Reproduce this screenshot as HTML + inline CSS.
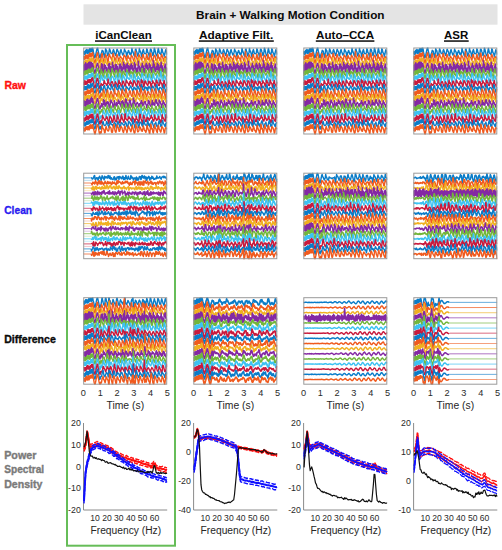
<!DOCTYPE html>
<html><head><meta charset="utf-8"><style>
html,body{margin:0;padding:0;background:#fff;width:502px;height:550px;overflow:hidden}
svg text{font-family:"Liberation Sans",sans-serif}
</style></head><body>
<svg width="502" height="550" viewBox="0 0 502 550" style="position:absolute;left:0;top:0">
<rect x="83.5" y="4.3" width="414" height="20.4" fill="#e4e4e4"/>
<text x="290.3" y="19" font-size="11.8" font-weight="bold" text-anchor="middle" fill="#0a0a0a" textLength="188.5" lengthAdjust="spacingAndGlyphs">Brain + Walking Motion Condition</text>
<text x="123.5" y="38.6" font-size="10.8" font-weight="bold" text-anchor="middle" fill="#0a0a0a" textLength="56.4" lengthAdjust="spacingAndGlyphs">iCanClean</text>
<rect x="95" y="40.3" width="57" height="1.5" fill="#0a0a0a"/>
<text x="236.2" y="38.6" font-size="10.8" font-weight="bold" text-anchor="middle" fill="#0a0a0a" textLength="74.3" lengthAdjust="spacingAndGlyphs">Adaptive Filt.</text>
<rect x="198.8" y="40.3" width="75" height="1.5" fill="#0a0a0a"/>
<text x="345.1" y="38.6" font-size="10.8" font-weight="bold" text-anchor="middle" fill="#0a0a0a" textLength="58.1" lengthAdjust="spacingAndGlyphs">Auto&#8211;CCA</text>
<rect x="315.8" y="40.3" width="58.6" height="1.5" fill="#0a0a0a"/>
<text x="456.1" y="38.6" font-size="10.8" font-weight="bold" text-anchor="middle" fill="#0a0a0a" textLength="24.3" lengthAdjust="spacingAndGlyphs">ASR</text>
<rect x="444" y="40.3" width="24.7" height="1.5" fill="#0a0a0a"/>
<g font-weight="bold" stroke-width="0.35">
<text x="4.4" y="88.6" font-size="11" fill="#ff1010" stroke="#ff1010" textLength="21.5" lengthAdjust="spacingAndGlyphs">Raw</text>
<text x="4.2" y="213.7" font-size="10.6" fill="#2a1cf0" stroke="#2a1cf0" textLength="27.9" lengthAdjust="spacingAndGlyphs">Clean</text>
<text x="4.2" y="342.8" font-size="10.3" fill="#0a0a0a" stroke="#0a0a0a" textLength="51.6" lengthAdjust="spacingAndGlyphs">Difference</text>
<text x="4.2" y="458.6" font-size="10.3" fill="#7a7a7a" stroke="#7a7a7a" textLength="32.2" lengthAdjust="spacingAndGlyphs">Power</text>
<text x="4.2" y="473.1" font-size="10.3" fill="#7a7a7a" stroke="#7a7a7a" textLength="40" lengthAdjust="spacingAndGlyphs">Spectral</text>
<text x="4.2" y="487.6" font-size="10.3" fill="#7a7a7a" stroke="#7a7a7a" textLength="38.2" lengthAdjust="spacingAndGlyphs">Density</text>
</g>
<path d="M84.2 180.4H92.7" stroke="#0a7cc8" stroke-opacity="0.3" stroke-width="0.9"/>
<path d="M84.2 185.5H92.7" stroke="#f05a1e" stroke-opacity="0.3" stroke-width="0.9"/>
<path d="M84.2 190.6H92.7" stroke="#f0b020" stroke-opacity="0.3" stroke-width="0.9"/>
<path d="M84.2 195.7H92.7" stroke="#8428a4" stroke-opacity="0.3" stroke-width="0.9"/>
<path d="M84.2 200.7H92.7" stroke="#72b63a" stroke-opacity="0.3" stroke-width="0.9"/>
<path d="M84.2 205.8H92.7" stroke="#3cc2f2" stroke-opacity="0.3" stroke-width="0.9"/>
<path d="M84.2 210.9H92.7" stroke="#c81a3c" stroke-opacity="0.3" stroke-width="0.9"/>
<path d="M84.2 215.9H92.7" stroke="#0a7cc8" stroke-opacity="0.3" stroke-width="0.9"/>
<path d="M84.2 221.0H92.7" stroke="#f05a1e" stroke-opacity="0.3" stroke-width="0.9"/>
<path d="M84.2 226.1H92.7" stroke="#f0b020" stroke-opacity="0.3" stroke-width="0.9"/>
<path d="M84.2 231.2H92.7" stroke="#8428a4" stroke-opacity="0.3" stroke-width="0.9"/>
<path d="M84.2 236.2H92.7" stroke="#72b63a" stroke-opacity="0.3" stroke-width="0.9"/>
<path d="M84.2 241.3H92.7" stroke="#3cc2f2" stroke-opacity="0.3" stroke-width="0.9"/>
<path d="M84.2 246.4H92.7" stroke="#c81a3c" stroke-opacity="0.3" stroke-width="0.9"/>
<path d="M84.2 251.5H92.7" stroke="#0a7cc8" stroke-opacity="0.3" stroke-width="0.9"/>
<svg x="83.2" y="47.5" width="84.0" height="87.0" viewBox="83.2 47.5 84.0 87.0" overflow="hidden"><g fill="none" stroke-linejoin="round"><path stroke="#0a7cc8" stroke-width="1.4" d="M83.2 54.1l.5-2.5.5 3.2.5-3.3.5 2.6.5-3.9.5 2.7.5-3.4.5 3.8.5-3.3.5 3.2.5-3.3.5 2.6.5-4.1.5 3.6.5-3.4.5 3.1.4-3.4.5 2.9.5-3.4.5 1.9.5 3.6.5 1.8.5 2.6.5-.3.5-2 .5-2.4.5-2.5.5-2.1.5-1.1.5 3.3.5 2 .5 2.4.5 2.5.5 .2.5-2.5.5-1.5.5-1.1.5-2.3.5 .4.5 .4.5 3 .5 1.3.5 1.9.5-3.6.5-5.1.5 1.3.5 .6.5 2.3.5 2.7.5-.8.4-.2.5-2.7.5-3.1.5 1.3.5 1.5.5 1.9.5 .2.5-.3.5 .6.5-3.3.5-1 .5 1.3.5 2 .5 .5.5 1.9.5-.7.5-3.3.5-2.2.5 1 .5 1.3.5 .9.5 3.4.5 .1.5-2.1.5-3.3.5-.9.5 2.2.5 1 .5 2 .5 .4.5-1 .5-1.9.5-3.2.5 1.8.4 .2.5 .9.5 2.6.5 2.1.5-3.8.5-.5.5-1.8.5 .5.5 3 .5-1 .5 1.9.5 0 .5-1.9.5-4.9.5 2.5.5 1.3.5 1.1.5 2.2.5 1 .5-1.5.5-5.2.5-.6.5 2.5.5 .7.5 3 .5 1 .5-2 .5-1.7.5-4.2.5 3.5.5-.6.5 1.9.5 2.5.5 1.4.4-3.2.5-3 .5-1.2.5 1.7.5 2.4.5 0 .5 0 .5 .2.5-1.6.5-3.5.5 1 .5 2.9.5 .5.5 1.4.5 2.8.5-3.1.5-4.5.5-.7.5 1 .5 1.9.5 1.2.5 2.4.5-.3.5-2.5.5-5 .5 1.6.5 2 .5 2.4.5 1.4.5 .8.5-.7.5-4.3.5-2.7.5 2.3.4 2 .5 1 .5-.1.5 1.1.5-1.7.5-4.1.5 .8.5 2.6.5 1.1.5 .9.5 2.3.5-1.9.5-2.5.5-2.2.5 .8.5 1.8.5 2.2"/><path stroke="#f05a1e" stroke-width="1.4" d="M83.2 59.6l.5-3.2.5 3.3.5-3 .5 2.3.5-4 .5 3.1.5-2.8.5 3.5.5-3.9.5 3.7.5-3.8.5 2.1.5-3.6.5 3.6.5-3.3.5 3.4.4-3.6.5 2.4.5-3.3.5 2.7.5 2.6.5 2.5.5 2.3.5 .6.5-2.8.5-2.2.5-2.6.5-2.4.5-.4.5 2.6.5 2.2.5 2.5.5 2.5.5 .4.5-2.9.5-1.8.5-3.7.5-1.2.5 2.5.5 3.2.5 1.4.5 2.1.5-2 .5-3.1.5-2.7.5 1 .5 .2.5 3.7.5 3.6.5 2.1.4-7 .5-3.6.5-.6.5 2.3.5 .5.5 1.3.5 1.2.5 1 .5-4.1.5-2.9.5 .4.5 3.2.5 1.2.5 2.7.5 1.1.5-3.8.5-2.7.5-1.3.5 2.1.5 1.2.5 3 .5 .6.5-2.9.5-.7.5-1.5.5 1.5.5 .2.5 .7.5 2.1.5 2.2.5-4.1.5-3.7.5 .4.5 1.2.4-.4.5 2.5.5 1.9.5 .3.5-4.4.5-1 .5 1.1.5 1.7.5-.2.5 1 .5 2.7.5-4.2.5-2.5.5 1.2.5 .5.5 1 .5 2.4.5 1.1.5 0 .5-4.5.5-5.5.5 4.7.5 .8.5 1.7.5 1.7.5 2.5.5-5 .5-2.8.5 .3.5 1.7.5 .6.5 .5.5 2 .5-.2.4-2.6.5-2.6.5-.2.5 3.1.5 .9.5 1 .5 3.4.5-3.3.5-3.4.5-2 .5 2.3.5 2.9.5-1.3.5 1.4.5 1.3.5-4.1.5-3.4.5 .2.5 3.3.5 2.7.5 1.7.5-.6.5-1.9.5-2.2.5-.7.5-.5.5 1.8.5 3.1.5 .6.5 0 .5-2.5.5-4 .5 1.7.5 2.3.4-.6.5 2.5.5 .9.5-1.3.5-4.4.5-.9.5 1.3.5 1.6.5 1.9.5 1.9.5-1.8.5-1.8.5 .3.5-1.2.5 1 .5 .2.5 1.9"/><path stroke="#f0b020" stroke-width="1.4" d="M83.2 65.7l.5-3.8.5 3 .5-3.6.5 2.5.5-3.7.5 3.3.5-3.1.5 3.6.5-3.7.5 3 .5-3.4.5 2.3.5-3.8.5 3.9.5-3.3.5 3.2.4-3.8.5 2.8.5-3 .5 2.4.5 2.2.5 2.5.5 1.9.5 .4.5-2.7.5-2 .5-2 .5-2.5.5-.4.5 2.4.5 2.4.5 2.9.5 1.7.5 .7.5-2.6.5-3.7.5-2.3.5 .5.5 1.8.5 3.3.5 1.5.5-2.8.5-.8.5-4.3.5 2.9.5 1.5.5 .2.5 1.4.5 .6.5-3.1.4-.1.5 0 .5 0 .5-.2.5 2.7.5 .3.5-.5.5-2.8.5-3.8.5 3 .5 .8.5 2.4.5 1.2.5 1.3.5-2.5.5-3.4.5-.7.5 .8.5 2.6.5 1.2.5 .2.5-.3.5-1.8.5-3.4.5 .9.5 1.5.5 1.4.5 2.4.5-.5.5 .1.5-4.4.5 .4.5 1.7.5 .3.4 1.1.5 1.3.5-.1.5-2.2.5-2.9.5 .9.5 2.2.5 .9.5 0 .5 1.4.5-1.6.5-1.4.5-1.5.5 1.3.5 0 .5 1.4.5 2 .5-.9.5-2.7.5-2.5.5 .9.5 1.2.5 3.1.5-.6.5 .9.5 .7.5-6.5.5-1.9.5 3.5.5 1.7.5 1.8.5 1.5.5-.2.5-2.9.4-1.8.5 .2.5 .3.5 1.6.5 1.9.5 1.4.5-1.9.5-3.5.5-1.7.5 2 .5 1.1.5 .9.5 1.3.5 1.3.5-4.2.5-1.3.5-.4.5 1.5.5 2.7.5 1.2.5 .3.5-.9.5-2.3.5-2 .5 .4.5 2.6.5-.7.5 4.3.5-2 .5-2.9.5-2.7.5 1.1.5 2 .5 .7.4 .8.5 1.2.5-2 .5-2.5.5-1 .5 .1.5 3.6.5-.1.5 .6.5 1.7.5-2.4.5-4.9.5 .8.5 1.7.5 1.9.5 0 .5 2.4"/><path stroke="#8428a4" stroke-width="1.4" d="M83.2 73.7l.5-8 .5 4.9.5-6.4.5 6.4.5-7.8.5 7.6.5-6.3.5 6.8.5-7.2.5 5.7.5-7 .5 6.7.5-7.1.5 6 .5-5.9.5 7.2.4-6.6.5 5.8.5-5.1.5 2 .5 2.6.5 2.5.5 2.7.5 0 .5-3 .5-1.6.5-2.8.5-2.1.5-.5.5 2.3.5 2.1.5 2.9.5 2.6.5-.4.5-2.4.5-2.6.5-3.9.5 7.2.5-6.6.5 8.6.5-2.3.5 .4.5-6.7.5 3.7.5-2.4.5 4.8.5-2.9.5 4.6.5-3.1.5 1.4.4-6.3.5 5.2.5-5.9.5 7.7.5-4.5.5 7.7.5-7.4.5 .6.5-5.5.5 7.1.5-3.7.5 7.2.5-3.5.5 1.5.5-6.3.5 5.2.5-4.9.5 4.9.5-3.1.5 7 .5-3.4.5 .3.5-6 .5 3.7.5-4.2.5 6.5.5-4 .5 6.9.5-5.3.5 1.6.5-7.3.5 6.1.5-4 .5 6.9.4-5.2.5 6.1.5-7.4.5 2.4.5-4 .5 5.8.5-3.2.5 7.5.5-6.9.5 6.5.5-7.7.5 3.5.5-5.1.5 5.4.5-3.2.5 5.2.5-2.3.5 3.3.5-9.5.5 5.6.5-3.9.5 7.5.5-3.2.5 4 .5-4.6.5 3.6.5-10.4.5 6.7.5-1.7.5 5.4.5-3.2.5 3.5.5-5.5.5 1.4.4-4.4.5 4.5.5-1.9.5 6.4.5-3.5.5 4.3.5-8 .5 1.4.5-3.4.5 5.3.5-3.4.5 4.9.5-1.1.5 2.8.5-8.1.5 3.5.5-2.1.5 5.8.5-3.2.5 5 .5-5.6.5 4.2.5-10.3.5 6.9.5-3.5.5 7 .5-3.1.5 3.8.5-5.2.5 2.7.5-6.2.5 6.6.5-5.3.5 6.5.4-3.7.5 6 .5-7.8.5 1.6.5-5 .5 9 .5-5.4.5 5.8.5-1.6.5 2.3.5-5.4.5-.2.5-2.7.5 7.7.5-4 .5 7.3.5-7.1"/><path stroke="#72b63a" stroke-width="1.4" d="M83.2 76.1l.5-4 .5 3 .5-3.9.5 3.3.5-3.7.5 2.7.5-2.8.5 3.4.5-4.2.5 3.3.5-4.2.5 3.4.5-3 .5 2.9.5-2.7.5 3 .4-4.3.5 2.7.5-3.4.5 3 .5 2.4.5 2.5.5 2.4.5 .5.5-2.5.5-2.8.5-1.9.5-2.9.5 0 .5 2.2.5 2.1.5 2.5.5 3.2.5-.2.5-2.8.5-6 .5 3.2.5-.9.5 3 .5 2 .5 .5.5-2.8.5-3.8.5-.1.5 1.6.5 1.1.5 2.3.5 2.3.5-2.9.5-3.6.4-1.7.5 1.5.5 1.5.5 .9.5 1.6.5 4.1.5-6.1.5-4.6.5 2.2.5 .5.5 2.7.5 .9.5 2.2.5-3 .5-2 .5-1.8.5 .7.5 2 .5 2.7.5 2.2.5-1.9.5-3 .5-3 .5 1 .5 .1.5 2.4.5 2.4.5 2.9.5-2.9.5-4.5.5 0 .5 .3.5 2.9.5-.4.4 1.7.5-.2.5-1.9.5-4.1.5 .9.5 2.4.5 .6.5 .7.5 1.4.5 .4.5-4.2.5-.6.5 1.2.5 1.3.5-1.2.5 .7.5 4.9.5-5.9.5-1.5.5 0 .5 1.3.5 1.4.5 .6.5 2.5.5-1.7.5-2.2.5-.2.5-.3.5 1.3.5 2 .5 0 .5 1.8.5-4 .5-4.7.4 .5.5 3 .5 2.5.5 .3.5 1 .5-1.2.5-2.1.5-3.1.5 1.5.5 1.4.5 2.8.5 2.5.5 .3.5-4.9.5-4 .5 1.3.5 2.7.5 .2.5 4.6.5 .3.5-1.8.5-4.4.5-3.2.5 2.4.5 1.7.5 .7.5 1.1.5 .7.5-.9.5-1.3.5-1.9.5-.2.5 2.1.5 .7.4 2.5.5-.7.5-3.5.5-3.3.5 1.6.5 1.6.5 3.3.5 0 .5 3.8.5-4.3.5-4.6.5-1.3.5 2.9.5 1.3.5 .8.5 2.3.5-1.5"/><path stroke="#3cc2f2" stroke-width="1.4" d="M83.2 80.9l.5-3.8.5 2.6.5-3.7.5 3 .5-2.9.5 2.9.5-2.9.5 3 .5-3.3.5 2.3.5-3.9.5 3.2.5-2.6.5 2.7.5-3.2.5 2.8.4-3.9.5 2.8.5-2.8.5 2.2.5 3.1.5 2 .5 2.3.5 .1.5-2 .5-2.2.5-2.8.5-1.7.5-.3.5 2 .5 2.5.5 2.1.5 2.7.5-.5.5-2.4.5-5 .5 .9.5 1.1.5 2.8.5 .3.5 .2.5-1.9.5-3.1.5 .5.5 2 .5 .2.5 1.3.5 1 .5-1.6.5-1.6.4-3.2.5 3.1.5 0 .5 2.9.5 3.9.5-3.1.5-3.6.5-1.1.5 0 .5 .9.5 1 .5 1.8.5 2.2.5-2.4.5-2.1.5-2.7.5 1.6.5 .7.5 3.9.5 1.7.5 1.6.5-7.1.5-3.8.5 .1.5 2.9.5 2.4.5 1.3.5 2.2.5-3.2.5-4.1.5 .6.5 .9.5 1.8.5 1 .4 2.4.5 .8.5-4.9.5-5.2.5 5.1.5 .5.5-.2.5 1.3.5 .1.5-.4.5-3.6.5-.5.5 .3.5 3.2.5 1.5.5 2.7.5-.2.5-4.2.5-4 .5 1.4.5 1.7.5 2.4.5 1.6.5 .5.5-2.5.5-2.6.5-.3.5 2 .5-.2.5 2.1.5 1 .5 .9.5-5.1.5-3.6.4 .2.5 1.2.5 3.5.5 2.2.5 2.9.5-3.9.5-2 .5-3 .5 2 .5 1.1.5 1.6.5 2.6.5 .6.5-5 .5-3.6.5 2.2.5 1.1.5 1.2.5 2.6.5 .3.5-2.2.5-2.6.5-2.6.5 1.9.5 2.6.5 .5.5 1.5.5 1.4.5-3.2.5-3 .5-.5.5 2 .5 1.3.5 2.5.4 2.4.5-3.6.5-3.2.5-5.1.5 3.2.5 1.8.5 3.9.5 .6.5 0 .5-.9.5-3.7.5-.5.5 .8.5 2.2.5 1.5.5 3 .5-2.9"/><path stroke="#c81a3c" stroke-width="1.4" d="M83.2 85.5l.5-3.4.5 2.7.5-4.1.5 3.7.5-3.2.5 3.2.5-3 .5 2.4.5-3.9.5 2.7.5-3 .5 2.8.5-2.9.5 3.6.5-3.5.5 2.5.4-3.9.5 2.4.5-2.8.5 2.7.5 2.3.5 2.6.5 2.5.5 .2.5-2.3.5-2.4.5-2.5.5-2.4.5-.1.5 2.3.5 2.9.5 2.2.5 2 .5 .8.5-2.7.5-2.4.5 1.5.5-.6.5 1 .5-.2.5-1.3.5-3.3.5 1 .5 1.9.5 .1.5 0 .5 1.6.5-.1.5-1.9.5-4.3.4 3 .5 1.3.5 1.2.5 .8.5 .7.5-2.9.5-.8.5-.7.5 .7.5 1.7.5 1.8.5 .5.5-.9.5-2.2.5-1.5.5 1.5.5 .3.5 1.6.5 1.9.5-.6.5-3.2.5-2.8.5 3 .5-.8.5 .9.5 2.4.5-.2.5 1.2.5-4.9.5-.9.5 .5.5 1.7.5 1.6.5 1.5.4-.3.5-3 .5-2.7.5 1.1.5 1 .5 .7.5 .2.5 2.3.5-.6.5-3.3.5-.9.5 2.4.5-.6.5 1.1.5 2.5.5 0 .5-2.7.5-2.8.5 .2.5 1.1.5 1.3.5 1.7.5 1.2.5-.4.5-2.7.5-2.5.5 .9.5-.1.5 3.5.5 1.2.5 1.5.5-3 .5-5 .5 .8.4 2 .5-1.3.5 4.6.5 1.3.5-1.8.5-3.6.5-.7.5 .5.5 2.2.5 .3.5 1.2.5 .6.5-2.1.5-2.5.5 .4.5 1.6.5-1.1.5 3.6.5 2 .5-3.8.5-.5.5-2.6.5 1.7.5 .5.5 .3.5 2.4.5 1.1.5-2.5.5-3.9.5-.1.5 2.6.5-.4.5 2.9.5-.4.4 .8.5-1.4.5-4.3.5 1.8.5 1.3.5 .3.5 3 .5 1.2.5-3.7.5-1.7.5-1.7.5 3.4.5 .4.5 .7.5 1.8.5-2 .5-2.9"/><path stroke="#0a7cc8" stroke-width="1.4" d="M83.2 90.9l.5-4 .5 2.9.5-3.6.5 3.3.5-2.7.5 2.8.5-3.5.5 3.3.5-4.6.5 3.2.5-3.2.5 3.2.5-2.5.5 2.5.5-4.2.5 3.7.4-3.5.5 1.9.5-2.6.5 2.7.5 2.2.5 2.5.5 2 .5 .3.5-1.6.5-2.8.5-2.1.5-3 .5 .1.5 2.6.5 2.1.5 2.5.5 2 .5-.2.5-2.1.5-4.2.5 2.3.5 1.3.5 .3.5 .9.5-4.6.5 .1.5-1.1.5 3.1.5 .4.5 2.2.5 3 .5-4.3.5-4.3.5 .1.4 1.7.5 .8.5 .3.5 .6.5 .8.5-1.5.5-3.6.5 1.2.5 1 .5 2.8.5-.1.5 2.2.5-2.6.5-4 .5-.7.5 2 .5 1.5.5 1.3.5 .4.5 .6.5-2.9.5-2.4.5 1.3.5 2.3.5 0 .5 1.2.5 1.1.5-1.5.5-3.6.5-.2.5 2.1.5 2 .5 1 .5 .1.4-.3.5-2.4.5-2 .5 1.7.5-.3.5 1 .5 .3.5 1.4.5-1.2.5-1.5.5-1.7.5 .6.5 .8.5 1.5.5 1.4.5 1.5.5-2 .5-2.5.5 .3.5 .1.5 1.9.5-.5.5 .9.5 .5.5-4.5.5 .4.5 .6.5 1.9.5-.2.5 3.3.5-.2.5-3.1.5-4.2.5 1.7.4 .3.5 3.4.5-.3.5 1 .5-.7.5-2.6.5-.3.5 .5.5 1.4.5-1.4.5 3.3.5-.1.5-3.1.5-1 .5 1.4.5-.9.5 1.8.5 .6.5 2.3.5-3.3.5-1.2.5-1.3.5 1.2.5 .4.5 1.5.5 1.3.5 .8.5-2.8.5-2.4.5-1.3.5 2.2.5 2 .5 1.8.5 1.5.4-2.9.5-1.6.5-.2.5 .5.5 .1.5 1.3.5 1 .5 2.7.5-4.3.5-4 .5 .7.5 2.8.5 1.4.5 2.1.5 1.2.5-3.4.5-2.7"/><path stroke="#f05a1e" stroke-width="1.4" d="M83.2 95.6l.5-3.7.5 3 .5-2.9.5 3.5.5-3.7.5 3.2.5-3.7.5 2.1.5-4.1.5 4.1.5-3 .5 3 .5-3.3.5 3.2.5-4.2.5 2.9.4-3.6.5 3.4.5-3.4.5 2.2.5 2.5.5 2.8.5 2.5.5 .5.5-3.1.5-2.4.5-2.3.5-2 .5-.3.5 2 .5 2.8.5 2.3.5 2.5.5 0 .5-2.7.5-2.8.5 2.7.5 .7.5-.9.5-4.1.5-1.9.5 1.9.5 2.6.5 .4.5 2 .5 .7.5-2.5.5-3.8.5-.8.5 3.8.4 .4.5 1.7.5 1.8.5-2.1.5-3.2.5-1 .5 .9.5 2.1.5 1.2.5 2.3.5 1 .5-4.1.5-6.6.5 4.1.5 1.6.5-.2.5 1.7.5 1.1.5-.7.5-4.2.5-.8.5 1.3.5 2.1.5 1.1.5 1 .5 2.1.5-4.6.5-4.2.5 .7.5 2.6.5 1.8.5 .1.5 1.8.5-2.3.4-2.9.5-2.7.5 2.5.5 2.1.5 .9.5 3.3.5-1.2.5-1.5.5-3.3.5-.8.5 .7.5 2.8.5 2.1.5 .2.5 0 .5-4.8.5-.8.5 .2.5 2.9.5 1.3.5 .8.5 1 .5-2.8.5-4 .5 .6.5 1.5.5 2.3.5-.5.5 1.8.5 .7.5-5.5.5-3.5.5 3.2.5 1.6.4 1.6.5 1.7.5 4 .5-5.9.5-2.9.5-.8.5 1.7.5 3.1.5 .3.5 1.8.5-3.1.5-2.2.5 .1.5 .5.5 2 .5 .1.5 .3.5 2.8.5-5.3.5-3.3.5 1 .5 .8.5 2.2.5 3 .5 1.9.5-.1.5-6.7.5-2.2.5 3 .5 1.8.5 1.5.5 1.1.5 1.5.5-3.2.4-3.8.5 .1.5 1 .5 1.6.5 3.4.5 1.8.5-3.7.5-2.6.5-3.2.5 .9.5 1.9.5 2.6.5 2.6.5 2.6.5-6 .5-3 .5-1.7"/><path stroke="#f0b020" stroke-width="1.4" d="M83.2 100.7l.5-3.7.5 3.3.5-3.8.5 3.5.5-3.2.5 3.5.5-4.7.5 3.1.5-3.4.5 3.1.5-3.4.5 3.6.5-2.9.5 2.4.5-3.6.5 2.4.4-2.7.5 2.6.5-3.5.5 2.6.5 2.4.5 2.7.5 2.3.5 .2.5-1.4.5-3.4.5-2.5.5-2.4.5 .3.5 2.3.5 2.1.5 2.3.5 3.3.5-1 .5-2.4.5-2.6.5 1.3.5 .9.5 .7.5-4.4.5-3.5.5 2 .5 3.2.5 1 .5 2 .5 1 .5-2.2.5-4.9.5-2 .5 2.4.4 2.1.5 2.5.5 1.2.5 0 .5-3.2.5-3.3.5 1.6.5 .6.5 1.9.5 1.7.5 .9.5-2.7.5-1.6.5 0 .5 1.3.5 1.2.5-.2.5 1.4.5 .3.5-3.1.5-5.5.5 2.7.5 1.2.5 2.3.5 2.4.5-1.5.5-.9.5-1.9.5-.9.5 .9.5 2.1.5 1.6.5 1.4.5-.9.4-3 .5-3.8.5 2.4.5 .9.5 0 .5 2.8.5-.1.5-.5.5-.3.5-1.8.5 .5.5 .9.5-.1.5 1 .5-.8.5-1.6.5-2.4.5 .3.5 3 .5 .7.5 1.3.5 1.1.5-3.8.5-.7.5-2.3.5 3.4.5 .7.5-.5.5 .7.5 1.5.5-2.5.5-2.9.5 1.4.5 1.8.4 1.4.5 1.6.5 2.2.5-2.6.5-6 .5 .1.5 1.9.5 2.6.5-1.8.5 3.2.5-.8.5-1.9.5-1 .5-1.5.5 1.3.5 1.2.5 3.1.5 2.2.5-4.1.5-3.7.5-1.4.5 .8.5 2.2.5 2.5.5 2.8.5-1.4.5-2.6.5-4.3.5 1.5.5 .5.5 2.3.5 .2.5 2.5.5-4.2.4 0 .5-2.9.5 .5.5 3.4.5 .8.5 1.8.5 1.3.5-3 .5-2.9.5 1.6.5-.2.5 1.8.5 .6.5 1.9.5-1.6.5-3.4.5-1.5"/><path stroke="#8428a4" stroke-width="1.4" d="M83.2 106.6l.5-5.6.5 4.5.5-4.5.5 5.7.5-4.9.5 3.7.5-5.9.5 5 .5-5.7.5 5.4.5-4.1.5 3.8.5-4.1.5 3.8.5-5 .5 3.2.4-4.6.5 5 .5-3.5.5 2.5.5 2.5.5 2.3.5 2.3.5 .2.5-2 .5-3.2.5-2 .5-2.5.5-.4.5 2.5.5 2.6.5 2.8.5 2.4.5 .1.5-2.9.5-.2.5-2.3.5 3.7.5-2.2.5-1.1.5-4.4.5 5.4.5-4.1.5 5.7.5-3.2.5 2.2.5-3.2.5 1.8.5-2.5.5 1.8.4-1.2.5 4.8.5 .9.5-2.1.5-4.2.5-1.6.5 1.5.5 1.4.5 .1.5 4.3.5-1.9.5 1 .5-5.7.5 5.2.5-1.6.5 1.1.5-3 .5 3.8.5-2.3.5-.7.5-3.3.5 3.4.5-1.9.5 3.3.5-.7.5 2.8.5-5.2.5 2.3.5-3.3.5 4 .5-2.5.5 4.9.5-1.9.5 2.1.4-7.3.5-1.1.5 1.1.5 4.2.5-1.3.5 4.6.5 .4.5-3.3.5-3.5.5-1.1.5 .8.5 5.1.5-.5.5 1.7.5-3.5.5 1.4.5-6.9.5 5.3.5-2.8.5 3.2.5 1.9.5 .9.5-3.2.5 .1.5-1 .5 1.2.5 .9.5 2.4.5-3.2.5 2.2.5-2.2.5-1.7.5-1.6.5 3.8.4-1.7.5 3.5.5-1 .5-.1.5-3 .5 .6.5-1.2.5 2.9.5 .8.5 3 .5-3.4.5 1 .5-5.4.5 3 .5-2.1.5 3.5.5 1.1.5 .5.5-1.2.5-1.1.5-3.7.5 5.1.5-2.7.5 1.7.5-.7.5 1.9.5-3.8.5-2 .5 0 .5 3.6.5-.6.5 2.9.5-.4.5 1.1.4-6.4.5 1.2.5 .5.5 2.3.5 .7.5 3.1.5-3.9.5 .8.5-3.9.5 2.3.5-.3.5 2.2.5-.1.5 2.2.5-3 .5-1.2.5-2.6"/><path stroke="#72b63a" stroke-width="1.4" d="M83.2 111l.5-4.5.5 3.1.5-2.5.5 3.6.5-3.5.5 3.1.5-4.2.5 3 .5-3.7.5 3.2.5-3.7.5 4 .5-3.3.5 3 .5-3.8.5 2.3.4-2.9.5 3.2.5-3.8.5 2.6.5 2.2.5 1.8.5 3.5.5-.1.5-1.9.5-2.7.5-2.2.5-2.7.5-.1.5 2.3.5 2.4.5 2.8.5 2.4.5-.5.5-2 .5-.8.5-.9.5 2.5.5-.1.5-5 .5-.4.5 1.5.5 .2.5 1.4.5 .9.5 2.5.5-4.1.5-3.8.5 2.5.5 .3.4 1.3.5 1.6.5 1.4.5-1.3.5-5.2.5 0 .5 2 .5 1.3.5 .7.5 1.8.5 .7.5-3.6.5-2.1.5-.8.5 2.8.5 1.4.5-.1.5 2.4.5-1.5.5-5 .5 .3.5 1.6.5 1.5.5 1.7.5 1.5.5-1.4.5-3.6.5-3.5.5 2 .5 2.2.5 .6.5 1.1.5 2.5.5-1.2.4-3.6.5-3.7.5 3.3.5 .1.5 2.3.5 1.6.5 0 .5-3.1.5-3.3.5 1.5.5 1.5.5 2.2.5 .2.5 1.5.5-.8.5-4.1.5-2.9.5 2.6.5 2.1.5 .9.5 3 .5-.9.5-3.8.5-2 .5 .9.5 .9.5 1.7.5 1.5.5 3.3.5-1.6.5-6.2.5-1.5.5 1.6.5 2.9.4 0 .5 1.1.5-1.2.5-.3.5-2.7.5 1.2.5 1.8.5 .1.5 .2.5 1.5.5 0 .5-3.8.5-1.6.5 1.5.5 .7.5 .6.5 3 .5 1.1.5-3.5.5-3.2.5 1.5.5 .9.5 .8.5 1.3.5 2.4.5-1.4.5-3.8.5-1.1.5 0 .5 3 .5 .3.5 .5.5 2.2.5-2.6.4-3.8.5-.2.5 1.2.5 2.8.5 1.5.5 1 .5-1.2.5-3 .5-3 .5 1.3.5 2.4.5 1.2.5 1.4.5 1.3.5-3.6.5-3.6.5 .5"/><path stroke="#3cc2f2" stroke-width="1.4" d="M83.2 115.4l.5-3.2.5 3.4.5-3.8.5 4 .5-3.8.5 3.5.5-4.2.5 2.2.5-2.1.5 2.9.5-3.1.5 2.8.5-2.9.5 2.4.5-4 .5 2.9.4-3.1.5 3.1.5-3.5.5 2.4.5 2.1.5 3.1.5 2.6.5-.2.5-2.4.5-2.1.5-2.9.5-1.8.5-.3.5 2.2.5 2.3.5 3 .5 2.2.5-.2.5-2.6.5-.8.5 .9.5 1.2.5-2.2.5-3.8.5-.9.5 2.1.5 .9.5 .8.5 3.1.5 .5.5-3.8.5-3.8.5 1.5.5 1.3.4 .9.5 2.2.5 2.4.5-2.2.5-5.1.5-2.7.5 2.8.5 2.4.5 1 .5 1.2.5-.8.5-1.3.5-1.5.5-.1.5 .8.5 1.7.5 2.2.5 2.7.5-4.7.5-4.3.5-.3.5-.3.5 4 .5 1.3.5 2.2.5-.4.5-3.1.5-1.1.5 .5.5 .5.5 .3.5 .5.5 3.2.5-2.3.4-3.9.5-2.5.5 2.3.5 2.5.5 2.3.5-.4.5 1.4.5-4.6.5-2.7.5 2.3.5 .8.5 .5.5 2.3.5 3.1.5-3.5.5-4.5.5-1.7.5 2.6.5 .8.5 2.4.5 .9.5 0 .5-2.5.5-2.7.5-2.2.5 3.8.5 1.9.5 3.8.5 1.6.5-3.7.5-5.9.5-2.1.5 3.1.5 2.9.4 .7.5 3 .5-.3.5-4.4.5-1.6.5-1.1.5 2.3.5 1.1.5 2.2.5 2.1.5-3.5.5-1.7.5-3.3.5 1.2.5 3.2.5 1.6.5 2.2.5-1.9.5-1 .5-5.1.5 .7.5 2.1.5 1.3.5 2.6.5 .5.5-2.1.5-3.6.5 .3.5 .2.5 1.3.5 .8.5 3.9.5 0 .5-3.7.4-4.8.5 1.1.5 1.1.5 3 .5 1.6.5 1.6.5-2.1.5-3.3.5-4 .5 2.3.5 1.7.5 2.5.5 2.7.5 .5.5-5 .5-2.1.5 .4"/><path stroke="#c81a3c" stroke-width="1.4" d="M83.2 121.3l.5-3.2.5 3.1.5-3.3.5 2.8.5-3.4.5 2.5.5-4.1.5 3.3.5-2.6.5 3.6.5-3.7.5 2.2.5-3.5.5 2.6.5-3 .5 3.2.4-3.5.5 4.1.5-4.2.5 2.2.5 2.7.5 2.5.5 1.7.5 1.2.5-2.9.5-2.5.5-1.6.5-3.2.5-.3.5 2.5.5 2.5.5 2.1.5 2.4.5 .6.5-2.9.5-.8.5 2.4.5-3.5.5-3.8.5 1.7.5 .8.5 .9.5 1.2.5 .4.5-1.4.5-.5.5-1.8.5 .2.5 2.1.5 1.6.4 2.4.5 .7.5-6.1.5-1.3.5 .5.5 .8.5 1.3.5 3.2.5 .1.5-.7.5-4.2.5-2 .5 2.1.5 2.6.5 1.1.5 .4.5 .2.5-2.8.5-4.1.5 1.8.5 1.8.5 .8.5 3.1.5 .7.5-2.1.5-3.2.5-3 .5 2.1.5 2.6.5 .7.5 1 .5 1.2.5-4 .5-4.6.4 .5.5 4.7.5 .5.5 .2.5 1.1.5-1.3.5-2.2.5-.7.5 1.7.5-.3.5 1.1.5 1.1.5-.1.5 1.4.5-4.9.5 .9.5 1.4.5-.1.5 1.1.5 2.8.5-3.1.5-1.2.5-2.2.5 3.3.5 0 .5 1.2.5 1.2.5 1 .5-5.3.5-3.4.5 .4.5 3.6.5 1.7.5 1.6.4 4 .5-4.6.5-3.1.5-2.7.5 1.7.5 1.2.5 3.5.5-1 .5 .9.5-2.7.5-1.6.5 2 .5-1.1.5 1.4.5 .9.5-1.6.5-.1.5-1 .5-2.2.5 2.3.5-.2.5 2.9.5-.4.5 1.2.5-2.3.5-3.9.5 3.3.5-.4.5 2.3.5 .3.5-.8.5-.7.5-1 .5-1.9.4 3.4.5-.1.5 .8.5 2.4.5-.5.5-2.7.5-4.7.5 2.6.5 1.2.5-.3.5 1.8.5 .8.5 .6.5-3 .5-4 .5 1.4.5 2.4"/><path stroke="#0a7cc8" stroke-width="1.4" d="M83.2 125.7l.5-3.4.5 3.6.5-2.9.5 3.1.5-3.3.5 2 .5-3.4.5 3 .5-3.3.5 3 .5-2.9.5 2.5.5-3.4.5 2.5.5-2.8.5 2.7.4-2.9.5 2.6.5-3.1.5 2.2.5 2.3.5 3.2.5 1.8.5 0 .5-1.7.5-3.4.5-2.2.5-2.6.5 1 .5 1.8.5 2.4.5 3.1.5 1.6.5 .3.5-2.7.5 1.3.5 1 .5-2.8.5-3.1.5-1.3.5 2.1.5 1.8.5 .1.5-.2.5 0 .5-1 .5-2.9.5 1.8.5-.3.5 2.8.4 .1.5 1.9.5-2.6.5-1.9.5-2.1.5 2.3.5 1.2.5-.2.5 1 .5 .7.5-1.9.5-.9.5-1.2.5 .9.5 .8.5 3.3.5 1.3.5-2.4.5-4.1.5-.5.5 1.8.5 1.4.5 .5.5 2.4.5-.9.5-2.8.5-1 .5 .1.5 .5.5 1.2.5 0 .5 .9.5-.5.5-1.6.4-1.7.5 1 .5 1.1.5 2.5.5 .6.5 .7.5-5.2.5-1.3.5 1.7.5-.4.5 1.6.5 1.8.5 .5.5-.4.5-3.1.5-3.4.5 3.3.5 1.3.5 1 .5 2.8.5-1.7.5-1.7.5-2.4.5-.2.5 .2.5 2.2.5 3.3.5-.5.5-2.3.5-2.6.5 0 .5 .3.5 1.2.5 1.3.4 1.2.5 .2.5-3.2.5-3.1.5 2.6.5 1.3.5 .9.5 .3.5 .3.5 .8.5-3.6.5-2.1.5 2.6.5 2.3.5-1.5.5 2.8.5 .1.5-3 .5-2 .5-1 .5 1 .5 2.4.5 1.1.5 2.2.5-2.1.5-1.6.5-.7.5-1 .5 2.4.5 1.7.5 .7.5 .2.5-3.3.5-2.1.4-1.3.5 3.2.5 .1.5 2.5.5 .5.5-.6.5-4.2.5-1.7.5 2.6.5 1 .5 .8.5 1.3.5 .8.5-2.9.5-1.1.5-.1.5 .7"/><path stroke="#f05a1e" stroke-width="1.4" d="M83.2 131l.5-3.4.5 3.5.5-3 .5 2.8.5-3.7.5 2.1.5-2.7.5 3.1.5-2.9.5 2.7.5-3.1.5 3.4.5-4.3.5 3 .5-3.9.5 3.5.4-2.9.5 3.3.5-3.8.5 2.4.5 2 .5 2.1.5 2.5.5 1.3.5-3.5.5-1.8.5-2.8.5-2.2.5 0 .5 1.9.5 2.3.5 3.1.5 2 .5-.3.5-1.9.5 1.2.5-2.6.5-5.5.5 2.3.5 1.4.5 .4.5 1.3.5 2.6.5-.3.5-4.4.5-1.8.5 1.6.5 1.4.5 1.3.5 .3.4 0 .5-1.4.5-3.4.5 .8.5 .4.5 .7.5 3.8.5 .6.5-.4.5-3.8.5-3.4.5-.7.5 3.7.5 2.7.5 1.5.5 .1.5-2.3.5-4.4.5-.3.5 2.1.5 .6.5 3.3.5 0 .5-1.3.5-2.4.5-1 .5 .6.5 .8.5 2.1.5 1.8.5 .8.5-2.2.5-3.6.5-.8.4 1.5.5 2.4.5 .3.5 2.7.5-2.1.5-2.5.5-2.4.5 1.2.5 1.4.5 .5.5 2 .5 .8.5-1.8.5-3.3.5-1.3.5 2.2.5 2.4.5 1.9.5 1.3.5-.4.5-4.1.5-4.6.5 3.8.5-1.1.5 3.9.5 1.2.5-.4.5-.8.5-3.9.5 .1.5 .5.5 1.8.5 1.5.5-1.1.4 1.8.5-1.9.5-3.6.5 1.5.5 1.8.5 1.5.5 .1.5 1.6.5-1.4.5-4.5.5-1.2.5 2.7.5 2 .5 .1.5 2.9.5 .6.5-4.8.5-4.6.5 2 .5 2.9.5-.4.5 3.3.5 1.2.5-2.3.5-4.3.5-1.7.5 3.2.5 .4.5 1.8.5 1.5.5 1 .5-5.1.5-2.2.5 1 .4 2.8.5 .5.5 1.6.5 .8.5-1.5.5-3.9.5 .1.5 .7.5 1.2.5 1.5.5 2.8.5-.4.5-4 .5-1.3.5 1 .5 0 .5 1"/></g></svg>
<rect x="83.7" y="48.0" width="83.0" height="86.0" fill="none" stroke="#9a9a9a" stroke-width="1"/>
<svg x="193.3" y="47.5" width="84.0" height="87.0" viewBox="193.3 47.5 84.0 87.0" overflow="hidden"><g fill="none" stroke-linejoin="round"><path stroke="#0a7cc8" stroke-width="1.4" d="M193.3 54.1l.5-2.5.5 3.2.5-3.3.5 2.6.5-3.9.5 2.7.5-3.4.5 3.8.5-3.3.5 3.2.5-3.3.5 2.6.5-4.1.5 3.6.5-3.4.5 3.1.4-3.4.5 2.9.5-3.4.5 1.9.5 3.6.5 1.8.5 2.6.5-.3.5-2 .5-2.4.5-2.5.5-2.1.5-1.1.5 3.3.5 2 .5 2.4.5 2.5.5 .2.5-2.5.5-1.5.5-1.1.5-2.3.5 .4.5 .4.5 3 .5 1.3.5 1.9.5-3.6.5-5.1.5 1.3.5 .6.5 2.3.5 2.7.5-.8.4-.2.5-2.7.5-3.1.5 1.3.5 1.5.5 1.9.5 .2.5-.3.5 .6.5-3.3.5-1 .5 1.3.5 2 .5 .5.5 1.9.5-.7.5-3.3.5-2.2.5 1 .5 1.3.5 .9.5 3.4.5 .1.5-2.1.5-3.3.5-.9.5 2.2.5 1 .5 2 .5 .4.5-1 .5-1.9.5-3.2.5 1.8.4 .2.5 .9.5 2.6.5 2.1.5-3.8.5-.5.5-1.8.5 .5.5 3 .5-1 .5 1.9.5 0 .5-1.9.5-4.9.5 2.5.5 1.3.5 1.1.5 2.2.5 1 .5-1.5.5-5.2.5-.6.5 2.5.5 .7.5 3 .5 1 .5-2 .5-1.7.5-4.2.5 3.5.5-.6.5 1.9.5 2.5.5 1.4.4-3.2.5-3 .5-1.2.5 1.7.5 2.4.5 0 .5 0 .5 .2.5-1.6.5-3.5.5 1 .5 2.9.5 .5.5 1.4.5 2.8.5-3.1.5-4.5.5-.7.5 1 .5 1.9.5 1.2.5 2.4.5-.3.5-2.5.5-5 .5 1.6.5 2 .5 2.4.5 1.4.5 .8.5-.7.5-4.3.5-2.7.5 2.3.4 2 .5 1 .5-.1.5 1.1.5-1.7.5-4.1.5 .8.5 2.6.5 1.1.5 .9.5 2.3.5-1.9.5-2.5.5-2.2.5 .8.5 1.8.5 2.2"/><path stroke="#f05a1e" stroke-width="1.4" d="M193.3 59.6l.5-3.2.5 3.3.5-3 .5 2.3.5-4 .5 3.1.5-2.8.5 3.5.5-3.9.5 3.7.5-3.8.5 2.1.5-3.6.5 3.6.5-3.3.5 3.4.4-3.6.5 2.4.5-3.3.5 2.7.5 2.6.5 2.5.5 2.3.5 .6.5-2.8.5-2.2.5-2.6.5-2.4.5-.4.5 2.6.5 2.2.5 2.5.5 2.5.5 .4.5-2.9.5-1.8.5-3.7.5-1.2.5 2.5.5 3.2.5 1.4.5 2.1.5-2 .5-3.1.5-2.7.5 1 .5 .2.5 3.7.5 3.6.5 2.1.4-7 .5-3.6.5-.6.5 2.3.5 .5.5 1.3.5 1.2.5 1 .5-4.1.5-2.9.5 .4.5 3.2.5 1.2.5 2.7.5 1.1.5-3.8.5-2.7.5-1.3.5 2.1.5 1.2.5 3 .5 .6.5-2.9.5-.7.5-1.5.5 1.5.5 .2.5 .7.5 2.1.5 2.2.5-4.1.5-3.7.5 .4.5 1.2.4-.4.5 2.5.5 1.9.5 .3.5-4.4.5-1 .5 1.1.5 1.7.5-.2.5 1 .5 2.7.5-4.2.5-2.5.5 1.2.5 .5.5 1 .5 2.4.5 1.1.5 0 .5-4.5.5-5.5.5 4.7.5 .8.5 1.7.5 1.7.5 2.5.5-5 .5-2.8.5 .3.5 1.7.5 .6.5 .5.5 2 .5-.2.4-2.6.5-2.6.5-.2.5 3.1.5 .9.5 1 .5 3.4.5-3.3.5-3.4.5-2 .5 2.3.5 2.9.5-1.3.5 1.4.5 1.3.5-4.1.5-3.4.5 .2.5 3.3.5 2.7.5 1.7.5-.6.5-1.9.5-2.2.5-.7.5-.5.5 1.8.5 3.1.5 .6.5 0 .5-2.5.5-4 .5 1.7.5 2.3.4-.6.5 2.5.5 .9.5-1.3.5-4.4.5-.9.5 1.3.5 1.6.5 1.9.5 1.9.5-1.8.5-1.8.5 .3.5-1.2.5 1 .5 .2.5 1.9"/><path stroke="#f0b020" stroke-width="1.4" d="M193.3 65.7l.5-3.8.5 3 .5-3.6.5 2.5.5-3.7.5 3.3.5-3.1.5 3.6.5-3.7.5 3 .5-3.4.5 2.3.5-3.8.5 3.9.5-3.3.5 3.2.4-3.8.5 2.8.5-3 .5 2.4.5 2.2.5 2.5.5 1.9.5 .4.5-2.7.5-2 .5-2 .5-2.5.5-.4.5 2.4.5 2.4.5 2.9.5 1.7.5 .7.5-2.6.5-3.7.5-2.3.5 .5.5 1.8.5 3.3.5 1.5.5-2.8.5-.8.5-4.3.5 2.9.5 1.5.5 .2.5 1.4.5 .6.5-3.1.4-.1.5 0 .5 0 .5-.2.5 2.7.5 .3.5-.5.5-2.8.5-3.8.5 3 .5 .8.5 2.4.5 1.2.5 1.3.5-2.5.5-3.4.5-.7.5 .8.5 2.6.5 1.2.5 .2.5-.3.5-1.8.5-3.4.5 .9.5 1.5.5 1.4.5 2.4.5-.5.5 .1.5-4.4.5 .4.5 1.7.5 .3.4 1.1.5 1.3.5-.1.5-2.2.5-2.9.5 .9.5 2.2.5 .9.5 0 .5 1.4.5-1.6.5-1.4.5-1.5.5 1.3.5 0 .5 1.4.5 2 .5-.9.5-2.7.5-2.5.5 .9.5 1.2.5 3.1.5-.6.5 .9.5 .7.5-6.5.5-1.9.5 3.5.5 1.7.5 1.8.5 1.5.5-.2.5-2.9.4-1.8.5 .2.5 .3.5 1.6.5 1.9.5 1.4.5-1.9.5-3.5.5-1.7.5 2 .5 1.1.5 .9.5 1.3.5 1.3.5-4.2.5-1.3.5-.4.5 1.5.5 2.7.5 1.2.5 .3.5-.9.5-2.3.5-2 .5 .4.5 2.6.5-.7.5 4.3.5-2 .5-2.9.5-2.7.5 1.1.5 2 .5 .7.4 .8.5 1.2.5-2 .5-2.5.5-1 .5 .1.5 3.6.5-.1.5 .6.5 1.7.5-2.4.5-4.9.5 .8.5 1.7.5 1.9.5 0 .5 2.4"/><path stroke="#8428a4" stroke-width="1.4" d="M193.3 73.7l.5-8 .5 4.9.5-6.4.5 6.4.5-7.8.5 7.6.5-6.3.5 6.8.5-7.2.5 5.7.5-7 .5 6.7.5-7.1.5 6 .5-5.9.5 7.2.4-6.6.5 5.8.5-5.1.5 2 .5 2.6.5 2.5.5 2.7.5 0 .5-3 .5-1.6.5-2.8.5-2.1.5-.5.5 2.3.5 2.1.5 2.9.5 2.6.5-.4.5-2.4.5-2.6.5-3.9.5 7.2.5-6.6.5 8.6.5-2.3.5 .4.5-6.7.5 3.7.5-2.4.5 4.8.5-2.9.5 4.6.5-3.1.5 1.4.4-6.3.5 5.2.5-5.9.5 7.7.5-4.5.5 7.7.5-7.4.5 .6.5-5.5.5 7.1.5-3.7.5 7.2.5-3.5.5 1.5.5-6.3.5 5.2.5-4.9.5 4.9.5-3.1.5 7 .5-3.4.5 .3.5-6 .5 3.7.5-4.2.5 6.5.5-4 .5 6.9.5-5.3.5 1.6.5-7.3.5 6.1.5-4 .5 6.9.4-5.2.5 6.1.5-7.4.5 2.4.5-4 .5 5.8.5-3.2.5 7.5.5-6.9.5 6.5.5-7.7.5 3.5.5-5.1.5 5.4.5-3.2.5 5.2.5-2.3.5 3.3.5-9.5.5 5.6.5-3.9.5 7.5.5-3.2.5 4 .5-4.6.5 3.6.5-10.4.5 6.7.5-1.7.5 5.4.5-3.2.5 3.5.5-5.5.5 1.4.4-4.4.5 4.5.5-1.9.5 6.4.5-3.5.5 4.3.5-8 .5 1.4.5-3.4.5 5.3.5-3.4.5 4.9.5-1.1.5 2.8.5-8.1.5 3.5.5-2.1.5 5.8.5-3.2.5 5 .5-5.6.5 4.2.5-10.3.5 6.9.5-3.5.5 7 .5-3.1.5 3.8.5-5.2.5 2.7.5-6.2.5 6.6.5-5.3.5 6.5.4-3.7.5 6 .5-7.8.5 1.6.5-5 .5 9 .5-5.4.5 5.8.5-1.6.5 2.3.5-5.4.5-.2.5-2.7.5 7.7.5-4 .5 7.3.5-7.1"/><path stroke="#72b63a" stroke-width="1.4" d="M193.3 76.1l.5-4 .5 3 .5-3.9.5 3.3.5-3.7.5 2.7.5-2.8.5 3.4.5-4.2.5 3.3.5-4.2.5 3.4.5-3 .5 2.9.5-2.7.5 3 .4-4.3.5 2.7.5-3.4.5 3 .5 2.4.5 2.5.5 2.4.5 .5.5-2.5.5-2.8.5-1.9.5-2.9.5 0 .5 2.2.5 2.1.5 2.5.5 3.2.5-.2.5-2.8.5-6 .5 3.2.5-.9.5 3 .5 2 .5 .5.5-2.8.5-3.8.5-.1.5 1.6.5 1.1.5 2.3.5 2.3.5-2.9.5-3.6.4-1.7.5 1.5.5 1.5.5 .9.5 1.6.5 4.1.5-6.1.5-4.6.5 2.2.5 .5.5 2.7.5 .9.5 2.2.5-3 .5-2 .5-1.8.5 .7.5 2 .5 2.7.5 2.2.5-1.9.5-3 .5-3 .5 1 .5 .1.5 2.4.5 2.4.5 2.9.5-2.9.5-4.5.5 0 .5 .3.5 2.9.5-.4.4 1.7.5-.2.5-1.9.5-4.1.5 .9.5 2.4.5 .6.5 .7.5 1.4.5 .4.5-4.2.5-.6.5 1.2.5 1.3.5-1.2.5 .7.5 4.9.5-5.9.5-1.5.5 0 .5 1.3.5 1.4.5 .6.5 2.5.5-1.7.5-2.2.5-.2.5-.3.5 1.3.5 2 .5 0 .5 1.8.5-4 .5-4.7.4 .5.5 3 .5 2.5.5 .3.5 1 .5-1.2.5-2.1.5-3.1.5 1.5.5 1.4.5 2.8.5 2.5.5 .3.5-4.9.5-4 .5 1.3.5 2.7.5 .2.5 4.6.5 .3.5-1.8.5-4.4.5-3.2.5 2.4.5 1.7.5 .7.5 1.1.5 .7.5-.9.5-1.3.5-1.9.5-.2.5 2.1.5 .7.4 2.5.5-.7.5-3.5.5-3.3.5 1.6.5 1.6.5 3.3.5 0 .5 3.8.5-4.3.5-4.6.5-1.3.5 2.9.5 1.3.5 .8.5 2.3.5-1.5"/><path stroke="#3cc2f2" stroke-width="1.4" d="M193.3 80.9l.5-3.8.5 2.6.5-3.7.5 3 .5-2.9.5 2.9.5-2.9.5 3 .5-3.3.5 2.3.5-3.9.5 3.2.5-2.6.5 2.7.5-3.2.5 2.8.4-3.9.5 2.8.5-2.8.5 2.2.5 3.1.5 2 .5 2.3.5 .1.5-2 .5-2.2.5-2.8.5-1.7.5-.3.5 2 .5 2.5.5 2.1.5 2.7.5-.5.5-2.4.5-5 .5 .9.5 1.1.5 2.8.5 .3.5 .2.5-1.9.5-3.1.5 .5.5 2 .5 .2.5 1.3.5 1 .5-1.6.5-1.6.4-3.2.5 3.1.5 0 .5 2.9.5 3.9.5-3.1.5-3.6.5-1.1.5 0 .5 .9.5 1 .5 1.8.5 2.2.5-2.4.5-2.1.5-2.7.5 1.6.5 .7.5 3.9.5 1.7.5 1.6.5-7.1.5-3.8.5 .1.5 2.9.5 2.4.5 1.3.5 2.2.5-3.2.5-4.1.5 .6.5 .9.5 1.8.5 1 .4 2.4.5 .8.5-4.9.5-5.2.5 5.1.5 .5.5-.2.5 1.3.5 .1.5-.4.5-3.6.5-.5.5 .3.5 3.2.5 1.5.5 2.7.5-.2.5-4.2.5-4 .5 1.4.5 1.7.5 2.4.5 1.6.5 .5.5-2.5.5-2.6.5-.3.5 2 .5-.2.5 2.1.5 1 .5 .9.5-5.1.5-3.6.4 .2.5 1.2.5 3.5.5 2.2.5 2.9.5-3.9.5-2 .5-3 .5 2 .5 1.1.5 1.6.5 2.6.5 .6.5-5 .5-3.6.5 2.2.5 1.1.5 1.2.5 2.6.5 .3.5-2.2.5-2.6.5-2.6.5 1.9.5 2.6.5 .5.5 1.5.5 1.4.5-3.2.5-3 .5-.5.5 2 .5 1.3.5 2.5.4 2.4.5-3.6.5-3.2.5-5.1.5 3.2.5 1.8.5 3.9.5 .6.5 0 .5-.9.5-3.7.5-.5.5 .8.5 2.2.5 1.5.5 3 .5-2.9"/><path stroke="#c81a3c" stroke-width="1.4" d="M193.3 85.5l.5-3.4.5 2.7.5-4.1.5 3.7.5-3.2.5 3.2.5-3 .5 2.4.5-3.9.5 2.7.5-3 .5 2.8.5-2.9.5 3.6.5-3.5.5 2.5.4-3.9.5 2.4.5-2.8.5 2.7.5 2.3.5 2.6.5 2.5.5 .2.5-2.3.5-2.4.5-2.5.5-2.4.5-.1.5 2.3.5 2.9.5 2.2.5 2 .5 .8.5-2.7.5-2.4.5 1.5.5-.6.5 1 .5-.2.5-1.3.5-3.3.5 1 .5 1.9.5 .1.5 0 .5 1.6.5-.1.5-1.9.5-4.3.4 3 .5 1.3.5 1.2.5 .8.5 .7.5-2.9.5-.8.5-.7.5 .7.5 1.7.5 1.8.5 .5.5-.9.5-2.2.5-1.5.5 1.5.5 .3.5 1.6.5 1.9.5-.6.5-3.2.5-2.8.5 3 .5-.8.5 .9.5 2.4.5-.2.5 1.2.5-4.9.5-.9.5 .5.5 1.7.5 1.6.5 1.5.4-.3.5-3 .5-2.7.5 1.1.5 1 .5 .7.5 .2.5 2.3.5-.6.5-3.3.5-.9.5 2.4.5-.6.5 1.1.5 2.5.5 0 .5-2.7.5-2.8.5 .2.5 1.1.5 1.3.5 1.7.5 1.2.5-.4.5-2.7.5-2.5.5 .9.5-.1.5 3.5.5 1.2.5 1.5.5-3 .5-5 .5 .8.4 2 .5-1.3.5 4.6.5 1.3.5-1.8.5-3.6.5-.7.5 .5.5 2.2.5 .3.5 1.2.5 .6.5-2.1.5-2.5.5 .4.5 1.6.5-1.1.5 3.6.5 2 .5-3.8.5-.5.5-2.6.5 1.7.5 .5.5 .3.5 2.4.5 1.1.5-2.5.5-3.9.5-.1.5 2.6.5-.4.5 2.9.5-.4.4 .8.5-1.4.5-4.3.5 1.8.5 1.3.5 .3.5 3 .5 1.2.5-3.7.5-1.7.5-1.7.5 3.4.5 .4.5 .7.5 1.8.5-2 .5-2.9"/><path stroke="#0a7cc8" stroke-width="1.4" d="M193.3 90.9l.5-4 .5 2.9.5-3.6.5 3.3.5-2.7.5 2.8.5-3.5.5 3.3.5-4.6.5 3.2.5-3.2.5 3.2.5-2.5.5 2.5.5-4.2.5 3.7.4-3.5.5 1.9.5-2.6.5 2.7.5 2.2.5 2.5.5 2 .5 .3.5-1.6.5-2.8.5-2.1.5-3 .5 .1.5 2.6.5 2.1.5 2.5.5 2 .5-.2.5-2.1.5-4.2.5 2.3.5 1.3.5 .3.5 .9.5-4.6.5 .1.5-1.1.5 3.1.5 .4.5 2.2.5 3 .5-4.3.5-4.3.5 .1.4 1.7.5 .8.5 .3.5 .6.5 .8.5-1.5.5-3.6.5 1.2.5 1 .5 2.8.5-.1.5 2.2.5-2.6.5-4 .5-.7.5 2 .5 1.5.5 1.3.5 .4.5 .6.5-2.9.5-2.4.5 1.3.5 2.3.5 0 .5 1.2.5 1.1.5-1.5.5-3.6.5-.2.5 2.1.5 2 .5 1 .5 .1.4-.3.5-2.4.5-2 .5 1.7.5-.3.5 1 .5 .3.5 1.4.5-1.2.5-1.5.5-1.7.5 .6.5 .8.5 1.5.5 1.4.5 1.5.5-2 .5-2.5.5 .3.5 .1.5 1.9.5-.5.5 .9.5 .5.5-4.5.5 .4.5 .6.5 1.9.5-.2.5 3.3.5-.2.5-3.1.5-4.2.5 1.7.4 .3.5 3.4.5-.3.5 1 .5-.7.5-2.6.5-.3.5 .5.5 1.4.5-1.4.5 3.3.5-.1.5-3.1.5-1 .5 1.4.5-.9.5 1.8.5 .6.5 2.3.5-3.3.5-1.2.5-1.3.5 1.2.5 .4.5 1.5.5 1.3.5 .8.5-2.8.5-2.4.5-1.3.5 2.2.5 2 .5 1.8.5 1.5.4-2.9.5-1.6.5-.2.5 .5.5 .1.5 1.3.5 1 .5 2.7.5-4.3.5-4 .5 .7.5 2.8.5 1.4.5 2.1.5 1.2.5-3.4.5-2.7"/><path stroke="#f05a1e" stroke-width="1.4" d="M193.3 95.6l.5-3.7.5 3 .5-2.9.5 3.5.5-3.7.5 3.2.5-3.7.5 2.1.5-4.1.5 4.1.5-3 .5 3 .5-3.3.5 3.2.5-4.2.5 2.9.4-3.6.5 3.4.5-3.4.5 2.2.5 2.5.5 2.8.5 2.5.5 .5.5-3.1.5-2.4.5-2.3.5-2 .5-.3.5 2 .5 2.8.5 2.3.5 2.5.5 0 .5-2.7.5-2.8.5 2.7.5 .7.5-.9.5-4.1.5-1.9.5 1.9.5 2.6.5 .4.5 2 .5 .7.5-2.5.5-3.8.5-.8.5 3.8.4 .4.5 1.7.5 1.8.5-2.1.5-3.2.5-1 .5 .9.5 2.1.5 1.2.5 2.3.5 1 .5-4.1.5-6.6.5 4.1.5 1.6.5-.2.5 1.7.5 1.1.5-.7.5-4.2.5-.8.5 1.3.5 2.1.5 1.1.5 1 .5 2.1.5-4.6.5-4.2.5 .7.5 2.6.5 1.8.5 .1.5 1.8.5-2.3.4-2.9.5-2.7.5 2.5.5 2.1.5 .9.5 3.3.5-1.2.5-1.5.5-3.3.5-.8.5 .7.5 2.8.5 2.1.5 .2.5 0 .5-4.8.5-.8.5 .2.5 2.9.5 1.3.5 .8.5 1 .5-2.8.5-4 .5 .6.5 1.5.5 2.3.5-.5.5 1.8.5 .7.5-5.5.5-3.5.5 3.2.5 1.6.4 1.6.5 1.7.5 4 .5-5.9.5-2.9.5-.8.5 1.7.5 3.1.5 .3.5 1.8.5-3.1.5-2.2.5 .1.5 .5.5 2 .5 .1.5 .3.5 2.8.5-5.3.5-3.3.5 1 .5 .8.5 2.2.5 3 .5 1.9.5-.1.5-6.7.5-2.2.5 3 .5 1.8.5 1.5.5 1.1.5 1.5.5-3.2.4-3.8.5 .1.5 1 .5 1.6.5 3.4.5 1.8.5-3.7.5-2.6.5-3.2.5 .9.5 1.9.5 2.6.5 2.6.5 2.6.5-6 .5-3 .5-1.7"/><path stroke="#f0b020" stroke-width="1.4" d="M193.3 100.7l.5-3.7.5 3.3.5-3.8.5 3.5.5-3.2.5 3.5.5-4.7.5 3.1.5-3.4.5 3.1.5-3.4.5 3.6.5-2.9.5 2.4.5-3.6.5 2.4.4-2.7.5 2.6.5-3.5.5 2.6.5 2.4.5 2.7.5 2.3.5 .2.5-1.4.5-3.4.5-2.5.5-2.4.5 .3.5 2.3.5 2.1.5 2.3.5 3.3.5-1 .5-2.4.5-2.6.5 1.3.5 .9.5 .7.5-4.4.5-3.5.5 2 .5 3.2.5 1 .5 2 .5 1 .5-2.2.5-4.9.5-2 .5 2.4.4 2.1.5 2.5.5 1.2.5 0 .5-3.2.5-3.3.5 1.6.5 .6.5 1.9.5 1.7.5 .9.5-2.7.5-1.6.5 0 .5 1.3.5 1.2.5-.2.5 1.4.5 .3.5-3.1.5-5.5.5 2.7.5 1.2.5 2.3.5 2.4.5-1.5.5-.9.5-1.9.5-.9.5 .9.5 2.1.5 1.6.5 1.4.5-.9.4-3 .5-3.8.5 2.4.5 .9.5 0 .5 2.8.5-.1.5-.5.5-.3.5-1.8.5 .5.5 .9.5-.1.5 1 .5-.8.5-1.6.5-2.4.5 .3.5 3 .5 .7.5 1.3.5 1.1.5-3.8.5-.7.5-2.3.5 3.4.5 .7.5-.5.5 .7.5 1.5.5-2.5.5-2.9.5 1.4.5 1.8.4 1.4.5 1.6.5 2.2.5-2.6.5-6 .5 .1.5 1.9.5 2.6.5-1.8.5 3.2.5-.8.5-1.9.5-1 .5-1.5.5 1.3.5 1.2.5 3.1.5 2.2.5-4.1.5-3.7.5-1.4.5 .8.5 2.2.5 2.5.5 2.8.5-1.4.5-2.6.5-4.3.5 1.5.5 .5.5 2.3.5 .2.5 2.5.5-4.2.4 0 .5-2.9.5 .5.5 3.4.5 .8.5 1.8.5 1.3.5-3 .5-2.9.5 1.6.5-.2.5 1.8.5 .6.5 1.9.5-1.6.5-3.4.5-1.5"/><path stroke="#8428a4" stroke-width="1.4" d="M193.3 106.6l.5-5.6.5 4.5.5-4.5.5 5.7.5-4.9.5 3.7.5-5.9.5 5 .5-5.7.5 5.4.5-4.1.5 3.8.5-4.1.5 3.8.5-5 .5 3.2.4-4.6.5 5 .5-3.5.5 2.5.5 2.5.5 2.3.5 2.3.5 .2.5-2 .5-3.2.5-2 .5-2.5.5-.4.5 2.5.5 2.6.5 2.8.5 2.4.5 .1.5-2.9.5-.2.5-2.3.5 3.7.5-2.2.5-1.1.5-4.4.5 5.4.5-4.1.5 5.7.5-3.2.5 2.2.5-3.2.5 1.8.5-2.5.5 1.8.4-1.2.5 4.8.5 .9.5-2.1.5-4.2.5-1.6.5 1.5.5 1.4.5 .1.5 4.3.5-1.9.5 1 .5-5.7.5 5.2.5-1.6.5 1.1.5-3 .5 3.8.5-2.3.5-.7.5-3.3.5 3.4.5-1.9.5 3.3.5-.7.5 2.8.5-5.2.5 2.3.5-3.3.5 4 .5-2.5.5 4.9.5-1.9.5 2.1.4-7.3.5-1.1.5 1.1.5 4.2.5-1.3.5 4.6.5 .4.5-3.3.5-3.5.5-1.1.5 .8.5 5.1.5-.5.5 1.7.5-3.5.5 1.4.5-6.9.5 5.3.5-2.8.5 3.2.5 1.9.5 .9.5-3.2.5 .1.5-1 .5 1.2.5 .9.5 2.4.5-3.2.5 2.2.5-2.2.5-1.7.5-1.6.5 3.8.4-1.7.5 3.5.5-1 .5-.1.5-3 .5 .6.5-1.2.5 2.9.5 .8.5 3 .5-3.4.5 1 .5-5.4.5 3 .5-2.1.5 3.5.5 1.1.5 .5.5-1.2.5-1.1.5-3.7.5 5.1.5-2.7.5 1.7.5-.7.5 1.9.5-3.8.5-2 .5 0 .5 3.6.5-.6.5 2.9.5-.4.5 1.1.4-6.4.5 1.2.5 .5.5 2.3.5 .7.5 3.1.5-3.9.5 .8.5-3.9.5 2.3.5-.3.5 2.2.5-.1.5 2.2.5-3 .5-1.2.5-2.6"/><path stroke="#72b63a" stroke-width="1.4" d="M193.3 111l.5-4.5.5 3.1.5-2.5.5 3.6.5-3.5.5 3.1.5-4.2.5 3 .5-3.7.5 3.2.5-3.7.5 4 .5-3.3.5 3 .5-3.8.5 2.3.4-2.9.5 3.2.5-3.8.5 2.6.5 2.2.5 1.8.5 3.5.5-.1.5-1.9.5-2.7.5-2.2.5-2.7.5-.1.5 2.3.5 2.4.5 2.8.5 2.4.5-.5.5-2 .5-.8.5-.9.5 2.5.5-.1.5-5 .5-.4.5 1.5.5 .2.5 1.4.5 .9.5 2.5.5-4.1.5-3.8.5 2.5.5 .3.4 1.3.5 1.6.5 1.4.5-1.3.5-5.2.5 0 .5 2 .5 1.3.5 .7.5 1.8.5 .7.5-3.6.5-2.1.5-.8.5 2.8.5 1.4.5-.1.5 2.4.5-1.5.5-5 .5 .3.5 1.6.5 1.5.5 1.7.5 1.5.5-1.4.5-3.6.5-3.5.5 2 .5 2.2.5 .6.5 1.1.5 2.5.5-1.2.4-3.6.5-3.7.5 3.3.5 .1.5 2.3.5 1.6.5 0 .5-3.1.5-3.3.5 1.5.5 1.5.5 2.2.5 .2.5 1.5.5-.8.5-4.1.5-2.9.5 2.6.5 2.1.5 .9.5 3 .5-.9.5-3.8.5-2 .5 .9.5 .9.5 1.7.5 1.5.5 3.3.5-1.6.5-6.2.5-1.5.5 1.6.5 2.9.4 0 .5 1.1.5-1.2.5-.3.5-2.7.5 1.2.5 1.8.5 .1.5 .2.5 1.5.5 0 .5-3.8.5-1.6.5 1.5.5 .7.5 .6.5 3 .5 1.1.5-3.5.5-3.2.5 1.5.5 .9.5 .8.5 1.3.5 2.4.5-1.4.5-3.8.5-1.1.5 0 .5 3 .5 .3.5 .5.5 2.2.5-2.6.4-3.8.5-.2.5 1.2.5 2.8.5 1.5.5 1 .5-1.2.5-3 .5-3 .5 1.3.5 2.4.5 1.2.5 1.4.5 1.3.5-3.6.5-3.6.5 .5"/><path stroke="#3cc2f2" stroke-width="1.4" d="M193.3 115.4l.5-3.2.5 3.4.5-3.8.5 4 .5-3.8.5 3.5.5-4.2.5 2.2.5-2.1.5 2.9.5-3.1.5 2.8.5-2.9.5 2.4.5-4 .5 2.9.4-3.1.5 3.1.5-3.5.5 2.4.5 2.1.5 3.1.5 2.6.5-.2.5-2.4.5-2.1.5-2.9.5-1.8.5-.3.5 2.2.5 2.3.5 3 .5 2.2.5-.2.5-2.6.5-.8.5 .9.5 1.2.5-2.2.5-3.8.5-.9.5 2.1.5 .9.5 .8.5 3.1.5 .5.5-3.8.5-3.8.5 1.5.5 1.3.4 .9.5 2.2.5 2.4.5-2.2.5-5.1.5-2.7.5 2.8.5 2.4.5 1 .5 1.2.5-.8.5-1.3.5-1.5.5-.1.5 .8.5 1.7.5 2.2.5 2.7.5-4.7.5-4.3.5-.3.5-.3.5 4 .5 1.3.5 2.2.5-.4.5-3.1.5-1.1.5 .5.5 .5.5 .3.5 .5.5 3.2.5-2.3.4-3.9.5-2.5.5 2.3.5 2.5.5 2.3.5-.4.5 1.4.5-4.6.5-2.7.5 2.3.5 .8.5 .5.5 2.3.5 3.1.5-3.5.5-4.5.5-1.7.5 2.6.5 .8.5 2.4.5 .9.5 0 .5-2.5.5-2.7.5-2.2.5 3.8.5 1.9.5 3.8.5 1.6.5-3.7.5-5.9.5-2.1.5 3.1.5 2.9.4 .7.5 3 .5-.3.5-4.4.5-1.6.5-1.1.5 2.3.5 1.1.5 2.2.5 2.1.5-3.5.5-1.7.5-3.3.5 1.2.5 3.2.5 1.6.5 2.2.5-1.9.5-1 .5-5.1.5 .7.5 2.1.5 1.3.5 2.6.5 .5.5-2.1.5-3.6.5 .3.5 .2.5 1.3.5 .8.5 3.9.5 0 .5-3.7.4-4.8.5 1.1.5 1.1.5 3 .5 1.6.5 1.6.5-2.1.5-3.3.5-4 .5 2.3.5 1.7.5 2.5.5 2.7.5 .5.5-5 .5-2.1.5 .4"/><path stroke="#c81a3c" stroke-width="1.4" d="M193.3 121.3l.5-3.2.5 3.1.5-3.3.5 2.8.5-3.4.5 2.5.5-4.1.5 3.3.5-2.6.5 3.6.5-3.7.5 2.2.5-3.5.5 2.6.5-3 .5 3.2.4-3.5.5 4.1.5-4.2.5 2.2.5 2.7.5 2.5.5 1.7.5 1.2.5-2.9.5-2.5.5-1.6.5-3.2.5-.3.5 2.5.5 2.5.5 2.1.5 2.4.5 .6.5-2.9.5-.8.5 2.4.5-3.5.5-3.8.5 1.7.5 .8.5 .9.5 1.2.5 .4.5-1.4.5-.5.5-1.8.5 .2.5 2.1.5 1.6.4 2.4.5 .7.5-6.1.5-1.3.5 .5.5 .8.5 1.3.5 3.2.5 .1.5-.7.5-4.2.5-2 .5 2.1.5 2.6.5 1.1.5 .4.5 .2.5-2.8.5-4.1.5 1.8.5 1.8.5 .8.5 3.1.5 .7.5-2.1.5-3.2.5-3 .5 2.1.5 2.6.5 .7.5 1 .5 1.2.5-4 .5-4.6.4 .5.5 4.7.5 .5.5 .2.5 1.1.5-1.3.5-2.2.5-.7.5 1.7.5-.3.5 1.1.5 1.1.5-.1.5 1.4.5-4.9.5 .9.5 1.4.5-.1.5 1.1.5 2.8.5-3.1.5-1.2.5-2.2.5 3.3.5 0 .5 1.2.5 1.2.5 1 .5-5.3.5-3.4.5 .4.5 3.6.5 1.7.5 1.6.4 4 .5-4.6.5-3.1.5-2.7.5 1.7.5 1.2.5 3.5.5-1 .5 .9.5-2.7.5-1.6.5 2 .5-1.1.5 1.4.5 .9.5-1.6.5-.1.5-1 .5-2.2.5 2.3.5-.2.5 2.9.5-.4.5 1.2.5-2.3.5-3.9.5 3.3.5-.4.5 2.3.5 .3.5-.8.5-.7.5-1 .5-1.9.4 3.4.5-.1.5 .8.5 2.4.5-.5.5-2.7.5-4.7.5 2.6.5 1.2.5-.3.5 1.8.5 .8.5 .6.5-3 .5-4 .5 1.4.5 2.4"/><path stroke="#0a7cc8" stroke-width="1.4" d="M193.3 125.7l.5-3.4.5 3.6.5-2.9.5 3.1.5-3.3.5 2 .5-3.4.5 3 .5-3.3.5 3 .5-2.9.5 2.5.5-3.4.5 2.5.5-2.8.5 2.7.4-2.9.5 2.6.5-3.1.5 2.2.5 2.3.5 3.2.5 1.8.5 0 .5-1.7.5-3.4.5-2.2.5-2.6.5 1 .5 1.8.5 2.4.5 3.1.5 1.6.5 .3.5-2.7.5 1.3.5 1 .5-2.8.5-3.1.5-1.3.5 2.1.5 1.8.5 .1.5-.2.5 0 .5-1 .5-2.9.5 1.8.5-.3.5 2.8.4 .1.5 1.9.5-2.6.5-1.9.5-2.1.5 2.3.5 1.2.5-.2.5 1 .5 .7.5-1.9.5-.9.5-1.2.5 .9.5 .8.5 3.3.5 1.3.5-2.4.5-4.1.5-.5.5 1.8.5 1.4.5 .5.5 2.4.5-.9.5-2.8.5-1 .5 .1.5 .5.5 1.2.5 0 .5 .9.5-.5.5-1.6.4-1.7.5 1 .5 1.1.5 2.5.5 .6.5 .7.5-5.2.5-1.3.5 1.7.5-.4.5 1.6.5 1.8.5 .5.5-.4.5-3.1.5-3.4.5 3.3.5 1.3.5 1 .5 2.8.5-1.7.5-1.7.5-2.4.5-.2.5 .2.5 2.2.5 3.3.5-.5.5-2.3.5-2.6.5 0 .5 .3.5 1.2.5 1.3.4 1.2.5 .2.5-3.2.5-3.1.5 2.6.5 1.3.5 .9.5 .3.5 .3.5 .8.5-3.6.5-2.1.5 2.6.5 2.3.5-1.5.5 2.8.5 .1.5-3 .5-2 .5-1 .5 1 .5 2.4.5 1.1.5 2.2.5-2.1.5-1.6.5-.7.5-1 .5 2.4.5 1.7.5 .7.5 .2.5-3.3.5-2.1.4-1.3.5 3.2.5 .1.5 2.5.5 .5.5-.6.5-4.2.5-1.7.5 2.6.5 1 .5 .8.5 1.3.5 .8.5-2.9.5-1.1.5-.1.5 .7"/><path stroke="#f05a1e" stroke-width="1.4" d="M193.3 131l.5-3.4.5 3.5.5-3 .5 2.8.5-3.7.5 2.1.5-2.7.5 3.1.5-2.9.5 2.7.5-3.1.5 3.4.5-4.3.5 3 .5-3.9.5 3.5.4-2.9.5 3.3.5-3.8.5 2.4.5 2 .5 2.1.5 2.5.5 1.3.5-3.5.5-1.8.5-2.8.5-2.2.5 0 .5 1.9.5 2.3.5 3.1.5 2 .5-.3.5-1.9.5 1.2.5-2.6.5-5.5.5 2.3.5 1.4.5 .4.5 1.3.5 2.6.5-.3.5-4.4.5-1.8.5 1.6.5 1.4.5 1.3.5 .3.4 0 .5-1.4.5-3.4.5 .8.5 .4.5 .7.5 3.8.5 .6.5-.4.5-3.8.5-3.4.5-.7.5 3.7.5 2.7.5 1.5.5 .1.5-2.3.5-4.4.5-.3.5 2.1.5 .6.5 3.3.5 0 .5-1.3.5-2.4.5-1 .5 .6.5 .8.5 2.1.5 1.8.5 .8.5-2.2.5-3.6.5-.8.4 1.5.5 2.4.5 .3.5 2.7.5-2.1.5-2.5.5-2.4.5 1.2.5 1.4.5 .5.5 2 .5 .8.5-1.8.5-3.3.5-1.3.5 2.2.5 2.4.5 1.9.5 1.3.5-.4.5-4.1.5-4.6.5 3.8.5-1.1.5 3.9.5 1.2.5-.4.5-.8.5-3.9.5 .1.5 .5.5 1.8.5 1.5.5-1.1.4 1.8.5-1.9.5-3.6.5 1.5.5 1.8.5 1.5.5 .1.5 1.6.5-1.4.5-4.5.5-1.2.5 2.7.5 2 .5 .1.5 2.9.5 .6.5-4.8.5-4.6.5 2 .5 2.9.5-.4.5 3.3.5 1.2.5-2.3.5-4.3.5-1.7.5 3.2.5 .4.5 1.8.5 1.5.5 1 .5-5.1.5-2.2.5 1 .4 2.8.5 .5.5 1.6.5 .8.5-1.5.5-3.9.5 .1.5 .7.5 1.2.5 1.5.5 2.8.5-.4.5-4 .5-1.3.5 1 .5 0 .5 1"/></g></svg>
<rect x="193.8" y="48.0" width="83.0" height="86.0" fill="none" stroke="#9a9a9a" stroke-width="1"/>
<svg x="303.3" y="47.5" width="84.0" height="87.0" viewBox="303.3 47.5 84.0 87.0" overflow="hidden"><g fill="none" stroke-linejoin="round"><path stroke="#0a7cc8" stroke-width="1.4" d="M303.3 54.1l.5-2.5.5 3.2.5-3.3.5 2.6.5-3.9.5 2.7.5-3.4.5 3.8.5-3.3.5 3.2.5-3.3.5 2.6.5-4.1.5 3.6.5-3.4.5 3.1.4-3.4.5 2.9.5-3.4.5 1.9.5 3.6.5 1.8.5 2.6.5-.3.5-2 .5-2.4.5-2.5.5-2.1.5-1.1.5 3.3.5 2 .5 2.4.5 2.5.5 .2.5-2.5.5-1.5.5-1.1.5-2.3.5 .4.5 .4.5 3 .5 1.3.5 1.9.5-3.6.5-5.1.5 1.3.5 .6.5 2.3.5 2.7.5-.8.4-.2.5-2.7.5-3.1.5 1.3.5 1.5.5 1.9.5 .2.5-.3.5 .6.5-3.3.5-1 .5 1.3.5 2 .5 .5.5 1.9.5-.7.5-3.3.5-2.2.5 1 .5 1.3.5 .9.5 3.4.5 .1.5-2.1.5-3.3.5-.9.5 2.2.5 1 .5 2 .5 .4.5-1 .5-1.9.5-3.2.5 1.8.4 .2.5 .9.5 2.6.5 2.1.5-3.8.5-.5.5-1.8.5 .5.5 3 .5-1 .5 1.9.5 0 .5-1.9.5-4.9.5 2.5.5 1.3.5 1.1.5 2.2.5 1 .5-1.5.5-5.2.5-.6.5 2.5.5 .7.5 3 .5 1 .5-2 .5-1.7.5-4.2.5 3.5.5-.6.5 1.9.5 2.5.5 1.4.4-3.2.5-3 .5-1.2.5 1.7.5 2.4.5 0 .5 0 .5 .2.5-1.6.5-3.5.5 1 .5 2.9.5 .5.5 1.4.5 2.8.5-3.1.5-4.5.5-.7.5 1 .5 1.9.5 1.2.5 2.4.5-.3.5-2.5.5-5 .5 1.6.5 2 .5 2.4.5 1.4.5 .8.5-.7.5-4.3.5-2.7.5 2.3.4 2 .5 1 .5-.1.5 1.1.5-1.7.5-4.1.5 .8.5 2.6.5 1.1.5 .9.5 2.3.5-1.9.5-2.5.5-2.2.5 .8.5 1.8.5 2.2"/><path stroke="#f05a1e" stroke-width="1.4" d="M303.3 59.6l.5-3.2.5 3.3.5-3 .5 2.3.5-4 .5 3.1.5-2.8.5 3.5.5-3.9.5 3.7.5-3.8.5 2.1.5-3.6.5 3.6.5-3.3.5 3.4.4-3.6.5 2.4.5-3.3.5 2.7.5 2.6.5 2.5.5 2.3.5 .6.5-2.8.5-2.2.5-2.6.5-2.4.5-.4.5 2.6.5 2.2.5 2.5.5 2.5.5 .4.5-2.9.5-1.8.5-3.7.5-1.2.5 2.5.5 3.2.5 1.4.5 2.1.5-2 .5-3.1.5-2.7.5 1 .5 .2.5 3.7.5 3.6.5 2.1.4-7 .5-3.6.5-.6.5 2.3.5 .5.5 1.3.5 1.2.5 1 .5-4.1.5-2.9.5 .4.5 3.2.5 1.2.5 2.7.5 1.1.5-3.8.5-2.7.5-1.3.5 2.1.5 1.2.5 3 .5 .6.5-2.9.5-.7.5-1.5.5 1.5.5 .2.5 .7.5 2.1.5 2.2.5-4.1.5-3.7.5 .4.5 1.2.4-.4.5 2.5.5 1.9.5 .3.5-4.4.5-1 .5 1.1.5 1.7.5-.2.5 1 .5 2.7.5-4.2.5-2.5.5 1.2.5 .5.5 1 .5 2.4.5 1.1.5 0 .5-4.5.5-5.5.5 4.7.5 .8.5 1.7.5 1.7.5 2.5.5-5 .5-2.8.5 .3.5 1.7.5 .6.5 .5.5 2 .5-.2.4-2.6.5-2.6.5-.2.5 3.1.5 .9.5 1 .5 3.4.5-3.3.5-3.4.5-2 .5 2.3.5 2.9.5-1.3.5 1.4.5 1.3.5-4.1.5-3.4.5 .2.5 3.3.5 2.7.5 1.7.5-.6.5-1.9.5-2.2.5-.7.5-.5.5 1.8.5 3.1.5 .6.5 0 .5-2.5.5-4 .5 1.7.5 2.3.4-.6.5 2.5.5 .9.5-1.3.5-4.4.5-.9.5 1.3.5 1.6.5 1.9.5 1.9.5-1.8.5-1.8.5 .3.5-1.2.5 1 .5 .2.5 1.9"/><path stroke="#f0b020" stroke-width="1.4" d="M303.3 65.7l.5-3.8.5 3 .5-3.6.5 2.5.5-3.7.5 3.3.5-3.1.5 3.6.5-3.7.5 3 .5-3.4.5 2.3.5-3.8.5 3.9.5-3.3.5 3.2.4-3.8.5 2.8.5-3 .5 2.4.5 2.2.5 2.5.5 1.9.5 .4.5-2.7.5-2 .5-2 .5-2.5.5-.4.5 2.4.5 2.4.5 2.9.5 1.7.5 .7.5-2.6.5-3.7.5-2.3.5 .5.5 1.8.5 3.3.5 1.5.5-2.8.5-.8.5-4.3.5 2.9.5 1.5.5 .2.5 1.4.5 .6.5-3.1.4-.1.5 0 .5 0 .5-.2.5 2.7.5 .3.5-.5.5-2.8.5-3.8.5 3 .5 .8.5 2.4.5 1.2.5 1.3.5-2.5.5-3.4.5-.7.5 .8.5 2.6.5 1.2.5 .2.5-.3.5-1.8.5-3.4.5 .9.5 1.5.5 1.4.5 2.4.5-.5.5 .1.5-4.4.5 .4.5 1.7.5 .3.4 1.1.5 1.3.5-.1.5-2.2.5-2.9.5 .9.5 2.2.5 .9.5 0 .5 1.4.5-1.6.5-1.4.5-1.5.5 1.3.5 0 .5 1.4.5 2 .5-.9.5-2.7.5-2.5.5 .9.5 1.2.5 3.1.5-.6.5 .9.5 .7.5-6.5.5-1.9.5 3.5.5 1.7.5 1.8.5 1.5.5-.2.5-2.9.4-1.8.5 .2.5 .3.5 1.6.5 1.9.5 1.4.5-1.9.5-3.5.5-1.7.5 2 .5 1.1.5 .9.5 1.3.5 1.3.5-4.2.5-1.3.5-.4.5 1.5.5 2.7.5 1.2.5 .3.5-.9.5-2.3.5-2 .5 .4.5 2.6.5-.7.5 4.3.5-2 .5-2.9.5-2.7.5 1.1.5 2 .5 .7.4 .8.5 1.2.5-2 .5-2.5.5-1 .5 .1.5 3.6.5-.1.5 .6.5 1.7.5-2.4.5-4.9.5 .8.5 1.7.5 1.9.5 0 .5 2.4"/><path stroke="#8428a4" stroke-width="1.4" d="M303.3 73.7l.5-8 .5 4.9.5-6.4.5 6.4.5-7.8.5 7.6.5-6.3.5 6.8.5-7.2.5 5.7.5-7 .5 6.7.5-7.1.5 6 .5-5.9.5 7.2.4-6.6.5 5.8.5-5.1.5 2 .5 2.6.5 2.5.5 2.7.5 0 .5-3 .5-1.6.5-2.8.5-2.1.5-.5.5 2.3.5 2.1.5 2.9.5 2.6.5-.4.5-2.4.5-2.6.5-3.9.5 7.2.5-6.6.5 8.6.5-2.3.5 .4.5-6.7.5 3.7.5-2.4.5 4.8.5-2.9.5 4.6.5-3.1.5 1.4.4-6.3.5 5.2.5-5.9.5 7.7.5-4.5.5 7.7.5-7.4.5 .6.5-5.5.5 7.1.5-3.7.5 7.2.5-3.5.5 1.5.5-6.3.5 5.2.5-4.9.5 4.9.5-3.1.5 7 .5-3.4.5 .3.5-6 .5 3.7.5-4.2.5 6.5.5-4 .5 6.9.5-5.3.5 1.6.5-7.3.5 6.1.5-4 .5 6.9.4-5.2.5 6.1.5-7.4.5 2.4.5-4 .5 5.8.5-3.2.5 7.5.5-6.9.5 6.5.5-7.7.5 3.5.5-5.1.5 5.4.5-3.2.5 5.2.5-2.3.5 3.3.5-9.5.5 5.6.5-3.9.5 7.5.5-3.2.5 4 .5-4.6.5 3.6.5-10.4.5 6.7.5-1.7.5 5.4.5-3.2.5 3.5.5-5.5.5 1.4.4-4.4.5 4.5.5-1.9.5 6.4.5-3.5.5 4.3.5-8 .5 1.4.5-3.4.5 5.3.5-3.4.5 4.9.5-1.1.5 2.8.5-8.1.5 3.5.5-2.1.5 5.8.5-3.2.5 5 .5-5.6.5 4.2.5-10.3.5 6.9.5-3.5.5 7 .5-3.1.5 3.8.5-5.2.5 2.7.5-6.2.5 6.6.5-5.3.5 6.5.4-3.7.5 6 .5-7.8.5 1.6.5-5 .5 9 .5-5.4.5 5.8.5-1.6.5 2.3.5-5.4.5-.2.5-2.7.5 7.7.5-4 .5 7.3.5-7.1"/><path stroke="#72b63a" stroke-width="1.4" d="M303.3 76.1l.5-4 .5 3 .5-3.9.5 3.3.5-3.7.5 2.7.5-2.8.5 3.4.5-4.2.5 3.3.5-4.2.5 3.4.5-3 .5 2.9.5-2.7.5 3 .4-4.3.5 2.7.5-3.4.5 3 .5 2.4.5 2.5.5 2.4.5 .5.5-2.5.5-2.8.5-1.9.5-2.9.5 0 .5 2.2.5 2.1.5 2.5.5 3.2.5-.2.5-2.8.5-6 .5 3.2.5-.9.5 3 .5 2 .5 .5.5-2.8.5-3.8.5-.1.5 1.6.5 1.1.5 2.3.5 2.3.5-2.9.5-3.6.4-1.7.5 1.5.5 1.5.5 .9.5 1.6.5 4.1.5-6.1.5-4.6.5 2.2.5 .5.5 2.7.5 .9.5 2.2.5-3 .5-2 .5-1.8.5 .7.5 2 .5 2.7.5 2.2.5-1.9.5-3 .5-3 .5 1 .5 .1.5 2.4.5 2.4.5 2.9.5-2.9.5-4.5.5 0 .5 .3.5 2.9.5-.4.4 1.7.5-.2.5-1.9.5-4.1.5 .9.5 2.4.5 .6.5 .7.5 1.4.5 .4.5-4.2.5-.6.5 1.2.5 1.3.5-1.2.5 .7.5 4.9.5-5.9.5-1.5.5 0 .5 1.3.5 1.4.5 .6.5 2.5.5-1.7.5-2.2.5-.2.5-.3.5 1.3.5 2 .5 0 .5 1.8.5-4 .5-4.7.4 .5.5 3 .5 2.5.5 .3.5 1 .5-1.2.5-2.1.5-3.1.5 1.5.5 1.4.5 2.8.5 2.5.5 .3.5-4.9.5-4 .5 1.3.5 2.7.5 .2.5 4.6.5 .3.5-1.8.5-4.4.5-3.2.5 2.4.5 1.7.5 .7.5 1.1.5 .7.5-.9.5-1.3.5-1.9.5-.2.5 2.1.5 .7.4 2.5.5-.7.5-3.5.5-3.3.5 1.6.5 1.6.5 3.3.5 0 .5 3.8.5-4.3.5-4.6.5-1.3.5 2.9.5 1.3.5 .8.5 2.3.5-1.5"/><path stroke="#3cc2f2" stroke-width="1.4" d="M303.3 80.9l.5-3.8.5 2.6.5-3.7.5 3 .5-2.9.5 2.9.5-2.9.5 3 .5-3.3.5 2.3.5-3.9.5 3.2.5-2.6.5 2.7.5-3.2.5 2.8.4-3.9.5 2.8.5-2.8.5 2.2.5 3.1.5 2 .5 2.3.5 .1.5-2 .5-2.2.5-2.8.5-1.7.5-.3.5 2 .5 2.5.5 2.1.5 2.7.5-.5.5-2.4.5-5 .5 .9.5 1.1.5 2.8.5 .3.5 .2.5-1.9.5-3.1.5 .5.5 2 .5 .2.5 1.3.5 1 .5-1.6.5-1.6.4-3.2.5 3.1.5 0 .5 2.9.5 3.9.5-3.1.5-3.6.5-1.1.5 0 .5 .9.5 1 .5 1.8.5 2.2.5-2.4.5-2.1.5-2.7.5 1.6.5 .7.5 3.9.5 1.7.5 1.6.5-7.1.5-3.8.5 .1.5 2.9.5 2.4.5 1.3.5 2.2.5-3.2.5-4.1.5 .6.5 .9.5 1.8.5 1 .4 2.4.5 .8.5-4.9.5-5.2.5 5.1.5 .5.5-.2.5 1.3.5 .1.5-.4.5-3.6.5-.5.5 .3.5 3.2.5 1.5.5 2.7.5-.2.5-4.2.5-4 .5 1.4.5 1.7.5 2.4.5 1.6.5 .5.5-2.5.5-2.6.5-.3.5 2 .5-.2.5 2.1.5 1 .5 .9.5-5.1.5-3.6.4 .2.5 1.2.5 3.5.5 2.2.5 2.9.5-3.9.5-2 .5-3 .5 2 .5 1.1.5 1.6.5 2.6.5 .6.5-5 .5-3.6.5 2.2.5 1.1.5 1.2.5 2.6.5 .3.5-2.2.5-2.6.5-2.6.5 1.9.5 2.6.5 .5.5 1.5.5 1.4.5-3.2.5-3 .5-.5.5 2 .5 1.3.5 2.5.4 2.4.5-3.6.5-3.2.5-5.1.5 3.2.5 1.8.5 3.9.5 .6.5 0 .5-.9.5-3.7.5-.5.5 .8.5 2.2.5 1.5.5 3 .5-2.9"/><path stroke="#c81a3c" stroke-width="1.4" d="M303.3 85.5l.5-3.4.5 2.7.5-4.1.5 3.7.5-3.2.5 3.2.5-3 .5 2.4.5-3.9.5 2.7.5-3 .5 2.8.5-2.9.5 3.6.5-3.5.5 2.5.4-3.9.5 2.4.5-2.8.5 2.7.5 2.3.5 2.6.5 2.5.5 .2.5-2.3.5-2.4.5-2.5.5-2.4.5-.1.5 2.3.5 2.9.5 2.2.5 2 .5 .8.5-2.7.5-2.4.5 1.5.5-.6.5 1 .5-.2.5-1.3.5-3.3.5 1 .5 1.9.5 .1.5 0 .5 1.6.5-.1.5-1.9.5-4.3.4 3 .5 1.3.5 1.2.5 .8.5 .7.5-2.9.5-.8.5-.7.5 .7.5 1.7.5 1.8.5 .5.5-.9.5-2.2.5-1.5.5 1.5.5 .3.5 1.6.5 1.9.5-.6.5-3.2.5-2.8.5 3 .5-.8.5 .9.5 2.4.5-.2.5 1.2.5-4.9.5-.9.5 .5.5 1.7.5 1.6.5 1.5.4-.3.5-3 .5-2.7.5 1.1.5 1 .5 .7.5 .2.5 2.3.5-.6.5-3.3.5-.9.5 2.4.5-.6.5 1.1.5 2.5.5 0 .5-2.7.5-2.8.5 .2.5 1.1.5 1.3.5 1.7.5 1.2.5-.4.5-2.7.5-2.5.5 .9.5-.1.5 3.5.5 1.2.5 1.5.5-3 .5-5 .5 .8.4 2 .5-1.3.5 4.6.5 1.3.5-1.8.5-3.6.5-.7.5 .5.5 2.2.5 .3.5 1.2.5 .6.5-2.1.5-2.5.5 .4.5 1.6.5-1.1.5 3.6.5 2 .5-3.8.5-.5.5-2.6.5 1.7.5 .5.5 .3.5 2.4.5 1.1.5-2.5.5-3.9.5-.1.5 2.6.5-.4.5 2.9.5-.4.4 .8.5-1.4.5-4.3.5 1.8.5 1.3.5 .3.5 3 .5 1.2.5-3.7.5-1.7.5-1.7.5 3.4.5 .4.5 .7.5 1.8.5-2 .5-2.9"/><path stroke="#0a7cc8" stroke-width="1.4" d="M303.3 90.9l.5-4 .5 2.9.5-3.6.5 3.3.5-2.7.5 2.8.5-3.5.5 3.3.5-4.6.5 3.2.5-3.2.5 3.2.5-2.5.5 2.5.5-4.2.5 3.7.4-3.5.5 1.9.5-2.6.5 2.7.5 2.2.5 2.5.5 2 .5 .3.5-1.6.5-2.8.5-2.1.5-3 .5 .1.5 2.6.5 2.1.5 2.5.5 2 .5-.2.5-2.1.5-4.2.5 2.3.5 1.3.5 .3.5 .9.5-4.6.5 .1.5-1.1.5 3.1.5 .4.5 2.2.5 3 .5-4.3.5-4.3.5 .1.4 1.7.5 .8.5 .3.5 .6.5 .8.5-1.5.5-3.6.5 1.2.5 1 .5 2.8.5-.1.5 2.2.5-2.6.5-4 .5-.7.5 2 .5 1.5.5 1.3.5 .4.5 .6.5-2.9.5-2.4.5 1.3.5 2.3.5 0 .5 1.2.5 1.1.5-1.5.5-3.6.5-.2.5 2.1.5 2 .5 1 .5 .1.4-.3.5-2.4.5-2 .5 1.7.5-.3.5 1 .5 .3.5 1.4.5-1.2.5-1.5.5-1.7.5 .6.5 .8.5 1.5.5 1.4.5 1.5.5-2 .5-2.5.5 .3.5 .1.5 1.9.5-.5.5 .9.5 .5.5-4.5.5 .4.5 .6.5 1.9.5-.2.5 3.3.5-.2.5-3.1.5-4.2.5 1.7.4 .3.5 3.4.5-.3.5 1 .5-.7.5-2.6.5-.3.5 .5.5 1.4.5-1.4.5 3.3.5-.1.5-3.1.5-1 .5 1.4.5-.9.5 1.8.5 .6.5 2.3.5-3.3.5-1.2.5-1.3.5 1.2.5 .4.5 1.5.5 1.3.5 .8.5-2.8.5-2.4.5-1.3.5 2.2.5 2 .5 1.8.5 1.5.4-2.9.5-1.6.5-.2.5 .5.5 .1.5 1.3.5 1 .5 2.7.5-4.3.5-4 .5 .7.5 2.8.5 1.4.5 2.1.5 1.2.5-3.4.5-2.7"/><path stroke="#f05a1e" stroke-width="1.4" d="M303.3 95.6l.5-3.7.5 3 .5-2.9.5 3.5.5-3.7.5 3.2.5-3.7.5 2.1.5-4.1.5 4.1.5-3 .5 3 .5-3.3.5 3.2.5-4.2.5 2.9.4-3.6.5 3.4.5-3.4.5 2.2.5 2.5.5 2.8.5 2.5.5 .5.5-3.1.5-2.4.5-2.3.5-2 .5-.3.5 2 .5 2.8.5 2.3.5 2.5.5 0 .5-2.7.5-2.8.5 2.7.5 .7.5-.9.5-4.1.5-1.9.5 1.9.5 2.6.5 .4.5 2 .5 .7.5-2.5.5-3.8.5-.8.5 3.8.4 .4.5 1.7.5 1.8.5-2.1.5-3.2.5-1 .5 .9.5 2.1.5 1.2.5 2.3.5 1 .5-4.1.5-6.6.5 4.1.5 1.6.5-.2.5 1.7.5 1.1.5-.7.5-4.2.5-.8.5 1.3.5 2.1.5 1.1.5 1 .5 2.1.5-4.6.5-4.2.5 .7.5 2.6.5 1.8.5 .1.5 1.8.5-2.3.4-2.9.5-2.7.5 2.5.5 2.1.5 .9.5 3.3.5-1.2.5-1.5.5-3.3.5-.8.5 .7.5 2.8.5 2.1.5 .2.5 0 .5-4.8.5-.8.5 .2.5 2.9.5 1.3.5 .8.5 1 .5-2.8.5-4 .5 .6.5 1.5.5 2.3.5-.5.5 1.8.5 .7.5-5.5.5-3.5.5 3.2.5 1.6.4 1.6.5 1.7.5 4 .5-5.9.5-2.9.5-.8.5 1.7.5 3.1.5 .3.5 1.8.5-3.1.5-2.2.5 .1.5 .5.5 2 .5 .1.5 .3.5 2.8.5-5.3.5-3.3.5 1 .5 .8.5 2.2.5 3 .5 1.9.5-.1.5-6.7.5-2.2.5 3 .5 1.8.5 1.5.5 1.1.5 1.5.5-3.2.4-3.8.5 .1.5 1 .5 1.6.5 3.4.5 1.8.5-3.7.5-2.6.5-3.2.5 .9.5 1.9.5 2.6.5 2.6.5 2.6.5-6 .5-3 .5-1.7"/><path stroke="#f0b020" stroke-width="1.4" d="M303.3 100.7l.5-3.7.5 3.3.5-3.8.5 3.5.5-3.2.5 3.5.5-4.7.5 3.1.5-3.4.5 3.1.5-3.4.5 3.6.5-2.9.5 2.4.5-3.6.5 2.4.4-2.7.5 2.6.5-3.5.5 2.6.5 2.4.5 2.7.5 2.3.5 .2.5-1.4.5-3.4.5-2.5.5-2.4.5 .3.5 2.3.5 2.1.5 2.3.5 3.3.5-1 .5-2.4.5-2.6.5 1.3.5 .9.5 .7.5-4.4.5-3.5.5 2 .5 3.2.5 1 .5 2 .5 1 .5-2.2.5-4.9.5-2 .5 2.4.4 2.1.5 2.5.5 1.2.5 0 .5-3.2.5-3.3.5 1.6.5 .6.5 1.9.5 1.7.5 .9.5-2.7.5-1.6.5 0 .5 1.3.5 1.2.5-.2.5 1.4.5 .3.5-3.1.5-5.5.5 2.7.5 1.2.5 2.3.5 2.4.5-1.5.5-.9.5-1.9.5-.9.5 .9.5 2.1.5 1.6.5 1.4.5-.9.4-3 .5-3.8.5 2.4.5 .9.5 0 .5 2.8.5-.1.5-.5.5-.3.5-1.8.5 .5.5 .9.5-.1.5 1 .5-.8.5-1.6.5-2.4.5 .3.5 3 .5 .7.5 1.3.5 1.1.5-3.8.5-.7.5-2.3.5 3.4.5 .7.5-.5.5 .7.5 1.5.5-2.5.5-2.9.5 1.4.5 1.8.4 1.4.5 1.6.5 2.2.5-2.6.5-6 .5 .1.5 1.9.5 2.6.5-1.8.5 3.2.5-.8.5-1.9.5-1 .5-1.5.5 1.3.5 1.2.5 3.1.5 2.2.5-4.1.5-3.7.5-1.4.5 .8.5 2.2.5 2.5.5 2.8.5-1.4.5-2.6.5-4.3.5 1.5.5 .5.5 2.3.5 .2.5 2.5.5-4.2.4 0 .5-2.9.5 .5.5 3.4.5 .8.5 1.8.5 1.3.5-3 .5-2.9.5 1.6.5-.2.5 1.8.5 .6.5 1.9.5-1.6.5-3.4.5-1.5"/><path stroke="#8428a4" stroke-width="1.4" d="M303.3 106.6l.5-5.6.5 4.5.5-4.5.5 5.7.5-4.9.5 3.7.5-5.9.5 5 .5-5.7.5 5.4.5-4.1.5 3.8.5-4.1.5 3.8.5-5 .5 3.2.4-4.6.5 5 .5-3.5.5 2.5.5 2.5.5 2.3.5 2.3.5 .2.5-2 .5-3.2.5-2 .5-2.5.5-.4.5 2.5.5 2.6.5 2.8.5 2.4.5 .1.5-2.9.5-.2.5-2.3.5 3.7.5-2.2.5-1.1.5-4.4.5 5.4.5-4.1.5 5.7.5-3.2.5 2.2.5-3.2.5 1.8.5-2.5.5 1.8.4-1.2.5 4.8.5 .9.5-2.1.5-4.2.5-1.6.5 1.5.5 1.4.5 .1.5 4.3.5-1.9.5 1 .5-5.7.5 5.2.5-1.6.5 1.1.5-3 .5 3.8.5-2.3.5-.7.5-3.3.5 3.4.5-1.9.5 3.3.5-.7.5 2.8.5-5.2.5 2.3.5-3.3.5 4 .5-2.5.5 4.9.5-1.9.5 2.1.4-7.3.5-1.1.5 1.1.5 4.2.5-1.3.5 4.6.5 .4.5-3.3.5-3.5.5-1.1.5 .8.5 5.1.5-.5.5 1.7.5-3.5.5 1.4.5-6.9.5 5.3.5-2.8.5 3.2.5 1.9.5 .9.5-3.2.5 .1.5-1 .5 1.2.5 .9.5 2.4.5-3.2.5 2.2.5-2.2.5-1.7.5-1.6.5 3.8.4-1.7.5 3.5.5-1 .5-.1.5-3 .5 .6.5-1.2.5 2.9.5 .8.5 3 .5-3.4.5 1 .5-5.4.5 3 .5-2.1.5 3.5.5 1.1.5 .5.5-1.2.5-1.1.5-3.7.5 5.1.5-2.7.5 1.7.5-.7.5 1.9.5-3.8.5-2 .5 0 .5 3.6.5-.6.5 2.9.5-.4.5 1.1.4-6.4.5 1.2.5 .5.5 2.3.5 .7.5 3.1.5-3.9.5 .8.5-3.9.5 2.3.5-.3.5 2.2.5-.1.5 2.2.5-3 .5-1.2.5-2.6"/><path stroke="#72b63a" stroke-width="1.4" d="M303.3 111l.5-4.5.5 3.1.5-2.5.5 3.6.5-3.5.5 3.1.5-4.2.5 3 .5-3.7.5 3.2.5-3.7.5 4 .5-3.3.5 3 .5-3.8.5 2.3.4-2.9.5 3.2.5-3.8.5 2.6.5 2.2.5 1.8.5 3.5.5-.1.5-1.9.5-2.7.5-2.2.5-2.7.5-.1.5 2.3.5 2.4.5 2.8.5 2.4.5-.5.5-2 .5-.8.5-.9.5 2.5.5-.1.5-5 .5-.4.5 1.5.5 .2.5 1.4.5 .9.5 2.5.5-4.1.5-3.8.5 2.5.5 .3.4 1.3.5 1.6.5 1.4.5-1.3.5-5.2.5 0 .5 2 .5 1.3.5 .7.5 1.8.5 .7.5-3.6.5-2.1.5-.8.5 2.8.5 1.4.5-.1.5 2.4.5-1.5.5-5 .5 .3.5 1.6.5 1.5.5 1.7.5 1.5.5-1.4.5-3.6.5-3.5.5 2 .5 2.2.5 .6.5 1.1.5 2.5.5-1.2.4-3.6.5-3.7.5 3.3.5 .1.5 2.3.5 1.6.5 0 .5-3.1.5-3.3.5 1.5.5 1.5.5 2.2.5 .2.5 1.5.5-.8.5-4.1.5-2.9.5 2.6.5 2.1.5 .9.5 3 .5-.9.5-3.8.5-2 .5 .9.5 .9.5 1.7.5 1.5.5 3.3.5-1.6.5-6.2.5-1.5.5 1.6.5 2.9.4 0 .5 1.1.5-1.2.5-.3.5-2.7.5 1.2.5 1.8.5 .1.5 .2.5 1.5.5 0 .5-3.8.5-1.6.5 1.5.5 .7.5 .6.5 3 .5 1.1.5-3.5.5-3.2.5 1.5.5 .9.5 .8.5 1.3.5 2.4.5-1.4.5-3.8.5-1.1.5 0 .5 3 .5 .3.5 .5.5 2.2.5-2.6.4-3.8.5-.2.5 1.2.5 2.8.5 1.5.5 1 .5-1.2.5-3 .5-3 .5 1.3.5 2.4.5 1.2.5 1.4.5 1.3.5-3.6.5-3.6.5 .5"/><path stroke="#3cc2f2" stroke-width="1.4" d="M303.3 115.4l.5-3.2.5 3.4.5-3.8.5 4 .5-3.8.5 3.5.5-4.2.5 2.2.5-2.1.5 2.9.5-3.1.5 2.8.5-2.9.5 2.4.5-4 .5 2.9.4-3.1.5 3.1.5-3.5.5 2.4.5 2.1.5 3.1.5 2.6.5-.2.5-2.4.5-2.1.5-2.9.5-1.8.5-.3.5 2.2.5 2.3.5 3 .5 2.2.5-.2.5-2.6.5-.8.5 .9.5 1.2.5-2.2.5-3.8.5-.9.5 2.1.5 .9.5 .8.5 3.1.5 .5.5-3.8.5-3.8.5 1.5.5 1.3.4 .9.5 2.2.5 2.4.5-2.2.5-5.1.5-2.7.5 2.8.5 2.4.5 1 .5 1.2.5-.8.5-1.3.5-1.5.5-.1.5 .8.5 1.7.5 2.2.5 2.7.5-4.7.5-4.3.5-.3.5-.3.5 4 .5 1.3.5 2.2.5-.4.5-3.1.5-1.1.5 .5.5 .5.5 .3.5 .5.5 3.2.5-2.3.4-3.9.5-2.5.5 2.3.5 2.5.5 2.3.5-.4.5 1.4.5-4.6.5-2.7.5 2.3.5 .8.5 .5.5 2.3.5 3.1.5-3.5.5-4.5.5-1.7.5 2.6.5 .8.5 2.4.5 .9.5 0 .5-2.5.5-2.7.5-2.2.5 3.8.5 1.9.5 3.8.5 1.6.5-3.7.5-5.9.5-2.1.5 3.1.5 2.9.4 .7.5 3 .5-.3.5-4.4.5-1.6.5-1.1.5 2.3.5 1.1.5 2.2.5 2.1.5-3.5.5-1.7.5-3.3.5 1.2.5 3.2.5 1.6.5 2.2.5-1.9.5-1 .5-5.1.5 .7.5 2.1.5 1.3.5 2.6.5 .5.5-2.1.5-3.6.5 .3.5 .2.5 1.3.5 .8.5 3.9.5 0 .5-3.7.4-4.8.5 1.1.5 1.1.5 3 .5 1.6.5 1.6.5-2.1.5-3.3.5-4 .5 2.3.5 1.7.5 2.5.5 2.7.5 .5.5-5 .5-2.1.5 .4"/><path stroke="#c81a3c" stroke-width="1.4" d="M303.3 121.3l.5-3.2.5 3.1.5-3.3.5 2.8.5-3.4.5 2.5.5-4.1.5 3.3.5-2.6.5 3.6.5-3.7.5 2.2.5-3.5.5 2.6.5-3 .5 3.2.4-3.5.5 4.1.5-4.2.5 2.2.5 2.7.5 2.5.5 1.7.5 1.2.5-2.9.5-2.5.5-1.6.5-3.2.5-.3.5 2.5.5 2.5.5 2.1.5 2.4.5 .6.5-2.9.5-.8.5 2.4.5-3.5.5-3.8.5 1.7.5 .8.5 .9.5 1.2.5 .4.5-1.4.5-.5.5-1.8.5 .2.5 2.1.5 1.6.4 2.4.5 .7.5-6.1.5-1.3.5 .5.5 .8.5 1.3.5 3.2.5 .1.5-.7.5-4.2.5-2 .5 2.1.5 2.6.5 1.1.5 .4.5 .2.5-2.8.5-4.1.5 1.8.5 1.8.5 .8.5 3.1.5 .7.5-2.1.5-3.2.5-3 .5 2.1.5 2.6.5 .7.5 1 .5 1.2.5-4 .5-4.6.4 .5.5 4.7.5 .5.5 .2.5 1.1.5-1.3.5-2.2.5-.7.5 1.7.5-.3.5 1.1.5 1.1.5-.1.5 1.4.5-4.9.5 .9.5 1.4.5-.1.5 1.1.5 2.8.5-3.1.5-1.2.5-2.2.5 3.3.5 0 .5 1.2.5 1.2.5 1 .5-5.3.5-3.4.5 .4.5 3.6.5 1.7.5 1.6.4 4 .5-4.6.5-3.1.5-2.7.5 1.7.5 1.2.5 3.5.5-1 .5 .9.5-2.7.5-1.6.5 2 .5-1.1.5 1.4.5 .9.5-1.6.5-.1.5-1 .5-2.2.5 2.3.5-.2.5 2.9.5-.4.5 1.2.5-2.3.5-3.9.5 3.3.5-.4.5 2.3.5 .3.5-.8.5-.7.5-1 .5-1.9.4 3.4.5-.1.5 .8.5 2.4.5-.5.5-2.7.5-4.7.5 2.6.5 1.2.5-.3.5 1.8.5 .8.5 .6.5-3 .5-4 .5 1.4.5 2.4"/><path stroke="#0a7cc8" stroke-width="1.4" d="M303.3 125.7l.5-3.4.5 3.6.5-2.9.5 3.1.5-3.3.5 2 .5-3.4.5 3 .5-3.3.5 3 .5-2.9.5 2.5.5-3.4.5 2.5.5-2.8.5 2.7.4-2.9.5 2.6.5-3.1.5 2.2.5 2.3.5 3.2.5 1.8.5 0 .5-1.7.5-3.4.5-2.2.5-2.6.5 1 .5 1.8.5 2.4.5 3.1.5 1.6.5 .3.5-2.7.5 1.3.5 1 .5-2.8.5-3.1.5-1.3.5 2.1.5 1.8.5 .1.5-.2.5 0 .5-1 .5-2.9.5 1.8.5-.3.5 2.8.4 .1.5 1.9.5-2.6.5-1.9.5-2.1.5 2.3.5 1.2.5-.2.5 1 .5 .7.5-1.9.5-.9.5-1.2.5 .9.5 .8.5 3.3.5 1.3.5-2.4.5-4.1.5-.5.5 1.8.5 1.4.5 .5.5 2.4.5-.9.5-2.8.5-1 .5 .1.5 .5.5 1.2.5 0 .5 .9.5-.5.5-1.6.4-1.7.5 1 .5 1.1.5 2.5.5 .6.5 .7.5-5.2.5-1.3.5 1.7.5-.4.5 1.6.5 1.8.5 .5.5-.4.5-3.1.5-3.4.5 3.3.5 1.3.5 1 .5 2.8.5-1.7.5-1.7.5-2.4.5-.2.5 .2.5 2.2.5 3.3.5-.5.5-2.3.5-2.6.5 0 .5 .3.5 1.2.5 1.3.4 1.2.5 .2.5-3.2.5-3.1.5 2.6.5 1.3.5 .9.5 .3.5 .3.5 .8.5-3.6.5-2.1.5 2.6.5 2.3.5-1.5.5 2.8.5 .1.5-3 .5-2 .5-1 .5 1 .5 2.4.5 1.1.5 2.2.5-2.1.5-1.6.5-.7.5-1 .5 2.4.5 1.7.5 .7.5 .2.5-3.3.5-2.1.4-1.3.5 3.2.5 .1.5 2.5.5 .5.5-.6.5-4.2.5-1.7.5 2.6.5 1 .5 .8.5 1.3.5 .8.5-2.9.5-1.1.5-.1.5 .7"/><path stroke="#f05a1e" stroke-width="1.4" d="M303.3 131l.5-3.4.5 3.5.5-3 .5 2.8.5-3.7.5 2.1.5-2.7.5 3.1.5-2.9.5 2.7.5-3.1.5 3.4.5-4.3.5 3 .5-3.9.5 3.5.4-2.9.5 3.3.5-3.8.5 2.4.5 2 .5 2.1.5 2.5.5 1.3.5-3.5.5-1.8.5-2.8.5-2.2.5 0 .5 1.9.5 2.3.5 3.1.5 2 .5-.3.5-1.9.5 1.2.5-2.6.5-5.5.5 2.3.5 1.4.5 .4.5 1.3.5 2.6.5-.3.5-4.4.5-1.8.5 1.6.5 1.4.5 1.3.5 .3.4 0 .5-1.4.5-3.4.5 .8.5 .4.5 .7.5 3.8.5 .6.5-.4.5-3.8.5-3.4.5-.7.5 3.7.5 2.7.5 1.5.5 .1.5-2.3.5-4.4.5-.3.5 2.1.5 .6.5 3.3.5 0 .5-1.3.5-2.4.5-1 .5 .6.5 .8.5 2.1.5 1.8.5 .8.5-2.2.5-3.6.5-.8.4 1.5.5 2.4.5 .3.5 2.7.5-2.1.5-2.5.5-2.4.5 1.2.5 1.4.5 .5.5 2 .5 .8.5-1.8.5-3.3.5-1.3.5 2.2.5 2.4.5 1.9.5 1.3.5-.4.5-4.1.5-4.6.5 3.8.5-1.1.5 3.9.5 1.2.5-.4.5-.8.5-3.9.5 .1.5 .5.5 1.8.5 1.5.5-1.1.4 1.8.5-1.9.5-3.6.5 1.5.5 1.8.5 1.5.5 .1.5 1.6.5-1.4.5-4.5.5-1.2.5 2.7.5 2 .5 .1.5 2.9.5 .6.5-4.8.5-4.6.5 2 .5 2.9.5-.4.5 3.3.5 1.2.5-2.3.5-4.3.5-1.7.5 3.2.5 .4.5 1.8.5 1.5.5 1 .5-5.1.5-2.2.5 1 .4 2.8.5 .5.5 1.6.5 .8.5-1.5.5-3.9.5 .1.5 .7.5 1.2.5 1.5.5 2.8.5-.4.5-4 .5-1.3.5 1 .5 0 .5 1"/></g></svg>
<rect x="303.8" y="48.0" width="83.0" height="86.0" fill="none" stroke="#9a9a9a" stroke-width="1"/>
<svg x="413.3" y="47.5" width="84.0" height="87.0" viewBox="413.3 47.5 84.0 87.0" overflow="hidden"><g fill="none" stroke-linejoin="round"><path stroke="#0a7cc8" stroke-width="1.4" d="M413.3 54.1l.5-2.5.5 3.2.5-3.3.5 2.6.5-3.9.5 2.7.5-3.4.5 3.8.5-3.3.5 3.2.5-3.3.5 2.6.5-4.1.5 3.6.5-3.4.5 3.1.4-3.4.5 2.9.5-3.4.5 1.9.5 3.6.5 1.8.5 2.6.5-.3.5-2 .5-2.4.5-2.5.5-2.1.5-1.1.5 3.3.5 2 .5 2.4.5 2.5.5 .2.5-2.5.5-1.5.5-1.1.5-2.3.5 .4.5 .4.5 3 .5 1.3.5 1.9.5-3.6.5-5.1.5 1.3.5 .6.5 2.3.5 2.7.5-.8.4-.2.5-2.7.5-3.1.5 1.3.5 1.5.5 1.9.5 .2.5-.3.5 .6.5-3.3.5-1 .5 1.3.5 2 .5 .5.5 1.9.5-.7.5-3.3.5-2.2.5 1 .5 1.3.5 .9.5 3.4.5 .1.5-2.1.5-3.3.5-.9.5 2.2.5 1 .5 2 .5 .4.5-1 .5-1.9.5-3.2.5 1.8.4 .2.5 .9.5 2.6.5 2.1.5-3.8.5-.5.5-1.8.5 .5.5 3 .5-1 .5 1.9.5 0 .5-1.9.5-4.9.5 2.5.5 1.3.5 1.1.5 2.2.5 1 .5-1.5.5-5.2.5-.6.5 2.5.5 .7.5 3 .5 1 .5-2 .5-1.7.5-4.2.5 3.5.5-.6.5 1.9.5 2.5.5 1.4.4-3.2.5-3 .5-1.2.5 1.7.5 2.4.5 0 .5 0 .5 .2.5-1.6.5-3.5.5 1 .5 2.9.5 .5.5 1.4.5 2.8.5-3.1.5-4.5.5-.7.5 1 .5 1.9.5 1.2.5 2.4.5-.3.5-2.5.5-5 .5 1.6.5 2 .5 2.4.5 1.4.5 .8.5-.7.5-4.3.5-2.7.5 2.3.4 2 .5 1 .5-.1.5 1.1.5-1.7.5-4.1.5 .8.5 2.6.5 1.1.5 .9.5 2.3.5-1.9.5-2.5.5-2.2.5 .8.5 1.8.5 2.2"/><path stroke="#f05a1e" stroke-width="1.4" d="M413.3 59.6l.5-3.2.5 3.3.5-3 .5 2.3.5-4 .5 3.1.5-2.8.5 3.5.5-3.9.5 3.7.5-3.8.5 2.1.5-3.6.5 3.6.5-3.3.5 3.4.4-3.6.5 2.4.5-3.3.5 2.7.5 2.6.5 2.5.5 2.3.5 .6.5-2.8.5-2.2.5-2.6.5-2.4.5-.4.5 2.6.5 2.2.5 2.5.5 2.5.5 .4.5-2.9.5-1.8.5-3.7.5-1.2.5 2.5.5 3.2.5 1.4.5 2.1.5-2 .5-3.1.5-2.7.5 1 .5 .2.5 3.7.5 3.6.5 2.1.4-7 .5-3.6.5-.6.5 2.3.5 .5.5 1.3.5 1.2.5 1 .5-4.1.5-2.9.5 .4.5 3.2.5 1.2.5 2.7.5 1.1.5-3.8.5-2.7.5-1.3.5 2.1.5 1.2.5 3 .5 .6.5-2.9.5-.7.5-1.5.5 1.5.5 .2.5 .7.5 2.1.5 2.2.5-4.1.5-3.7.5 .4.5 1.2.4-.4.5 2.5.5 1.9.5 .3.5-4.4.5-1 .5 1.1.5 1.7.5-.2.5 1 .5 2.7.5-4.2.5-2.5.5 1.2.5 .5.5 1 .5 2.4.5 1.1.5 0 .5-4.5.5-5.5.5 4.7.5 .8.5 1.7.5 1.7.5 2.5.5-5 .5-2.8.5 .3.5 1.7.5 .6.5 .5.5 2 .5-.2.4-2.6.5-2.6.5-.2.5 3.1.5 .9.5 1 .5 3.4.5-3.3.5-3.4.5-2 .5 2.3.5 2.9.5-1.3.5 1.4.5 1.3.5-4.1.5-3.4.5 .2.5 3.3.5 2.7.5 1.7.5-.6.5-1.9.5-2.2.5-.7.5-.5.5 1.8.5 3.1.5 .6.5 0 .5-2.5.5-4 .5 1.7.5 2.3.4-.6.5 2.5.5 .9.5-1.3.5-4.4.5-.9.5 1.3.5 1.6.5 1.9.5 1.9.5-1.8.5-1.8.5 .3.5-1.2.5 1 .5 .2.5 1.9"/><path stroke="#f0b020" stroke-width="1.4" d="M413.3 65.7l.5-3.8.5 3 .5-3.6.5 2.5.5-3.7.5 3.3.5-3.1.5 3.6.5-3.7.5 3 .5-3.4.5 2.3.5-3.8.5 3.9.5-3.3.5 3.2.4-3.8.5 2.8.5-3 .5 2.4.5 2.2.5 2.5.5 1.9.5 .4.5-2.7.5-2 .5-2 .5-2.5.5-.4.5 2.4.5 2.4.5 2.9.5 1.7.5 .7.5-2.6.5-3.7.5-2.3.5 .5.5 1.8.5 3.3.5 1.5.5-2.8.5-.8.5-4.3.5 2.9.5 1.5.5 .2.5 1.4.5 .6.5-3.1.4-.1.5 0 .5 0 .5-.2.5 2.7.5 .3.5-.5.5-2.8.5-3.8.5 3 .5 .8.5 2.4.5 1.2.5 1.3.5-2.5.5-3.4.5-.7.5 .8.5 2.6.5 1.2.5 .2.5-.3.5-1.8.5-3.4.5 .9.5 1.5.5 1.4.5 2.4.5-.5.5 .1.5-4.4.5 .4.5 1.7.5 .3.4 1.1.5 1.3.5-.1.5-2.2.5-2.9.5 .9.5 2.2.5 .9.5 0 .5 1.4.5-1.6.5-1.4.5-1.5.5 1.3.5 0 .5 1.4.5 2 .5-.9.5-2.7.5-2.5.5 .9.5 1.2.5 3.1.5-.6.5 .9.5 .7.5-6.5.5-1.9.5 3.5.5 1.7.5 1.8.5 1.5.5-.2.5-2.9.4-1.8.5 .2.5 .3.5 1.6.5 1.9.5 1.4.5-1.9.5-3.5.5-1.7.5 2 .5 1.1.5 .9.5 1.3.5 1.3.5-4.2.5-1.3.5-.4.5 1.5.5 2.7.5 1.2.5 .3.5-.9.5-2.3.5-2 .5 .4.5 2.6.5-.7.5 4.3.5-2 .5-2.9.5-2.7.5 1.1.5 2 .5 .7.4 .8.5 1.2.5-2 .5-2.5.5-1 .5 .1.5 3.6.5-.1.5 .6.5 1.7.5-2.4.5-4.9.5 .8.5 1.7.5 1.9.5 0 .5 2.4"/><path stroke="#8428a4" stroke-width="1.4" d="M413.3 73.7l.5-8 .5 4.9.5-6.4.5 6.4.5-7.8.5 7.6.5-6.3.5 6.8.5-7.2.5 5.7.5-7 .5 6.7.5-7.1.5 6 .5-5.9.5 7.2.4-6.6.5 5.8.5-5.1.5 2 .5 2.6.5 2.5.5 2.7.5 0 .5-3 .5-1.6.5-2.8.5-2.1.5-.5.5 2.3.5 2.1.5 2.9.5 2.6.5-.4.5-2.4.5-2.6.5-3.9.5 7.2.5-6.6.5 8.6.5-2.3.5 .4.5-6.7.5 3.7.5-2.4.5 4.8.5-2.9.5 4.6.5-3.1.5 1.4.4-6.3.5 5.2.5-5.9.5 7.7.5-4.5.5 7.7.5-7.4.5 .6.5-5.5.5 7.1.5-3.7.5 7.2.5-3.5.5 1.5.5-6.3.5 5.2.5-4.9.5 4.9.5-3.1.5 7 .5-3.4.5 .3.5-6 .5 3.7.5-4.2.5 6.5.5-4 .5 6.9.5-5.3.5 1.6.5-7.3.5 6.1.5-4 .5 6.9.4-5.2.5 6.1.5-7.4.5 2.4.5-4 .5 5.8.5-3.2.5 7.5.5-6.9.5 6.5.5-7.7.5 3.5.5-5.1.5 5.4.5-3.2.5 5.2.5-2.3.5 3.3.5-9.5.5 5.6.5-3.9.5 7.5.5-3.2.5 4 .5-4.6.5 3.6.5-10.4.5 6.7.5-1.7.5 5.4.5-3.2.5 3.5.5-5.5.5 1.4.4-4.4.5 4.5.5-1.9.5 6.4.5-3.5.5 4.3.5-8 .5 1.4.5-3.4.5 5.3.5-3.4.5 4.9.5-1.1.5 2.8.5-8.1.5 3.5.5-2.1.5 5.8.5-3.2.5 5 .5-5.6.5 4.2.5-10.3.5 6.9.5-3.5.5 7 .5-3.1.5 3.8.5-5.2.5 2.7.5-6.2.5 6.6.5-5.3.5 6.5.4-3.7.5 6 .5-7.8.5 1.6.5-5 .5 9 .5-5.4.5 5.8.5-1.6.5 2.3.5-5.4.5-.2.5-2.7.5 7.7.5-4 .5 7.3.5-7.1"/><path stroke="#72b63a" stroke-width="1.4" d="M413.3 76.1l.5-4 .5 3 .5-3.9.5 3.3.5-3.7.5 2.7.5-2.8.5 3.4.5-4.2.5 3.3.5-4.2.5 3.4.5-3 .5 2.9.5-2.7.5 3 .4-4.3.5 2.7.5-3.4.5 3 .5 2.4.5 2.5.5 2.4.5 .5.5-2.5.5-2.8.5-1.9.5-2.9.5 0 .5 2.2.5 2.1.5 2.5.5 3.2.5-.2.5-2.8.5-6 .5 3.2.5-.9.5 3 .5 2 .5 .5.5-2.8.5-3.8.5-.1.5 1.6.5 1.1.5 2.3.5 2.3.5-2.9.5-3.6.4-1.7.5 1.5.5 1.5.5 .9.5 1.6.5 4.1.5-6.1.5-4.6.5 2.2.5 .5.5 2.7.5 .9.5 2.2.5-3 .5-2 .5-1.8.5 .7.5 2 .5 2.7.5 2.2.5-1.9.5-3 .5-3 .5 1 .5 .1.5 2.4.5 2.4.5 2.9.5-2.9.5-4.5.5 0 .5 .3.5 2.9.5-.4.4 1.7.5-.2.5-1.9.5-4.1.5 .9.5 2.4.5 .6.5 .7.5 1.4.5 .4.5-4.2.5-.6.5 1.2.5 1.3.5-1.2.5 .7.5 4.9.5-5.9.5-1.5.5 0 .5 1.3.5 1.4.5 .6.5 2.5.5-1.7.5-2.2.5-.2.5-.3.5 1.3.5 2 .5 0 .5 1.8.5-4 .5-4.7.4 .5.5 3 .5 2.5.5 .3.5 1 .5-1.2.5-2.1.5-3.1.5 1.5.5 1.4.5 2.8.5 2.5.5 .3.5-4.9.5-4 .5 1.3.5 2.7.5 .2.5 4.6.5 .3.5-1.8.5-4.4.5-3.2.5 2.4.5 1.7.5 .7.5 1.1.5 .7.5-.9.5-1.3.5-1.9.5-.2.5 2.1.5 .7.4 2.5.5-.7.5-3.5.5-3.3.5 1.6.5 1.6.5 3.3.5 0 .5 3.8.5-4.3.5-4.6.5-1.3.5 2.9.5 1.3.5 .8.5 2.3.5-1.5"/><path stroke="#3cc2f2" stroke-width="1.4" d="M413.3 80.9l.5-3.8.5 2.6.5-3.7.5 3 .5-2.9.5 2.9.5-2.9.5 3 .5-3.3.5 2.3.5-3.9.5 3.2.5-2.6.5 2.7.5-3.2.5 2.8.4-3.9.5 2.8.5-2.8.5 2.2.5 3.1.5 2 .5 2.3.5 .1.5-2 .5-2.2.5-2.8.5-1.7.5-.3.5 2 .5 2.5.5 2.1.5 2.7.5-.5.5-2.4.5-5 .5 .9.5 1.1.5 2.8.5 .3.5 .2.5-1.9.5-3.1.5 .5.5 2 .5 .2.5 1.3.5 1 .5-1.6.5-1.6.4-3.2.5 3.1.5 0 .5 2.9.5 3.9.5-3.1.5-3.6.5-1.1.5 0 .5 .9.5 1 .5 1.8.5 2.2.5-2.4.5-2.1.5-2.7.5 1.6.5 .7.5 3.9.5 1.7.5 1.6.5-7.1.5-3.8.5 .1.5 2.9.5 2.4.5 1.3.5 2.2.5-3.2.5-4.1.5 .6.5 .9.5 1.8.5 1 .4 2.4.5 .8.5-4.9.5-5.2.5 5.1.5 .5.5-.2.5 1.3.5 .1.5-.4.5-3.6.5-.5.5 .3.5 3.2.5 1.5.5 2.7.5-.2.5-4.2.5-4 .5 1.4.5 1.7.5 2.4.5 1.6.5 .5.5-2.5.5-2.6.5-.3.5 2 .5-.2.5 2.1.5 1 .5 .9.5-5.1.5-3.6.4 .2.5 1.2.5 3.5.5 2.2.5 2.9.5-3.9.5-2 .5-3 .5 2 .5 1.1.5 1.6.5 2.6.5 .6.5-5 .5-3.6.5 2.2.5 1.1.5 1.2.5 2.6.5 .3.5-2.2.5-2.6.5-2.6.5 1.9.5 2.6.5 .5.5 1.5.5 1.4.5-3.2.5-3 .5-.5.5 2 .5 1.3.5 2.5.4 2.4.5-3.6.5-3.2.5-5.1.5 3.2.5 1.8.5 3.9.5 .6.5 0 .5-.9.5-3.7.5-.5.5 .8.5 2.2.5 1.5.5 3 .5-2.9"/><path stroke="#c81a3c" stroke-width="1.4" d="M413.3 85.5l.5-3.4.5 2.7.5-4.1.5 3.7.5-3.2.5 3.2.5-3 .5 2.4.5-3.9.5 2.7.5-3 .5 2.8.5-2.9.5 3.6.5-3.5.5 2.5.4-3.9.5 2.4.5-2.8.5 2.7.5 2.3.5 2.6.5 2.5.5 .2.5-2.3.5-2.4.5-2.5.5-2.4.5-.1.5 2.3.5 2.9.5 2.2.5 2 .5 .8.5-2.7.5-2.4.5 1.5.5-.6.5 1 .5-.2.5-1.3.5-3.3.5 1 .5 1.9.5 .1.5 0 .5 1.6.5-.1.5-1.9.5-4.3.4 3 .5 1.3.5 1.2.5 .8.5 .7.5-2.9.5-.8.5-.7.5 .7.5 1.7.5 1.8.5 .5.5-.9.5-2.2.5-1.5.5 1.5.5 .3.5 1.6.5 1.9.5-.6.5-3.2.5-2.8.5 3 .5-.8.5 .9.5 2.4.5-.2.5 1.2.5-4.9.5-.9.5 .5.5 1.7.5 1.6.5 1.5.4-.3.5-3 .5-2.7.5 1.1.5 1 .5 .7.5 .2.5 2.3.5-.6.5-3.3.5-.9.5 2.4.5-.6.5 1.1.5 2.5.5 0 .5-2.7.5-2.8.5 .2.5 1.1.5 1.3.5 1.7.5 1.2.5-.4.5-2.7.5-2.5.5 .9.5-.1.5 3.5.5 1.2.5 1.5.5-3 .5-5 .5 .8.4 2 .5-1.3.5 4.6.5 1.3.5-1.8.5-3.6.5-.7.5 .5.5 2.2.5 .3.5 1.2.5 .6.5-2.1.5-2.5.5 .4.5 1.6.5-1.1.5 3.6.5 2 .5-3.8.5-.5.5-2.6.5 1.7.5 .5.5 .3.5 2.4.5 1.1.5-2.5.5-3.9.5-.1.5 2.6.5-.4.5 2.9.5-.4.4 .8.5-1.4.5-4.3.5 1.8.5 1.3.5 .3.5 3 .5 1.2.5-3.7.5-1.7.5-1.7.5 3.4.5 .4.5 .7.5 1.8.5-2 .5-2.9"/><path stroke="#0a7cc8" stroke-width="1.4" d="M413.3 90.9l.5-4 .5 2.9.5-3.6.5 3.3.5-2.7.5 2.8.5-3.5.5 3.3.5-4.6.5 3.2.5-3.2.5 3.2.5-2.5.5 2.5.5-4.2.5 3.7.4-3.5.5 1.9.5-2.6.5 2.7.5 2.2.5 2.5.5 2 .5 .3.5-1.6.5-2.8.5-2.1.5-3 .5 .1.5 2.6.5 2.1.5 2.5.5 2 .5-.2.5-2.1.5-4.2.5 2.3.5 1.3.5 .3.5 .9.5-4.6.5 .1.5-1.1.5 3.1.5 .4.5 2.2.5 3 .5-4.3.5-4.3.5 .1.4 1.7.5 .8.5 .3.5 .6.5 .8.5-1.5.5-3.6.5 1.2.5 1 .5 2.8.5-.1.5 2.2.5-2.6.5-4 .5-.7.5 2 .5 1.5.5 1.3.5 .4.5 .6.5-2.9.5-2.4.5 1.3.5 2.3.5 0 .5 1.2.5 1.1.5-1.5.5-3.6.5-.2.5 2.1.5 2 .5 1 .5 .1.4-.3.5-2.4.5-2 .5 1.7.5-.3.5 1 .5 .3.5 1.4.5-1.2.5-1.5.5-1.7.5 .6.5 .8.5 1.5.5 1.4.5 1.5.5-2 .5-2.5.5 .3.5 .1.5 1.9.5-.5.5 .9.5 .5.5-4.5.5 .4.5 .6.5 1.9.5-.2.5 3.3.5-.2.5-3.1.5-4.2.5 1.7.4 .3.5 3.4.5-.3.5 1 .5-.7.5-2.6.5-.3.5 .5.5 1.4.5-1.4.5 3.3.5-.1.5-3.1.5-1 .5 1.4.5-.9.5 1.8.5 .6.5 2.3.5-3.3.5-1.2.5-1.3.5 1.2.5 .4.5 1.5.5 1.3.5 .8.5-2.8.5-2.4.5-1.3.5 2.2.5 2 .5 1.8.5 1.5.4-2.9.5-1.6.5-.2.5 .5.5 .1.5 1.3.5 1 .5 2.7.5-4.3.5-4 .5 .7.5 2.8.5 1.4.5 2.1.5 1.2.5-3.4.5-2.7"/><path stroke="#f05a1e" stroke-width="1.4" d="M413.3 95.6l.5-3.7.5 3 .5-2.9.5 3.5.5-3.7.5 3.2.5-3.7.5 2.1.5-4.1.5 4.1.5-3 .5 3 .5-3.3.5 3.2.5-4.2.5 2.9.4-3.6.5 3.4.5-3.4.5 2.2.5 2.5.5 2.8.5 2.5.5 .5.5-3.1.5-2.4.5-2.3.5-2 .5-.3.5 2 .5 2.8.5 2.3.5 2.5.5 0 .5-2.7.5-2.8.5 2.7.5 .7.5-.9.5-4.1.5-1.9.5 1.9.5 2.6.5 .4.5 2 .5 .7.5-2.5.5-3.8.5-.8.5 3.8.4 .4.5 1.7.5 1.8.5-2.1.5-3.2.5-1 .5 .9.5 2.1.5 1.2.5 2.3.5 1 .5-4.1.5-6.6.5 4.1.5 1.6.5-.2.5 1.7.5 1.1.5-.7.5-4.2.5-.8.5 1.3.5 2.1.5 1.1.5 1 .5 2.1.5-4.6.5-4.2.5 .7.5 2.6.5 1.8.5 .1.5 1.8.5-2.3.4-2.9.5-2.7.5 2.5.5 2.1.5 .9.5 3.3.5-1.2.5-1.5.5-3.3.5-.8.5 .7.5 2.8.5 2.1.5 .2.5 0 .5-4.8.5-.8.5 .2.5 2.9.5 1.3.5 .8.5 1 .5-2.8.5-4 .5 .6.5 1.5.5 2.3.5-.5.5 1.8.5 .7.5-5.5.5-3.5.5 3.2.5 1.6.4 1.6.5 1.7.5 4 .5-5.9.5-2.9.5-.8.5 1.7.5 3.1.5 .3.5 1.8.5-3.1.5-2.2.5 .1.5 .5.5 2 .5 .1.5 .3.5 2.8.5-5.3.5-3.3.5 1 .5 .8.5 2.2.5 3 .5 1.9.5-.1.5-6.7.5-2.2.5 3 .5 1.8.5 1.5.5 1.1.5 1.5.5-3.2.4-3.8.5 .1.5 1 .5 1.6.5 3.4.5 1.8.5-3.7.5-2.6.5-3.2.5 .9.5 1.9.5 2.6.5 2.6.5 2.6.5-6 .5-3 .5-1.7"/><path stroke="#f0b020" stroke-width="1.4" d="M413.3 100.7l.5-3.7.5 3.3.5-3.8.5 3.5.5-3.2.5 3.5.5-4.7.5 3.1.5-3.4.5 3.1.5-3.4.5 3.6.5-2.9.5 2.4.5-3.6.5 2.4.4-2.7.5 2.6.5-3.5.5 2.6.5 2.4.5 2.7.5 2.3.5 .2.5-1.4.5-3.4.5-2.5.5-2.4.5 .3.5 2.3.5 2.1.5 2.3.5 3.3.5-1 .5-2.4.5-2.6.5 1.3.5 .9.5 .7.5-4.4.5-3.5.5 2 .5 3.2.5 1 .5 2 .5 1 .5-2.2.5-4.9.5-2 .5 2.4.4 2.1.5 2.5.5 1.2.5 0 .5-3.2.5-3.3.5 1.6.5 .6.5 1.9.5 1.7.5 .9.5-2.7.5-1.6.5 0 .5 1.3.5 1.2.5-.2.5 1.4.5 .3.5-3.1.5-5.5.5 2.7.5 1.2.5 2.3.5 2.4.5-1.5.5-.9.5-1.9.5-.9.5 .9.5 2.1.5 1.6.5 1.4.5-.9.4-3 .5-3.8.5 2.4.5 .9.5 0 .5 2.8.5-.1.5-.5.5-.3.5-1.8.5 .5.5 .9.5-.1.5 1 .5-.8.5-1.6.5-2.4.5 .3.5 3 .5 .7.5 1.3.5 1.1.5-3.8.5-.7.5-2.3.5 3.4.5 .7.5-.5.5 .7.5 1.5.5-2.5.5-2.9.5 1.4.5 1.8.4 1.4.5 1.6.5 2.2.5-2.6.5-6 .5 .1.5 1.9.5 2.6.5-1.8.5 3.2.5-.8.5-1.9.5-1 .5-1.5.5 1.3.5 1.2.5 3.1.5 2.2.5-4.1.5-3.7.5-1.4.5 .8.5 2.2.5 2.5.5 2.8.5-1.4.5-2.6.5-4.3.5 1.5.5 .5.5 2.3.5 .2.5 2.5.5-4.2.4 0 .5-2.9.5 .5.5 3.4.5 .8.5 1.8.5 1.3.5-3 .5-2.9.5 1.6.5-.2.5 1.8.5 .6.5 1.9.5-1.6.5-3.4.5-1.5"/><path stroke="#8428a4" stroke-width="1.4" d="M413.3 106.6l.5-5.6.5 4.5.5-4.5.5 5.7.5-4.9.5 3.7.5-5.9.5 5 .5-5.7.5 5.4.5-4.1.5 3.8.5-4.1.5 3.8.5-5 .5 3.2.4-4.6.5 5 .5-3.5.5 2.5.5 2.5.5 2.3.5 2.3.5 .2.5-2 .5-3.2.5-2 .5-2.5.5-.4.5 2.5.5 2.6.5 2.8.5 2.4.5 .1.5-2.9.5-.2.5-2.3.5 3.7.5-2.2.5-1.1.5-4.4.5 5.4.5-4.1.5 5.7.5-3.2.5 2.2.5-3.2.5 1.8.5-2.5.5 1.8.4-1.2.5 4.8.5 .9.5-2.1.5-4.2.5-1.6.5 1.5.5 1.4.5 .1.5 4.3.5-1.9.5 1 .5-5.7.5 5.2.5-1.6.5 1.1.5-3 .5 3.8.5-2.3.5-.7.5-3.3.5 3.4.5-1.9.5 3.3.5-.7.5 2.8.5-5.2.5 2.3.5-3.3.5 4 .5-2.5.5 4.9.5-1.9.5 2.1.4-7.3.5-1.1.5 1.1.5 4.2.5-1.3.5 4.6.5 .4.5-3.3.5-3.5.5-1.1.5 .8.5 5.1.5-.5.5 1.7.5-3.5.5 1.4.5-6.9.5 5.3.5-2.8.5 3.2.5 1.9.5 .9.5-3.2.5 .1.5-1 .5 1.2.5 .9.5 2.4.5-3.2.5 2.2.5-2.2.5-1.7.5-1.6.5 3.8.4-1.7.5 3.5.5-1 .5-.1.5-3 .5 .6.5-1.2.5 2.9.5 .8.5 3 .5-3.4.5 1 .5-5.4.5 3 .5-2.1.5 3.5.5 1.1.5 .5.5-1.2.5-1.1.5-3.7.5 5.1.5-2.7.5 1.7.5-.7.5 1.9.5-3.8.5-2 .5 0 .5 3.6.5-.6.5 2.9.5-.4.5 1.1.4-6.4.5 1.2.5 .5.5 2.3.5 .7.5 3.1.5-3.9.5 .8.5-3.9.5 2.3.5-.3.5 2.2.5-.1.5 2.2.5-3 .5-1.2.5-2.6"/><path stroke="#72b63a" stroke-width="1.4" d="M413.3 111l.5-4.5.5 3.1.5-2.5.5 3.6.5-3.5.5 3.1.5-4.2.5 3 .5-3.7.5 3.2.5-3.7.5 4 .5-3.3.5 3 .5-3.8.5 2.3.4-2.9.5 3.2.5-3.8.5 2.6.5 2.2.5 1.8.5 3.5.5-.1.5-1.9.5-2.7.5-2.2.5-2.7.5-.1.5 2.3.5 2.4.5 2.8.5 2.4.5-.5.5-2 .5-.8.5-.9.5 2.5.5-.1.5-5 .5-.4.5 1.5.5 .2.5 1.4.5 .9.5 2.5.5-4.1.5-3.8.5 2.5.5 .3.4 1.3.5 1.6.5 1.4.5-1.3.5-5.2.5 0 .5 2 .5 1.3.5 .7.5 1.8.5 .7.5-3.6.5-2.1.5-.8.5 2.8.5 1.4.5-.1.5 2.4.5-1.5.5-5 .5 .3.5 1.6.5 1.5.5 1.7.5 1.5.5-1.4.5-3.6.5-3.5.5 2 .5 2.2.5 .6.5 1.1.5 2.5.5-1.2.4-3.6.5-3.7.5 3.3.5 .1.5 2.3.5 1.6.5 0 .5-3.1.5-3.3.5 1.5.5 1.5.5 2.2.5 .2.5 1.5.5-.8.5-4.1.5-2.9.5 2.6.5 2.1.5 .9.5 3 .5-.9.5-3.8.5-2 .5 .9.5 .9.5 1.7.5 1.5.5 3.3.5-1.6.5-6.2.5-1.5.5 1.6.5 2.9.4 0 .5 1.1.5-1.2.5-.3.5-2.7.5 1.2.5 1.8.5 .1.5 .2.5 1.5.5 0 .5-3.8.5-1.6.5 1.5.5 .7.5 .6.5 3 .5 1.1.5-3.5.5-3.2.5 1.5.5 .9.5 .8.5 1.3.5 2.4.5-1.4.5-3.8.5-1.1.5 0 .5 3 .5 .3.5 .5.5 2.2.5-2.6.4-3.8.5-.2.5 1.2.5 2.8.5 1.5.5 1 .5-1.2.5-3 .5-3 .5 1.3.5 2.4.5 1.2.5 1.4.5 1.3.5-3.6.5-3.6.5 .5"/><path stroke="#3cc2f2" stroke-width="1.4" d="M413.3 115.4l.5-3.2.5 3.4.5-3.8.5 4 .5-3.8.5 3.5.5-4.2.5 2.2.5-2.1.5 2.9.5-3.1.5 2.8.5-2.9.5 2.4.5-4 .5 2.9.4-3.1.5 3.1.5-3.5.5 2.4.5 2.1.5 3.1.5 2.6.5-.2.5-2.4.5-2.1.5-2.9.5-1.8.5-.3.5 2.2.5 2.3.5 3 .5 2.2.5-.2.5-2.6.5-.8.5 .9.5 1.2.5-2.2.5-3.8.5-.9.5 2.1.5 .9.5 .8.5 3.1.5 .5.5-3.8.5-3.8.5 1.5.5 1.3.4 .9.5 2.2.5 2.4.5-2.2.5-5.1.5-2.7.5 2.8.5 2.4.5 1 .5 1.2.5-.8.5-1.3.5-1.5.5-.1.5 .8.5 1.7.5 2.2.5 2.7.5-4.7.5-4.3.5-.3.5-.3.5 4 .5 1.3.5 2.2.5-.4.5-3.1.5-1.1.5 .5.5 .5.5 .3.5 .5.5 3.2.5-2.3.4-3.9.5-2.5.5 2.3.5 2.5.5 2.3.5-.4.5 1.4.5-4.6.5-2.7.5 2.3.5 .8.5 .5.5 2.3.5 3.1.5-3.5.5-4.5.5-1.7.5 2.6.5 .8.5 2.4.5 .9.5 0 .5-2.5.5-2.7.5-2.2.5 3.8.5 1.9.5 3.8.5 1.6.5-3.7.5-5.9.5-2.1.5 3.1.5 2.9.4 .7.5 3 .5-.3.5-4.4.5-1.6.5-1.1.5 2.3.5 1.1.5 2.2.5 2.1.5-3.5.5-1.7.5-3.3.5 1.2.5 3.2.5 1.6.5 2.2.5-1.9.5-1 .5-5.1.5 .7.5 2.1.5 1.3.5 2.6.5 .5.5-2.1.5-3.6.5 .3.5 .2.5 1.3.5 .8.5 3.9.5 0 .5-3.7.4-4.8.5 1.1.5 1.1.5 3 .5 1.6.5 1.6.5-2.1.5-3.3.5-4 .5 2.3.5 1.7.5 2.5.5 2.7.5 .5.5-5 .5-2.1.5 .4"/><path stroke="#c81a3c" stroke-width="1.4" d="M413.3 121.3l.5-3.2.5 3.1.5-3.3.5 2.8.5-3.4.5 2.5.5-4.1.5 3.3.5-2.6.5 3.6.5-3.7.5 2.2.5-3.5.5 2.6.5-3 .5 3.2.4-3.5.5 4.1.5-4.2.5 2.2.5 2.7.5 2.5.5 1.7.5 1.2.5-2.9.5-2.5.5-1.6.5-3.2.5-.3.5 2.5.5 2.5.5 2.1.5 2.4.5 .6.5-2.9.5-.8.5 2.4.5-3.5.5-3.8.5 1.7.5 .8.5 .9.5 1.2.5 .4.5-1.4.5-.5.5-1.8.5 .2.5 2.1.5 1.6.4 2.4.5 .7.5-6.1.5-1.3.5 .5.5 .8.5 1.3.5 3.2.5 .1.5-.7.5-4.2.5-2 .5 2.1.5 2.6.5 1.1.5 .4.5 .2.5-2.8.5-4.1.5 1.8.5 1.8.5 .8.5 3.1.5 .7.5-2.1.5-3.2.5-3 .5 2.1.5 2.6.5 .7.5 1 .5 1.2.5-4 .5-4.6.4 .5.5 4.7.5 .5.5 .2.5 1.1.5-1.3.5-2.2.5-.7.5 1.7.5-.3.5 1.1.5 1.1.5-.1.5 1.4.5-4.9.5 .9.5 1.4.5-.1.5 1.1.5 2.8.5-3.1.5-1.2.5-2.2.5 3.3.5 0 .5 1.2.5 1.2.5 1 .5-5.3.5-3.4.5 .4.5 3.6.5 1.7.5 1.6.4 4 .5-4.6.5-3.1.5-2.7.5 1.7.5 1.2.5 3.5.5-1 .5 .9.5-2.7.5-1.6.5 2 .5-1.1.5 1.4.5 .9.5-1.6.5-.1.5-1 .5-2.2.5 2.3.5-.2.5 2.9.5-.4.5 1.2.5-2.3.5-3.9.5 3.3.5-.4.5 2.3.5 .3.5-.8.5-.7.5-1 .5-1.9.4 3.4.5-.1.5 .8.5 2.4.5-.5.5-2.7.5-4.7.5 2.6.5 1.2.5-.3.5 1.8.5 .8.5 .6.5-3 .5-4 .5 1.4.5 2.4"/><path stroke="#0a7cc8" stroke-width="1.4" d="M413.3 125.7l.5-3.4.5 3.6.5-2.9.5 3.1.5-3.3.5 2 .5-3.4.5 3 .5-3.3.5 3 .5-2.9.5 2.5.5-3.4.5 2.5.5-2.8.5 2.7.4-2.9.5 2.6.5-3.1.5 2.2.5 2.3.5 3.2.5 1.8.5 0 .5-1.7.5-3.4.5-2.2.5-2.6.5 1 .5 1.8.5 2.4.5 3.1.5 1.6.5 .3.5-2.7.5 1.3.5 1 .5-2.8.5-3.1.5-1.3.5 2.1.5 1.8.5 .1.5-.2.5 0 .5-1 .5-2.9.5 1.8.5-.3.5 2.8.4 .1.5 1.9.5-2.6.5-1.9.5-2.1.5 2.3.5 1.2.5-.2.5 1 .5 .7.5-1.9.5-.9.5-1.2.5 .9.5 .8.5 3.3.5 1.3.5-2.4.5-4.1.5-.5.5 1.8.5 1.4.5 .5.5 2.4.5-.9.5-2.8.5-1 .5 .1.5 .5.5 1.2.5 0 .5 .9.5-.5.5-1.6.4-1.7.5 1 .5 1.1.5 2.5.5 .6.5 .7.5-5.2.5-1.3.5 1.7.5-.4.5 1.6.5 1.8.5 .5.5-.4.5-3.1.5-3.4.5 3.3.5 1.3.5 1 .5 2.8.5-1.7.5-1.7.5-2.4.5-.2.5 .2.5 2.2.5 3.3.5-.5.5-2.3.5-2.6.5 0 .5 .3.5 1.2.5 1.3.4 1.2.5 .2.5-3.2.5-3.1.5 2.6.5 1.3.5 .9.5 .3.5 .3.5 .8.5-3.6.5-2.1.5 2.6.5 2.3.5-1.5.5 2.8.5 .1.5-3 .5-2 .5-1 .5 1 .5 2.4.5 1.1.5 2.2.5-2.1.5-1.6.5-.7.5-1 .5 2.4.5 1.7.5 .7.5 .2.5-3.3.5-2.1.4-1.3.5 3.2.5 .1.5 2.5.5 .5.5-.6.5-4.2.5-1.7.5 2.6.5 1 .5 .8.5 1.3.5 .8.5-2.9.5-1.1.5-.1.5 .7"/><path stroke="#f05a1e" stroke-width="1.4" d="M413.3 131l.5-3.4.5 3.5.5-3 .5 2.8.5-3.7.5 2.1.5-2.7.5 3.1.5-2.9.5 2.7.5-3.1.5 3.4.5-4.3.5 3 .5-3.9.5 3.5.4-2.9.5 3.3.5-3.8.5 2.4.5 2 .5 2.1.5 2.5.5 1.3.5-3.5.5-1.8.5-2.8.5-2.2.5 0 .5 1.9.5 2.3.5 3.1.5 2 .5-.3.5-1.9.5 1.2.5-2.6.5-5.5.5 2.3.5 1.4.5 .4.5 1.3.5 2.6.5-.3.5-4.4.5-1.8.5 1.6.5 1.4.5 1.3.5 .3.4 0 .5-1.4.5-3.4.5 .8.5 .4.5 .7.5 3.8.5 .6.5-.4.5-3.8.5-3.4.5-.7.5 3.7.5 2.7.5 1.5.5 .1.5-2.3.5-4.4.5-.3.5 2.1.5 .6.5 3.3.5 0 .5-1.3.5-2.4.5-1 .5 .6.5 .8.5 2.1.5 1.8.5 .8.5-2.2.5-3.6.5-.8.4 1.5.5 2.4.5 .3.5 2.7.5-2.1.5-2.5.5-2.4.5 1.2.5 1.4.5 .5.5 2 .5 .8.5-1.8.5-3.3.5-1.3.5 2.2.5 2.4.5 1.9.5 1.3.5-.4.5-4.1.5-4.6.5 3.8.5-1.1.5 3.9.5 1.2.5-.4.5-.8.5-3.9.5 .1.5 .5.5 1.8.5 1.5.5-1.1.4 1.8.5-1.9.5-3.6.5 1.5.5 1.8.5 1.5.5 .1.5 1.6.5-1.4.5-4.5.5-1.2.5 2.7.5 2 .5 .1.5 2.9.5 .6.5-4.8.5-4.6.5 2 .5 2.9.5-.4.5 3.3.5 1.2.5-2.3.5-4.3.5-1.7.5 3.2.5 .4.5 1.8.5 1.5.5 1 .5-5.1.5-2.2.5 1 .4 2.8.5 .5.5 1.6.5 .8.5-1.5.5-3.9.5 .1.5 .7.5 1.2.5 1.5.5 2.8.5-.4.5-4 .5-1.3.5 1 .5 0 .5 1"/></g></svg>
<rect x="413.8" y="48.0" width="83.0" height="86.0" fill="none" stroke="#9a9a9a" stroke-width="1"/>
<svg x="83.2" y="172.7" width="84.0" height="86.5" viewBox="83.2 172.7 84.0 86.5" overflow="hidden"><g fill="none" stroke-linejoin="round"><path stroke="#0a7cc8" stroke-opacity="0.85" stroke-width="0.85" d="M83.2 177.9l8 0"/><path stroke="#0a7cc8" stroke-width="1.5" d="M91.2 177.9l.4-.1.5 1 .5 .2.5-.5.5-1.1.5-1.3.5-.6.5 3.9.5 .3.5-1.3.5-.7.5 .1.5 1 .5 1.5.5-2.9.5 .7.5-1.9.5 1.6.5 .2.5 2.3.5-1.9.5-2.6.5 1.1.5 1.2.5 .2.5 1.5.5-3.6.5 1.8.5-.6.5-.7.5 1 .5 .3.5 0 .5-2.5.4 2 .5-1.6.5 2.4.5-2.2.5 2.9.5-1.2.5 0 .5 1.4.5 0 .5 .4.5-1.1.5-1.6.5-.2.5 3.4.5-1.9.5 1.1.5 0 .5-2.2.5 .5.5-.8.5-.1.5 2.8.5-3.1.5 .7.5-.1.5 1.3.5 .4.5-.5.5-1.7.5-.3.5 3.4.5-1.9.5 1.9.5-2 .4 1.3.5-3.4.5 2.3.5 .8.5 .6.5-1.6.5-1.4.5 2.5.5 .2.5 .4.5-.2.5-3.5.5 2.5.5-1.2.5 1.1.5-.2.5 2.3.5-1.9.5 .5.5-.8.5 .9.5 .9.5-2.6.5 3.2.5-2.2.5 .2.5 1.7.5-1.3.5-2.2.5 .5.5-.3.5 2.8.5-.7.5-3.3.4 .1.5 1.8.5-.2.5 .9.5-2.2.5 .8.5 2.3.5-2 .5 .2.5 3.1.5-2.8.5 .7.5-.7.5-1.1.5 1 .5 2.6.5-1.3.5-1 .5 1.1.5-2.5.5 2 .5-1.3.5 1 .5 1.4.5-.5.5 .3.5-1 .5 .4.5 .2.5-2.9.5 1.5.5 .8.5-.1.5-.4.4 .1.5-1.4.5 1.1.5 1 .5 .6.5-1.8.5-.3.5-.1.5-.5.5 1.2.5-1.2.5 1.2.5 .1.5-.6.5 .6.5 1.5.5-.5"/><path stroke="#f05a1e" stroke-opacity="0.85" stroke-width="0.85" d="M83.2 183l8 0"/><path stroke="#f05a1e" stroke-width="1.5" d="M91.2 183l.4 .7.5 1.1.5-2.5.5 1.1.5-1 .5-.1.5 1.7.5-.5.5-2.9.5 1.8.5 .1.5 1.9.5 .5.5-3.1.5 1.6.5-2.8.5 1.2.5 2.3.5-.4.5-2.5.5 2.8.5-1.9.5 .4.5 1.3.5 1.1.5-1.9.5 .3.5-2 .5 1.4.5 .8.5 .5.5-.6.5-1.9.5 2.2.4-.2.5-1.4.5 .2.5 1.3.5-1.3.5 1.6.5 .8.5-1.2.5-1.7.5 1.6.5-.6.5 .5.5-1.2.5 1.2.5 1.3.5-.7.5 .2.5-3.5.5 1.4.5 1.4.5-2.7.5 1.2.5 .3.5-.2.5 .5.5 1.1.5 .4.5-1 .5-1.4.5 2.2.5-1.1.5 .5.5-1.1.5 .7.4 0 .5-1.9.5 1.5.5-.1.5-1.1.5 2 .5 .5.5-.6.5 2.3.5-2 .5-1.2.5 2.1.5-1.1.5 1.4.5-1.2.5-1.6.5 .5.5-.1.5-.7.5 3.3.5-4.2.5 2.4.5-.2.5-.5.5 1.1.5 1.9.5-2 .5-1.5.5 .2.5 3.1.5 0 .5-3.4.5 2.3.5-1.8.4 2.8.5-.7.5-3.3.5 4.2.5-3.5.5 .4.5-1.4.5 2.1.5 .7.5-1.2.5 .2.5-1.2.5 3.6.5-.5.5-1.9.5 .1.5 .4.5-2.1.5 2.8.5-1.8.5 2.3.5-1.2.5 1.2.5-.8.5-.6.5-.2.5 .1.5 2.1.5-1.7.5 0 .5-.4.5-.8.5 2.1.5-.7.4-.8.5-1.6.5 1 .5 0 .5 1.9.5-1.2.5-1.1.5 1.6.5-.8.5 3.1.5-2.2.5 1 .5-3.2.5 1 .5 2.2.5-2 .5 .1"/><path stroke="#f0b020" stroke-opacity="0.85" stroke-width="0.85" d="M83.2 188l8 0"/><path stroke="#f0b020" stroke-width="1.5" d="M91.2 188l.4 .9.5-1.4.5 2.1.5-3.2.5 2.1.5 1.8.5-.5.5-3 .5 1.4.5-2 .5 3.1.5-1.1.5-.8.5 .6.5 .3.5-.8.5-.4.5 1.7.5 .3.5-1.4.5 1.3.5-2.6.5 1.9.5 .3.5-.7.5 .9.5-3.2.5 2.6.5 .4.5 0 .5-3 .5 0 .5 .5.5 2.8.4-.5.5-.7.5-1.4.5-.5.5-.2.5 2.3.5 .5.5-1 .5 1.4.5-1.5.5-.6.5-.3.5 2.3.5-1.2.5 1.7.5-2.5.5-1.1.5 2.8.5-.6.5-.9.5 1.8.5-3.1.5 1.8.5-.1.5 .5.5 .9.5 .2.5-1.3.5 1.3.5-1.1.5-.8.5-.7.5 2.4.5-1.1.4 .1.5 .6.5 1.2.5-1.3.5-.8.5 0 .5-.9.5 3.7.5-1.2.5-1.3.5 .3.5-.4.5 1.3.5 .1.5-.8.5-.3.5 0 .5 .6.5 .7.5 .6.5-2.6.5-.1.5-.4.5 2.9.5-.7.5-.8.5-1.1.5 1.8.5 .2.5-1.9.5 1.8.5 .1.5-1.6.5 2.5.4-1.7.5-.3.5 1.2.5-.2.5 .5.5-1.3.5-.6.5 .9.5 .6.5-.6.5-1.1.5-.2.5 1.3.5 .6.5 1.1.5-.2.5-3.1.5-.6.5 1.7.5-1.4.5 2.9.5-1.4.5 1.4.5-1.7.5 .4.5-.3.5 .6.5-.2.5-2.6.5 1.8.5 1.1.5 .5.5-2.2.5 .6.4 .5.5 .1.5-.1.5 2.5.5-2.3.5-.5.5 1.1.5-.6.5 1.3.5-.8.5-.8.5 .8.5-2.8.5 2.2.5 2 .5-1.6.5-1"/><path stroke="#8428a4" stroke-opacity="0.85" stroke-width="0.85" d="M83.2 193.1l8 0"/><path stroke="#8428a4" stroke-width="1.5" d="M91.2 193.1l.4 1 .5-.5.5-1.3.5 .6.5 2 .5-3.1.5 1.4.5 1.7.5-3.1.5 1.2.5 .5.5 1.5.5-3.8.5 .9.5 1.6.5 1 .5-2.4.5 1.8.5-1.3.5 .2.5 1.6.5-3.1.5 1.4.5 .2.5-2.4.5 0 .5 1.9.5 1.6.5-.1.5-1.3.5 0 .5 .3.5 .4.5-1.7.4 .1.5 2.3.5-3.5.5 3 .5 .2.5-1.1.5 .9.5 .2.5-1.8.5-.4.5 2.3.5 .5.5 .3.5-3.1.5 1.1.5 0 .5 1.7.5-1 .5-1.4.5 1.1.5-2.5.5 1 .5 1.6.5 1.9.5-3.7.5 .6.5-.1.5-1.3.5 3.4.5-1.2.5-.1.5 0 .5-1.7.5 .6.4 3.6.5-1.8.5 .8.5-.1.5-1 .5-1.1.5 3.4.5-2.4.5-.9.5 .6.5 1.1.5 .2.5-.7.5 1 .5-2.5.5 1 .5-.2.5-.3.5 2.2.5-.8.5-1.8.5-.1.5 1.4.5 1.6.5 .4.5-2.8.5 .9.5 .6.5-2 .5 1.7.5-1.9.5 1.1.5 .4.5-.1.4 1.3.5-.4.5-2.1.5 .8.5 1.4.5-2.7.5 4 .5-1.7.5-.6.5-1.5.5 2.6.5-3.6.5 3.6.5 1.2.5-2.2.5-.3.5 2.1.5-3.4.5 3.1.5-2.2.5 .5.5 .9.5-2.1.5 1.9.5-1.2.5 .7.5 .3.5-.6.5-.5.5 .8.5 .9.5-1.2.5-1 .5 3.1.4-1.8.5-.8.5 3 .5-1.3.5-2 .5 .7.5-.2.5 2.6.5-.1.5-4.1.5 .1.5 1.7.5-.7.5 1.4.5-.2.5 1.2.5-.4"/><path stroke="#72b63a" stroke-opacity="0.85" stroke-width="0.85" d="M83.2 198.2l8 0"/><path stroke="#72b63a" stroke-width="1.5" d="M91.2 198.2l.4 .1.5-2.5.5 1.4.5 2.1.5 1.3.5-1.1.5-3.5.5 1.3.5 1.3.5 1 .5-2 .5-.9.5 1.7.5 1.7.5-2.7.5 1.6.5-.8.5 .1.5-2.5.5 .6.5-.1.5 2.7.5 1.6.5-2.5.5-.8.5-.2.5 .4.5 3.1.5-1.5.5-1 .5 .7.5-3 .5 2.2.5 1.4.4 .6.5-1.6.5 .1.5 .1.5-1.1.5 .6.5-.9.5 .1.5-1.1.5 2.5.5-1.2.5 1 .5-.2.5 1.4.5-1.9.5-1.9.5 4.7.5-.9.5-1.6.5-2 .5 1.4.5 2.1.5 1 .5-.6.5 0 .5-1.8.5-.8.5-.3.5 3.3.5-4.3.5 1.9.5 2.2.5-.4.5-2.5.4 3.3.5-3.7.5-1.1.5 1.6.5 .6.5 2.6.5-1.9.5-2.2.5-.7.5 .9.5 1.6.5-.9.5-.2.5-.8.5 1.7.5-1.8.5 2.6.5-1.9.5 .3.5 2.4.5-1.7.5 .6.5 .3.5-1.3.5 1 .5-2.6.5 3.4.5 .3.5-.2.5-.5.5-.6.5 0 .5-.4.5 .8.4 .2.5 .4.5-1.7.5 .4.5-2.3.5 4.4.5 .4.5-1.1.5-2.2.5 1.4.5 .9.5-.1.5-.1.5-.4.5 .3.5 .1.5-1.3.5 .1.5 0 .5 .1.5-1 .5-.3.5 1.2.5 1.3.5-2.5.5-.1.5 1.9.5-.4.5 1.1.5-1.5.5-.7.5 3.3.5-2.8.5 .6.4 2 .5-1.8.5-1.6.5 1.6.5 0 .5 .4.5 .1.5-1.9.5-.3.5 .5.5 .4.5-.3.5 2.3.5-.7.5-.7.5-.4.5-.3"/><path stroke="#3cc2f2" stroke-opacity="0.85" stroke-width="0.85" d="M83.2 203.3l8 0"/><path stroke="#3cc2f2" stroke-width="1.5" d="M91.2 203.3l.4-1.3.5 1.1.5-.4.5 3 .5-1.8.5-2.1.5 3.2.5-1.9.5-1.7.5 .8.5 1.5.5-1.9.5 1.9.5-1.5.5 2.5.5-2.2.5 2.5.5-1.5.5-.6.5 .8.5 .8.5 0 .5-3.2.5 1.4.5 .7.5 1 .5 .6.5-2.8.5 1.5.5-2.2.5 1.9.5-.5.5 2.4.5-1.9.4-.4.5-1.9.5 1.9.5 1.9.5 .1.5-2.5.5 1 .5-1.5.5 .1.5 2.6.5 .8.5-2.2.5-2 .5 3.7.5-1.3.5 .2.5 .9.5-1.8.5-2.1.5 1.5.5 1.2.5 1.6.5-2 .5-.6.5-.9.5 .4.5 1.7.5 .6.5-2 .5 1.2.5-1.9.5 2.7.5-2.4.5-.7.4 1.1.5 2.1.5-1.5.5 2.3.5-1.8.5-.1.5-.6.5 .7.5 .8.5 1.4.5-2.4.5 2.4.5-2.8.5-.2.5 .1.5-.4.5 2.9.5-2.2.5 0 .5-.6.5-1.6.5 4.1.5-1.6.5 .3.5-.1.5-1.2.5 1 .5 .8.5 1.3.5-1.8.5-1.1.5 .4.5 1.6.5 .1.4 1 .5-2.9.5-1.9.5 .9.5 1.9.5 .2.5 .9.5-3.1.5 1 .5 1.5.5-2.1.5 3 .5-1.1.5-1.3.5-.5.5 .9.5 2.6.5-1.5.5 1.5.5-3.3.5-1 .5 2.1.5 1.5.5-1.4.5 2.1.5-2.5.5-1 .5 1.9.5-1.3.5 .9.5-.9.5-.9.5 2.4.5-1.5.4 .2.5-.7.5 1.7.5-2.1.5 1.2.5 2.3.5-.3.5-2.8.5 .1.5-.4.5 2.1.5-1.9.5-.5.5 1.1.5-1.9.5 2.2.5 .8"/><path stroke="#c81a3c" stroke-opacity="0.85" stroke-width="0.85" d="M83.2 208.3l8 0"/><path stroke="#c81a3c" stroke-width="1.5" d="M91.2 208.3l.4 1.5.5-1.1.5 1.9.5-2.8.5-1 .5 2 .5-1.2.5 .9.5 1.6.5-1.5.5-.4.5 0 .5 .9.5 1.6.5 0 .5-.6.5-3.5.5 2 .5 1.3.5-.9.5-.3.5-.3.5-1.3.5 1.1.5 .5.5 1.8.5-1.7.5 .4.5-.7.5-1.2.5 3.4.5-.5.5-1.5.5-1.2.4 1.8.5-.6.5 .7.5 .1.5-1.8.5-.1.5 .2.5 2.7.5-1.9.5 .2.5 1.8.5-.9.5-1.9.5 1.3.5 1.6.5-2.4.5-.5.5-.6.5-1.1.5 .2.5 2.6.5-1.3.5 2.2.5-2.4.5 .9.5 .7.5-.9.5 .8.5 .1.5-1 .5 .9.5 1.7.5-2 .5 .4.4-.7.5 .3.5-.2.5 .9.5-1.1.5 1.4.5-2.5.5-.3.5 1.5.5 2 .5-3.3.5-.7.5 .5.5 .3.5 1 .5 .5.5 1.5.5-3.2.5-.5.5 .2.5 1.8.5 2.1.5-3.4.5 0 .5 1.4.5 .4.5 1.8.5-2.8.5 .5.5 1.2.5-2.1.5 2.7.5-2.1.5 .3.4-.7.5-.8.5 0 .5 2.8.5-.2.5-.2.5-2.1.5 .5.5-1.6.5 3 .5 1.6.5-3.3.5 .1.5-1.6.5 1.8.5 1.6.5-.7.5 2.1.5-3 .5-.8.5 .4.5 2.8.5-1.5.5-.5.5-.3.5-.9.5 1 .5 .6.5 .9.5-.5.5 .7.5-.4.5-.1.5-.9.4-.2.5-.1.5 1.7.5-3.2.5 1.5.5 1.1.5-1 .5-.1.5-.9.5 1.8.5 .5.5-1.8.5-1.4.5 .5.5 1.1.5 .9.5 .7"/><path stroke="#0a7cc8" stroke-opacity="0.85" stroke-width="0.85" d="M83.2 213.4l8 0"/><path stroke="#0a7cc8" stroke-width="1.5" d="M91.2 213.4l.4 1.9.5 .5.5-1.5.5-2.1.5 1.5.5 .2.5 .4.5 0 .5-1.6.5 1.6.5 0 .5-2.4.5 2.4.5 1.5.5 0 .5-4.2.5 1.8.5 .6.5 .1.5-.7.5-2.4.5 .3.5 .6.5 2.2.5 .6.5-.5.5-1.6.5-1 .5 2.9.5-1.2.5 0 .5 .6.5-.4.5-1.2.4-.5.5 1.4.5 .8.5 1.2.5 .6.5-3.7.5 1.4.5 1.2.5-.6.5 .8.5-.6.5-.3.5-1.4.5 .7.5-.3.5-.2.5-.4.5 1.6.5-.1.5-.8.5 2.7.5-4.6.5 3.5.5-.7.5 .8.5-2.2.5 1.9.5-2.1.5 1.2.5-1.6.5 2.2.5 0 .5-2.1.5 1.9.4 .1.5-3.1.5 4.8.5-4.4.5-.4.5 2.9.5-.6.5-.3.5-.6.5-1.4.5 2.3.5-2.3.5 3.4.5-.3.5 .1.5-2.3.5 2 .5 .3.5-2.1.5 2 .5 1.6.5-4.7.5 .7.5 1.2.5-.2.5 1.9.5 1.2.5 0 .5-.6.5-1.5.5 .1.5-.7.5-.3.5-.6.4-1.2.5 1 .5 .4.5-.6.5 2.1.5-1.1.5 .9.5 0 .5-1 .5 3.1.5-4.6.5 .3.5 1 .5 .2.5-1.1.5 4 .5-3.2.5 1.1.5 .1.5-.7.5-1.1.5 4 .5-2.6.5 1.2.5-2.8.5 1.2.5 2.1.5-1.2.5-1.7.5 .2.5 1.2.5-.3.5 .5.5-1.4.4-.1.5-1.1.5 2.2.5-.2.5 1.6.5-1.8.5-.2.5 2.4.5-2.2.5 .4.5 1.3.5-1.8.5 0 .5 1.3.5 .5.5-2.6.5 2.6"/><path stroke="#f05a1e" stroke-opacity="0.85" stroke-width="0.85" d="M83.2 218.5l8 0"/><path stroke="#f05a1e" stroke-width="1.5" d="M91.2 218.5l.4 2.4.5-2.9.5 1.4.5-1.5.5 1.6.5-.3.5-2.6.5 1 .5-.9.5 .5.5 2 .5 .2.5-1.5.5-1.4.5 .6.5 .3.5 2 .5-1.3.5 .6.5 1.3.5-2.4.5 .5.5 .7.5 .2.5 .6.5-2 .5-1 .5-.1.5 1.8.5 1.9.5-3.3.5 .7.5 .5.5 .1.4 .6.5 .3.5-1.4.5 .7.5-.1.5-2 .5 .2.5 2.3.5-2.3.5 1.8.5 .9.5-1.2.5 2.4.5-1.6.5-2.4.5 2.2.5-.6.5 1 .5 .5.5 .2.5-1.6.5-2 .5 1.3.5 3.1.5-4.3.5 2.4.5-1.6.5 .7.5 1.7.5-2.1.5 1.7.5-1.3.5-.8.5 1.7.4 .1.5-.4.5 .7.5 .4.5-.5.5-2.7.5 2.5.5 .5.5-.6.5-.6.5-1.7.5 2.3.5-.6.5 .6.5 .4.5-1.8.5 .6.5 .8.5-.2.5 .7.5 1 .5-1.6.5 .4.5-.8.5 1.1.5 1.5.5-1.2.5-.8.5-2.6.5 3.2.5 0 .5-1.3.5 1.7.5-1.1.4-.9.5-.6.5 2.2.5-1.2.5 .6.5-.3.5-.5.5 .7.5 2.3.5-.4.5-2.3.5-.1.5 0 .5 .6.5 .2.5-.9.5-.6.5 2.5.5-1.3.5-1 .5 1.1.5 1.5.5-2.3.5 .3.5 2.7.5-1.8.5 .8.5-1.7.5-1.2.5 1.6.5-.8.5 2.4.5 .3.5-3.2.4-1.1.5 1.9.5 .9.5 1.5.5-1.3.5-1.2.5 .4.5-.5.5 .1.5-.2.5 .9.5-.1.5-1.8.5 2.2.5-.2.5 2.1.5-3.1"/><path stroke="#f0b020" stroke-opacity="0.85" stroke-width="0.85" d="M83.2 223.6l8 0"/><path stroke="#f0b020" stroke-width="1.5" d="M91.2 223.6l.4 1.2.5 .6.5-.9.5-1.7.5 1.6.5 1.6.5-.8.5-.6.5-1.9.5-.1.5 3.2.5 .2.5 0 .5-.8.5-3.2.5 .8.5 0 .5 2.2.5-1.8.5-1.6.5 2.5.5-.7.5 1.3.5-1.8.5 1.7.5-1.4.5 1.4.5-1.4.5-.7.5 2.2.5 .7.5-2.8.5 2.3.5-3.6.4 3.9.5-1.6.5-.2.5-.3.5 1.5.5-.7.5 2.1.5-4.8.5 0 .5 0 .5 3.4.5-.3.5-.9.5-.9.5 .7.5 .9.5 .2.5 .2.5-.8.5-1 .5 1.9.5-1.3.5 .4.5-.3.5 2.2.5-2.2.5-1.1.5 .1.5 1.7.5-.3.5-1.3.5 .4.5 .7.5-.3.4-.9.5 .4.5-.3.5 2.5.5-.2.5-1.2.5-1.2.5 .4.5 .1.5-.7.5 1.5.5-1.8.5 4.1.5-1.4.5 .1.5-3.5.5 1.4.5-.2.5 1.9.5-.1.5-.1.5 .7.5-1.5.5-1 .5 1 .5-.2.5 1.2.5-1.2.5-1.1.5 3.1.5-.7.5-1.1.5-1.6.5 .2.4 .4.5 1.2.5-.5.5 1.3.5 .2.5-1.7.5 1.5.5 1.3.5-2.2.5 .4.5 .8.5 .2.5-3.1.5 1.7.5 0 .5-.7.5-1.1.5 1.3.5 1 .5 .9.5-1.7.5-.6.5 .3.5 1.6.5 .5.5-.7.5-.2.5-2 .5 .1.5-.1.5 4 .5-4.8.5 2.5.5-1.5.4-.7.5 2.7.5 1.4.5-3.4.5 1.9.5-1.8.5-.5.5 1.3.5-.3.5-.2.5-1.2.5 .9.5-.9.5 2.2.5 2.1.5-4.5.5 2.2"/><path stroke="#8428a4" stroke-opacity="0.85" stroke-width="0.85" d="M83.2 228.6l8 0"/><path stroke="#8428a4" stroke-width="1.5" d="M91.2 228.6l.4 .7.5-1.9.5 .3.5-1 .5 1.4.5 .8.5 0 .5-.7.5-2 .5 4 .5-.9.5 1.5.5-1.7.5-1.4.5 1.6.5 .1.5-.3.5-1.6.5 3.3.5-4.6.5 3.3.5-1.2.5-.1.5 .1.5 .6.5 1.5.5-1.9.5 2.5.5-2.9.5 .2.5-.1.5 2.8.5-2 .5 1.5.4-.6.5-1.9.5-.2.5 .4.5-1.5.5 3.5.5-.6.5-.9.5-1.5.5-.8.5 1.5.5 .5.5 .8.5-.1.5-2.4.5 3 .5-.5.5-1 .5 .5.5-1.3.5 1.8.5-.5.5 .4.5 .7.5 0 .5-2 .5 0 .5 0 .5 1.8.5-1.5.5 .3.5 .3.5-.3.5-.4.4 2 .5-3.6.5 1.1.5 2.4.5-2.2.5 1.9.5-1.4.5 2.8.5-4.7.5 1.8.5-.7.5 0 .5 .5.5 .4.5-.2.5-1.1.5 3.3.5-1.5.5 2.2.5-.9.5-1.9.5 .6.5-1.3.5 1.4.5-.8.5 1.4.5-.1.5-1.5.5 1.6.5 .4.5-1.9.5 0 .5 .1.5 1.2.4 1.7.5 0 .5-.9.5-3.3.5 2.9.5-2.2.5 1.9.5 0 .5-1.1.5 1.7.5-2.1.5 .7.5 1.3.5-.8.5-1 .5-1.9.5 1.2.5 2.2.5 1 .5-4.2.5 1.9.5-1.4.5 2.7.5-1.4.5 .6.5-.1.5-1.1.5-.1.5 .7.5 2.8.5-2 .5-.2.5-.2.5-2.1.4 2.9.5-.4.5 1.2.5-.1.5-1.9.5 .1.5 1.8.5-1.5.5 2.4.5-3 .5 .5.5 2.2.5-2.1.5 .5.5 1 .5-3.6.5 .5"/><path stroke="#72b63a" stroke-opacity="0.85" stroke-width="0.85" d="M83.2 233.7l8 0"/><path stroke="#72b63a" stroke-width="1.5" d="M91.2 233.7l.4-2.4.5 2.3.5 .9.5-1.4.5 .3.5 1.4.5-1.6.5 .3.5 2.6.5-2 .5-.2.5-1.7.5 1.7.5 2 .5-1.6.5 .3.5-1.2.5 .4.5-.7.5 1.8.5-1 .5-.3.5-.8.5 .6.5-.9.5 1.6.5 .3.5 .4.5 .3.5-2.9.5 1.9.5-.2.5-.1.5-.8.4-.6.5 .2.5 2.1.5 .1.5 1.3.5-4.3.5 4.3.5-2.5.5-.1.5 .9.5-.8.5-1.2.5-.1.5 2.7.5-1.4.5 1.3.5-2.8.5 2 .5-1.4.5-.8.5 3.6.5-1.3.5-.7.5 .9.5-1.8.5 2 .5-1.3.5 2 .5-1.4.5-.6.5 0 .5 .8.5 .7.5-.5.4-2.1.5 1.7.5 1 .5-1.8.5 1 .5-2.4.5 2.7.5 .1.5-1.2.5 2.7.5-1.8.5 .7.5-3.3.5 2.9.5 .1.5-1.5.5 1.1.5 .1.5 .7.5-1.6.5 .5.5-.5.5 .8.5-.7.5 1.8.5-2.9.5-1.1.5 3.3.5-.8.5 1.9.5-.7.5-3.7.5 1 .5 2.6.4 1.2.5-3.9.5-.9.5 .8.5 .6.5 0 .5 1.9.5-1.8.5 2.3.5-1.6.5 1.4.5 1.2.5-4 .5-.8.5 1.6.5-.3.5 1.4.5-.5.5-.1.5 .1.5-.6.5-.5.5 1 .5 2.5.5-3.5.5 2.8.5-2.6.5-.1.5 .7.5 2.3.5-2.8.5-.4.5 1.6.5 .1.4-.4.5 2.1.5-3 .5 .8.5 2.6.5-4.2.5 .2.5 4 .5-1.3.5-1.8.5-.9.5 2.5.5-.9.5-.1.5-.6.5 .8.5 2"/><path stroke="#3cc2f2" stroke-opacity="0.85" stroke-width="0.85" d="M83.2 238.8l8 0"/><path stroke="#3cc2f2" stroke-width="1.5" d="M91.2 238.8l.4 .5.5-.4.5-1.3.5 2 .5-.4.5-2.2.5-.5.5 .5.5 2.4.5-1 .5-1.5.5 3.1.5-.6.5 0 .5-.9.5 .9.5-.4.5-1.1.5-.1.5 3.4.5-2.3.5-2.2.5 .4.5 1.3.5 1.9.5-2.4.5 1.6.5-1.9.5 1.7.5-1.8.5 1.6.5 2.1.5-2.5.5 2.5.4-4.3.5 2.7.5 .7.5 .9.5-2.4.5 0 .5 .3.5-.9.5 2.4.5-2.4.5-1.1.5-.4.5 2.6.5 .4.5-1.6.5 1.6.5-2 .5-.5.5 1.7.5 .1.5 .2.5 .7.5 1.3.5-1.5.5-2 .5 2 .5 .7.5-.2.5 .9.5-4.7.5 1 .5 1.9.5 .1.5 .5.4-2.7.5 2.8.5-1.4.5 .4.5-1.5.5 1.1.5 .1.5-.4.5-.5.5-1.1.5 2 .5-.3.5-.9.5 1.6.5 1.5.5-1.3.5 1.1.5-2.1.5-1.9.5 1.7.5 1.2.5-.1.5-1.8.5 3.4.5-1.1.5-.2.5-1.1.5-.2.5 2.1.5-2.5.5-1.4.5 1.6.5 1.2.5-.8.4 1.2.5-1.4.5-.1.5 2.4.5-1.9.5 2.6.5-3 .5-.4.5 2.8.5 .4.5 .2.5-2.7.5-.6.5 1.2.5 .9.5-.4.5-1.3.5 .6.5-.7.5-1.3.5 1.1.5 2.2.5-.3.5-.8.5-2.4.5 2.3.5 .5.5 .7.5 1 .5-2.6.5-1.4.5 1 .5-.2.5 .8.4 1.5.5-2.5.5 .1.5-1.1.5 .9.5 2.6.5-1.5.5 .2.5-.8.5-1.2.5-.3.5 2.7.5 1.8.5-3.6.5 1.6.5-1.4.5-.6"/><path stroke="#c81a3c" stroke-opacity="0.85" stroke-width="0.85" d="M83.2 243.9l8 0"/><path stroke="#c81a3c" stroke-width="1.5" d="M91.2 243.9l.4-.4.5 0 .5-.2.5 2.3.5-3.8.5 4.2.5-.5.5 .3.5-3.6.5 .4.5 .7.5 .5.5 1.6.5-1.1.5-.7.5-.3.5-1.1.5 .4.5 1.2.5-1.1.5 0 .5-.1.5 .3.5 2 .5 .7.5-1.5.5 .4.5-.5.5-2.5.5 3.4.5 .9.5-2.1.5-1.2.5 1.1.4 .1.5-1 .5 1.4.5-1.7.5 2.3.5-.9.5 2.3.5-2.6.5 2.8.5-.8.5-1.7.5-1.5.5 .6.5 2 .5 .5.5-1.1.5-1.5.5 .2.5 1.6.5-.1.5-3 .5 .9.5-.7.5 .3.5 .5.5 2.3.5-2.2.5 1.5.5-1.9.5 1 .5 .1.5 2.3.5-3.1.5 .3.4 .4.5 0 .5 .7.5 .2.5-.2.5-1.3.5 1 .5-1.3.5 2.8.5-.8.5 1.7.5-3.3.5 2.6.5-3.5.5 4 .5-2 .5-.8.5 .3.5 1.7.5 1 .5-3.6.5 1.7.5-.8.5-.2.5 .6.5 .5.5 .3.5 .1.5-2.3.5 2.3.5-.7.5 .7.5-1.5.5-.3.4-.4.5 2.2.5-1.3.5 1.5.5-1.9.5 1.4.5-1.3.5 1.2.5-.4.5 1.4.5-1.5.5-.1.5 1.6.5-1.9.5 1 .5 .7.5-.4.5-3.1.5 .7.5 .6.5 2.5.5-1.1.5 .9.5-2.7.5 .8.5-1.7.5 1.8.5 .5.5-.2.5 .8.5-.4.5-1.7.5 2.8.5 1.2.4-2.4.5-2 .5 1 .5 1.1.5 .1.5 2.2.5-3 .5-.3.5 .2.5 1.5.5-2.3.5 .5.5-.3.5-.7.5 .4.5 1.6.5-.3"/><path stroke="#0a7cc8" stroke-opacity="0.85" stroke-width="0.85" d="M83.2 248.9l8 0"/><path stroke="#0a7cc8" stroke-width="1.5" d="M91.2 248.9l.4 1.9.5-1.4.5-1.1.5-1.3.5 .1.5 1.3.5 2.7.5-.9.5-2.1.5 2 .5-.7.5-2 .5 1.4.5 1.2.5 .6.5-1.9.5 .4.5 0 .5 .1.5-.7.5-.1.5-.3.5 1 .5 .2.5 1.8.5-2 .5 .7.5-1.4.5 0 .5 .5.5-.8.5 3.2.5-1.1.5-1 .4-.3.5 1.1.5 0 .5 .2.5-3.1.5 .8.5 .3.5 1.2.5 .8.5-3.7.5 1.7.5-1.7.5 2 .5 1.2.5-1.6.5-.1.5 3.3.5-1.1.5 .8.5-2.8.5-.1.5-.2.5-1.4.5 2.8.5 2 .5-2.4.5 .3.5-2.7.5 3.6.5 .3.5-1.9.5 1.3.5-1.4.5 .2.4-.3.5 3 .5-2.2.5-.5.5-1 .5 .6.5-.4.5 2 .5-1.6.5 1.4.5-1.3.5 .3.5-.8.5 1.7.5-.3.5-.9.5 1.2.5-.5.5 .2.5 1.5.5-2.5.5 1.5.5-1.5.5 .2.5 1.1.5 1.6.5-4 .5 3.5.5-2.6.5-1.4.5 2.8.5-2.2.5 .8.5-1.5.4 0 .5 .7.5 1.3.5 1.9.5-1.8.5-2 .5 2.5.5 0 .5 .6.5-2.2.5-.7.5 1.9.5 .7.5 .4.5-.1.5 1.1.5-1.9.5-.2.5 1.2.5 .3.5-.4.5-1.6.5-.3.5 .5.5-.5.5 1.6.5 .2.5-1.4.5 1.1.5-1.5.5-.4.5 1.8.5 1.5.5-3.1.4-1.2.5 2.6.5-1 .5 1.6.5-2.6.5 1.2.5-1.2.5 .2.5 1.9.5-.1.5-1.1.5 2.5.5-1.9.5 .8.5 1.6.5-2.1.5 0"/><path stroke="#f05a1e" stroke-opacity="0.85" stroke-width="0.85" d="M83.2 254l8 0"/><path stroke="#f05a1e" stroke-width="1.5" d="M91.2 254l.4 1.4.5-1.4.5-1.9.5-.5.5 4.1.5 .5.5-3.5.5 2.7.5-2.9.5 1.4.5-.7.5 1.6.5 .2.5-1.7.5-1 .5 2.9.5-2.5.5 .5.5-.4.5-1.2.5 2.2.5 .3.5-2.5.5 0 .5 3.2.5-3.2.5 3 .5 .1.5 .6.5-.9.5-2.8.5 0 .5 2.4.5-.2.4 2.6.5-1.3.5-.5.5-1.4.5 .4.5 1.8.5-.1.5-.5.5-2 .5-.1.5 3.7.5-1.5.5-1.2.5 2.7.5-3.6.5-.3.5 .4.5 .6.5 .9.5-1.1.5-.9.5-.2.5 .9.5 1.6.5 0 .5-.2.5-2.2.5 3 .5-1.6.5-.5.5 0 .5-1.1.5 .9.5 1.8.4-.4.5 .5.5-.2.5-3.1.5 2.5.5-1.1.5-.7.5 1.9.5 .8.5-2.3.5 1.1.5 .6.5-.7.5 1 .5-1.9.5-.1.5 3.2.5-1.1.5-.2.5-.7.5-.7.5 1.7.5 .3.5 .1.5-.9.5-.3.5 .1.5-1.1.5 .5.5 .6.5 1.4.5-4 .5 1.8.5-1.6.4 3.1.5-.6.5 2.1.5-3.2.5-1.6.5 2 .5 .9.5 0 .5 1.8.5-1.8.5-2.9.5 3.2.5-.8.5 2.4.5-2.7.5-1 .5-.4.5 1 .5 1.6.5 1.5.5-2.3.5-1 .5-.2.5 .2.5 1.2.5 2.1.5-2.1.5-2.7.5 0 .5 2.7.5-2 .5 .4.5 1.7.5-.7.4-2.1.5 .6.5 1.8.5 1.3.5-.8.5-.2.5-1.3.5 2.2.5 1.2.5-1.3.5-.6.5-2.1.5 1.1.5 1.7.5 1.2.5-3 .5-1"/></g></svg>
<rect x="83.7" y="173.2" width="83.0" height="85.5" fill="none" stroke="#9a9a9a" stroke-width="1"/>
<svg x="193.3" y="172.7" width="84.0" height="86.5" viewBox="193.3 172.7 84.0 86.5" overflow="hidden"><g fill="none" stroke-linejoin="round"><path stroke="#0a7cc8" stroke-width="1.5" d="M193.3 177.6l.5 .2.5 1.8.5-1.2.5-1 .5-.4.5 .2.5-.1.5 .5.5 1.1.5-.4.5 .2.5-1.1.5-.4.5 .7.5 .7.5 .2.4 2.1.5-2.9.5-.7.5-.1.5-3.7.5 3.4.5 2.2.5 .2.5 .8.5-1.9.5-.3.5-2.6.5 .3.5 1.8.5 .3.5 1.5.5-1.6.5 .9.5-2.7.5 .7.5 .6.5 1 .5 2.6.5 .6.5-1.8.5-2.9.5-1.1.5 .5.5 2.7.5 .3.5 2.9.5-1.9.5-2.8.5-2.4.4 6.6.5-9.9.5 5.8.5 4.3.5-2 .5-1.4.5-.5.5-2 .5 .6.5 1.3.5 1.1.5 1.6.5 0 .5-2.8.5 .2.5 .1.5-3.3.5 4.1.5 1.2.5-.1.5-.9.5-.9.5-4.8.5 2.9.5 3 .5 1.2.5 .8.5-1.2.5-.3.5-2.8.5-.4.5 2.9.5-.1.5-.1.4 .4.5-2.4.5 1.2.5-3.2.5 2 .5 1.4.5 .9.5-1.4.5 2 .5-1.5.5-1.4.5 2.7.5-1.9.5-1 .5 2.5.5 2.7.5 1.8.5-11.3.5 1.7.5 1.1.5 1.9.5 1.4.5 2.7.5-1.7.5-3.1.5-.5.5 1 .5-5.8.5 9.4.5-2.2.5 2.2.5-3.2.5 .5.5-3.9.4 1.5.5 .4.5 3.1.5-.4.5 1.6.5-2.2.5 .7.5-3 .5 2.7.5-2.7.5 4.8.5 0 .5-2.8.5-1.9.5 1.7.5-1.8.5 2.8.5-.1.5 1.5.5 .6.5-2.7.5-.9.5-3.4.5 3.4.5 2.2.5 1.1.5 0 .5-1.8.5-.8.5-.8.5-.8.5 1.1.5 2.3.5 2.8.4-.6.5-2.9.5-2.6.5-1.2.5 2.2.5 1.6.5 2 .5-2.1.5 .5.5-2.1.5-1 .5-1.5.5 1.7.5 2.2.5 1.7.5 1.5.5-2.7"/><path stroke="#f05a1e" stroke-width="1.5" d="M193.3 183l.5 .8.5 0 .5-1.1.5-.3.5-.9.5 1.4.5 .6.5 .2.5 .1.5 0 .5-.9.5-.8.5 .3.5 .2.5 .8.5 .2.4-1.1.5 1.2.5-2.8.5 .9.5 .8.5 2.3.5-.1.5 1.8.5-2.2.5-1.6.5-1.5.5-.8.5 2.5.5 .6.5 1.5.5-1.1.5-1 .5-2.5.5-1.5.5 2 .5 .9.5 1.8.5 .3.5-1.8.5 .1.5-2.4.5 .8.5 2.2.5 1.1.5 .2.5-.4.5-.2.5-.5.5-3.1.4-5.7.5 14.3.5-4 .5-.5.5 1.1.5-4 .5 1.2.5-1.6.5 2.3.5 1.7.5 .1.5-.1.5-3.6.5-.4.5 .7.5 0 .5 3.8.5-.6.5-.5.5 0 .5-2.5.5-.6.5-.2.5 1.2.5 1.8.5 2 .5-.5.5-3.3.5-3.3.5 2.5.5 1.1.5 1.1.5-1.4.5 .5.4 2.5.5-2.8.5 .2.5-.3.5-2.1.5 5.1.5 .5.5 .2.5-3.3.5-.9.5-.4.5 .8.5 .9.5 1.3.5 1.5.5-1.1.5-7.3.5 9.4.5-4.5.5 .5.5-.5.5 2.4.5 .4.5-2.7.5 .6.5-2.1.5 1.3.5 4.7.5-6.2.5 1.4.5-.2.5 .2.5-2 .5-.4.4 1.1.5 2.6.5 1.7.5-.6.5-.7.5-2.1.5 .3.5 1.2.5-.8.5 1.7.5 1 .5-2.1.5 .9.5-3 .5-2.3.5 4.4.5 1.8.5-.3.5 1.2.5-2.3.5-2.2.5-2.5.5 4 .5 .6.5 .6.5 1.2.5-.7.5-2.3.5 .7.5-.9.5-.9.5 .7.5 3.1.5 .3.4-.8.5-1.7.5-3.5.5 2 .5 0 .5 5.8.5 .5.5-1.9.5-3.6.5-1.8.5-1 .5 2.8.5 .5.5 3.2.5 .7.5-2.6.5-2.6"/><path stroke="#f0b020" stroke-width="1.5" d="M193.3 188.3l.5 0 .5-.7.5 .4.5-1.3.5 .9.5 0 .5 1.2.5-.1.5-.3.5-.6.5-.2.5-.6.5 .7.5 .3.5 1 .5 .6.4-.2.5-2.1.5 0 .5 .5.5 0 .5 1.3.5 2.6.5-1.3.5-3.3.5 .2.5-1.1.5 1.9.5 .7.5 0 .5 6.1.5-6.3.5-1 .5-3.8.5-.4.5 4.9.5 1.8.5 .5.5-2 .5-1.6.5 .7.5-1.7.5 1.2.5 2.6.5 1.1.5-.1.5-1.8.5-1.6.5-1.9.5 0 .4 8.6.5-10 .5 9 .5-4.5.5-.2.5 .1.5-4.8.5 1.9.5 5.2.5-1.9.5 2.1.5-1.6.5-.3.5 0 .5-3.8.5 2.6.5 1.3.5-.4.5 .5.5-1.2.5 0 .5-3.2.5 4 .5-1.9.5 2 .5 .9.5-1.1.5-1.4.5-.5.5-1.1.5 .3.5 2.4.5 .8.5-1.5.4 2.3.5-3.7.5-.7.5 1.2.5-.2.5 2.8.5 1.1.5 1 .5-3.6.5 .2.5-2.8.5 2.6.5-.2.5 1.7.5 0 .5-2.4.5 6.4.5-10.8.5 3.1.5 1.5.5 .8.5 2 .5-.2.5-3.3.5-1.5.5 1.9.5-.4.5-3.7.5 10.4.5-2.8.5-4.4.5-.1.5 .2.5 1.1.4 .5.5 1.1.5 1.4.5-1.1.5-2 .5-.2.5 .3.5-.8.5 2.5.5 1.8.5 .2.5-2.6.5-2.2.5-1.2.5 .4.5 1.8.5 2.8.5-3 .5 2.3.5 .7.5-5.4.5 .4.5 3.4.5 1.4.5 1.1.5-2.1.5-2 .5 .5.5-.9.5-3.1.5 4 .5 1.2.5 2.7.5-1.8.4 0 .5-2.5.5-1.3.5 1.7.5 .9.5 1.1.5 1.9.5-2.5.5-2.3.5-1.4.5 .9.5 0 .5 1.9.5 3.4.5-2 .5-2.4.5-.3"/><path stroke="#8428a4" stroke-width="1.5" d="M193.3 194.1l.5 .2.5-1 .5-.3.5-.2.5 .1.5-.3.5 .9.5 .7.5-.6.5 0 .5-1.6.5 1.3.5-.2.5 .1.5 .3.5 .3.4-.8.5 1.3.5-3.6.5-.7.5 2 .5 3.3.5 .1.5 2 .5-3.2.5-2 .5 .1.5-1.9.5 1.7.5 3.6.5 .1.5-.8.5-4.5.5 .1.5-.1.5 3.8.5 .9.5 1.9.5-2.8.5-2.2.5 .5.5-1.7.5 2.4.5-.3.5 1.5.5-.3.5-.9.5-.3.5-2.5.5 0 .4-2.9.5 10.5.5-1.5.5 .7.5-5.1.5 .6.5-3.3.5 2.8.5 .5.5 2.4.5 .4.5-2.6.5-.1.5-2.2.5 .1.5 2.3.5 1.5.5 3 .5-2.1.5-3 .5-1.4.5 .7.5-.1.5 2.8.5 .4.5 1.2.5-3 .5 1.2.5-3.6.5 .1.5 1.4.5 .7.5 3.5.5 .1.4-1.6.5-3.1.5-1.6.5 1.5.5 .4.5 1.6.5 1.9.5-1.5.5-.2.5-1.6.5 .3.5 .2.5 1.1.5-.2.5-1.7.5 1.5.5-9.4.5 9.1.5-1.8.5 1.3.5 2.3.5 1.1.5 .4.5-3.8.5-1.8.5-2 .5 3.2.5 6.1.5-4.1.5 1.2.5-.7.5-2.2.5-5 .5 4.4.4 2.3.5 .8.5 2.6.5-3.3.5-2.1.5-3.3.5 1.5.5 2.1.5 2.3.5-2 .5 1.6.5-1 .5-.9.5-.7.5 .9.5 .4.5 1 .5 2.9.5-1.4.5-3.3.5 .5.5 1.5.5-3.4.5 4.3.5 .5.5-1.6.5-.7.5-1.4.5-1.9.5 1.5.5 1.4.5 .5.5 1.7.5-1.8.4-.8.5-.3.5-.5.5-.7.5 2.6.5 4.5.5-2.8.5-1.7.5-2.7.5 1.9.5-.7.5 2 .5 2.3.5-2 .5 .2.5-2.7.5 1.6"/><path stroke="#72b63a" stroke-width="1.5" d="M193.3 199.1l.5 .2.5-.4.5-.5.5-.8.5-.3.5 .8.5 .8.5-.5.5 1.1.5-1.3.5-.4.5-.6.5 .3.5 .6.5 .6.5 .5.4 .6.5-2 .5-.7.5-2.1.5 2.9.5 1.2.5 1.7.5 .4.5-4.8.5 .6.5-2.3.5 .7.5 .7.5 4.4.5 1.7.5-2 .5-2.2.5-2.7.5 .2.5 1.8.5-1.5.5 5.6.5 .2.5-3 .5-1.4.5 1.7.5-3.6.5 2 .5 2.4.5 1.8.5-2.1.5-1.2.5 .1.5-2.4.4 6.7.5-6.6.5 4.9.5-1.9.5 .4.5-.9.5-1.2.5-.7.5 .9.5 1.7.5 2.9.5-4.1.5 .6.5-2.5.5-.5.5 1.2.5 1.1.5 1 .5 .9.5 .1.5-4.3.5-.2.5 .9.5 2.9.5 .4.5 1 .5-1.8.5-1.3.5-.5.5-2.2.5 3.1.5 .9.5 2.6.5-.6.4-.5.5-1.5.5-.3.5-1.5.5 1 .5 2.1.5 .5.5 .2.5-2.4.5-1.8.5-.4.5-.3.5 1.7.5 2.5.5-.9.5-1.4.5 4.8.5-11 .5 4.4.5 1.8.5 2.3.5 .1.5-1.6.5 .7.5-1.8.5 .1.5-.5.5-3.3.5 10.1.5-3.1.5-1.4.5-1.8.5 1.7.5-1.4.4-.2.5 .7.5 2.8.5-1.8.5-2.5.5 1.7.5-1.4.5 .5.5 .9.5 2.8.5-3.6.5-.7.5-.6.5-1.4.5 .3.5 1.3.5 2 .5 2.1.5-2.6.5 .1.5-1.4.5-1.5.5 2.2.5 1.3.5 1.1.5-1.2.5-.6.5-1.7.5-.7.5 2.9.5-.3.5 1 .5 2.6.5-2.9.4-1.2.5 1.5.5-4.6.5 2.4.5 1.3.5 1.6.5-.3.5 .3.5-3.4.5 .1.5 .3.5-.1.5 2.5.5-.8.5 .9.5-3.2.5-.5"/><path stroke="#3cc2f2" stroke-width="1.5" d="M193.3 203.8l.5 .6.5-1.5.5-.2.5-.7.5 .4.5 .6.5 .6.5 .8.5-.9.5 0 .5-1.1.5 .5.5 1 .5 .4.5 .4.5-1 .4-.7.5 .7.5-1.2.5 0 .5 2 .5-1.4.5 2.5.5-1.5.5-.3.5-4.2.5 2 .5-.3.5 3.2.5 .8.5-.3.5-.9.5-1.7.5-1.4.5 2.4.5-3 .5 3.6.5-.1.5-.5.5-1.1.5-3 .5 1.7.5 1 .5 2.6.5 1.3.5-1 .5-1.2.5-2.4.5 0 .5-.3.4-4.3.5 15.5.5-6.3.5-1.6.5-1.7.5-.9.5 1 .5 2 .5-.8.5 1.6.5-1.5.5-.8.5-1.6.5-.9.5 1.2.5 1.4.5 1.2.5 1.3.5-1.9.5-.3.5-2.7.5-1.6.5 4.1.5 .3.5 1.6.5 .4.5-1.9.5-.2.5-2.6.5 .8.5 1.5.5 1.9.5 1.1.5-1.9.4-1.5.5-1.9.5 1.1.5 .8.5 1.7.5 .4.5-.1.5-2.5.5-1.3.5-1.7.5 3 .5-.1.5 .9.5 2.4.5-1.1.5-2.4.5-8.3.5 9.4.5-2.4.5 2.7.5 2.2.5-.4.5-.9.5-2.7.5-1.6.5 .1.5 3 .5 6.3.5-7 .5-.2.5 .3.5-2.6.5 1.4.5 1.8.4-.4.5 2.3.5 .4.5-2 .5-1 .5-2.2.5 .2.5 1.7.5 4 .5-.7.5-2.4.5 1 .5-4.4.5 .8.5 2 .5 3.5.5 1.3.5-.7.5-4.8.5 .5.5-4.8.5 2.8.5 2.4.5 1.3.5 1.9.5-.6.5-2.4.5-2.5.5-1.3.5 2.1.5 3.1.5 3.1.5-2.3.5-2.9.4-1.4.5-1.6.5 2.1.5 2.7.5 2.4.5-.2.5-1.4.5-2.4.5-3.8.5 3.6.5-.6.5 2.1.5 1.4.5-.3.5-.8.5-2.6.5-.7"/><path stroke="#c81a3c" stroke-width="1.5" d="M193.3 209.5l.5-1.1.5-.2.5-.7.5-.4.5 1.2.5 .4.5 .3.5 .4.5-.3.5-.6.5-1.2.5 .7.5-.1.5 1.2.5 .3.5-.4.4 .5.5-1.4.5-3.3.5 4 .5 .5.5 .2.5 .1.5-2.7.5 1.4.5-1.4.5-.8.5 .8.5 2.5.5 3.5.5-3.2.5-1.4.5-2.7.5 .1.5 1 .5-.6.5 4.1.5 .8.5-1 .5-2 .5-.8.5 1.3.5-.4.5-1.1.5 2.5.5 1 .5-.4.5-3.3.5-1.3.5 .5.4 7.6.5-6.4.5 2.4.5-.7.5-.6.5-.9.5-1.4.5 2.7.5 .5.5 2 .5-1.3.5 1.1.5-5.5.5-1.3.5 3 .5 1.8.5 .3.5 2.2.5-2.7.5-.7.5-2.9.5 1.6.5-.6.5 2.7.5-.4.5 .3.5-.7.5-.3.5-.8.5 1.4.5 1.8.5 .3.5-.4.5-.8.4-2 .5-.3.5 .2.5-1 .5 2.1.5 2.6.5-.2.5-2.9.5-2.5.5-.1.5 1.8.5 1.3.5-.5.5 4 .5-3.4.5-1.1.5 4.9.5-10.4.5 5.1.5 2.2.5 4.8.5-4.1.5-1.2.5-.7.5-1.5.5-1.1.5 .7.5-1 .5 9.9.5-5.2.5-1.3.5-2.9.5-.9.5 2.3.4 2.3.5-.5.5 1.3.5-2.3.5 .2.5 1.4.5-3.1.5 2.6.5 .2.5 4.1.5-2 .5-2.8.5-.6.5-2.5.5 2.9.5-1 .5 3.5.5-.1.5-.9.5-2.2.5-2.3.5 1.8.5 .7.5 .7.5 1.3.5-.9.5 1.3.5-2 .5-2 .5 .6.5 2.4.5 1.9.5 .8.5-2 .4-1.1.5-1.2.5 1.2.5-2.4.5 3.6.5 2.2.5-2.7.5-1.1.5-1 .5-.9.5 .8.5 1.3.5 1.9.5-.5.5-.5.5-1.8.5-3.2"/><path stroke="#0a7cc8" stroke-width="1.5" d="M193.3 214.7l.5-.9.5-.3.5-1 .5 .4.5 .3.5 .6.5 .6.5-.7.5-.1.5-.9.5 .1.5 .5.5-.3.5 1.6.5-.2.5-.7.4-.7.5-1.5.5 .7.5 .6.5 1.8.5-1.3.5 .7.5 .1.5-4.3.5 1.5.5 2 .5 1.7.5 .4.5 1.3.5-1.6.5-2.3.5-.6.5-1.5.5 1.5.5 2.2.5 1.3.5 2.3.5-5 .5 .6.5-2.3.5 .8.5 2.1.5 2.3.5-.6.5-1.6.5-.9.5-2.3.5-.7.5 2.5.4-4.1.5 13 .5-6.5.5-1.3.5-2.3.5-1.6.5 1.6.5 1.4.5 2.1.5 .2.5-2 .5 1.5.5-3.9.5 .3.5 1.1.5 .9.5 3.5.5-2.6.5-1.7.5-1.4.5-.1.5 .7.5 1.7.5-.3.5 .6.5-1.8.5 1.4.5-2.2.5-1.7.5 3.3.5 .2.5 1.6.5 .3.5-.8.4-2.8.5-2 .5 .9.5 3.7.5 1.5.5 1.5.5-2.9.5 .7.5-2.9.5-.3.5 0 .5 2 .5 2.5.5 .3.5-3.7.5-.1.5-7.1.5 10 .5-2.6.5 2.8.5 .1.5-1.8.5-1.1.5-3 .5 .3.5 2 .5 2.1.5 7.8.5-8.2.5 1.3.5-3.2.5 .7.5 .5.5-1.7.4 3.9.5 .8.5-.4.5-3 .5-.8.5-.3.5 .4.5 2 .5 .4.5 .9.5-1.1.5-1.5.5-.1.5-.6.5 .7.5 1.8.5 1.3.5-2.3.5-2.1.5 .5.5 .8.5 .4.5 .6.5 1.5.5-.3.5-1.1.5-1.6.5-1.5.5-1 .5 3.4.5 1 .5 4.1.5-2.1.5-4.2.4 .5.5 .1.5-1.6.5 3.7.5 2.5.5-1 .5-1.4.5-2.2.5-.3.5 1.7.5-.4.5 .5.5 1.4.5-2.5.5 0 .5 .1.5-2.9"/><path stroke="#f05a1e" stroke-width="1.5" d="M193.3 219.4l.5-1.4.5-.5.5 .5.5 .5.5-.4.5 .3.5 .7.5-.7.5 .4.5 0 .5-.8.5 .6.5-.5.5 1.4.5 .1.5-.5.4 .6.5-1.6.5-.6.5-.3.5 2 .5 2.4.5-.8.5-1.5.5-.9.5-3.5.5 3 .5 .1.5 1.4.5 3.1.5-1.4.5-3.1.5-3.8.5 1.9.5 2.3.5 .6.5 1.1.5-1.5.5-.6.5-1.2.5-1 .5 .8.5 2.3.5 .7.5 2.6.5-2.1.5-.6.5-2.6.5-2.2.5 2.5.4 8.3.5-8.9.5 4.7.5-3.3.5 .3.5-1.5.5 0 .5 .9.5 3.2.5 .7.5-3.2.5-.8.5-1.3.5 .6.5 .9.5 2 .5 0 .5 2.3.5-3.2.5-.3.5-4.6.5 3.4.5 .3.5 3.9.5-1.1.5-1.7.5-2.6.5-.9.5 .4.5 3.1.5-1.9.5 5.1.5-.7.5-1.8.4-2.1.5-2.2.5 3.7.5-1.5.5 2.4.5 0 .5-2.8.5 1.8.5-1.1.5-.2.5-1 .5 3 .5 2.5.5-2.4.5-.7.5-2.9.5 6.3.5-9.6.5 5.9.5 .2.5 1.7.5-.4.5-1.2.5-2.5.5-2.6.5 3.2.5 3.2.5-4.6.5 8.9.5-6.5.5-1 .5-2.8.5 3.5.5-.4.4 1.5.5 1.3.5 .4.5-3 .5-1.1.5-.3.5 2.1.5 2.7.5 1.6.5-2 .5-2.8.5 1.8.5-3.7.5 1 .5 1.6.5 1.5.5 1.9.5-.2.5-4.3.5-.3.5 .8.5 1.5.5-.1.5 .5.5 1.2.5-2.2.5 1 .5-3.2.5 .4.5 .5.5 3.4.5-.7.5-.7.5-.5.4-3.8.5 .7.5 3.8.5 .8.5-1.3.5-.8.5 .8.5-1 .5-3.1.5 1.4.5 2.3.5-.1.5 4.1.5-2.8.5 .3.5-4.2.5-.9"/><path stroke="#f0b020" stroke-width="1.5" d="M193.3 224.1l.5-.7.5-.3.5 .4.5 .1.5-.3.5 .3.5 1 .5-1.2.5-.4.5-.4.5 .1.5 .7.5 .9.5 0 .5 .5.5-1.3.4 .4.5-3 .5 1.7.5-.4.5 3.6.5 .8.5-1.5.5-3 .5 .3.5-1.5.5 1.4.5 2.3.5 .4.5 .6.5-2.3.5 0 .5-2.5.5 .6.5 2.6.5 1.9.5 .8.5-2.1.5-1.7.5-2.4.5 1.3.5 1.6.5 .2.5-.4.5 1.4.5-.6.5-2 .5-.4.5-2.1.5 4.4.4-5 .5 10.3.5-4.2.5-1.6.5-1.9.5 1.4.5 .4.5 1.4.5 .8.5 .2.5-.6.5-2.9.5-1 .5-.1.5 2.6.5-.2.5 3.9.5-3.1.5-1.9.5-.6.5 .8.5 1.3.5 1.3.5 1.8.5-.8.5-2.5.5-.6.5-.8.5-.6.5 2.4.5-.6.5 3.1.5-2.3.5-.8.4-3.3.5 .9.5 1.4.5 .7.5 2.5.5-.8.5 .2.5-1.4.5-.6.5-1.5.5-.3.5 5.7.5-.8.5-2.2.5-.2.5-1.2.5-6.5.5 10.8.5-2.5.5 3 .5-.7.5-1.9.5-3.9.5 .1.5-.2.5 1.8.5 4.5.5 4.1.5-11.6.5 3.9.5-3.8.5 1.2.5 2.6.5-1.1.4 1.6.5 2.3.5-1.5.5-2.9.5-1.9.5 1.7.5 2.2.5 1.3.5 2.3.5-3.3.5-.5.5-.6.5 1 .5-2.2.5 3 .5 .2.5-.8.5 .4.5-2.4.5-1.7.5 2.5.5 2.8.5-.5.5 1.2.5-1.5.5-1.2.5-1.3.5-3.1.5 4 .5-.9.5 3.3.5-.5.5-1.6.5-1.8.4 1.3.5-.6.5-.3.5 1.6.5 2.3.5-1.7.5-.3.5-3 .5 1.5.5 1.3.5-1.4.5 2.3.5-.6.5 .4.5-2.8.5 .9.5-.9"/><path stroke="#8428a4" stroke-width="1.5" d="M193.3 229l.5-.6.5-.4.5-.7.5 1.3.5-.1.5 1.4.5-.7.5-.6.5-.4.5-1 .5 1.3.5 .4.5-.2.5 .1.5-.2.5-.1.4-1.2.5-.7.5 2.6.5-1.1.5 1.6.5 2.1.5-2.5.5-4.5.5-.1.5 3.3.5 1.2.5 1.2.5 .2.5-.8.5-2.2.5-1.9.5 3.1.5-.6.5 2.4.5-.4.5-2.9.5 .3.5 2.1.5-2 .5-1.3.5-.6.5 3.7.5 1.8.5 .3.5-3.2.5-1.1.5-1.2.5 1 .5 3.8.4 4.2.5-9.2.5 3 .5-1.1.5-2.6.5 4.1.5 1.4.5 .5.5 .3.5-4.5.5 1.3.5 .4.5-1.6.5 .1.5 3.9.5-.6.5-.6.5-.4.5-1.1.5 .8.5-1.6.5 .6.5 .7.5 2.6.5-1.3.5-3.1.5 1.6.5-2 .5 .6.5 3.4.5-.9.5 .9.5-.7.5-.8.4-4.1.5 5.8.5-2.3.5 1.7.5 1.6.5-2.1.5-1.8.5-.9.5-1.7.5 3.3.5 1.6.5 .2.5-1 .5-2.2.5 .2.5-1.1.5 6.4.5-8.4.5 4.5.5 3.8.5-2.1.5-3.2.5-.3.5-1.7.5 .9.5 2 .5 1.6.5-5 .5 8.5.5-5.7.5-3.1.5 3.3.5 1.8.5 .7.4 1.5.5-3 .5-.6.5-.3.5-1.8.5 2.1.5 1.8.5-1.4.5 2.7.5-2 .5-2.6.5 .8.5 1.1.5 .3.5-.1.5 .5.5-.3.5 .6.5-1.2.5-1.4.5 .6.5 .3.5 3.5.5-1.3.5-1 .5-.9.5-2.4.5-1.1.5 3.3.5 2.2.5 .4.5-1.6.5-1.7.5 .2.4-1.2.5 1.2.5 3 .5-.7.5 0 .5-1.7.5-1 .5-1.2.5 .7.5 2.1.5 2.4.5 2.1.5-3.2.5-3.7.5 .8.5-.9.5 .8"/><path stroke="#72b63a" stroke-width="1.5" d="M193.3 233.6l.5-.4.5 .2.5-.1.5 .5.5 .6.5-.2.5-1 .5 .8.5-1.2.5-.2.5 .7.5 .4.5 .7.5 .1.5-.4.5-.6.4-2.9.5 3.8.5-.8.5-.4.5 1.8.5 .3.5-1.9.5-.7.5-1 .5 1.2.5 1.4.5 1.7.5-1.2.5-.5.5-2.1.5 .3.5 0 .5 .2.5 1.9.5 3.7.5-.9.5-2.6.5-2.9.5-.9.5 2.3.5 .8.5 .5.5-2.3.5 .2.5 .1.5-1.4.5 .5.5 3.1.5 .1.4-6.4.5 12 .5-6.6.5-1.1.5-3.4.5 3.7.5-.1.5 3.7.5 .5.5-2.3.5-2.1.5-.3.5-2.3.5 3.5.5 1.3.5 .6.5-.6.5-1.6.5-.2.5-2.7.5 1.6.5 1.9.5-.4.5 3.9.5-2.4.5-2.3.5-.7.5-.8.5 3.3.5-1.9.5 .7.5 .8.5 .8.5-3.6.4-.1.5 .8.5 1.3.5 2.9.5 .5.5-1.8.5-3 .5-1 .5 1.9.5 1.1.5 1.2.5-.1.5 .5.5-1.4.5-1.9.5-1.8.5-3.9.5 11.9.5 0 .5-2.2.5-2.3.5-2.9.5-.6.5 2.3.5-1.4.5 5.3.5 0 .5 2.3.5-8.8.5-.9.5-.7.5 4.8.5 1.1.5 2.5.4-1.9.5-2.7.5-.8.5 0 .5 .1.5 .9.5 1 .5 4.8.5-1.3.5-4 .5-1.3.5-1 .5 1.1.5 2.5.5-.4.5-.4.5 1.9.5-2.3.5-1.2.5 .1.5 1.9.5 .3.5 1.6.5-1.9.5-1.7.5 0 .5-2 .5 1.7.5 2.2.5 1.6.5 1.5.5-4.5.5-.1.5-.4.4-.9.5 1.1.5 2.1.5 1.3.5-1.4.5-.1.5-3.8.5 2.5.5-1.5.5 1.5.5 1.4.5 2.2.5-.1.5-4.3.5-1.4.5 .7.5 1.1"/><path stroke="#3cc2f2" stroke-width="1.5" d="M193.3 238.8l.5-.3.5-.3.5-.6.5 .9.5 .5.5 .7.5-.4.5-.4.5-.6.5 .5.5-.9.5 1.1.5 .9.5 .1.5-.9.5-.2.4-1.6.5 1.8.5-1.3.5-.5.5 .7.5 2.3.5-2.4.5-.4.5-1.5.5 .2.5 2.1.5 3.5.5-.5.5-1.1.5-3.8.5 .6.5-.6.5 .7.5 2 .5 2.8.5-2 .5-.1.5-4 .5 1.3.5 0 .5 1.2.5 1.8.5 .4.5-1.3.5 .3.5-2.9.5-.9.5 2 .5 2.3.4 5.5.5-11.4.5 3.4.5-.3.5-2.1.5 2.2.5 2.8.5 .7.5 .4.5-2.5.5 .4.5-3.2.5 3.4.5-.5.5-.5.5 2 .5 1.1.5-2.8.5-2.1.5 .3.5 1.5.5 1.9.5 1.4.5-.6.5-.4.5-.7.5-3.5.5 1.8.5-.5.5 .5.5 3.1.5 .1.5-3 .5 1.2.4-4.2.5 1.9.5 2.5.5-.9.5 3.6.5-1 .5-5.2.5 1.6.5 .3.5 1.7.5-1 .5 .9.5 2.2.5-3.2.5 1.1.5-5.1.5 10 .5-9.5.5 4.3.5 1.7.5-.6.5-2.4.5-.8.5-1.7.5 2 .5 1.8.5 1.4.5-7.5.5 10.4.5-6.7.5-2.6.5 3.9.5 .4.5 1.2.4-1.1.5 1.6.5-1.7.5-1.3.5-.4.5 1.2.5 .1.5 2.4.5-1.3.5 .7.5-.9.5-3.8.5 .7.5 1.6.5 3.6.5-.3.5-1.8.5-4.1.5 1.7.5 0 .5 .6.5 2.5.5 1.7.5 .1.5-1.3.5-3.8.5 1.6.5-1.2.5 1.7.5 1.8.5-.2.5-1.5.5-1 .5-.3.4 0 .5 1.5.5 1.6.5 1 .5-1.3.5-2 .5-1.2.5-1.8.5 1.6.5 2.8.5-.2.5 .8.5-2.5.5 .7.5-.8.5-2.2.5 .5"/><path stroke="#c81a3c" stroke-width="1.5" d="M193.3 244.1l.5-1.6.5 .4.5 .3.5 1.8.5-.1.5-.3.5-.4.5-1 .5-.4.5-.1.5 1.1.5 .7.5 .5.5-.7.5-.8.5 .1.4-2.7.5 3 .5 1.6.5 1.4.5 .2.5-3.2.5-.5.5-3.4.5 3.1.5 .6.5 2.5.5-.8.5-2.2.5 .8.5-3.6.5 2.2.5 .8.5 .5.5 2.8.5-.9.5-.9.5-1.9.5 .1.5 .3.5 1.4.5-.3.5 3.4.5-2.1.5-1.5.5-3.2.5 1.7.5 .2.5 1.7.5 2.2.4-5.9.5 6.7.5-2.7.5-4.6.5 3.3.5 2.3.5-.6.5 1.3.5-1.6.5-2.5.5 .7.5-1.4.5 1.5.5 .5.5 3.3.5-.8.5-1.2.5-2.2.5-2 .5 2.4.5 .3.5 1.3.5 1.3.5-2.1.5-.2.5-1 .5-.7.5 1.5.5-.1.5 1.4.5 3.3.5-3.7.5-1.3.5-1.5.4 1.2.5 1.1.5 .4.5 2.8.5 0 .5-3.1.5-1.4.5 .4.5-.9.5 2.8.5 1.4.5-.7.5-.9.5-1.6.5-2.5.5 1.5.5-3.5.5 12.8.5-5.7.5 0 .5-2.3.5-1.7.5-1.6.5 1.3.5 1.7.5 2.8.5 .7.5 3.6.5-12 .5 3.4.5 2.2.5 .5.5 3.4.5-.2.4-3.1.5-1.5.5 0 .5-3.8.5 5.1.5 1.2.5 0 .5-1.4.5 .1.5-1.9.5-1.2.5 3.4.5-.8.5 .2.5 2.7.5-1.6.5-.8.5-2.1.5 .4.5-.6.5 2 .5 1.9.5-.6.5-1.6.5-.6.5-.2.5 1.1.5-1 .5 .8.5 5.3.5-2.4.5-3.2.5-.6.5-.6.4 .9.5 1.2.5 1.6.5-.9.5-.9.5-1.7.5-2.4.5 1.9.5-.4.5 5.5.5-1.5.5 .1.5-2.6.5-1 .5 1 .5 0 .5 0"/><path stroke="#0a7cc8" stroke-width="1.5" d="M193.3 248.3l.5-.2.5 .6.5 0 .5 .9.5 .9.5-1.3.5-.6.5-.8.5 0 .5 .3.5 1 .5 .7.5 0 .5-.1.5-1.1.5 0 .4-1.1.5 2.5.5-1.6.5 3.1.5-1.2.5-1.1.5-1.1.5-2.2.5 2.5.5 .3.5 1.5.5 .5.5-1 .5-.4.5-3.4.5 1.6.5 .8.5 1.3.5 .5.5 1.2.5-4 .5-.1.5-.8.5 1 .5 1.4.5 1.5.5 1.6.5-1 .5-1.1.5-2.1.5-1.6.5 2.5.5 2.2.5-.7.4 4.8.5-10.9.5 2.7.5-1.8.5 2.6.5 1.9.5 1.7.5 .7.5-1.6.5-2.3.5-1.3.5 .2.5 .1.5 2.7.5 3.5.5-1.8.5-2.1.5-2.5.5 1.4.5 2.5.5-1.1.5 2.2.5-.6.5 .5.5-2.7.5-1.4.5-.7.5 2.3.5-.8.5 2.1.5 .1.5-1.3.5 0 .5-2.5.4 .2.5 2.8.5-.4.5 2.1.5-1.1.5-2.7.5-1.6.5-.4.5 4 .5 1.1.5 1.3.5-2.7.5-.1.5-.7.5-1 .5 2.2.5 5.4.5-7.3.5 2 .5 0 .5-1.4.5 1.4.5-2.9.5 .9.5 .6.5 1.6.5-.6.5-6.4.5 9.2.5-5.2.5 .1.5 2.8.5-.1.5 1.9.4-.3.5-1.9.5-2.2.5-.1.5 .4.5 2.4.5-1.1.5 1.2.5-.4.5-3 .5-2.3.5 3.1.5 2.8.5-.6.5 1.7.5-1.1.5-2.3.5-1.7.5 .5.5 1.8.5-.4.5 3.1.5-1 .5-1.8.5-.3.5-1.7.5 .9.5 2.5.5 1.4.5-1.6.5 .7.5-1.7.5-3.9.5 4.4.4-.7.5 2.5.5-2.8.5 1 .5 .5.5-3.3.5-1.3.5 2.6.5 2.2.5 1.6.5-.5.5-.4.5-2.6.5-1.1.5 1.6.5-1.3.5 2.1"/><path stroke="#f05a1e" stroke-width="1.5" d="M193.3 253.6l.5 0 .5-.4.5 1.1.5 0 .5 .1.5-.4.5-.1.5-1.1.5-.4.5 1.6.5 .4.5 .5.5-.5.5-.2.5-.7.5-.6.4-.6.5 4 .5-1.2.5 .4.5-.4.5-1.1.5 .7.5-3.3.5 2.8.5-.4.5 3 .5-.7.5-2.1.5-.3.5-2.8.5 1.5.5 1.2.5 2.2.5 1.6.5-.5.5-2.9.5-1.1.5-2.5.5 3.2.5 .7.5 3.9.5-1.3.5-3.3.5-.8.5-.8.5 1.2.5 1.9.5 .4.5-.2.4-4.7.5 7.6.5-5.6.5-1.2.5 1.5.5 1 .5 2.5.5 .4.5-1 .5-2.3.5-2.9.5 2.7.5 1.4.5 .5.5 1.7.5-3.1.5 1 .5-.1.5-1.7.5 1.1.5 .1.5 .5.5 1.7.5-3.3.5-1.3.5-.3.5 .4.5 .2.5 2.3.5 2.2.5-1.1.5-1.9.5-1.6.5-1.8.4 3.6.5 1.3.5 1.2.5-1 .5-.8.5-.8.5 .4.5-2.6.5 2.4.5 3.4.5-1.3.5-.2.5-1.6.5-.8.5-3.2.5 3.4.5-4.5.5 10.6.5-2 .5-2.8.5-1.1.5-2.8.5 1.8.5 .4.5 4.5.5-1.5.5 .2.5 3.4.5-8.5.5 .3.5 1.3.5 2.1.5 3.9.5-3.1.4-2.4.5 2.3.5-3.7.5 .4.5 1.8.5 2.3.5 .6.5-2.1.5 .6.5-2.6.5 1.6.5 0 .5 1 .5 .8.5 .4.5-.9.5-4.5.5 1.5.5-1.2.5 1.1.5 2.3.5 3.3.5-5 .5 1.9.5-2.4.5-1.3.5 1.1.5 1.4.5 3 .5-.4.5-1.6.5-1.8.5-1.7.5 2.2.4 .6.5-.3.5 1.2.5-.7.5-.3.5-3 .5 0 .5 3.4.5-.4.5 2.8.5-1.2.5-1.5.5-.9.5-.6.5-1 .5 2.4.5 1.3"/></g></svg>
<rect x="193.8" y="173.2" width="83.0" height="85.5" fill="none" stroke="#9a9a9a" stroke-width="1"/>
<svg x="303.3" y="172.7" width="84.0" height="86.5" viewBox="303.3 172.7 84.0 86.5" overflow="hidden"><g fill="none" stroke-linejoin="round"><path stroke="#0a7cc8" stroke-width="1.4" d="M303.3 180l.5-3.2.5 3.6.5-3.9.5 2.6.5-3.5.5 2.7.5-2.5.5 2.8.5-3.4.5 2.8.5-3.9.5 3.1.5-3.4.5 2.9.5-2.8.5 2.9.4-2.9.5 2.8.5-4 .5 2.6.5 2.6.5 2 .5 2.3.5 .3.5-2.1.5-2.8.5-1.8.5-3.1.5 .6.5 1.7.5 2.8.5 2.5.5 2.8.5-.2.5-2.6.5-2.3.5-2.9.5-.6.5 2.4.5 .3.5 1.6.5 1.3.5-1 .5-1.1.5-3.7.5 2.6.5 .4.5 2.1.5-.1.5 1.1.4-.8.5-2.6.5 .1.5 .7.5 .1.5 .4.5-.2.5 .6.5-.6.5-.4.5 .2.5 .2.5-1.1.5 3.7.5 2 .5-4.3.5-4 .5 1.6.5 .4.5 1 .5 1.4.5 1.6.5-.8.5-2.7.5-1 .5-.1.5 1.4.5 2.5.5 .3.5 1.7.5-2.6.5-3.1.5 .9.5-.6.4 1.3.5 1.1.5 3.1.5-2.4.5-3.3.5-1.6.5 2.3.5 .9.5 .5.5 1.3.5 .5.5-2.3.5-2.3.5-.9.5 1.7.5 1.8.5 2.3.5 1.5.5-1.2.5-4.1.5-4 .5 2.5.5 2.1.5 1.8.5-.3.5 1.2.5-1.5.5-1.9.5-2.3.5 2.5.5 .4.5 2.9.5 1.7.5-2.6.4-1.7.5-2.8.5 1.7.5 1.1.5 .9.5 1.6.5 1.4.5-2 .5-3.7.5 .6.5-.8.5 2.3.5 2.8.5 .1.5-1.1.5-1.9.5-1.4.5 2.4.5-.6.5-.3.5 2.3.5 3 .5-4.2.5-4.1.5 1.4.5 .4.5 1.2.5 1.4.5 2.2.5-1.3.5-2.1.5-2.8.5 1.6.5 .6.4 1.1.5 .7.5 0 .5-.9.5-2.1.5-.7.5 1.7.5-.1.5 1.1.5 3 .5-1.1.5-2.2.5-3.4.5 2.8.5 .8.5-.1.5 2"/><path stroke="#f05a1e" stroke-width="1.4" d="M303.3 185.1l.5-2.5.5 2.6.5-4.6.5 3.6.5-3.7.5 2.8.5-3.1.5 2.9.5-2.7.5 3 .5-4 .5 2.9.5-3.9.5 3.9.5-3.6.5 3 .4-2.5.5 2.6.5-3.7.5 2.5.5 1.9.5 2.6.5 2.7.5 .4.5-2.6.5-3 .5-2 .5-2.6.5 .3.5 2.5.5 2 .5 2.7.5 2 .5 .6.5-3.1.5-1 .5-3.2.5 0 .5 .3.5 1.3.5 1.1.5 .6.5 .7.5-2.9.5-1.3.5 .2.5 1.8.5 .7.5 1.6.5 1.2.4-1.7.5-2.9.5-.7.5 1.7.5-.4.5 2.8.5 1.3.5 .4.5-4.3.5-2.7.5 1 .5 2.1.5 .1.5 1.8.5 .7.5-2.1.5-1.1.5-.9.5 1.1.5 .7.5 .8.5 2.1.5-.1.5-2.7.5-3.8.5 1.7.5 1.6.5 .3.5 3.1.5-.8.5-.2.5-4.2.5-2.4.5 2.6.4 1.3.5 1.9.5 2.2.5-2.3.5-.6.5-3.7.5 .1.5 2.6.5 1.6.5 .8.5-.5.5-.8.5-2 .5-.9.5 0 .5 2.2.5 2.3.5 1.6.5-2 .5-.8.5-3 .5 .5.5 .7.5 .4.5 3.2.5 .9.5-1.6.5-5.6.5 .1.5 2.3.5 .4.5 1.6.5 2.9.5 0 .4-3.7.5-2.4.5-1.9.5 4 .5 .4.5 1.2.5 .3.5-1 .5-1.4.5 .6.5-1.1.5 .3.5 .3.5 2.6.5 1 .5-3.7.5-1.4.5 0 .5 1.3.5 1.1.5 1.1.5 1.3.5-2 .5-3 .5-1.2.5 2.5.5 .2.5 2.2.5 1.3.5-.8.5-1.2.5-4.5.5 .6.5 2.5.4 1.9.5 .3.5 2 .5-.8.5-4.9.5-1.2.5 .9.5 2.3.5 .1.5 2.9.5-.1.5-3.1.5-2.8.5-.1.5 1.6.5 2.1.5 1.8"/><path stroke="#f0b020" stroke-width="1.4" d="M303.3 190.4l.5-3.3.5 2.9.5-3.8.5 2.8.5-3.9.5 3.3.5-2.6.5 2.8.5-3.3.5 2.8.5-3.5.5 2.6.5-3.6.5 4 .5-3.6.5 3.1.4-3.2.5 2.7.5-3.4.5 2.3.5 2.4.5 2.1.5 2.4.5 .4.5-1.8.5-3.4.5-2.1.5-2 .5-.2.5 2.6.5 2 .5 1.9.5 2.5.5 1 .5-2.9.5-3.8.5-.2.5 .8.5 .6.5 1.2.5 1 .5 .8.5-2.8.5-2.3.5-.8.5 1.5.5 2.6.5 1.5.5 1.6.5-3.3.4-2.3.5-1.3.5 1.8.5 1.1.5 .5.5 2.7.5 .2.5-3 .5-3.2.5 .7.5 1.5.5 1.3.5 1.6.5 .2.5-1.1.5-3.1.5-1.5.5 1.5.5 1.5.5-.1.5 1.5.5-.2.5-.7.5-2.2.5-.8.5 1.9.5 1.5.5 .8.5 1.7.5-2.1.5-2.3.5-2.7.5 1 .5 2.2.4 2.6.5 .3.5 .6.5-3.6.5-2.2.5 .9.5 1.2.5 1 .5 1.8.5 0 .5-.8.5-1.8.5-1.2.5 1.5.5-.1.5-.5.5 1.9.5-.3.5 .3.5-4 .5 .5.5 .9.5 1.8.5 .7.5 2.6.5-1.6.5-1.5.5-2.4.5 .4.5 .9.5 1.1.5 1.7.5 .8.5-2.6.4-2.5.5-.5.5 1.6.5 1.3.5-.2.5 1.1.5-.7.5-1 .5-2.9.5 1 .5 1.8.5 1.4.5 .2.5 2.6.5-2.9.5-2.9.5-.2.5 .2.5 3.4.5 .3.5 1.4.5-2 .5-1 .5-1.8.5 1.6.5-.5.5 1.6.5 .2.5 1.6.5-2.1.5-2.7.5-1.1.5 2 .5 1.3.4 1.6.5 1.2.5-1 .5-2.8.5-1.7.5 1.6.5 .7.5 .8.5 1 .5-.1.5-1.9.5-.8.5-.1.5 .4.5 2.3.5-.4.5 1.4"/><path stroke="#8428a4" stroke-width="1.4" d="M303.3 197.2l.5-6.8.5 5.4.5-5.9.5 6.7.5-6.3.5 6 .5-8.5.5 8.2.5-7.6.5 6.1.5-7.4.5 7.2.5-6.9.5 7.5.5-7.3.5 6.1.4-7.4.5 6.2.5-3.9.5 1.8.5 2 .5 2.7.5 3.3.5-.3.5-2.1.5-3.2.5-1.6.5-3.2.5 0 .5 2.8.5 2.1.5 2.9.5 1.9.5 .1.5-2.7.5-2.1.5-3.8.5 5.7.5-2.1.5 4.7.5-4.2.5 2.1.5-4.8.5 3.8.5-5.9.5 6.6.5-3.4.5 2.6.5-1.3.5 2.1.4-5.9.5 3.5.5-4.2.5 6.6.5-.1.5 .7.5-3.5.5 2.4.5-5.7.5 5.8.5-3.5.5 5.1.5-2 .5 4.2.5-6.1.5 .9.5-4.6.5 6.7.5-3.3.5 4.5.5-4.2.5 2.3.5-5.7.5 4 .5-4.1.5 6.1.5-4.8.5 7.1.5-1.6.5-1.1.5-5.1.5 6 .5-4.2.5 3.2.4-3.8.5 7.6.5-7 .5 4.3.5-8.2.5 5.7.5-3.5.5 8.3.5-5.6.5 2.8.5-5 .5 5.4.5-5.9.5 4.5.5-4.4.5 5.1.5-1 .5 4 .5-8.1.5 2 .5-2.2.5 5.1.5-2.7.5 5.3.5-2.8.5 .8.5-8.9.5 8.2.5-4 .5 4.8.5-3.5.5 5.6.5-5.6.5 4 .4-8.2.5 8 .5-4.2.5 5.2.5-4.2.5 6.2.5-6.9.5 1.8.5-5.7.5 6.2.5-4.2.5 6.6.5-2.5.5 3.6.5-8.2.5 3.1.5-2.4.5 3.4.5-3.1.5 7.3.5-3.2.5 .9.5-7.6.5 5.4.5-4.9.5 7.1.5-3.7.5 5.6.5-5 .5 1.9.5-7.3.5 6.3.5-2.6.5 6.2.4-4.5.5 4 .5-4.3.5 1.8.5-5.2.5 6.4.5-3.9.5 7.9.5-5.3.5 3.6.5-6.2.5 1.2.5-2.1.5 5.9.5-4.1.5 3.9.5-1.4"/><path stroke="#72b63a" stroke-width="1.4" d="M303.3 201.3l.5-4.3.5 2.5.5-3.6.5 2.5.5-2.9.5 3.5.5-2.7.5 2.8.5-3.4.5 2.3.5-3.9.5 3.7.5-3.8.5 3.5.5-2.4.5 2.5.4-3.5.5 2.2.5-2.6.5 2 .5 2.2.5 2.6.5 3 .5-.7.5-2.1.5-2.7.5-1.9.5-1.6.5-1.1.5 2.4.5 2.6.5 2 .5 2.5.5 0 .5-2.3.5-7.1.5 1.7.5 2.1.5 2.3.5 .2.5-1.4.5-.3.5-.7.5-.4.5 1 .5 .4.5 .5.5 3.7.5-1.2.5-3.9.4-2.5.5 .7.5 .4.5 3.4.5 .1.5 2.5.5-3.8.5-1.9.5-1.7.5 2.1.5 1.6.5 1.3.5 2.2.5-1.8.5-3.6.5-3 .5 2.6.5 .6.5 1.9.5 1.2.5 2.3.5-1.7.5-4.8.5-1.9.5 1.8.5 1.6.5 4.3.5 1.3.5 0 .5-5.3.5-5.3.5 2.5.5 2.3.5 2.5.4 1.6.5 .5.5-2.3.5-3.1.5-1.5.5 .9.5 3.2.5 1.7.5 .7.5 1.1.5-4.6.5-2.9.5 1.6.5 1.8.5 1.2.5 2.2.5 1.9.5-3.9.5-3.4.5-2.1.5 2.8.5 1.2.5 1.6.5 2.4.5 .1.5-4.9.5-3 .5 1.3.5 2 .5 .6.5 2.4.5 .3.5-2.1.5-1.3.4 0 .5-.7.5 1.4.5 2.2.5 .5.5 .1.5-4.1.5-3.9.5 2.1.5 1.8.5 2.1.5 .9.5 1.5.5-1.4.5-2.9.5-.6.5 .7.5 .1.5 2.8.5 1.7.5 1.3.5-5.2.5-1.7.5 .1.5 1.1.5 1.8.5 1.2.5 1.2.5-1.9.5-3.4.5-.7.5 2.5.5-.1.5 .2.4 2.7.5-.4.5-2.1.5-3.8.5 1.6.5-.3.5 3.4.5 1.8.5 1.4.5-3.9.5-3.1.5 0 .5 1.5.5 .3.5 1.7.5 1.4.5-.4"/><path stroke="#3cc2f2" stroke-width="1.4" d="M303.3 206.1l.5-3.9.5 2.1.5-3 .5 2.8.5-3 .5 3.4.5-3 .5 2.6.5-4.1.5 3 .5-3.2.5 2.9.5-3.3.5 3.4.5-3.4.5 2.2.4-3.8.5 3.1.5-2.1.5 2.2.5 2.4.5 2 .5 2.6.5-.1.5-2.2.5-2.3.5-3 .5-2.1.5-.2.5 2.6.5 2.1.5 3 .5 1.9.5 0 .5-1.8.5-5.7.5 3.1.5 .6.5 2.2.5 .9.5-2.8.5-2.5.5-.5.5 .5.5 2 .5 1.7.5-.1.5 1.4.5-4.4.5-3.7.4 .9.5 1.8.5 3.8.5 .6.5 3.3.5-3.6.5-5.7.5-1.1.5 1.4.5 2.6.5 3.1.5 3 .5-2.5.5-3.5.5-2.8.5 1 .5 2 .5 .8.5 3.9.5-.8.5-1.4.5-5.2.5-1.8.5 2.8.5 1.9.5 1.9.5 1.7.5-2 .5-1.5.5-3.4.5 .2.5 1.9.5 2.4.5 1.8.4 1.8.5-3 .5-2.9.5 .2.5-.3.5 .8.5 2.3.5 2.2.5-1 .5-3.9.5-1.7.5 1.1.5 .7.5 1.6.5 1.3.5 2.3.5-3 .5-3 .5-.6.5 1.8.5 .5.5-.4.5 1.8.5 1.5.5-3.6.5-3.2.5 1.1.5 .7.5 2.4.5 3.4.5 3.9.5-5.5.5-4.9.5-1.7.4 2.3.5 1.4.5 .8.5 1.7.5-.7.5-1.1.5-3.3.5 .9.5 1.1.5 1.6.5 .4.5 1.5.5-1.4.5-1.7.5-2.2.5 .8.5 2.2.5 2.1.5 .2.5 .5.5-3.1.5-2 .5 .7.5-.2.5 2.8.5 .4.5 3 .5-2.9.5-2.5.5-2.9.5 2 .5 .6.5 2.8.5 2.7.4 1.8.5-6.2.5-6.1.5 3.3.5 2.4.5 1.4.5 .9.5 2.9.5-1.5.5-4.5.5-1.2.5 .3.5 2.4.5-.3.5 3.8.5 .4.5-2.9"/><path stroke="#c81a3c" stroke-width="1.4" d="M303.3 211l.5-3.5.5 2.1.5-3.5.5 3.1.5-3.1.5 3.6.5-3.3.5 2.7.5-3.9.5 2.9.5-3.3.5 3.1.5-3 .5 3.1.5-3.7.5 2.7.4-3.6.5 2.4.5-2.7.5 2.9.5 2.3.5 2.7.5 1.9.5 .8.5-2.7.5-1.7.5-2.6.5-3.2.5 .1.5 1.7.5 3.7.5 1.4.5 2.8.5-.4.5-2.4.5-3.6.5 1 .5 1.8.5-.9.5 .9.5-.2.5-2 .5-1.9.5 .7.5 1.7.5 1.7.5 1.6.5 .1.5-3.3.5-4.1.4 2.3.5 1.4.5 1.3.5 1.6.5 1.4.5-3.9.5-.3.5-1.5.5 1.1.5 1.8.5 0 .5 .9.5 .3.5-2.3.5-2.4.5 1 .5-.2.5 2.2.5 1.8.5 .5.5-.9.5-3.2.5 .1.5 .8.5-.5.5 2.2.5 .9.5 .2.5-2.8.5-.4.5-.7.5 2 .5-.2.5 2.4.4 1.7.5-2.3.5-4 .5-1 .5 1.9.5 .2.5 1.9.5 1.7.5 .1.5-2.9.5-5.3.5 4.1.5 .2.5 1.6.5 1.4.5 2.5.5-2.9.5-5.6.5 1.7.5 1.6.5 .9.5 1.8.5 .1.5 1.7.5-4 .5-3.9.5 1.6.5 1.7.5 2.1.5 .7.5 .8.5-1.7.5-2.2.5-1 .4 1.6.5 .7.5 1.8.5-.3.5-.4.5-1 .5-3 .5 .8.5 1 .5 1.9.5 1.2.5 2.8.5-4 .5-2.2.5-1.8.5 1.9.5 1.9.5 2 .5 .5.5 0 .5-3.8.5-4.3.5 2.6.5 1 .5 1.3.5 3.2.5 1.7.5-3.6.5-2.4.5-1.7.5 1.9.5 .9.5 1.5.5 .5.4-2 .5-.2.5-1.8.5 .3.5 1 .5 1.7.5 .8.5 1.9.5-2.2.5-3.5.5-1.1.5 1.4.5 1 .5 1.2.5 1.9.5 1 .5-3"/><path stroke="#0a7cc8" stroke-width="1.4" d="M303.3 215.5l.5-3.1.5 2.8.5-4.3.5 3.5.5-3 .5 3.5.5-3.1.5 2.5.5-4 .5 2.6.5-3.4.5 3.8.5-3 .5 3.2.5-4 .5 2.7.4-3.3.5 2.5.5-2.9.5 2.2.5 2.5.5 2.7.5 2.3.5 .4.5-2.3.5-2.7.5-2.8.5-2.1.5-.2.5 2.8.5 2.5.5 2.3.5 1.9.5 .5.5-3.1.5-3.4.5 0 .5 1.5.5 1 .5 1 .5-1.6.5-2.5.5-1 .5 2 .5 1.6.5 1.8.5 2.5.5-2.6.5-4 .5-1.8.4 1.1.5 1.9.5 .8.5 1.2.5 1 .5-2.4.5-2 .5-.1.5 .8.5 2 .5 .2.5 .7.5-1.2.5-.9.5-1.5.5 .7.5 .6.5 1.2.5 1.5.5-.1.5-2.5.5-1.9.5 .6.5 .6.5 1.7.5 .1.5 1.6.5-.3.5-1.7.5-3.6.5 1.3.5 1.2.5 .7.5-.1.4 1 .5 .4.5-2.3.5-.1.5 .6.5 1.2.5 .4.5 1.3.5-.9.5-4 .5-.1.5 1.6.5 1.8.5-1.1.5 3.9.5 1.5.5-5.2.5-2.9.5 .1.5 .3.5 3.5.5 1.8.5 1.6.5-2.4.5-2.2.5-4.2.5 2 .5 2.6.5 2.1.5 0 .5 0 .5-1.9.5-1.7.5 1.2.4-.9.5 1.6.5 .5.5-.3.5 .9.5-1.5.5-1.5.5 .6.5 .2.5 2.6.5 .5.5 .5.5-1.9.5-2.8.5-1.4.5 1.1.5 2.8.5 1.9.5 1.5.5-.8.5-4.2.5-4.3.5 1.4.5 2.2.5 3.2.5-.2.5 2 .5-2.7.5-2.1.5-.5.5 1.6.5 1 .5 .9.5 1.8.4-.9.5-3.9.5-3.4.5 4 .5-1.1.5 3.2.5 1 .5-.4.5-1.3.5-2.2.5-.5.5 2.1.5 .2.5 1.3.5 .9.5-1.3.5-1.2"/><path stroke="#f05a1e" stroke-width="1.4" d="M303.3 220.7l.5-3.6.5 2.5.5-3.1.5 3.1.5-3.3.5 3.4.5-4 .5 2.7.5-2.8.5 2.5.5-2.9.5 3.6.5-3.7.5 2.9.5-3.7.5 2.4.4-3.5.5 2.8.5-2.1.5 2 .5 2.2.5 2.8.5 2.4.5 .4.5-2.4.5-2.8.5-2.2.5-2.6.5 .2.5 1.9.5 2.1.5 2.7.5 2.2.5 .5.5-2.4.5-2.2.5 1.1.5 1.8.5 .6.5-3.9.5-.7.5-.9.5 2 .5 .3.5 1.4.5 2 .5-.5.5-5.5.5-1.5.5 1 .4 1.6.5 2.6.5 1.3.5 1.8.5-4.2.5-4.4.5 .7.5 1.9.5 .7.5 2.2.5 .8.5-2.1.5-1.6.5-.4.5-.7.5 2.8.5 0 .5 1.6.5 .9.5-3.1.5-4.2.5 1.8.5 1.2.5 1.3.5 2.3.5 .3.5-1.6.5-4.1.5-.2.5 1.9.5 .2.5 2.7.5 1.3.5 2.4.4-5.1.5-4 .5-.1.5 3.3.5 1.2.5 1.8.5 1.3.5-1.7.5-2.6.5-2 .5 1.7.5-.1.5 1.6.5 1.2.5 3.1.5-4.2.5-2.9.5 .6.5 .7.5 .2.5 1.9.5 1.9.5-1.4.5-3 .5-.8.5 .5.5 1.7.5 1.9.5 .1.5 1.6.5-3 .5-4.8.5 1.2.5 1.9.4 2.2.5 .5.5 1.7.5-.9.5-4.1.5-2 .5 1.1.5 2.8.5 .4.5 1.9.5-.2.5-1.7.5-2 .5-2.4.5 3.1.5 1.1.5 1.8.5 .9.5-.9.5-3.1.5-4.5.5 2.3.5 1.6.5 2.6.5 2 .5 1.9.5-4.2.5-3.8.5-1 .5 2.9.5 1.4.5 1.9.5 1.6.5-.9.4-3.7.5-2.7.5 1.1.5 2.6.5 1.1.5 2.2.5 .9.5-3.4.5-3.8.5-1.7.5 3.5.5 1.3.5-.3.5 2.1.5-.8.5-1.9.5 .4"/><path stroke="#f0b020" stroke-width="1.4" d="M303.3 225.7l.5-3.8.5 2.8.5-2.6.5 3.1.5-3.6.5 2.8.5-3.3.5 3.1.5-4.2.5 3 .5-2.8.5 3.1.5-3.2.5 3.3.5-4.3.5 3.3.4-4.4.5 3.5.5-2.9.5 2.3.5 2 .5 3 .5 1.8.5 .6.5-2.5.5-1.8.5-3 .5-2.2.5 .1.5 2.4.5 1.9.5 3.1.5 2.1.5 .1.5-2.4.5-2.5.5 .1.5 2 .5 2 .5-3 .5-4.6.5-.9.5 3.5.5 .9.5 1.3.5 1.4.5 .4.5-4.1.5-2.7.5 1 .4 1.7.5 1.4.5 1.5.5 1.9.5-3.8.5-3.7.5 1.2.5-.1.5 2.8.5 1.4.5 .5.5 0 .5-2.3.5-3.3.5 .5.5 3.3.5 .4.5 1.4.5 2.4.5-3.7.5-2.6.5-2.1.5 3 .5 1 .5 .5.5 4 .5-2.3.5-3.1.5-3.2.5 1.5.5 1.6.5 1.9.5-.1.5 .9.4-2.1.5-1.7.5-1 .5 .4.5 1.6.5 2.4.5 1.9.5-.4.5-4 .5-2.6.5 1.3.5 2.6.5 .7.5 .5.5 2.1.5-3 .5-1.9.5-1.4.5 1.6.5 .9.5 2.2.5 2.1.5 0 .5-5.9.5-2.4.5 .8.5 3.2.5 1.2.5 2.1.5 1.9.5-4.7.5-4.1.5 .6.5 2.7.4 .5.5 1.7.5 .6.5-.1.5-3.7.5-2.8.5 3.3.5 1 .5 1.6.5 1.2.5 .4.5-1.9.5-3.8.5 .3.5 .5.5 .7.5 2.5.5 1 .5 .6.5-3.7.5-1.8.5 .5.5 1.2.5 1.8.5 1.1.5-.1.5-1.5.5-3.6.5-.1.5 .9.5 2.1.5 2.4.5 1.1.5-.6.4-4 .5-2.4.5 1.9.5 .5.5 .8.5 3.2.5 1.1.5-3.8.5-.9.5-3.1.5 1.9.5 1.9.5 2 .5 1.7.5-.9.5-1.7.5-2.9"/><path stroke="#8428a4" stroke-width="1.4" d="M303.3 232l.5-5.1.5 3.3.5-4.7.5 5.7.5-4.9.5 4.5.5-6 .5 5.2.5-5.4.5 5 .5-5.4.5 5.6.5-6.3.5 5.7.5-6.1.5 3.5.4-3.6.5 5 .5-4.3.5 2.1.5 2.9.5 1.7.5 2.6.5 .8.5-2.6.5-2.8.5-2.4.5-2.1.5-.1.5 2.5.5 1.9.5 2.8.5 3 .5-.8.5-2.4.5 .9.5-1.4.5 1.9.5-5 .5 1.6.5-4.3.5 3.3.5 .4.5 3.5.5-1.5.5 2 .5-4.7.5-.2.5-2.2.5 3.9.4-2.1.5 3.5.5-.1.5 .5.5-4 .5-1.9.5 .3.5 2.2.5 .2.5 5.5.5-2.7.5-.3.5-5.9.5 1.4.5 .9.5 5.4.5-1 .5 2.4.5-4.8.5 .1.5-3.1.5 4.6.5-2.8.5 2.9.5-1.5.5 3.6.5-5.6.5 1.3.5-2.1.5 4.3.5-1.1.5 .8.5-2.1.5 1.8.4-1.9.5 1.1.5-1.8.5 1.6.5-.3.5 2.9.5-1.1.5 .1.5-4.4.5 2 .5-1.2.5 3.2.5-.6.5 5.5.5-5.2.5 .1.5-5.1.5 6.1.5-3.3.5 3.2.5-1.6.5 1 .5-1.7.5 0 .5-1 .5 1.8.5-.7.5 1.8.5 .8.5 .9.5-5.2.5-.6.5-.6.5 4.2.4-2.7.5 5.5.5-.4.5-2.1.5-4.5.5 .9.5 .3.5 2.9.5-2.4.5 4.3.5-2.3.5-.6.5-4.3.5 2.8.5 0 .5 2.1.5 1 .5 3.7.5-5.1.5-2.8.5-1 .5 2.8.5 .1.5 2.4.5-.4.5 1.8.5-4.1.5 .5.5-1.1.5 1.5.5-.5.5 3.9.5-1.9.5 1.2.4-6.9.5 2.9.5-.3.5 2.4.5-.4.5 3.9.5-3.2.5-.3.5-4.2.5 2.6.5-1.2.5 2.9.5 1.2.5 1.4.5-4.8.5 .2.5 .3"/><path stroke="#72b63a" stroke-width="1.4" d="M303.3 235.4l.5-3.3.5 2.4.5-2.3.5 3.1.5-3 .5 2.6.5-3.3.5 2.7.5-4.3.5 3.1.5-2.6.5 3.1.5-3.1.5 2.7.5-3.6.5 2.7.4-3.8.5 3.9.5-4.1.5 2.8.5 2.3.5 2.5.5 2.4.5 .7.5-3 .5-2.1.5-2.8.5-2.2.5-.3.5 2.9.5 2.1.5 2.7.5 2.4.5-.2.5-2.1.5-3.7.5 3.4.5 2.8.5-3.4.5-4.3.5-2.2.5 2 .5 1.7.5 3.7.5 2.2.5-1.3.5-3.8.5-1.2.5 .1.5 1.3.4 0 .5 1.3.5-.3.5 .1.5-2.8.5-.3.5-.2.5 1.4.5 2.1.5 2.1.5-.7.5-2.1.5-2.5.5 .4.5 .2.5 1.9.5 2.6.5 1.2.5-2.8.5-2.7.5-2.4.5 2 .5 .9.5 .9.5 1.8.5 1.6.5-4.3.5-1.1.5 .2.5 .5.5 1.9.5 1.1.5 1.3.5-2 .4-1.8.5-2.9.5 1.3.5 1.4.5 .5.5 2.2.5 .3.5-2.2.5-2.6.5-.2.5 1.3.5 1.6.5 1.3.5 3 .5-2.1.5-3 .5-1.6.5 .1.5 2.2.5 1.1.5 .7.5 3.2.5-5.2.5-3.4.5 1.4.5 1.3.5 .4.5 .5.5 3.6.5-.2.5-5.4.5-.7.5 .4.5 2.1.4 1.6.5-.1.5 1.7.5-2.3.5-3.1.5 0 .5 .5.5 2 .5 1.8.5 1.1.5-1.2.5-2.5.5-1.8.5 .5.5 1.4.5 2.1.5 .8.5 2.2.5-3.2.5-4.4.5-.1.5 1.6.5 1.1.5 1.3.5 1.4.5 .4.5-3.8.5-1.9.5 1.2.5 1.1.5 1.5.5 .4.5 1.2.5-2 .4-2.6.5-.1.5 1.7.5 1.3.5 1.2.5 .2.5-.7.5-1.8.5-2.5.5 .6.5 1.2.5 1.1.5 2.2.5 .6.5-2.1.5-2.6.5-.6"/><path stroke="#3cc2f2" stroke-width="1.4" d="M303.3 240.7l.5-3.9.5 3.8.5-3.4.5 3.3.5-4 .5 3.2.5-4 .5 3 .5-3.3.5 2.8.5-2.5.5 3.1.5-3.7.5 2.7.5-3.7.5 3.4.4-3.9.5 3.8.5-4 .5 3.4.5 1.2.5 2.8.5 2.8.5 0 .5-2.2.5-2.8.5-2.1.5-2.9.5 .2.5 2.8.5 1.8.5 3.4.5 1.9.5-.6.5-2.3.5-1.6.5 1.4.5-.9.5-.5.5-1.8.5-1.2.5 1.6.5 1.6.5 .1.5 2.1.5-1.9.5-3.5.5-1.3.5 2.3.5 1.3.4 3.9.5 0 .5-.4.5-4 .5-4.7.5 1.6.5 2.3.5 3.1.5 2.3.5-1.1.5-2.1.5-2.8.5 .9.5 .4.5 1 .5 2.2.5-.1.5 .1.5-3.3.5-2.9.5 .8.5 2.3.5 1.4.5 3.3.5 2.5.5-5.5.5-3.8.5 .4.5 1.5.5 .3.5 1.7.5 1.2.5-.6.5-2.5.4-4.5.5 1.1.5 4.2.5 2.7.5 .4.5 .8.5-2.5.5-3.9.5-2.3.5 3 .5 2.2.5 1.6.5 .5.5-.2.5-3.2.5-3.4.5 .5.5 3.5.5 1.3.5 .8.5 2.7.5-3.8.5-2.1.5-2.6.5 1.7.5 2.4.5 1.7.5 2.9.5-.7.5-4.8.5-4.7.5 1.4.5 2.7.5 2.9.4 1.6.5 1.8.5-3.3.5-2.8.5-2.1.5 2 .5 .7.5 1.2.5 1.1.5 1.4.5-3.5.5-2.3.5 .9.5 .9.5 2.1.5 .7.5-.2.5-1.2.5-1.2.5-2.6.5 2.5.5 .7.5 .8.5 3.5.5-1.1.5-3.1.5-4.8.5 3 .5 1.6.5 2.4.5 0 .5 .4.5-1.5.5-3.7.4-2 .5 2.2.5 2.1.5 1.6.5 3 .5-1 .5-3.3.5-3.5.5 .7.5 1.6.5 .5.5 3.5.5 1.1.5-2.7.5-2.8.5-1.7.5 2"/><path stroke="#c81a3c" stroke-width="1.4" d="M303.3 245.9l.5-3.7.5 3.4.5-2.6.5 2.4.5-3.7.5 2.9.5-3.4.5 2.7.5-3.3.5 3.2.5-3 .5 3.3.5-4.2.5 2.8.5-3.6.5 3.1.4-3.7.5 4.4.5-3.7.5 2.1.5 2.6.5 2.2.5 2.2.5 .9.5-2.8.5-2.6.5-2.2.5-2.8.5 .2.5 2.3.5 2.2.5 2.9.5 3 .5-.2.5-3.6.5 .3.5 .3.5-1.2.5-3.8.5-1.9.5 2.1.5 2.6.5 1.3.5 1.5.5-.9.5-1 .5-2.8.5 0 .5 1.5.5-.1.4 1.1.5 .2.5 .1.5-2.6.5-1.4.5 1.3.5 .9.5 1.8.5 1.5.5 .5.5-3.5.5-4.9.5 2.2.5 2.7.5 1 .5 .9.5 .6.5-1.5.5-2.6.5-.2.5 .1.5 1.3.5 3.3.5-.3.5-1.1.5-.8.5-2 .5 .1.5 2 .5-.2.5 1.8.5 1.7.5-2.6.5-2.7.4-1.1.5 2.1.5 .8.5 .6.5 2.6.5-.7.5-3.2.5-2.8.5 2.2.5 .5.5 .7.5 2.4.5 2.1.5-2 .5-4.7.5 .6.5-.2.5 1.7.5 .7.5 .8.5 .5.5-2 .5-2.5.5 .9.5 1.5.5 0 .5 1.5.5 2.4.5-2.3.5-2.5.5-1.9.5 2.2.5-.8.5 1.1.4 1.8.5 .6.5-2.2.5-.7.5-.6.5 .8.5 1.7.5-.4.5 2.5.5-1.2.5-2.8.5-1.4.5 1.3.5-.9.5 3.5.5 0 .5 2.2.5-3.5.5-1.9.5-.6.5 1.6.5 .7.5 .7.5 1.1.5-.7.5-2.4.5-2.8.5 2.5.5 1.7.5 .4.5 .8.5-.5.5 .1.5-1.7.4-.3.5 .3.5 .9.5 1.4.5 2.4.5-1.6.5-4.8.5-.8.5 1.2.5 2.6.5 1.7.5-.6.5 .9.5-2.8.5-1.5.5-.9.5 1.5"/><path stroke="#0a7cc8" stroke-width="1.4" d="M303.3 250.5l.5-2.9.5 2.9.5-2.6.5 3.4.5-4.2.5 2.4.5-2.8.5 2.7.5-3.7.5 3.9.5-3.5.5 3.4.5-4.3.5 2.3.5-3.6.5 3.1.4-2.6.5 2.8.5-3.5.5 2.3.5 3.1.5 1.9.5 2 .5 1.2.5-2.6.5-2.7.5-2.5.5-2.6.5-.1.5 3.1.5 2.2.5 2.4.5 1.7.5 .6.5-2.7.5-.3.5 1.4.5-3.3.5-2.2.5 .1.5 1.8.5 1.7.5-1 .5 1.5.5 0 .5-2 .5-4.1.5 1.7.5 1.4.5 .9.4 1.2.5 2.2.5-1.9.5-2.5.5-1.8.5 1.7.5 1.5.5-.1.5 2.7.5 .7.5-4.6.5-2.3.5 1 .5 1.8.5 1.2.5 1.4.5 1.6.5-2.6.5-3.2.5-2 .5 2.2.5 1.9.5 1.9.5 .7.5-.7.5-1 .5-1.9.5 0 .5 .8.5 .8.5 1.8.5 .9.5-2.1.5-3.4.4-.8.5 1.2.5 2.3.5 1.1.5 1.1.5-.9.5-2.1.5-1.9.5 0 .5 3 .5 .6.5 1.3.5-.1.5-1.9.5-2.7.5 1.4.5-.5.5 1.9.5 .3.5 2.2.5-1 .5-2 .5-2.2.5-.7.5 2.2.5 .4.5 1.5.5 2 .5-1.8.5-3.6.5-.4.5 1.2.5 1.4.5 1.4.4-.2.5-.4.5-.7.5-2.1.5 .3.5 2.8.5-.2.5 .4.5 2.5.5-2.6.5-2.7.5-2.4.5 2.4.5 .9.5 1 .5 1.8.5 .5.5-2.3.5-3.6.5 2.3.5 1.5.5-.9.5 .3.5 2 .5-1.7.5-.7.5-2 .5 1 .5 1.2.5 .1.5 .6.5 .7.5-1.2.5-2.6.4 0 .5 1.8.5 1.2.5 1.1.5 0 .5-.6.5-1.6.5-1.4.5 1.7.5 .5.5 .3.5 2.6.5-.5.5-1.8.5-4.2.5 .9.5 2.5"/><path stroke="#f05a1e" stroke-width="1.4" d="M303.3 255.4l.5-2.8.5 3.3.5-3.2.5 2.9.5-3.3.5 1.9.5-3.2.5 3.2.5-3 .5 2.8.5-3.3.5 2.8.5-3.7.5 2.9.5-3.4.5 3.6.4-3.4.5 3.3.5-3.8.5 2.7.5 1.8.5 3.6.5 2.1.5-.1.5-2.9.5-1.9.5-2.6.5-2.6.5-.2.5 3 .5 2.4.5 2.4.5 2.1.5-.1.5-2.4.5 2.1.5-1.3.5-3.8.5-2.3.5 1.7.5 .9.5 1.3.5 1.8.5 2.8.5-4.1.5-3.9.5-.9.5 .8.5 2.2.5 2.4.4 1.4.5-.1.5-4 .5-6.9.5 3.5.5 2.4.5 3.2.5 2.2.5-.9.5-2.6.5-2.9.5-1.2.5 1.8.5 1.7.5 1.8.5 .8.5-.9.5-2.1.5-3.2.5 1.7.5 .8.5 2.1.5 1.9.5 .2.5-1.5.5-3 .5-.8.5 2.3.5 .4.5 1 .5 .7.5 .2.5-3.1.5-2.8.4 .8.5 2.2.5 1.8.5-.7.5 .6.5 .1.5-1.6.5-1.3.5 1.2.5 .1.5 1.2.5 2.4.5-1.1.5-2.4.5-3.8.5 1.9.5 1.9.5 .6.5 1.1.5 2.3.5-2.9.5-2.7.5-2.9.5 3.1.5 2.2.5 .8.5 1.2.5 1 .5-3.5.5-3.4.5 1.2.5 1.2.5 1.9.5 .2.4 3.2.5-3.2.5-1.7.5-1.1.5 1.1.5 .4.5 .9.5 .8.5 .7.5-1.4.5-.4.5-.2.5-.7.5 .8.5 1.1.5 2.5.5-3.2.5-3.1.5-.1.5 1.2.5 2.2.5 .5.5 0 .5 2.4.5-4.8.5-2.5.5 .7.5 1 .5 2.8.5 .5.5 1.8.5-2 .5-3.2.5-1.5.4 2.5.5 .7.5 1.1.5 2.4.5-.7.5-3.3.5-2.7.5 1.1.5 1.1.5 2.5.5 1.2.5 1.1.5 .2.5-6.4.5-.2.5 1.2.5 1.3"/></g></svg>
<rect x="303.8" y="173.2" width="83.0" height="85.5" fill="none" stroke="#9a9a9a" stroke-width="1"/>
<svg x="413.3" y="172.7" width="84.0" height="86.5" viewBox="413.3 172.7 84.0 86.5" overflow="hidden"><g fill="none" stroke-linejoin="round"><path stroke="#0a7cc8" stroke-width="1.5" d="M413.3 177.7l.5 .2.5-.3.5 .3.5-.7.5 .3.5 .4.5 .7.5-.3.5-.2.5-.2.5 0 .5-.2.5 .3.5-1.3.5 1.6.5-.7.4 .6.5-.9.5 .3.5-1.4.5 .8.5 1.2.5-.4.5 1.1.5 1.9.5-2.9.5 0 .5-2.9.5 1.6.5 4.2.5 1.4.5 .2.5-2.4.5-4 .5-1.6.5 1.7.5 2.1.5-.2.5 5.6.5-4.1.5 .3.5-4 .5-.8.5 .1.5 3.4.5 .2.5-.3.5 1.5.5-3.3.5-1.3.4 2.1.5 .9.5 2.3.5 3.1.5-2.1.5-2.9.5-3.7.5-.7.5 1 .5 4.1.5 3.5.5-.5.5-2.8.5-5.4.5 .2.5 1 .5 2.4.5 1.7.5 .2.5 .3.5-1.2.5-1.6.5-1.7.5 .5.5-.5.5 5.7.5-1 .5-1.9.5-1.6.5-1.8.5 1.3.5 1.3.5 1.7.5 3.3.4-4.5.5 .7.5-1.7.5 .1.5 .8.5-.2.5 .7.5 1.4.5-1.6.5-2 .5-1.7.5 2.6.5-1.3.5 4.7.5 2.4.5-3.3.5-3.6.5-1.5.5 1.8.5 1 .5 .3.5 1.2.5 1.3.5-2.1.5-.2.5-3.5.5 .3.5 3.8.5 1.3.5 .1.5-1 .5-2.2.5-2.2.5 .3.4 2.9.5 1.9.5 2.1.5-.9.5-.9.5-4.1.5-.5.5 0 .5 1.4.5 2.2.5 2.8.5-1.4.5-3.6.5-1.1.5-.5.5 2.3.5 2 .5-.2.5 1.2.5-2.1.5-1.7.5 .9.5-1.2.5 .9.5 .3.5 .6.5 1.9.5-3.3.5 1.9.5-5 .5 2.8.5 1.6.5 4.6.5-.9.4-3.5.5 .2.5-3.8.5 1.2.5 1.8.5 .3.5 4.8.5-3.1.5-.5.5-3.4.5-.6.5 2.1.5 2.2.5 1 .5 1.7.5-2 .5-3.7"/><path stroke="#f05a1e" stroke-width="1.5" d="M413.3 183.3l.5-.3.5 .2.5 0 .5-.2.5-.7.5 1.2.5-.3.5-.5.5-.1.5 1 .5 .1.5-.7.5 .1.5 .1.5-.6.5 .2.4 .1.5 .5.5-1.4.5-.1.5 .7.5-.4.5 1.2.5 .6.5-.6.5-.3.5-2.3.5-.3.5 2.2.5 .9.5-.5.5 3.6.5-2.7.5-2.6.5-1.4.5 .1.5 2.6.5 4.1.5-1.1.5-2.3.5-.4.5 .9.5-2.2.5 2.1.5 1.8.5 1.1.5 .2.5-1.8.5-3.7.5-3 .4 2.1.5 0 .5 3.4.5 1.4.5-1.1.5-2.2.5-3.5.5 3.9.5 1.1.5 .8.5 2.3.5 1.3.5-3.8.5-2.2.5-1.4.5 .4.5 1.3.5 2.8.5 .6.5-1.2.5-2 .5-2.1.5 1.8.5-1 .5 2.9.5 .7.5 2 .5-4.5.5-.2.5-4.3.5 2.3.5 4 .5 2.8.5 0 .4-1.1.5-2.8.5-2.7.5 1.5.5 .9.5 1.1.5 2 .5-1 .5-.6.5-2.5.5 .6.5-.9.5 1.9.5 .6.5 3.3.5-2.3.5-1.2.5-3.7.5-.4.5 2.5.5 .3.5 2.3.5 3 .5-4.1.5-2.7.5 .5.5-.7.5 .7.5 4.4.5 3.8.5-6.1.5-.7.5-.7.5 .3.4-.3.5 2.2.5 2.1.5-1.4.5 .2.5-.7.5-4.3.5 .4.5 .8.5 4.3.5 3.5.5-4.7.5-1.6.5-.7.5-2.6.5 1.4.5 1.1.5 2.9.5-.3.5-1.9.5 .8.5-4.3.5 .8.5 2.3.5 2.3.5 2.3.5-1.4.5-3.5.5-1.2.5-.8.5 1.3.5 3.2.5 2 .5-.2.4-1.7.5-4.5.5-1.2.5 .8.5 2.4.5 .9.5 3.4.5-1.1.5-1.7.5-1.3.5-2.8.5 3.4.5 .9.5 .5.5-1.3.5 .7.5-2.2"/><path stroke="#f0b020" stroke-width="1.5" d="M413.3 188.2l.5-.2.5-.5.5 1 .5-.3.5-.3.5 .4.5-.3.5 .9.5-1.3.5 .8.5 .5.5-.7.5-.1.5 0 .5 .3.5-.9.4-.3.5 1.4.5-.6.5-1.3.5 1.9.5 .4.5 .7.5-.5.5-.9.5-3.8.5 .7.5 .5.5 3 .5 3.2.5-2.3.5 .3.5-2.5.5-2.3.5-.5.5 2.4.5 1.8.5 .7.5-1 .5-.3.5-1.2.5-3.7.5 2.2.5 2.9.5 1.4.5 .8.5-1.4.5-1.7.5-.6.5-.6.4 1.6.5-.2.5 2.4.5 .4.5-2.6.5-1.7.5-1.2.5 1.5.5 1.2.5 1.9.5 2.4.5-.7.5-4.1.5-1.9.5-3.1.5 5.3.5 1.9.5 2.1.5-.5.5-2.5.5-1.7.5-.1.5-1 .5 3.4.5-.5.5 .9.5-.1.5-3.2.5-1.1.5-.8.5 2.4.5 2.6.5-.1.5 .2.4-1.3.5-.6.5-1.6.5 2.1.5 1.8.5 .7.5 1.7.5-1.3.5-3.1.5-2.4.5-1.4.5 1.9.5 3.4.5 2.5.5-.4.5-1.3.5-3.8.5 .3.5-2.1.5 2.9.5 1.5.5 2.5.5-3.1.5-1 .5-.8.5 .5.5 .1.5 2.9.5 1.4.5-.7.5-2 .5-.7.5-2.2.5 .8.4 1.8.5 .4.5 2.4.5-2.9.5 .7.5-3.1.5-2.7.5 3.3.5 1.9.5 4.2.5-.4.5-2.1.5-3.9.5-1.7.5 2.5.5-.2.5 4.4.5 1.1.5-3.5.5-1.3.5-.3.5-3.1.5 3.4.5 1.6.5 1.6.5-.6.5-2.2.5-1.4.5-2.7.5 .9.5 4 .5 .1.5 2.5.5-.6.4-2.8.5-2.3.5-2.2.5 1.9.5 3.9.5-1.4.5 3.5.5-2.5.5-3.2.5-.6.5 .1.5 2.1.5 2.6.5 .2.5-.3.5-1.1.5-2.4"/><path stroke="#8428a4" stroke-width="1.5" d="M413.3 196.1l.5-5 .5 5.9.5-6.6.5 4.8.5-6.5.5 6.4.5-4.6.5 5.9.5-4.1.5 4.1.5-6 .5 5 .5-6.6.5 7.4.5-5.8.5 6.9.4-5.9.5 2.8.5-4.6.5 5.5.5-6 .5 7.3.5-5.1.5 5.5.5-5.8.5 6.5.5-6.9.5 4 .5-2.9.5 4.5.5-4.4.5 5.4.5-6.1.5 3.4.5-6.1.5 6.8.5-4.9.5 6.5.5-4.4.5 2.5.5-4.9.5 5.2.5-5.7.5 7.3.5-7.3.5 6.5.5-5.7.5 5.3.5-5.9.5 3.9.4-5.5.5 7.6.5-3.7.5 4 .5-4.7.5 2.2.5-2.7.5 5.2.5-4.9.5 4.7.5-4 .5 5.1.5-6.1.5 3.9.5-3.6.5 3.7.5-3.8.5 5.3.5-5 .5 5.2.5-4.7.5 3.4.5-4.3.5 4.4.5-4.7.5 7 .5-7.2.5 5.5.5-4.9.5 2.8.5-3.1.5 4.9.5-4 .5 5.7.4-5.8.5 3.7.5-5.9.5 7.1.5-5.9.5 5.4.5-4.5.5 5.6.5-6 .5 5.4.5-7 .5 5 .5-3.4.5 5 .5-5 .5 4.4.5-5.1.5 5.5.5-5.8.5 4.4.5-2.3.5 5.6.5-6.7.5 4.4.5-5.9.5 5.8.5-5.5.5 5 .5-2.9.5 5.5.5-6.3.5 4.8.5-5.7.5 5.5.4-6.3.5 6.4.5-3.2.5 3.3.5-5.6.5 5.3.5-6.6.5 6.2.5-4.8.5 6.8.5-6.3.5 5.2.5-5.1.5 4.9.5-6.9.5 6.3.5-5.4.5 5.7.5-4.4.5 3.5.5-4.9.5 5.5.5-5.2.5 5.9.5-3.9.5 4.8.5-6.1.5 4.4.5-6.1.5 4.9.5-5.1.5 6.6.5-3 .5 2.9.4-5.1.5 5.8.5-6.5.5 5.7.5-5 .5 8 .5-4.7.5 2.4.5-5.3.5 3.3.5-4 .5 5.8.5-4.8.5 5.8.5-4.5.5 3.1.5-5.3"/><path stroke="#72b63a" stroke-width="1.5" d="M413.3 197.4l.5 .8.5 0 .5 1.2.5-1.1.5-.5.5 1.2.5-1.3.5-.2.5 1 .5 .2.5-.5.5-.9.5 .4.5 .8.5-.1.5-.2.4-.5.5-.1.5 .1.5 0 .5 1 .5 .8.5-.1.5-.2.5-2.6.5-.7.5-1 .5 1.7.5 1.9.5 2.9.5 1.6.5-4.4.5-1.5.5-1.6.5 1.2.5 3.1.5-1 .5 1.6.5-1.5.5-1 .5-2.6.5-1.7.5 1.1.5 2.7.5 4.5.5 .8.5-2.1.5-3.6.5-1.7.5 1.6.4 1.9.5 1.4.5 .9.5 1.2.5-3.4.5-2.8.5-.9.5 1.8.5 .3.5 3.1.5 0 .5-.8.5-2.6.5-.8.5 .9.5 1.6.5-.9.5 4.4.5 0 .5-4.8.5-1.4.5-1.4.5 3 .5 2.2.5 .8.5 .1.5-1.4.5 0 .5-6.2.5 1.8.5 2.4.5 1.6.5 .7.5 2 .4-2.5.5-2.1.5-3.5.5 2 .5 2.1.5 5.2.5-.4.5-1.5.5-3 .5-3.9.5 1.3.5 1.9.5 1.4.5 .7.5 1.2.5 .6.5-4.1.5-3.1.5 2.3.5 1.3.5 2.7.5 1 .5-3.1.5-2.8.5 1.1.5-2.1.5 2.5.5 1.7.5 .9.5 2.5.5-2.5.5-4 .5 .3.5 .5.4 .5.5 2.4.5 1.1.5-2.4.5-.6.5 0 .5 .6.5-.3.5 3 .5 1.1.5 .9.5-2.9.5-1.6.5-4.7.5 3.3.5 .8.5 1.1.5 3.6.5-.9.5-4.3.5-2.9.5 2.9.5-.7.5 2.6.5 1.7.5-.8.5-1.4.5 0 .5-2.2.5-.6.5 .9.5 3.1.5 2.7.5-2.4.4-1.5.5-2.2.5-.8.5 .4.5 2.2.5 2.5.5 .7.5-2.3.5-1.8.5-1.7.5 .9.5 .4.5 4.2.5 3.2.5-3 .5-5 .5-.5"/><path stroke="#3cc2f2" stroke-width="1.5" d="M413.3 203.8l.5-1.2.5 .4.5 .2.5-.2.5-.1.5 .8.5-.7.5 .7.5-.6.5 .1.5 .3.5 .1.5-.6.5 .6.5-.9.5 .8.4 .4.5-1.4.5 .6.5-1.5.5 3.1.5-.4.5-.4.5-.1.5-1.9.5-.5.5-.2.5 1.3.5 2.4.5 1.4.5-1.1.5-3.3.5-1.8.5-.6.5 1.8.5 3.5.5 3.1.5-.7.5-2.3.5-4.4.5-2.8.5 3.5.5 1.3.5 2.4.5 3.5.5-3.2.5-3.7.5-2.4.5-.4.5 3.1.4 3.6.5-2.5.5 4.7.5-3.9.5-1.3.5-4.7.5 2.7.5 2.9.5 2.6.5 .1.5-.6.5-1.9.5-1.1.5-.8.5-1.5.5 3.7.5 .8.5 1.4.5-3.6.5-1.6.5 3.3.5 1.6.5-3.6.5 3.1.5 1.7.5-3 .5-.3.5-2.4.5 .9.5 .9.5 .3.5 0 .5 2.4.5-1.5.4-.1.5-1.9.5 .4.5 1.9.5 1.2.5 4 .5-3.2.5-3.8.5-2.3.5 .4.5-.5.5 5 .5-.1.5-1.2.5-2.1.5 1.5.5-2.5.5 .6.5 .5.5 4.8.5 2.2.5-3.4.5-1.7.5-4.2.5 2.8.5-1.5.5 3.1.5 4.3.5-.9.5-3.9.5-1.4.5-2.2.5 .6.5 1.6.4 2 .5 2.4.5-2.2.5 .6.5-3 .5-1.8.5 .4.5 2.1.5 2.2.5 .5.5-2.3.5-1 .5 .1.5 .2.5 0 .5 1.6.5 3.8.5-1.8.5-3.8.5-1.6.5-1.3.5 3.1.5 .1.5 2.3.5 .8.5-2.4.5 1.8.5-4.5.5 1 .5 2.2.5 .9.5 1.8.5-1.3.5-3.9.4-.1.5-.6.5 .8.5 3.1.5 2.7.5-1.2.5-2.9.5 .4.5-1.3.5 .1.5 0 .5 1.8.5 5.2.5-3.5.5-1.3.5-5.3.5-.6"/><path stroke="#c81a3c" stroke-width="1.5" d="M413.3 208.5l.5 .6.5-.6.5 .3.5-.1.5 0 .5-1 .5 1.2.5-.3.5-.9.5 .3.5 .2.5 1 .5-.2.5-.7.5-.2.5-.2.4-.1.5 0 .5 0 .5 .8.5 0 .5 .1.5 1.1.5-1.2.5-2.3.5-1.6.5 3.2.5 1 .5 1.3.5 .1.5-2.3.5-.5.5-.3.5 .4.5 1.6.5 2.3.5-.8.5-.1.5-2.4.5 .2.5-1 .5 .1.5 1.7.5 .1.5 .9.5-1.3.5-1 .5-.7.5-1.2.5 1.8.4 .1.5 4.5.5-2.5.5 .5.5-4.3.5-2.1.5 2.1.5 2.7.5-.7.5 2.3.5-.5.5-1.9.5-3.2.5-1.2.5 4.9.5 1.6.5 .3.5 .2.5-2.2.5-1 .5-4.8.5 2.4.5 3.9.5 3.1.5 .2.5-2.7.5-3.4.5-.9.5 1 .5 1 .5 3 .5 1.2.5-.9.5-3.2.4-.3.5-2 .5 .3.5 3.5.5 1.2.5-.1.5 .3.5-.1.5-3.5.5 0 .5 1.4.5 2 .5 1.4.5-1.5.5-.4.5-2.5.5-1.5.5 1.6.5 1.2.5 1.6.5 1.4.5-2.2.5-3.4.5 .4.5 0 .5 2.2.5 1.3.5 2.6.5-1.8.5-3.6.5-.1.5-2.5.5 2.3.5 2.4.4 1.1.5 2.4.5-2.2.5-2.6.5-.4.5-1.8.5 2.6.5 1.5.5 .4.5 1.3.5-2.6.5-2.3.5 1.1.5 .4.5 1.5.5 .1.5 .2.5-.7.5-.1.5-1.9.5-1.3.5 .1.5 2.7.5 3.6.5-.2.5-1.2.5-3.3.5-4.9.5 4.5.5 2.2.5 2.7.5 0 .5-1.6.5-1.1.4-4.8.5 .7.5 2.9.5 .2.5 0 .5 .6.5-.8.5-.1.5-.3.5-1.5.5 3.6.5 .7.5-.3.5-1.8.5-1.7.5-1.4.5-1.2"/><path stroke="#0a7cc8" stroke-width="1.5" d="M413.3 213.3l.5 0 .5-.4.5 .6.5-.2.5 1 .5-1 .5 .2.5 .3.5-.5.5-.8.5 1 .5 .6.5-.9.5 0 .5 0 .5 1.5.4-.9.5-.4.5 .2.5 .2.5-1 .5 1.5.5-.3.5-.8.5 .2.5-.8.5 1 .5 .6.5 2.1.5-2.2.5-.5.5-1.1.5-2.8.5 1.3.5 1.9.5 2.4.5 1.8.5-1.3.5-1.2.5-6.5.5 1.4.5 4.1.5 1.9.5 .4.5 .8.5-4.1.5-2 .5 .1.5-1 .5 2.4.4 4.4.5 1.1.5-3.8.5 .2.5-2.5.5 .5.5-.3.5 1.4.5 .3.5 2.9.5-2 .5-3.1.5 1.4.5-.7.5 .6.5 1.4.5 1.8.5 .3.5-5.3.5 1.1.5 .6.5 .9.5 .6.5 1.2.5 1.6.5-1.3.5-2.4.5-1.2.5-.7.5 2.7.5 3 .5 1.6.5-2.7.5-3.7.4 0 .5 .5.5 .6.5-.1.5 1.8.5 2.2.5-2.1.5-2.4.5-3.6.5 2.7.5 2.1.5 .9.5 2.6.5-1.1.5-2.2.5-1.3.5-2.3.5 3 .5-1.3.5 4.2.5-.6.5 .5.5-5 .5 0 .5-.7.5 2.5.5-.3.5 3.8.5-1.4.5-2 .5-1.3.5-1.3.5 1 .5 4.9.4-1.7.5 .3.5-.9.5-1.4.5-2.9.5 .8.5 1.9.5 1.3.5 2 .5-.3.5-2.7.5-.1.5-1.8.5 2 .5 1 .5 1.1.5 1.5.5-.1.5-1.9.5-3 .5-.6.5 2.4.5 1.5.5 .3.5 .5.5-1.7.5-1.8.5-2.9.5 3.4.5 1.7.5 3.9.5 1.4.5-4.8.5-2.5.4-1.4.5 2.4.5 .3.5-.9.5 2.8.5 .6.5-2.9.5-2.2.5-1.9.5 2.2.5 2.8.5 1.7.5 .2.5-.2.5-3.6.5-.7.5 2"/><path stroke="#f05a1e" stroke-width="1.5" d="M413.3 218.4l.5 .5.5-1.1.5 .5.5 .5.5 .2.5-.9.5 .8.5 .4.5 .6.5-1.3.5-.1.5 .1.5-.2.5 .6.5-1.6.5 1.6.4-.8.5 0 .5 0 .5 .8.5 .7.5-1.9.5 .5.5 .6.5-2.2.5-.5.5 3.3.5 .3.5 1.5.5-.6.5-2.6.5-.6.5-2.5.5 2 .5 1.9.5 3.9.5-3.4.5 1.2.5-3.1.5-2 .5-1.8.5 6.3.5-.8.5 2.9.5-1.9.5-.1.5-2.9.5-2.2.5 1.8.5 3.5.4 1.8.5 .5.5-3 .5-2.5.5 .4.5-3.2.5 2.6.5 2.9.5 1.3.5-.6.5-1.7.5-2.8.5-.5.5 .4.5-.1.5 3.8.5 1.3.5-.6.5-1.8.5-.7.5-3.5.5 2.5.5 2.1.5 1.8.5 .4.5-2.6.5-3 .5-.8.5 1 .5 3 .5 .7.5 2.4.5-2 .5-2.2.4-2.7.5 .1.5 1.9.5 4.8.5-.3.5-.3.5-1.3.5-2 .5-4.3.5 3.7.5 2.4.5 .7.5 1 .5-1.3.5-1.1.5-2.8.5 2 .5 .5.5 .9.5 1.7.5 .7.5-3.6.5 1.6.5-5.8.5 4.5.5 1.1.5 1 .5 .6.5-2.8.5 2.3.5-3.4.5-1.2.5 1.2.5-.3.4 2.5.5-1.5.5-.2.5 .6.5-.3.5-.9.5 .1.5 2.1.5 2.4.5-3.1.5-.9.5-.4.5-.5.5 .1.5 1.8.5 2.8.5-3.3.5 2.6.5-3.7.5-2.4.5 .7.5 1.7.5 2.3.5 2.3.5-1.1.5-2.4.5-1.1.5-1.5.5 2.2.5 1.4.5 1.7.5-1.4.5-1.1.5-3.2.4-.9.5 2.3.5 2.3.5 .6.5-1 .5-.4.5-.1.5-1.1.5-1.9.5 1.5.5 2 .5 1 .5 1.5.5-3.6.5-.3.5-2.5.5 2"/><path stroke="#f0b020" stroke-width="1.5" d="M413.3 223.9l.5-.4.5 .8.5-1.4.5 1.1.5-.5.5 .2.5-.4.5-.5.5 .6.5-.6.5 1 .5-.4.5-.2.5 .6.5-.5.5 0 .4-.1.5 0 .5 .6.5-.5.5 1.5.5-1.6.5 .2.5-.5.5-2.5.5 3.1.5 .9.5 1.3.5 .2.5-3 .5 .9.5-4.2.5 2.8.5 1.4.5 2.5.5 2.5.5-4 .5-1 .5-.7.5-3.8.5 1.2.5 2.5.5 3.4.5 .8.5-3.5.5-.6.5-1.9.5-.5.5 3.3.5 2 .4 1.5.5-3.8.5-.3.5-2 .5-.3.5 1.2.5 1.9.5 1.7.5 1.6.5-2.2.5-.2.5-6.5.5 2.1.5 2.7.5 1.1.5 2.8.5-1.9.5-1.8.5 1.1.5-3.1.5 2 .5 .1.5 2.8.5-1.6.5 1.4.5-3.9.5-1.2.5 2.4.5-.2.5-.5.5 3.2.5 1.1.5-4.2.5 1 .4-2.4.5 .5.5 2.7.5 .6.5 .8.5-3.2.5 .8.5-3.1.5-2.1.5 4.8.5 2.3.5-.9.5 1.2.5-3.6.5-1.7.5-1.5.5 4.1.5-1.4.5 3.9.5 1.3.5-1.5.5-2.1.5-3.4.5-.1.5 1.9.5 2.3.5 3.3.5-2.5.5-.6.5-3.6.5-.9.5 .2.5 3.2.5 4.5.4 .9.5-4.4.5-3.9.5-2.2.5 2.4.5 3.4.5-.2.5 .9.5-1.1.5 .5.5-2.1.5-.9.5-.5.5 2.8.5 3.8.5-.3.5-1.8.5-1.6.5-2 .5-.5.5 2.1.5 1 .5 2.5.5-1.9.5 .3.5-1.6.5-.8.5-.3.5 .8.5 2.2.5-1 .5 1.8.5-2.2.5-3.7.4-1.6.5 3.5.5 3 .5 2.5.5-1.6.5-2.3.5-.9.5-3.2.5 2.1.5 2.3.5 .4.5-.5.5 1.5.5-1.6.5-1.9.5-1.2.5 3.4"/><path stroke="#8428a4" stroke-width="1.5" d="M413.3 229.5l.5-.5.5-.3.5 .1.5-.1.5 .3.5-.8.5 .1.5-.1.5 0 .5 .2.5 .2.5-.8.5 .8.5 .8.5-.5.5-.6.4 .8.5-.6.5 .1.5 1.7.5 0 .5-1.4.5-.2.5-1.7.5 .6.5 .2.5 1.6.5 1.2.5 1.5.5-2.3.5-3.7.5 0 .5 .8.5 1.4.5 2.7.5 1.5.5-1.3.5-2.4.5-2.3.5 0 .5 1.6.5 1.5.5 3.1.5-1.8.5-1.6.5-3.5.5-.2.5 2.5.5-1.5.5 2.8.4 6 .5-3.9.5-3.3.5-1.8.5 1 .5 1.1.5 .2.5-.5.5 .7.5-1.7.5 .8.5-2.3.5 1.5.5 2.9.5 .5.5 2 .5-.5.5-3.6.5-3.4.5 2.9.5 .8.5 1 .5-.1.5 1.4.5-2.2.5-1.5.5-3.7.5 1.3.5 3.8.5 2.8.5 1.3.5-.9.5-6.2.5 1.9.4-2.7.5 2.9.5 1.5.5 4 .5-1.9.5-2.6.5-5.2.5 2.6.5 .3.5 3.1.5-.7.5 1.7.5-1.3.5-.5.5-2.9.5-1 .5 2.7.5 3.3.5 1.7.5-1.2.5 0 .5-4.7.5 .2.5 0 .5 1.4.5 2.6.5 2.9.5-3.7.5-1.3.5-3.4.5-1.4.5 2.6.5 2.7.5 2.8.4-.5.5-4.2.5 .2.5-3.6.5 1.9.5 2 .5 1.3.5-1.5.5 .9.5-1.6.5 1.3.5-4.2.5 2.7.5 2.7.5 3 .5-3 .5 .3.5-3 .5-.1.5 .3.5 .6.5 2.6.5-.6.5 1.1.5-3.9.5-1.5.5-2.3.5 3.9.5 .3.5 .9.5 3 .5-.4.5-4.9.5-.2.4-1.1.5 4.4.5 1.6.5 1.2.5-2 .5-1.4.5-1.7.5-1.5.5 2.4.5 1.1.5 5.1.5-.7.5-3 .5-4 .5 1.5.5-.5.5 .8"/><path stroke="#72b63a" stroke-width="1.5" d="M413.3 234.2l.5-.2.5 0 .5 .2.5-1.2.5 1.2.5-.9.5 .4.5 .6.5-.3.5 .4.5-.7.5 .6.5-1.1.5 1.3.5-.8.5 0 .4 .4.5-.8.5 .6.5-.6.5 .5.5-.8.5-.4.5 .5.5 .9.5 .4.5-.4.5-.4.5 2.6.5-3.9.5-.9.5 .2.5 1.5.5 1.6.5 2.5.5-1.7.5-3.4.5 .3.5-1.3.5 1.9.5 1.7.5 .4.5 1.7.5-1.2.5-2.4.5-4.4.5 2.9.5 1.9.5 1.1.5 2.1.4-2.5.5-1.3.5-.7.5-3 .5 3.6.5 2.1.5 1.9.5 .2.5-2.2.5-1.4.5-.5.5-.5.5-.1.5 2.7.5-.8.5-.4.5-1.9.5 1.3.5-1.7.5 .7.5 2.4.5 2.2.5-.7.5-1.5.5-2.1.5-3.3.5-.1.5 3.6.5 .7.5 1.9.5 .8.5-4.3.5 .3.5-2.4.4 2.6.5 1.5.5 3.9.5-1.5.5-.5.5-3.3.5-1.8.5-.9.5 4.4.5 1.9.5 2.9.5-1.2.5-3 .5-5.1.5-.7.5 4.2.5 0 .5 .5.5 1.2.5-.7.5-.5.5-4 .5 3 .5-1.6.5 5.6.5 1.8.5-1.7.5-5.6.5 1.6.5-2.3.5 .8.5 3.7.5 1.6.5 2.7.4-5.3.5-.9.5-3.6.5 2.6.5 .4.5 1.2.5 5.5.5-2.5.5-2.1.5-3.2.5-4.1.5 5.1.5 2.3.5 2.4.5-2.5.5 1.3.5-2.9.5-3.4.5 .9.5 1.8.5 3.2.5 1 .5-.4.5-1.5.5-1.6.5-3.2.5 1.5.5 4.1.5 .8.5 1.3.5-2.4.5-3 .5-.1.5-3.4.4 5.2.5 .2.5 3.9.5-1.4.5-3 .5-1.7.5-3.4.5 1.5.5 4.7.5-.8.5 2.6.5-1.3.5-2.1.5-2.5.5 .3.5 2.4.5 2.9"/><path stroke="#3cc2f2" stroke-width="1.5" d="M413.3 239.1l.5-.6.5 .3.5 .4.5-.3.5 0 .5 0 .5-.1.5-.4.5 .3.5 .5.5-.7.5 .8.5-.6.5 .1.5-.4.5-.2.4 1.1.5-.7.5-.1.5 1.1.5-.1.5-.9.5-.9.5-.5.5 .7.5 .7.5 1.8.5 .3.5-1.5.5-2.6.5-1.5.5 3.3.5 1.6.5 .7.5-1.2.5 1.4.5-2.4.5-.6.5-.6.5-.3.5 3.2.5 1.8.5 .2.5-1.5.5-4.8.5-1.8.5 1.1.5 3.8.5 2.8.5 2.2.4-2.8.5-2.7.5-.6.5 2.3.5-2.6.5 1.8.5 1.7.5 1.4.5-4.7.5-.6.5-1.2.5-.3.5 3.3.5 .2.5 3.2.5-2.6.5 .1.5-1.1.5-1.6.5-.2.5 2.6.5 .8.5 0 .5-1.2.5-4.2.5 1.7.5 .3.5 2.8.5 1.6.5-.8.5 .7.5-2.4.5-1.4.5-1.6.4 2.2.5 3.1.5 2.1.5-3.3.5 .7.5-1.3.5-2.1.5 .2.5 .2.5 .6.5 3 .5-1.7.5-1.7.5-2.4.5-.5.5 .8.5 4.5.5 2.8.5-1.3.5-2.6.5-2.4.5-1.3.5 2.1.5 1.8.5-.7.5 2.6.5-1.3.5-.5.5-1.6.5 1 .5 .3.5-1.7.5 4.3.5-1.6.4-2.1.5-.4.5-3.9.5 3.4.5 1.1.5 1 .5 3.6.5-1.3.5-1.5.5-4.5.5 1.1.5 1 .5 2.3.5 .8.5-1.1.5-1.1.5-.7.5-1.2.5 1.1.5 .7.5 2.4.5 .5.5 0 .5-5.1.5 1.7.5-1.8.5 1.1.5 1.7.5 1.8.5 .6.5-1 .5-2.5.5-.9.5-1 .4 1.7.5 4.1.5 .9.5-1.5.5-3.3.5 1.1.5-3 .5 3.5.5 1 .5 1.2.5-1 .5-1.7.5-3.4.5-.5.5 0 .5 1.7.5 4.2"/><path stroke="#c81a3c" stroke-width="1.5" d="M413.3 244.2l.5-.5.5 .2.5 .4.5-.6.5-.3.5 .2.5 .3.5-.1.5 .2.5-.1.5 .2.5-.4.5-.2.5-.1.5 .4.5-.1.4 0 .5 .5.5-.1.5-.4.5 1.2.5-1.4.5 .2.5-2 .5 .9.5 1 .5 2.7.5 1.1.5-3.3.5-.4.5 .5.5-1.7.5-.5.5 2.8.5 2 .5 .4.5-5.1.5 1.6.5-4.5.5 2.1.5 .2.5 6.6.5-.6.5-1.4.5-3.9.5-3.7.5 2.1.5 1.7.5 3.2.5-.9.4 2.2.5-4.4.5-.7.5-.3.5 1.9.5-.8.5 3.1.5 .6.5-.6.5-2.9.5-1.7.5-.4.5 3 .5 1.2.5-.1.5 .3.5 .6.5-3.7.5-1.9.5 2.5.5 3 .5 0 .5 .9.5 .6.5-3.2.5-3.4.5-.1.5 3.7.5 1.1.5 2 .5-3.2.5 .6.5-1.6.5-4.2.4 2.8.5 1.7.5 2.4.5 1.3.5-2.3.5-1.1.5-1.2.5 1.7.5-2.2.5 3.4.5 .5.5-.9.5-1 .5-1.8.5-1.1.5 2.7.5-1.1.5 1 .5 1 .5 1.1.5-3.2.5 .9.5-2 .5 2.6.5 .5.5 1.4.5 1.4.5-1.8.5-2.3.5-5.1.5 3.1.5 .6.5 5.8.5 1.2.4-4 .5-1.6.5-1.8.5-1 .5 3.9.5-1.5.5 3 .5 1.7.5-3.6.5-1.3.5-3.4.5 1.2.5 3.3.5 .9.5 2.8.5-2.7.5-.1.5-4.1.5-.2.5 1.1.5 1.1.5 3.1.5 .9.5-2.3.5-4 .5-.7.5 1.9.5 1.8.5 .3.5 2.4.5 .9.5-3.1.5-3.1.5 1.9.4 1.6.5 .1.5 1.9.5 .1.5-.8.5-3.9.5-1.5.5 1.6.5 1.4.5 2.5.5 2.6.5-1.5.5-3.4.5-3.2.5 .8.5 2.4.5 .8"/><path stroke="#0a7cc8" stroke-width="1.5" d="M413.3 248.3l.5 .3.5 0 .5 .3.5 0 .5 .6.5-1.4.5 .8.5 .9.5 0 .5-.6.5 0 .5 .1.5-.8.5-.4.5 .6.5 .8.4-.6.5 .6.5 0 .5 .2.5-1 .5-.1.5-1.3.5 .8.5 1.9.5-.9.5 3.4.5-1.7.5-.2.5-4.6.5-.2.5 1.3.5 1.7.5 0 .5 2.4.5-1.5.5 .7.5-4.1.5 .1.5 .5.5 4.7.5-2.1.5 .2.5-.7.5-1.9.5 .9.5-1.6.5 4.1.5 .3.5 1.7.4-1.4.5-3.2.5-.8.5-.1.5 .2.5 3.5.5 1.8.5-.7.5-3.4.5-.1.5-1.9.5 3.1.5-1.3.5 1.6.5 3.1.5-2.1.5-1.7.5-.1.5-2.5.5 1.5.5 1.7.5 3.7.5-1.7.5-.4.5-3.6.5-2.6.5 4.3.5-.3.5 1.2.5-.7.5-.1.5-.6.5-1.5.5-2.9.4 3.9.5-.1.5 4.4.5-1.1.5-1.6.5-1.2.5 .5.5-1.1.5 2.5.5 .2.5-1 .5 .8.5-3 .5-1.4.5-1.8.5 2.9.5 2.5.5 .1.5-1.7.5-.1.5-1.6.5-3 .5 3.7.5 2.8.5 .7.5 .6.5-1 .5-3.1.5 .7.5-1.3.5 .6.5 3.2.5 3.6.5-3.7.4-.7.5-2.7.5-1 .5 2 .5 .5.5 2.9.5-1.1.5-1 .5-1.7.5 0 .5-1.5.5 3.2.5-.2.5 1.9.5-.1.5-2.6.5-1.7.5 1.7.5-3 .5 4.6.5 .8.5 .1.5 .9.5-3.6.5-1.7.5 1 .5 0 .5 1.8.5 3 .5-.5.5-1 .5-1.2.5-3.8.5 .1.4 1.3.5 3.8.5 2 .5-2.1.5-1.9.5-3 .5 1.6.5-.9.5 1.8.5 3.2.5 2.6.5-4.3.5-.8.5-4.2.5 2.3.5 .6.5 2.8"/><path stroke="#f05a1e" stroke-width="1.5" d="M413.3 253.2l.5 1.4.5-.4.5-.6.5 .2.5-.2.5 .5.5 .8.5-.4.5-.3.5-.4.5 0 .5-.4.5 .8.5-.2.5-.4.5 1.8.4-2.2.5 1.6.5 0 .5 .5.5-2 .5 .6.5-.3.5-.4.5 2 .5-.2.5-.9.5 .8.5-3.5.5 .7.5-1.5.5 3.6.5 1.5.5 2.1.5-1.5.5-4.2.5-.5.5 .1.5 1.5.5 1.1.5 .8.5 .7.5 1.3.5-4.1.5-.9.5 .5.5 1.8.5 .5.5 .8.5-1.4.4 .7.5-3 .5-.5.5 2.8.5 .8.5 3.2.5 .1.5-4.5.5-1 .5-2.9.5 3.2.5 .7.5 2.1.5 .3.5-2.2.5 0 .5-1.2.5-.9.5 2.4.5 .7.5 .6.5-.1.5-1.6.5 .4.5-3 .5 2.2.5 1.2.5 .9.5 3.5.5-1.8.5-2.9.5-2.5.5-.7.5 1.2.4 1.1.5 2.8.5 1.6.5-3.1.5-1.5.5-5.6.5 4 .5 3.2.5 .1.5 2.1.5-2 .5 .8.5-5.7.5 0 .5 .9.5 1.9.5 4.5.5-1.7.5-2 .5-3.8.5 .7.5 .6.5 1.9.5 1.4.5 1 .5-.6.5-2.1.5-.5.5-2.1.5 3.3.5 .9.5 1.4.5 .4.5-1.8.4-3 .5 1.5.5 .4.5 2.5.5-1.3.5 1.2.5-.1.5-1.5.5-4.2.5 1.9.5 .7.5 1.9.5-.1.5 1.9.5-1.5.5-3.3.5-1.6.5 2 .5 1.4.5 2.1.5 1.1.5-.7.5-1.5.5-2.6.5-.8.5 .9.5 3.3.5 2.1.5-.4.5-3 .5 .9.5-3.1.5 1 .5 1.8.4 .2.5 1.7.5-.2.5-2.4.5-4 .5-.2.5 4.3.5 .7.5 3 .5-3 .5-.7.5-.1.5-2.9.5 1.2.5 2.2.5 1.7.5 3.5"/></g></svg>
<rect x="413.8" y="173.2" width="83.0" height="85.5" fill="none" stroke="#9a9a9a" stroke-width="1"/>
<svg x="83.2" y="297.2" width="84.0" height="87.5" viewBox="83.2 297.2 84.0 87.5" overflow="hidden"><g fill="none" stroke-linejoin="round"><path stroke="#0a7cc8" stroke-width="1.4" d="M83.2 304.6l.5-3.5.5 3.6.5-3.7.5 2.2.5-3.6.5 2.9.5-2.9.5 3.5.5-3.2.5 3 .5-4.1.5 2.9.5-3 .5 2.2.5-2.5.5 3.3.4-3.2.5 2.3.5-3.7.5 3.1.5 1.8.5 2.7.5 2.2.5 .7.5-3.4.5-1.5.5-2.7.5-2.1.5-.3.5 2.5.5 2 .5 2.7.5 2.8.5-.2.5-2.1.5-.9.5-3.8.5-3.6.5 2.9.5 2.3.5 1.9.5 1.1.5 .5.5-5 .5-4.1.5 2.2.5 2.8.5 .8.5 2 .5 2 .4-3.1.5-9.7.5 9.2.5-2.4.5 2 .5 1.4.5 .3.5-.3.5-1.8.5-2.6.5 1.1.5 1.9.5 .5.5 1 .5 1.8.5-2.2.5-3.8.5-2.1.5 2.2.5 2 .5 2.7.5 .8.5 .4.5-4.3.5-1.7.5 1.2.5 .6.5 1.5.5-.4.5 1.8.5-1.8.5-1 .5 2.4.5-6.8.4 4.9.5 1.3.5 1.2.5-1.3.5-.4.5-2.5.5 .5.5 1.3.5 1.1.5 1.6.5 1.3.5-2.4.5-3.2.5-1.5.5 1.7.5-4.6.5 10.8.5-2.4.5-1.8.5 .4.5-3.1.5 .6.5 .9.5 1.5.5 1.1.5 .2.5-.6.5-2.8.5-.9.5 .7.5 1.5.5 1 .5 2.1.5 1.1.4-4.6.5-2.4.5 .3.5 1.3.5 6.7.5-6.6.5 5 .5-2.3.5-2.3.5-3.5.5 1.8.5 1.9.5 2.4.5 1.5.5-.3.5-3.4.5-4.9.5 1.5.5 2.6.5 .9.5 4.1.5 .7.5-2.4.5-3.6.5-2.1.5 1.7.5 1.2.5 2.1.5 1.9.5 .7.5-3.8.5-4.1.5 .4.5 1.1.4 1.8.5 2 .5 .7.5-.5.5-3 .5-2.2.5 1.6.5 1.6.5 1.7.5 .9.5 1 .5-3.4.5-3.3.5-.2.5 1.8.5 2.4.5 3.5"/><path stroke="#f05a1e" stroke-width="1.4" d="M83.2 309.9l.5-2.8.5 2.6.5-4 .5 2.7.5-3.2.5 3.4.5-3.6.5 3.5.5-3.5.5 2.9.5-3.2.5 1.9.5-2.9.5 2.6.5-2.7.5 4 .4-4.4.5 3 .5-3.4.5 2.3.5 2.3.5 2.8.5 2 .5 1 .5-3 .5-2.8.5-2 .5-3.2.5 .5.5 2.6.5 1.8.5 2.9.5 2.4.5 0 .5-2.6.5-2.6.5-2.8.5 1.3.5 1.5.5 .8.5 1.5.5 2.2.5-3.5.5-3.1.5-2.2.5 2.5.5 2.3.5 1.6.5 2.4.5-1 .4-5.1.5 .9.5-6 .5 6 .5 2.4.5 2.1.5 2.8.5-4.5.5-5.6.5-.6.5 2.3.5 2.2.5 2.3.5 3.4.5-.8.5-6.5.5-4.5.5 3.3.5 2.1.5 1.3.5 2.5.5 1.5.5-3.5.5-2 .5-2.3.5 1.1.5 2.1.5 1.8.5 2.6.5 .4.5-6 .5-6 .5-2.6.5 11.7.4-.9.5 2.4.5 2 .5-4.2.5-3.8.5 1.5.5 .2.5 .6.5 2.4.5 1.1.5 1.1.5-5.4.5-3.8.5 2.8.5 1 .5 7.7.5-6.8.5 5.7.5-2.9.5-6.2.5-.3.5 1.9.5 1.6.5 1.9.5 1.3.5 .2.5-4.2.5-2.8.5 1.9.5 1.4.5 1.3.5 2.7.5 2.1.5-3.2.4-6.2.5-.8.5 1.8.5 2.9.5-3.5.5 10.5.5-2.8.5-4.7.5-3.4.5 1.8.5 1.7.5 .8.5 1 .5 .9.5-2 .5-1.3.5-2.3.5 1.4.5 1 .5 2.2.5 2.7.5-2 .5-2.3.5-2.4.5 .4.5 1.6.5 1.6.5 .2.5 1.4.5-2.3.5-.6.5-2 .5 1 .5 .7.4 2.4.5 1.7.5-.4.5-3.2.5-2.3.5 .9.5 1.8.5 .7.5 1 .5-.4.5 .4.5-3.7.5-.4.5-.4.5 2.4.5 .8.5-.4"/><path stroke="#f0b020" stroke-width="1.4" d="M83.2 315.2l.5-4.2.5 4.1.5-3.6.5 3.3.5-5.2.5 3.6.5-2.7.5 3.2.5-3.7.5 2.9.5-3.5.5 2.5.5-3.3.5 3.5.5-3.2.5 3.4.4-4.5.5 3 .5-3 .5 2.6.5 2.4.5 2 .5 1.9.5 1.3.5-3 .5-2.5.5-2.3.5-2.2.5-.2.5 2.3.5 2 .5 2.8.5 2.8.5-.1.5-2.3.5-2.5.5-3.6.5 1.5.5 .8.5 1.6.5 1.1.5-.4.5-1 .5-.7.5-.6.5-.9.5 1.7.5 1.6.5 2.1.5-.3.4-3.2.5-10.8.5 12.5.5-2.6.5 1.6.5 2.2.5 1.8.5-4.1.5-1.7.5 1 .5 .1.5 .6.5 .2.5 .9.5 1.3.5-2.8.5-4 .5 0 .5 2.6.5 1.8.5 1.7.5 3.2.5-3.6.5-3.4.5-1.7.5 3.1.5 .4.5 1.4.5 1.7.5 .1.5-4.9.5-1.7.5 5.9.5-6.9.4 4.8.5 1 .5 2.2.5-3.3.5-2 .5-1.9.5 2.9.5 .2.5 1.1.5-.4.5 1.1.5-2.5.5-1.8.5 .4.5 .7.5-3.2.5 10 .5-2.4.5 .1.5-4.6.5-2.8.5 1.4.5 2.1.5 2.5.5 2 .5-.1.5-3.2.5-3.4.5 2.5.5 .6.5 1.4.5 .6.5 1.4.5-1.3.4-3.1.5-1.1.5 1.5.5 .5.5 5.6.5-6.2.5 4.6.5-3.6.5-3.8.5 1.5.5 1.2.5 1.2.5 1.4.5 .7.5-.6.5-3.1.5-1.4.5 1 .5 1.3.5 2 .5 1.7.5 1.5.5-4.3.5-4.6.5-.3.5 3.7.5 .5.5 2 .5 .7.5-1.5.5-2.5.5-1.1.5 1.9.5 .9.4 0 .5 .7.5 .4.5-1.3.5-2.6.5 .4.5 .6.5 2.3.5 .8.5 .9.5-1.8.5-1.1.5-2.7.5 1.9.5 .9.5 2 .5 1.9"/><path stroke="#8428a4" stroke-width="1.4" d="M83.2 322l.5-7.8.5 7.4.5-7.4.5 6.7.5-7.5.5 6.4.5-5.9.5 6.4.5-6.7.5 6.4.5-8.1.5 6.4.5-6.4.5 6.4.5-5.4.5 5.8.4-6.4.5 4.9.5-4.4.5 2.8.5 1.9.5 2.6.5 2.6.5-.1.5-2.6.5-1.9.5-2.6.5-2.6.5 .1.5 2.4.5 2 .5 3.1.5 1.9.5-.1.5-2.1.5-4.6.5-1.3.5 5.1.5-5.4.5 6.4.5-.7.5 1.8.5-7.7.5 3.5.5-3.3.5 6.3.5-3.9.5 6.4.5-4.4.5 2.6.4-9.1.5 11.2.5-12.5.5 10.3.5-2.8.5 6.4.5-6.9.5 1.4.5-7.7.5 6.7.5-3.1.5 6.4.5-3.4.5 4.9.5-6.9.5 1.6.5-3.9.5 5.7.5-2.7.5 4.3.5-2 .5 2.8.5-6.6.5 1.5.5-2.1.5 5.7.5-4.6.5 7.6.5-3.4.5-.3.5-5.6.5 5.5.5-8.8.5 13.4.4-6.5.5 5.3.5-7.2.5 3.2.5-6.3.5 5.1.5-2.5.5 6 .5-3.1.5 4.7.5-7.2.5 1 .5-2.2.5 4.3.5-3.5.5 11.4.5-10.8.5 5.6.5-6.7.5 3.5.5-3.9.5 3.9.5-.5.5 5.1.5-1.8.5-.3.5-8.4.5 3.7.5-.7.5 5.5.5-4.3.5 7.7.5-8 .5 3.6.4-6 .5 5.5.5-3.6.5 4.6.5-8.8.5 13.5.5-9.7.5 1.1.5-1.3.5 5.1.5-4.4.5 5.4.5-4 .5 3.8.5-8.1.5 3.7.5-3.4.5 5.7.5-3.3.5 7.7.5-6.2.5 3.6.5-8.2.5 4.9.5-1.8.5 4.2.5-2.6.5 5.7.5-6.8.5 2.7.5-5.2.5 5.7.5-3.6.5 4 .4-2.7.5 6.5.5-6.6.5 .8.5-4.6.5 7 .5-3 .5 5.3.5-3.5.5 2.9.5-7.8.5 2.4.5-3.7.5 5.5.5-1.3.5 5 .5-3.1"/><path stroke="#72b63a" stroke-width="1.4" d="M83.2 325.7l.5-3.3.5 2 .5-3.6.5 2.7.5-3.3.5 3.7.5-3.1.5 3.2.5-3.6.5 2.7.5-3.7.5 2.6.5-3.2.5 3.6.5-2.4.5 2.2.4-3.7.5 2.6.5-3 .5 2.4.5 1.9.5 2.7.5 2.3.5 .6.5-2.6.5-2.3.5-2.4.5-2.2.5-.4.5 2.7.5 2.3.5 2.1.5 2.5.5 .1.5-2.6.5-6.3.5 .8.5 2 .5 1.9.5 .8.5 2.4.5-4 .5-2.8.5 .1.5 .6.5 2.2.5 1.1.5 .7.5-.3.5-1.8.4-3.9.5-4.8.5 11.3.5-1 .5 2.1.5 .6.5-2.9.5-3.5.5-1.7.5 2.3.5 1.2.5 2.4.5 3.1.5-1.3.5-4.1.5-2.8.5 1.5.5 .9.5 1.5.5 2.7.5 .4.5-2.5.5-3.3.5-1.8.5 2.5.5 1.5.5-.4.5 1.2.5-.2.5-1.1.5-1.9.5 .4.5 6.3.5-6.8.4 5 .5 .8.5-2.7.5-2.2.5 .2.5-.2.5 .1.5 3.1.5 1 .5-1.3.5-2.1.5-2.5.5 1.2.5 1.3.5 1.6.5-3.8.5 9.1.5-5 .5-1.3.5-1.5.5 1.8.5-.4.5 1.6.5 2 .5-.1.5-5.1.5-2.7.5 3 .5 .4.5 1.7.5 1.3.5 .1.5-.6.5-1.7.4-2.4.5 .9.5 1.2.5 2.4.5 8.2.5-8.6.5-1.3.5-4.8.5 1.6.5 1.9.5 2.1.5 3.2.5 1 .5-4.5.5-3.1.5-1 .5 1 .5 2 .5 2.2.5 .6.5 .4.5-3.3.5-3 .5 .3.5 2.2.5 1.8.5 2 .5 2.8.5-3.6.5-4.3.5-1.7.5 1.9.5 1.8.5 2.3.4 2.1.5-1.5.5-2.3.5-3.1.5 .7.5 1.7.5 .8.5 2.6.5 .9.5-1.9.5-3.2.5-1.4.5-.1.5 2.4.5 1.8.5 2 .5 .9"/><path stroke="#3cc2f2" stroke-width="1.4" d="M83.2 330.6l.5-3.7.5 2.4.5-3.3.5 2.5.5-2.4.5 3.3.5-3 .5 2.4.5-3.4.5 2.7.5-4 .5 3.2.5-2.5.5 2.4.5-2.9.5 2.3.4-3.3.5 2.8.5-3 .5 2.1.5 2.5.5 2.7.5 2.2.5-.2.5-1.6.5-2.5.5-3 .5-1.7.5-.6.5 2.4.5 2.6.5 2.4.5 2.5.5-.3.5-2.1.5-3.3.5-.3.5 1.9.5 2 .5 1.7.5-2.8.5-3.9.5-.6.5 1.4.5 1.3.5 1.6.5 1.4.5-.2.5-3.7.5-3.6.4 1.4.5 7.9.5-7.8.5 4.9.5 2.7.5-3.2.5-4 .5-2.7.5 3.2.5 1.5.5 2.9.5 1 .5-.3.5-2.8.5-4 .5 .8.5 1.5.5 1.3.5 3.1.5 1.9.5-2.7.5-3.4.5-3.6.5 3.2.5 .7.5 2.2.5 2 .5 .3.5-3.1.5-5.1.5 .4.5 2.9.5-3.4.5 9.2.4-.5.5-3 .5-2.5.5-2.6.5 .7.5 3.4.5 1.4.5 1.7.5 1.9.5-3.8.5-6.1.5 1.4.5 1.9.5 1.8.5 2.9.5 7.9.5-13.3.5 .9.5-3.2.5 3.8.5 .6.5 2.7.5 2.6.5 .1.5-4.5.5-3.8.5 1.7.5 .6.5 2.3.5-.2.5 2 .5-.9.5-4.3.5-.2.4-.4.5 2.2.5 2.9.5 .4.5-2.6.5 2.4.5-6.3.5 .4.5 1.1.5 2.1.5 1.4.5 1.2.5-.8.5-3.4.5-2.5.5 1.4.5 1.3.5 3.2.5-.9.5 1.4.5-1.6.5-2.4.5 0 .5 .4.5 1.5.5 .4.5 3.3.5-2 .5-3.1.5-3.6.5 3 .5 2.7.5-.3.5 1.5.4 1.2.5-3.2.5-3.1.5 .1.5 2 .5 1.9.5 1.2.5-.2.5-1.3.5-1.7.5-4.1.5 1.4.5 1.9.5 3.5.5 2.2.5 2.2.5-5.5"/><path stroke="#c81a3c" stroke-width="1.4" d="M83.2 335.5l.5-3.4.5 2.6.5-4 .5 3.5.5-2.9.5 3.9.5-2.9.5 1.4.5-3.9.5 2.7.5-3 .5 2.9.5-2.4.5 3 .5-3.5.5 2.5.4-3.3.5 2.5.5-2.7.5 2.3.5 1.8.5 2.9.5 2.5.5 .2.5-2.3.5-2.5.5-2.3.5-2.8.5 .2.5 2.3.5 2.6.5 2.8.5 1.8.5 .2.5-2.5.5-6 .5 2.2.5 1.7.5 2.8.5 .2.5-2.3.5-2.8.5-.5.5 1 .5 .9.5 1.7.5 1.3.5-.2.5-2.8.5-3.4.4 .9.5-4.3.5 11.2.5-2 .5 .1.5-1.6.5-2.1.5 .2.5 .5.5 0 .5 1.8.5 1.1.5 0 .5-2.2.5-3.5.5 1.7.5 1.8.5 1.5.5 .3.5 1 .5-2.3.5-1.7.5-2.3.5 2.2.5 1 .5 1 .5 .9.5-.2.5-1.8.5-3.1.5 1.3.5 1 .5 6 .5-6.5.4 5.6.5-3.6.5-1.5.5 0 .5 .3.5 1.3.5 .8.5 1.5.5-.5.5-2.1.5-5.6.5 2.9.5 2.2.5 1.4.5 1.8.5-6.3.5 9.1.5-7.3.5-1.9.5 1.6.5 2.2.5 .3.5 1.6.5 .5.5-2.1.5-5.4.5 1.3.5 2.5.5 1.3.5 1.2.5 2 .5-2.2.5-2.4.5-1.1.4 .6.5 1.4.5 1.5.5-.5.5 6.6.5-10.2.5 1 .5 .6.5 1 .5 .3.5 2.5.5 0 .5-2 .5-1.2.5-1.2.5 0 .5 1.7.5 1.4.5 .8.5 .1.5-1.8.5-1.4.5-.4.5 1.3.5 .3.5 1.9.5 1.2.5-1.6.5-3.2.5-.3.5 1 .5 .8.5 .2.5 2.4.4 1.3.5-4 .5-2.1.5 1.3.5 .7.5 .7.5 1.4.5-.1.5-.7.5-3.3.5-.8.5 2 .5 .3.5 3.3.5 .4.5 .8.5-4.2"/><path stroke="#0a7cc8" stroke-width="1.4" d="M83.2 340.6l.5-3.8.5 3.4.5-4.4.5 3.5.5-2.6.5 2.8.5-3.3.5 2.7.5-3.9.5 2.8.5-2.7.5 3.1.5-3.7.5 4 .5-4.4.5 3.2.4-4.2.5 3.3.5-3.3.5 2.3.5 3 .5 2 .5 2.4.5 .7.5-2.3.5-2.3.5-2.7.5-2.1.5-.3.5 2.5.5 2 .5 2.7.5 2.4.5 .1.5-2.5.5-4.6.5 2 .5 .2.5 .9.5 1.7.5-2.5.5-3.1.5 1.4.5 1 .5 .9.5 .5.5 1.1.5-1.3.5-2.7.5-1.7.4 .8.5 8 .5-6.7.5 4.7.5-.1.5-3.4.5-2.7.5 .6.5 1.1.5 1.3.5 2.7.5 1.7.5-2 .5-3.7.5-1.3.5 2.5.5-.2.5 1 .5-.4.5 1.1.5-1.2.5-1.4.5-.7.5 1.2.5 .2.5 1.2.5 .8.5-1.1.5-.9.5-.6.5 .3.5 .9.5-3.3.5 8.7.4-2.1.5-3.8.5-4 .5 1.5.5 1.5.5 .9.5 1.6.5 1.3.5-.8.5-3 .5-2.2.5 .6.5 2.4.5 1.4.5 .7.5 6.4.5-10.2.5 1.4.5-.3.5-.2.5 2.1.5-.8.5 2.7.5-1.7.5-2.4.5-2.2.5 .7.5 3.4.5 1.6.5 .6.5-.5.5-1.9.5-2.9.5-1.1.4 2.2.5 1.4.5 1.1.5 2.7.5-6.4.5 4.1.5-5.3.5 2.1.5 1.5.5 1.7.5 .5.5 1.9.5-2.7.5-5.3.5 2 .5 .2.5 1.4.5 1.8.5 2.9.5-1.8.5-3.6.5-1.6.5 2 .5 1.2.5 0 .5 2 .5 1.7.5-3.3.5-3.3.5-.5.5 1.8.5 .8.5 2.6.5 1.2.4-2 .5-3 .5-1.6.5 1.1.5 2.4.5 1.3.5 .7.5 .9.5-3.7.5-1.6.5-.6.5 .7.5 2.7.5 .9.5 2.2.5-.9.5-3.3"/><path stroke="#f05a1e" stroke-width="1.4" d="M83.2 345.7l.5-3.6.5 2.6.5-3.2.5 3.8.5-3.6.5 3 .5-3.4.5 2.3.5-4 .5 2.9.5-2.2.5 2.9.5-2.9.5 3.5.5-4.2.5 2 .4-3.4.5 3.4.5-2.4.5 1.5.5 2.6.5 2.3.5 2 .5 .8.5-2.7.5-2.2.5-1.9.5-2.5.5-.3.5 2.2.5 2.4.5 2.5.5 2.1.5 .3.5-1.9.5-3.9.5 2.3.5-.1.5 2.4.5-3.3.5-3.1.5-2.5.5 2.8.5 1.7.5 2.8.5 1.3.5-1.4.5-3 .5-3 .5 1.3.4 1.8.5-4.7.5 11.8.5-2.6.5-2.3.5-3.6.5 .2.5 .6.5 1.3.5 1.3.5 .9.5-.2.5-2.5.5-1.8.5 .9.5 .9.5 1.4.5 1.9.5 .3.5-1.3.5-3.9.5-.6.5 1.1.5 1.1.5 2.9.5 2.1.5-1.6.5-3.3.5-2.7.5 1.3.5 .9.5 1.7.5 7.4.5-8.2.4 2.2.5-4.9.5-.6.5 .7.5 3.2.5 2.1.5 1.2.5-.8.5-2.7.5-6.2.5 3.8.5 1.8.5 1.4.5 1.4.5 .6.5-7.2.5 7.1.5-4.3.5 1.7.5-1.4.5 2.5.5 2.3.5-1.9.5-2.8.5-3.2.5 .9.5 2.2.5 2 .5 1.9.5 1.8.5-3.7.5-4 .5-.6.5 1.4.4 2.7.5 1.9.5 2.2.5-.5.5-.1.5-13.4.5 6.3.5 2.2.5 1.7.5 1.4.5 2.3.5-2.9.5-4.3.5-2.6.5 3.5.5 1.3.5 3.1.5 2.5.5-.4.5-5.3.5-3.4.5 .6.5 2.2.5 2.5.5 1.5.5 2.7.5-3.6.5-4.7.5 0 .5 .6.5 2 .5 3 .5 .5.5 .4.4-4.1.5-4.6.5 .6.5 3.7.5 1.9.5 1.9.5 0 .5-1.1.5-3.4.5-1.6.5 2.5.5 1 .5 1.7.5 1.8.5 .4.5-5.2.5-4.6"/><path stroke="#f0b020" stroke-width="1.4" d="M83.2 350.5l.5-3 .5 1.7.5-2.8.5 3.1.5-2.6.5 3.3.5-3.8.5 2.1.5-4 .5 3.7.5-2.9.5 3.3.5-3 .5 2.7.5-3.7.5 2.9.4-3.6.5 2.3.5-2.4.5 1.9.5 2.8.5 2.2.5 2.4.5-.1.5-1.5.5-3.2.5-2.5.5-1.7.5-.2.5 2.7.5 2.1.5 2.8.5 1.8.5 .3.5-2.9.5-3.1.5 1.9.5 2.3.5 .4.5-2.8.5-3.7.5-2.3.5 2.7.5 2.6.5 1.8.5 1.4.5-1.2.5-2.2.5-5.5.5 2.8.4 1 .5 9.5.5-8.3.5 3.1.5-1.3.5-1.8.5-2.1.5 1.5.5 1.8.5 1.2.5 3.1.5-1.6.5-3.2.5-5.5.5 3 .5 .6.5 2.5.5 2.3.5 .4.5-2.8.5-2 .5-1.1.5 .7.5 1.8.5 1.6.5 2.3.5-1.6.5-3.1.5-.6.5 0 .5 .4.5 3.1.5-4.8.5 11.1.4-7.1.5-3.6.5-1.6.5 1.8.5 2.2.5 2 .5 2.9.5-2.2.5-3.2.5-3.6.5 .6.5 2.1.5 2 .5 1.2.5 3.4.5 2.7.5-14.2.5 2.4.5 1.5.5 2.1.5 2.2.5 .4.5-.3.5-3 .5-1.9.5 .1.5 1.6.5 1.6.5 1.9.5 1.6.5-2.4.5-3.4.5-2.2.5 2.5.4 1.3.5 2.2.5 1.6.5-.8.5-7.5.5 3.8.5-.9.5-.1.5 2.6.5 1.7.5 1.1.5-1.9.5-2.6.5 0 .5-.5.5 1.3.5 .7.5 1.6.5 0 .5-1.1.5-4.1.5-1.1.5 2.8.5 2.1.5 1.3.5-.8.5-.4.5-1.6.5-1.7.5 1 .5 1.9.5 .7.5 .7.5 1.5.4-2.9.5-3.8.5 .6.5 1.1.5 2.4.5 2.1.5 1.2.5-2.8.5-2.7.5-.9.5 .6.5 1.1.5 2.8.5 .5.5 .5.5-2.6.5-4"/><path stroke="#8428a4" stroke-width="1.4" d="M83.2 355.8l.5-3.4.5 3.4.5-3.8.5 4.3.5-4.6.5 5 .5-5.7.5 3.1.5-4 .5 4.4.5-5 .5 5.2.5-4.8.5 4.2.5-4.8.5 3.1.4-4.7.5 4.3.5-3.1.5 2.1.5 2.1.5 3.3.5 1.7.5 .7.5-2.8.5-2 .5-2.5.5-2.5.5 .5.5 1.9.5 2 .5 2.7.5 2.2.5 .7.5-2.9.5-1.9.5-.1.5 3.9.5-2.5.5-1.3.5-3.2.5 3.2.5-1.6.5 2.1.5-.3.5 2.5.5-3.9.5-.6.5-2 .5 3.7.4-2.8.5-2.1.5 9.6.5-2.4.5-3.9.5-.8.5-.2.5 2.7.5-.8.5 1.9.5-.4.5 2.9.5-6.2.5 .3.5-.7.5 3.4.5-1.1.5 4.5.5-3.2.5 .4.5-3 .5 2.4.5-1.2.5 1.4.5-1.6.5 3.6.5-3.1.5 1.2.5-5.3.5 4.4.5-1.3.5 2.5.5 4 .5-5.1.4-1.8.5-1.3.5 .3.5 3.5.5-1.6.5 3.1.5-1.8.5 .8.5-3 .5-.6.5 0 .5 3.4.5-1.7.5 3.5.5-1.9.5-6.6.5 5.3.5-1.2.5-1.5.5 4.6.5-.1.5 1.8.5-2.8.5 .1.5-2.5.5 2.4.5-1.7.5 2.5.5-.4.5 1.9.5-3.5.5 .6.5-3.2.5 3.6.4-1.1.5 1 .5 2.4.5-.4.5 0 .5-9.5.5 3.2.5 4.6.5-.1.5 1.9.5-2.4.5 1.2.5-4.5.5 1.8.5-.7.5 4.1.5-2.9.5 4.2.5-3.2.5-.1.5-2.1.5 2.1.5-1.2.5 1.2.5 .4.5 3.5.5-4 .5-1.4.5-1.6.5 3.8.5-2.2.5 4 .5-1.2.5 1.8.4-5.2.5 .5.5 .6.5 2.2.5-1 .5 2.4.5-2.9.5 1.9.5-4.1.5 1.7.5-1.2.5 3.9.5-.5.5 1.7.5-3.4.5 2 .5-5.2"/><path stroke="#72b63a" stroke-width="1.4" d="M83.2 360.9l.5-4.1.5 3.7.5-3.1.5 3.4.5-3.3.5 2.5.5-3.8.5 2.9.5-3.4.5 2.8.5-2.8.5 3.6.5-3.4.5 2.6.5-4.2.5 3.1.4-3.4.5 2.8.5-2.8.5 2.2.5 2.3.5 2.5.5 2.3.5 .8.5-2.1.5-2.6.5-2.7.5-2.6.5-.2.5 2.5.5 3.4.5 1.4.5 2.8.5 0 .5-2.8.5-.9.5 .7.5 2.5.5-3.1.5-3.1.5-.3.5 .1.5 2.3.5 1.4.5 1.1.5 1.3.5-4.5.5-5.5.5 2.2.5 2.4.4 1.4.5 8.2.5-7.4.5 .1.5-3.9.5-.5.5 1.5.5 1.8.5 .3.5 2 .5-.4.5-2.6.5-2.7.5 .7.5 1.8.5 1.3.5 .7.5 1.8.5-2 .5-2.6.5 .3.5 .6.5-.1.5 2.7.5 1.1.5 .8.5-4.3.5-1.7.5-.9.5 2.4.5 2 .5 .5.5-2.3.5 4.9.4-5.9.5-1.2.5 1.9.5 .8.5 1.4.5-.3.5-.3.5-.9.5 0 .5 .3.5 .3.5-.5.5 .9.5 1.8.5-2 .5 3.6.5-11.9.5 5.8.5 1.1.5 1.6.5 2.2.5-.8.5-1.6.5-3.1.5 .2.5 1.5.5 1.2.5 .9.5 .9.5-.7.5-3.7.5-.3.5 .6.5 1.9.4 .1.5 .7.5 .2.5-1.1.5-7.2.5 8 .5-3.1.5 3.4.5 .7.5 2.6.5-2.3.5-3 .5-2.6.5 2.8.5 1.3.5-.3.5 2.4.5-2.3.5-1.4.5-2 .5 .2.5 1.4.5 2.3.5 .9.5 1.6.5-1.7.5-2.6.5-2 .5 1 .5 1.3.5 2.1.5 1 .5 .9.5-3.1.4-3 .5 .3.5 1 .5 2.7.5-.1.5 .9.5-.9.5-1.5.5-1.9.5 1.6.5 .5.5 1.6.5 1.1.5 1.9.5-4.4.5-4.3.5-.2"/><path stroke="#3cc2f2" stroke-width="1.4" d="M83.2 365.7l.5-3.5.5 3 .5-3 .5 3.4.5-3.2.5 2.9.5-3.9.5 2.2.5-3.3.5 3.5.5-2.9.5 3.3.5-2.6.5 1.7.5-3.8.5 3 .4-2.9.5 3.1.5-4 .5 3 .5 2.1.5 3.1.5 2.1.5 .3.5-2.7.5-2.4.5-2.3.5-2.8.5-.1.5 2.7.5 1.9.5 2.9.5 2.5.5 .3.5-2.5.5-2 .5 1.2.5 1.9.5-1.4.5-5.1.5-.9.5 2.3.5 2 .5 .1.5 1.8.5-.8.5-3.6.5-2.5.5-.2.5 3 .4 2.4.5-3.5.5 9.4.5-5.6.5-2.8.5-.5.5 .8.5 1.9.5 1 .5 1.2.5 0 .5-3.4.5-3.2.5 0 .5 1.4.5 2.6.5 3.2.5 1.9.5-2.9.5-4.5.5-3.3.5 2.2.5 2.6.5 1.6.5 3.1.5-.3.5-3.7.5-4.3.5 .5.5 1.9.5 1.4.5 2.5.5 4.4.5-8.7.4-1 .5-1.2.5 .8.5 2 .5 4 .5 2 .5 .4.5-4.4.5-4 .5 .6.5 1.9.5 1 .5 2 .5 2.4.5-2.2.5-9.5.5 9.1.5-2.3.5 .1.5 1.6.5 2.4.5 1.5.5-4.7.5-4.9.5 1.5.5 1.7.5 1.2.5 1.6.5 1.7.5-1.5.5-3.4.5-1.8.5 1.3.5 1 .4 2.3.5 1.6.5 2.8.5-4.3.5-2.9.5-5.8.5 5.6.5 2.6.5 1.5.5 1.9.5-1.4.5-4.4.5-1.5.5 1.9.5 1.6.5 .4.5 .9.5 .1.5-1.6.5-2.4.5-1.7.5 2.5.5 2.3.5 1 .5 1.6.5-1.6.5-2.5.5-3.4.5 2.5.5 .6.5 2.2.5 2.4.5 .8.5-4.2.4-2.5.5 .3.5 1.8.5 .9.5 1.3.5 1.4.5-.2.5-4.9.5-1.7.5 1.6.5 .6.5 1.3.5 .7.5 2.5.5-3.4.5-2.8.5-.2"/><path stroke="#c81a3c" stroke-width="1.4" d="M83.2 370.6l.5-3.2.5 3.3.5-3.1.5 3.2.5-3.2.5 2.4.5-3.7.5 2.7.5-3.6.5 3.3.5-2.4.5 3.3.5-3.4.5 2.4.5-3.2.5 1.4.4-2.4.5 3.2.5-3.1.5 2.7.5 2.2.5 2.4.5 2.1.5 .4.5-2.3.5-2.9.5-2 .5-2.8.5-.1.5 3.4.5 1.3.5 3 .5 1.8.5 .7.5-2.9.5-.2.5 .4.5 .6.5-3.1.5-2.6.5 .1.5 2.2.5-.3.5 1.7.5 1.6.5-1.3.5-1.7.5-2.5.5 1.9.5-.3.4 1.6.5 7 .5-8.1.5 .9.5-2.8.5 .5.5 1.4.5 1.8.5 1.6.5 2.3.5-2.2.5-4.9.5-2.9.5 2.5.5 2.1.5 1.8.5 1.7.5 1.5.5-3.8.5-4.3.5 2 .5 .2.5 .9.5 2.3.5 1 .5-1.8.5-2.3.5-.8.5 1.2.5 1.2.5 .5.5 1.1.5-3.2.5 4.8.4-5.6.5 0 .5 1.2.5 1.4.5 .5.5 1 .5 .3.5-4.3.5-1.2.5 2.5.5-.2.5 1.4.5-.2.5 2.6.5-2.1.5 3.3.5-9.4.5 3.2.5 1.6.5 2.7.5 1.4.5-1.9.5-3.3.5-1.4.5 2.1.5 1.1.5 .2.5 2 .5-.3.5-1.7.5-3.4.5 .7.5 1 .5 1.1.4 1.4.5 1.6.5-.4.5-3.7.5-8.1.5 9.1.5-1.2.5 2.2.5 1.5.5-.6.5-2.1.5-.7.5-.4.5 .6.5 1.4.5 .7.5 2.3.5-2.8.5-1.2.5-1.3.5 1.1.5 .2.5 1.4.5 .8.5 1.6.5-2.3.5-2.8.5-2 .5 1.1.5 2.4.5 2 .5 .4.5-.5.5-1.5.4-2.7.5 .9.5 1.2.5 1.1.5 2.5.5 1.3.5-2.5.5-5.6.5 0 .5 1.6.5 2.2.5 2.2.5 .2.5-1.8.5-2 .5-3.7.5 2.6"/><path stroke="#0a7cc8" stroke-width="1.4" d="M83.2 376.3l.5-3.2.5 3.1.5-2.4.5 2.6.5-3.9.5 2.1.5-3.6.5 3.8.5-3.2.5 3.7.5-3.6.5 2.3.5-3.8.5 3.2.5-3.6.5 2.8.4-3.2.5 3.9.5-4.3.5 2.8.5 2.3.5 2.9.5 1.8.5 .2.5-2.1.5-2.3.5-2.9.5-2 .5-.6.5 2.7.5 2.8.5 1.9.5 2.8.5-.2.5-2.2.5-.7.5 .4.5-3.4.5-2.6.5-.3.5 3.3.5 2 .5 .5.5 .8.5-2.3.5-.9.5-1.4.5 1 .5 .4.5 2.8.4 .1.5-6.5.5 7.9.5-7.1.5 .9.5 2.6.5-.1.5 1 .5 2.1.5-1.4.5-3.8.5-1.3.5 1 .5 2.6.5 1.3.5 .2.5-.5.5-2.3.5-.9.5 1.4.5-.2.5 .4.5 1.9.5 1.2.5-2.2.5-2.1.5-.3.5 .4.5 1.5.5 1.3.5 1.8.5-1.1.5 4 .5-10.5.4 3.5.5 .6.5-.2.5 1.5.5 3.1.5-1.8.5-4.4.5-1.5.5 2 .5 1.7.5-.2.5 1.7.5 .3.5-1.6.5-3.1.5-5.8.5 12 .5-2.3.5 .7.5 2.2.5-2.1.5-4.3.5-1.2.5 1.5.5 2.5.5 1.1.5 1.6.5 .1.5-2.4.5-2.5.5 .5.5 1.1.5 .5.5 1.1.4 .8.5-1.2.5-2.3.5-.7.5 5 .5-6.8.5 4.7.5 1.9.5-.1.5-2.4.5-2.7.5 .7.5 .5.5 1.4.5 1.7.5 .5.5-1 .5-1.5.5-2.1.5 .7.5 1.2.5 1.2.5 2.6.5 .4.5-3.8.5-2.5.5 .2.5 2 .5 .8.5 1.1.5 1.5.5-1.5.5-3.5.5-1.5.4 2.2.5 .8.5 1.6.5-.1.5 .8.5-2.1.5-2.2.5 1.3.5 .2.5 .8.5 1.2.5 1.9.5-1.8.5-2.1.5-1.6.5 .6.5 2"/><path stroke="#f05a1e" stroke-width="1.4" d="M83.2 381.3l.5-3.7.5 3.5.5-2.6.5 3 .5-4.2.5 2.6.5-3.9.5 4.1.5-3.2.5 3 .5-4.1.5 3.9.5-3.8.5 2.3.5-3.1.5 2.6.4-2.6.5 2.9.5-3.8.5 2.8.5 2.4.5 2.8.5 1.9.5 .2.5-2.1.5-2.8.5-1.9.5-3.1.5 .1.5 2.3.5 2.5.5 2.7.5 2.2.5 .8.5-2.9.5 1.1.5-1.3.5-3.5.5-.8.5-1.3.5 3.2.5 .2.5 1.5.5 1.7.5-2.6.5-3.3.5 0 .5 1.8.5 .7.5 1.1.4 2.3.5 5.8.5-14.6.5 .7.5 1.2.5 2.5.5 2.1.5 1.9.5 3.5.5-5.7.5-4.2.5-.1.5 1.7.5 1.5.5 2.4.5 2.3.5-1.2.5-5.3.5-.7.5 1.4.5 1.6.5 .4.5 0 .5 2.7.5-2.5.5-3.5.5-.1.5 1.2.5 1.5.5 1.8.5 .5.5 .4.5-8.2.5 3.6.4-1.6.5 1.9.5 2.5.5 1.2.5 3 .5-3.5.5-3.5.5 .8.5-.9.5 2.6.5 1.2.5 2.3.5-2 .5-2.6.5-3.6.5 8.4.5-8.6.5 5.4.5 2.4.5 2.2.5-3.2.5-6.1.5-.7.5 2.1.5 1.4.5 1.8.5 3.1.5-1 .5-3.6.5-2.8.5 .4.5 2.4.5 1.6.5 .4.4 1.9.5-2.6.5-2.1.5 .9.5-4.4.5 7.8.5-3.3.5 2 .5 1 .5-3.7.5-2.3.5 1.4.5 1.8.5 1.9.5 .1.5 3.5.5-3.3.5-6.4.5-1.9.5 3 .5 2.3.5 3.9.5 1.4.5 .2.5-5.3.5-2.8.5 1.1.5 1.1.5 2.1.5 .8.5 1.9.5-2.2.5-2.7.5-.6.4 1.1.5 .6.5 2.1.5 .3.5 .4.5-2.5.5-3.2.5 2.1.5-.3.5 3 .5 1.3.5 2.3.5-3.8.5-3.7.5-2.8.5 2.3.5 2.9"/></g></svg>
<rect x="83.7" y="297.7" width="83.0" height="86.5" fill="none" stroke="#9a9a9a" stroke-width="1"/>
<svg x="193.3" y="297.2" width="84.0" height="87.5" viewBox="193.3 297.2 84.0 87.5" overflow="hidden"><g fill="none" stroke-linejoin="round"><path stroke="#0a7cc8" stroke-width="1.7" d="M193.3 304.5l.5-3.6.5 2.9.5-3.1.5 3.1.5-3.2.5 2.8.5-4.3.5 4.1.5-4 .5 3.2.5-3.2.5 3.1.5-3.9.5 3.1.5-3.6.5 3.5.4-4 .5 1.5.5 2.6.5 1.4.5 1.9.5 2.1.5-.3.5-1.8.5-1.9.5-2.3.5-1 .5-2.4.5 1.6.5 1.8.5 1.9.5 2 .5 1.6.5 1.2.5-1.9.5-2 .5-1.4.5-1.7.5 .3.5 .2.5 1 .5 2.8.5-.5.5 .3.5-1.6.5 .6.5-.7.5 .5.5 .2.5-.4.4-1.1.5-2 .5-.8.5 1.2.5 1.5.5 0 .5 .2.5 2.7.5-1.3.5-.5.5-.7.5 .1.5-.5.5 1.5.5-.5.5-1.5.5-2.5.5 2.1.5-.6.5 1.6.5 .6.5 1.4.5 .3.5-.6.5-.1.5-1 .5 .7.5-.7.5-.9.5 1.4.5-2.1.5 .2.5-1 .5 1.1.4 1.5.5-.2.5 2.6.5-.6.5-.2.5-1.8.5-1.1.5-.3.5 .4.5 .8.5 .8.5-1.6.5-.3.5-.3.5 1.5.5 1.1.5 .8.5 .6.5 1.3.5-3.3.5-1.8.5 .3.5-.7.5-.1.5 2.5.5-.6.5 .4.5-1.9.5 1.9.5-.5.5 1.3.5 .2.5 2.2.5-2.3.4-.1.5-1.8.5-2.1.5 .1.5 1.2.5 1.1.5-1.4.5 .4.5 .8.5 .5.5-.1.5 1.9.5 .6.5 0 .5-.7.5-1.7.5-2.2.5-.4.5 1.9.5-2.1.5 1.7.5 .1.5 1.9.5 .6.5 .1.5-1.4.5 1.9.5-.5.5-.2.5-.5.5-1 .5-3.2.5-.8.5 1.7.4 1.6.5 1.2.5 1.9.5-1.1.5 .1.5-1.2.5 .3.5 1.2.5-.6.5 1.3.5-1.5.5-1.7.5-2.8.5 1.2.5 .7.5 1.6.5 1.8"/><path stroke="#f05a1e" stroke-width="1.7" d="M193.3 309.7l.5-2.7.5 2.2.5-3.6.5 2.9.5-2.7.5 2.6.5-3.6.5 3.6.5-3.8.5 3.3.5-3.8.5 3.6.5-3.9.5 3.1.5-3.7.5 3.2.4-4.5.5 2.3.5 2.1.5 1.5.5 2.4.5 1.9.5 .2.5-2.3.5-1.6.5-2 .5-1.8.5-2.5.5 1.9.5 1.4.5 2.1.5 2.1.5 1.7.5 1.3.5-1.7.5-1.9.5-2.8.5-1.2.5 1.4.5-1.2.5 4 .5 .7.5 0 .5-.9.5-.8.5-1.1.5 .7.5 .5.5-.8.5 1.6.4-3.3.5-1.6.5 1 .5 1.8.5 .1.5 .1.5 3.2.5-1 .5-.1.5-2.2.5 .3.5 1.7.5-2.6.5 .7.5 .3.5-1.3.5-1.6.5 .2.5 1 .5 2 .5 .8.5 1.4.5-.7.5-.5.5-.5.5-1.5.5 .9.5 .5.5 .5.5-2.1.5 .5.5-1.8.5 1.1.5 1.3.4 .1.5 1.3.5 .8.5-.7.5 .1.5-2.6.5-.4.5 .5.5 1 .5 .1.5-1.1.5 .1.5-1.4.5 .8.5 1.6.5 1.4.5-.3.5 1.3.5 1 .5-4.8.5-1 .5 .8.5-.4.5-.6.5 2.2.5 .2.5-1.1.5 0 .5 .4.5 1.8.5-.3.5 2.2.5-.7.5-.8.4-2.4.5-2.5.5-.3.5 2.4.5-.8.5 2.1.5 .6.5-.9.5 .7.5 .1.5 0 .5 1.6.5 .5.5-1.1.5 .1.5-1.4.5-1.2.5-1 .5 .8.5 .8.5-.1.5 .6.5 .3.5 1.3.5 0 .5-.7.5-.1.5 1.2.5-.3.5-2.3.5-.2.5-1.7.5 .8.5 .1.4 .6.5 1 .5 2.7.5-2.8.5-.9.5 1 .5 1.5.5-.6.5-1.1.5 1.5.5-1.8.5-1.7.5 .4.5-1.5.5 1.8.5 2.2.5 1.5"/><path stroke="#f0b020" stroke-width="1.7" d="M193.3 314.4l.5-2.7.5 2.4.5-3.3.5 3.4.5-4 .5 3.5.5-3.4.5 2.5.5-3.1.5 2.8.5-3.2.5 2.4.5-2.7.5 2.1.5-2.3.5 2.7.4-4 .5 1.8.5 2.2.5 1.5.5 1.8.5 2.5.5 .1.5-1.8.5-2.3.5-2.3.5-2 .5-1.2.5 .6.5 2.9.5 1.3.5 2.1.5 2.2.5 .5.5-1.6.5-2 .5-2.1.5-1.7.5 1.8.5 1.6.5 .4.5 1.4.5-.9.5-.5.5-1.1.5 2.4.5-1.8.5-.1.5-.5.5-.4.4-.4.5-3.1.5 1.3.5 2.7.5-.3.5 2.1.5 .2.5 1.9.5-2.9.5-2.1.5 .6.5 0 .5 1.1.5-.6.5-.9.5-1.6.5 0 .5 2.2.5 0 .5 1.9.5 0 .5 .4.5 .1.5-1.2.5-.5.5-1.2.5 .3.5-.4.5 .6.5-1 .5-.7.5 .4.5 1.5.5 0 .4 2.9.5 .7.5 .2.5-2.4.5 .3.5-2.7.5-.9.5 0 .5-.4.5 1.1.5 3.1.5-2.9.5-1.2.5 .2.5 2.3.5 .8.5 2.2.5-2.4.5-.6.5-.8.5 .4.5-2.2.5 .1.5 .6.5 1.5.5 1.2.5-.6.5-.9.5 1.5.5-1.7.5 2.4.5-1.4.5 1.7.5-2.3.4-.9.5-2.3.5 2 .5 .5.5 .4.5 .7.5 .9.5-1.1.5-1.2.5 1.3.5 .1.5 1.7.5 .4.5-.9.5-.9.5-1.9.5-.6.5-.1.5 1.1.5 .3.5 1.1.5 .7.5-.6.5 1.2.5-2.2.5 1.4.5 .2.5-.2.5 .3.5-2.4.5-2 .5-.3.5 1.3.5 .2.4 2.9.5-.5.5 2.2.5-1.3.5-1.2.5 .5.5 .7.5-.8.5 .2.5 .8.5-1.3.5-2.8.5-.2.5 .5.5 1.7.5 1.8.5 2"/><path stroke="#8428a4" stroke-width="1.7" d="M193.3 320.8l.5-5.4.5 5 .5-5.5.5 5.1.5-5.2.5 4.5.5-5.1.5 5.1.5-5.1.5 4.6.5-5.4.5 5.2.5-5.3.5 4.5.5-5.7.5 5.7.4-5.3.5 1.6.5 2.4.5 2.2.5 1.9.5 1.1.5 .7.5-2.1.5-2 .5-2.1.5-1.4.5-2 .5 .5.5 2.6.5 2.4.5 1.7.5 2 .5 1.2.5-2.6.5-1.3.5-2.2.5-2 .5 .9.5 4.4.5-4.2.5 5.4.5-5.7.5 6.2.5-5.7.5 5.2.5-4.9.5 4.3.5-3.8.5 1.1.4-5 .5 3.3.5-1.1.5 4.9.5-3.4.5 4.2.5-2.3.5 2.2.5-5.7.5 2.8.5-3.5.5 4.4.5-3.1.5 4.6.5-4.3.5 1.7.5-4.6.5 5.2.5-2.2.5 6.2.5-4.7.5 4.4.5-4.9.5 1.2.5-3.6.5 5.2.5-6.5.5 4.9.5-4.4.5 4.3.5-5.6.5 4.3.5-1.8.5 5.7.4-3.6.5 5.2.5-4.5.5 2.9.5-7.3.5 5.3.5-3.7.5 3 .5-3.8.5 5.7.5-5.2.5 4.6.5-5.1.5 7.6.5-4.8.5 5.1.5-5 .5 3.7.5-4.9.5 1.4.5-2.1.5 .2.5 .6.5 2.8.5-1.7.5 2.4.5-5.3.5 4.3.5-1.3.5 3.6.5-3.3.5 2 .5-1.5.5 .1.4-5.4.5 3.7.5-1.8.5 3.4.5-2.2.5 4.4.5-4.5.5 4 .5-4 .5 4.8.5-3.5.5 4.8.5-4.1.5 2 .5-6.4.5 2.4.5-1.4.5 4.9.5-5.3.5 6.4.5-4.6.5 5.2.5-5.5.5 3.2.5-.8.5 2.3.5-3 .5 2 .5-3.4.5 2 .5-4.5.5 .7.5-1 .5 4.3.4 .4.5 4.6.5-5.3.5 1.8.5-3.9.5 5.4.5-3 .5 2.7.5-4.8.5 4.3.5-5.3.5 1.5.5-2 .5 4.8.5-4.6.5 6.5.5-2.9"/><path stroke="#72b63a" stroke-width="1.7" d="M193.3 325.4l.5-3.7.5 2.8.5-3.8.5 3.7.5-3.7.5 2.8.5-3.4.5 3.3.5-4 .5 4 .5-4 .5 3.4.5-3.7.5 3.5.5-3.6.5 3 .4-4.6.5 2.1.5 2.1.5 1.5.5 2.1.5 2.2.5 .4.5-2.7.5-1.5.5-2 .5-2.3.5-1.4.5 1.4.5 1.7.5 1.8.5 2.1.5 1.4.5 1.6.5-1.9.5-1.8.5-2.4.5-1.5.5 2.5.5 1.1.5-.2.5 1.5.5-.1.5-1.9.5 1.9.5-.3.5-2 .5-.9.5-.3.5-.6.4-1.5.5 1.3.5 .1.5 3.6.5 .5.5 1.4.5-.2.5-2.9.5-1.3.5-.2.5-.3.5 1.6.5 0 .5-.5.5-.7.5-1.5.5 2.4.5 .5.5 1.9.5 0 .5-.7.5 1.2.5-2.4.5-.2.5-1.4.5 .7.5-.3.5 .7.5 .4.5-1.7.5-.2.5 .5.5 2 .5 .7.4 .4.5 .4.5-.3.5-2.1.5-1.2.5-.7.5-.2.5 1.1.5 1.2.5 .2.5 0 .5-2.8.5 3.1.5 .4.5 .6.5 .3.5-.2.5-.3.5-1.6.5-1.1.5-.5.5 1.1.5-.7.5 1.5.5 1.7.5-1.5.5-1.1.5 .9.5 2.7.5-1.1.5 .4.5-2.6.5 1.1.5-2.6.4-.7.5-.6.5 2.1.5 1 .5-.3.5 .7.5 .4.5-1.2.5 2.3.5-1.6.5 2.2.5 .5.5-2.2.5-1.2.5-.9.5 .6.5-1.3.5 1.1.5 .5.5 1.9.5-2 .5 .7.5 2.2.5-1.8.5 .5.5-.3.5 .3.5-2 .5-.5.5-1.4.5 0 .5 1.2.5 .7.5 1.1.4 1.8.5 .8.5-.2.5-3.4.5 2.3.5-.9.5-.3.5 .1.5-.4.5-.9.5 .6.5-1.2.5 .7.5 .2.5 2.6.5-.9.5 3.2"/><path stroke="#3cc2f2" stroke-width="1.7" d="M193.3 330.4l.5-3.5.5 3.4.5-4.5.5 3.7.5-3.8.5 3.7.5-4.4.5 3.5.5-3.4.5 2.8.5-3 .5 2.5.5-2.5.5 2.6.5-4.2.5 4.4.4-5 .5 2.4.5 1.5.5 1.9.5 1.7.5 2.4.5 0 .5-1.9.5-1.5.5-1.9.5-2.7.5-2.8.5 2.1.5 2.5.5 2.3.5 .6.5 2.9.5 1.3.5-2.2.5-2 .5-1.9.5-2 .5 2.1.5 1.5.5 .7.5 .1.5-1.7.5 .3.5-1.2.5 .5.5-.5.5 .4.5 .7.5-2.7.4 .1.5 0 .5 2.8.5-.5.5 1.3.5 .1.5 .1.5-1.7.5 .4.5-.2.5 .1.5-.9.5-.1.5-.7.5 0 .5-.9.5 1.4.5 2.3.5-.5.5 3.2.5-.3.5-1.7.5-1.1.5-1.4.5 .1.5 .7.5-.8.5-.1.5-.1.5-1 .5 1.3.5 .8.5 1 .5 .7.4 .8.5-2 .5-.3.5-1.6.5 .2.5-1 .5-.1.5 1.4.5-.4.5 .3.5 1.2.5-1.8.5 3.4.5-1 .5 1 .5 .5.5-.4.5-.9.5-1.6.5-2.8.5 .8.5 1.1.5 1.3.5 .4.5 .4.5 0 .5-.3.5-.3.5-.6.5 2.4.5-.9.5 1.2.5-2.7.5-.9.4-1.5.5 1.4.5-.4.5 .9.5 1.4.5 .3.5 .5.5-2 .5 1.5.5 .1.5-.6.5 .6.5-1 .5-1 .5-2 .5 .7.5 .7.5 1.5.5 .9.5 2.2.5-.1.5-.4.5-3.5.5 2.7.5-.8.5-.5.5 1 .5-1.9.5-.4.5-.1.5-3.1.5 3 .5-.1.5 3.5.4 .3.5 .1.5-.7.5-1 .5 0 .5-1.3.5 .7.5 1.5.5-1.2.5-1.5.5-1.4.5 1.4.5-1 .5 2.1.5 2.5.5 .4.5-.3"/><path stroke="#c81a3c" stroke-width="1.7" d="M193.3 335.1l.5-3 .5 2.6.5-3.4.5 3.2.5-3.6.5 2.7.5-2.7.5 3.1.5-4 .5 3.4.5-3.3.5 3 .5-3.6.5 2.4.5-2.4.5 2.1.4-3.5.5 1.8.5 2 .5 1.7.5 1.8.5 2.9.5-.3.5-1.8.5-2.2.5-2 .5-2.7.5-.9.5 1.2.5 1.6.5 1.9.5 2 .5 2 .5 1.2.5-1.6.5-1.9.5-2.3.5-2.2.5 3.2.5 1.1.5-.7.5-.4.5-2 .5 1.8.5 .1.5 .5.5-1.9.5 .6.5-1.4.5-.9.4 .4.5 1.4.5 .9.5 1.5.5 .9.5-.1.5-.6.5-1 .5-2.7.5 2 .5-.5.5 .2.5 1.9.5-3 .5 .7.5-1.1.5 1.3.5 3.9.5-1.6.5 2.3.5-.9.5-4 .5 1.2.5-.8.5-1 .5-.6.5 2.2.5 .4.5-1.4.5-.1.5 1.1.5 1.2.5-.1.5 2.2.4-2.2.5 1.7.5-2.7.5-1.5.5-.4.5 .3.5-.3.5 .3.5 1.1.5 .6.5 .1.5 .1.5 0 .5 1.7.5 .1.5-.2.5-2.1.5 .3.5-1.8.5-.8.5-.2.5 .2.5 3 .5 1.7.5-2.7.5 1.5.5 1.2.5-.6.5-.1.5 .4.5 .2.5-.8.5-1.5.5-4 .4 1.2.5 1.2.5 1.3.5 .5.5 1.8.5-1.2.5 1 .5-1.3.5 1.2.5 .1.5 .5.5 .2.5-1.8.5-.9.5-2.2.5 1 .5-.4.5 1.2.5 2.1.5 .7.5-1.9.5-.1.5-1.4.5 1.4.5-.2.5 0 .5 1.1.5-1.2.5-1.6.5-1 .5 .5.5 .7.5 2.1.5-.2.4 1.9.5 .4.5-.6.5-.2.5-1.1.5 .2.5-.5.5-1.6.5 .7.5-.9.5-.3.5-.5.5 .5.5 4.2.5-.2.5 1.4.5-1.3"/><path stroke="#0a7cc8" stroke-width="1.7" d="M193.3 340l.5-3.1.5 2.9.5-3.5.5 3 .5-3.5.5 3 .5-3.3.5 3.3.5-3.6.5 3.2.5-3.3.5 3.1.5-3.5.5 3 .5-3.4.5 2.6.4-4.3.5 3.2.5 1.7.5 1.4.5 1.8.5 2.4.5-.3.5-2 .5-1.9.5-2 .5-1.3.5-2.4.5 1.4.5 2.3.5 1.7.5 1.4.5 2.5.5 1 .5-2.3.5-1.3.5-2 .5-2.4.5 5.3.5 1.3.5-1.4.5-1.6.5-.7.5-1.6.5 1.8.5-.7.5 1.9.5-.9.5-2.4.5-1.6.4 .6.5 1.8.5 1.5.5 1.6.5-.8.5 1.2.5-1.6.5-1.4.5-.2.5-.5.5-.8.5 1.1.5 1.2.5-1 .5-1.2.5 1.9.5 1.3.5 .6.5 .9.5-.6.5-1.8.5-.1.5-.7.5-.8.5-.2.5 .6.5-.9.5 1.8.5 0 .5-1.3.5-.1.5 2.7.5-.6.5 .9.4 1.6.5-2 .5-2.4.5-.3.5-1.2.5-.3.5 1.7.5 1.3.5-.4.5 .5.5-.9.5 .9.5 1.5.5 .5.5 0 .5-.7.5-.9.5-1 .5-1.4.5-.2.5-.1.5 1.9.5-.5.5 1.9.5-1.2.5 .6.5-.6.5 1.4.5-.1.5 1.5.5-1.6.5-1.9.5-1.1.5 .1.4-1.7.5 3.6.5-.1.5 1.1.5 .1.5 .1.5-.8.5-.2.5 0 .5 .5.5-1.2.5 1.2.5-1.5.5-2.2.5 0 .5 .9.5 2.2.5 0 .5 1.8.5 .9.5-.2.5-1.7.5-1 .5 .6.5-.8.5 0 .5 .4.5-1 .5-1.4.5 .4.5 .4.5 2 .5 .1.5 2.6.4-.9.5-.7.5-1.9.5 .7.5-.8.5 1.3.5-1.5.5 1 .5-.2.5-2.9.5 .9.5 .3.5 2.2.5 .9.5 0 .5-.2.5-1"/><path stroke="#f05a1e" stroke-width="1.7" d="M193.3 345.3l.5-2.8.5 2.2.5-2.6.5 2.1.5-2.8.5 3.3.5-3.8.5 3.4.5-3.9.5 2.7.5-3.3.5 3.3.5-3.9.5 4.1.5-4.1.5 2.9.4-4.1.5 2.6.5 1.5.5 2 .5 2.2.5 1.8.5 .6.5-2.6.5-2 .5-2.4.5-.6.5-2.4.5 .4.5 2.1.5 2.2.5 1.8.5 2.1.5 1.6.5-2.3.5-2.1.5-1.6.5-2 .5 5.2.5-.2.5 .4.5-1.6.5-2.2.5 .6.5-.5.5 1.2.5-.3.5-.2.5 0 .5-1.4.4 .6.5 1.6.5 .9.5-.1.5 1.9.5-1.6.5-1.8.5-1.1.5 .6.5-2.4.5 2.3.5 .8.5 .3.5-1.2.5 0 .5 .3.5 1.7.5 1.8.5 0 .5 0 .5-2 .5-2.6.5 .1.5-.1.5 .1.5 1.3.5-.7.5 .1.5-.8.5 .7.5 1.9.5 .8.5 1.2.5-1.1.4 0 .5-2.4.5-1.5.5 1.1.5 .1.5 .4.5-.2.5 1.9.5-.3.5-1.4.5-.2.5 1.7.5 .2.5 .5.5-1.2.5 .3.5-1.3.5-1.6.5-.3.5 .2.5 .9.5 1.8.5 .4.5 .1.5-.7.5-.2.5 .7.5-.3.5 .2.5 .8.5 2 .5-4.5.5-1.1.5-.7.4 .9.5 1.1.5 1.6.5 1.6.5-.6.5 .3.5-1.6.5-.2.5 1.7.5-.8.5 .7.5-.1.5-4.3.5-.3.5-.1.5 .2.5 1.8.5 2.8.5-1.3.5 .2.5 1.1.5-.3.5-1.3.5 .1.5 .1.5-1.7.5 1.8.5-2.9.5-.9.5 .3.5 1.4.5 3.3.5 .2.5 0 .4 .7.5-.9.5-3.4.5 .1.5 2.2.5-2.3.5 1.4.5-.1.5-1.4.5-2.2.5 2.4.5 1 .5 2 .5 .7.5 .9.5-.3.5-1.6"/><path stroke="#f0b020" stroke-width="1.7" d="M193.3 350.7l.5-3.1.5 3.1.5-3.9.5 3.3.5-3.6.5 2.9.5-3.7.5 3.7.5-4.1.5 3.4.5-3.1.5 2.6.5-2.8.5 1.9.5-3 .5 2.9.4-3.9.5 2.1.5 1.8.5 2.3.5 1.2.5 2.5.5 .5.5-2.3.5-2.1.5-1.4.5-2.6.5-1 .5 .6.5 1.8.5 1.7.5 2 .5 2.4.5 .8.5-1.6.5-2.1.5-2.3.5-1.9.5 5.3.5-1.2.5 .7.5-1.7.5-1.1.5 .4.5-1.6.5 2.6.5-.3.5-1.5.5-.5.5 .8.4 2 .5 0 .5 1.2.5 2.1.5-2.6.5-1.5.5-.9.5-1.2.5 0 .5 1.4.5 .4.5 .8.5-.8.5-1.9.5 2.6.5 1.2.5-.9.5 1.6.5-.1.5-.8.5-.7.5-2.1.5-.6.5 .2.5 .7.5-.4.5 .5.5 .3.5-.4.5 1.1.5 1.2.5 .8.5 .3.5-.1.4-2.7.5-1.5.5-.6.5-.5.5 1.4.5 .7.5 .2.5 1.5.5-.4.5-2.3.5 2.1.5 1.1.5-.1.5 1.9.5-1.8.5-1.7.5 .1.5-.8.5-.8.5 .1.5-.2.5 1.7.5 1.9.5-1.1.5-.8.5 .9.5-.4.5 .7.5-.1.5 .5.5-2 .5-.9.5-1.8.5 1.9.4 .2.5 .5.5 1.2.5 2.6.5-.7.5-1.1.5-1.2.5 1.4.5-1.5.5-.7.5-1 .5 .7.5-.5.5-1.1.5-1.4.5 2.8.5 1.2.5 1.4.5 .7.5-1.2.5-.7.5 .9.5-1.9.5 .2.5 .5.5 .6.5-1.1.5-1.7.5 0 .5 1.8.5-.1.5 1.7.5-.1.5 1.4.4 0 .5-1.2.5-.7.5 .4.5-.5.5-.5.5 0 .5 .5.5-1.1.5-2.5.5 2.6.5 2.4.5-.6.5 .7.5-.3.5 1.8.5-4.8"/><path stroke="#8428a4" stroke-width="1.7" d="M193.3 355.7l.5-3.4.5 3.1.5-3.3.5 2.6.5-2.9.5 2.7.5-3.2.5 2.9.5-3.6.5 3.2.5-3.3.5 3.1.5-3.7.5 3.1.5-3.2.5 2.6.4-3.5.5 1 .5 2.6.5 2.3.5 1.6.5 1.9.5 0 .5-1.4.5-2.8.5-1.5.5-2.2.5-1.5.5 1 .5 2.2.5 2 .5 2.1.5 1.7.5 .9.5-2.3.5-1.9.5-1.8.5-1.6.5 5.1.5-1.1.5-3 .5-.9.5 0 .5 1.6.5 .5.5 .1.5-.8.5 .4.5 .6.5-.1.4 .2.5 2.1.5 .8.5 .6.5-2.7.5-.8.5-2 .5-1 .5 1.8.5-.3.5 .3.5 1 .5 .4.5 0 .5-.6.5 2 .5-1.3.5 1.9.5 .5.5-1.8.5-1.1.5-3 .5 1 .5 1.9.5-1.8.5 1.4.5 .4.5-.9.5 2.2.5-1.2.5 .6.5 .5.5 .4.5 0 .4-1.3.5-.6.5-2.8.5 .8.5 2 .5 .2.5 .3.5 1.6.5-1.2.5-.4.5 .8.5 .8.5 .5.5-1 .5-.6.5-1.1.5-2.4.5 .1.5 1.9.5-.7.5 1.2.5 1.1.5 .6.5 .4.5-1.9.5 .4.5 0 .5 0 .5 .9.5 .1.5-1.9.5-1.8.5-.7.5 1 .4 2.1.5 .8.5 2 .5-.6.5-.1.5-1.5.5 0 .5 .6.5 1 .5-2.8.5-.5.5 .1.5-.7.5-1.9.5 1.2.5 3 .5 1 .5 1.6.5 .7.5-2.7.5-.8.5-.6.5 0 .5-.3.5 1.2.5 .2.5-1.3.5-1.8.5-.1.5 .8.5 1.6.5 1.2.5 .7.5-.5.4 .3.5-2.3.5 0 .5-.8.5 .9.5 .1.5-.7.5 .1.5-.9.5-.1.5 2.8.5 .7.5 .8.5 .9.5-.7.5-2.1.5-.5"/><path stroke="#72b63a" stroke-width="1.7" d="M193.3 361.2l.5-3.6.5 2.7.5-4 .5 3.4.5-2.8.5 3 .5-3.5.5 2.5.5-3.4.5 3.8.5-3.6.5 2.8.5-3.7.5 3.5.5-3.6.5 3 .4-4.6.5 2.4.5 2 .5 1.8.5 2.5.5 1.8.5-.5.5-1.7.5-2.3.5-1.8.5-1.7.5-1.7.5 1 .5 1.7.5 2.2.5 2.5.5 2 .5 .6.5-1.9.5-1.5.5-2.5.5-1.5.5 4.9.5-1.9.5-.6.5 .2.5-1.2.5-.7.5 1.1.5 1.5.5-2 .5-.1.5-.1.5 1 .4 1.4.5 1 .5 1.5.5-1.8.5-.5.5-3 .5-.5.5-.9.5 2.1.5-.3.5 1 .5 .9.5-2.4.5 2.1.5 .1.5 .6.5 1.2.5 .1.5-1.2.5-.8.5-2.1.5-.7.5 1.1.5-.6.5 1.4.5 1.9.5-1.6.5 .8.5-.3.5 .4.5 1.1.5-.6.5 1.2.5-.8.4-1.6.5-.3.5-3.1.5 .7.5 1.7.5 1.3.5 .5.5 .7.5-.6.5-.5.5 1.2.5-.2.5 .4.5 .2.5-1.5.5-1.2.5-2.9.5 .5.5 2.1.5 .9.5 1.3.5 .8.5 .3.5-1.1.5-.4.5-.9.5 1.2.5 .1.5 .3.5-1.9.5-.7.5-.9.5-.1.5 .5.4 2.3.5 .7.5 2.2.5-1.7.5-.5.5 .8.5-1.8.5 .3.5-.4.5 .2.5-.1.5-1.2.5-2.1.5 1.9.5-.4.5 3 .5 .7.5 .9.5-.6.5-.9.5-2.4.5 .7.5 .1.5-1.1.5 .3.5 .1.5-1.8.5-.1.5 2.1.5 0 .5 1.8.5 .3.5 .8.5-1.3.4 1.9.5-2.8.5-.7.5-.3.5-.1.5-1.1.5 2.5.5-.2.5-3.3.5 .8.5 2.9.5 2.8.5 .2.5-.9.5-.8.5-1.9.5-2.4"/><path stroke="#3cc2f2" stroke-width="1.7" d="M193.3 366.6l.5-3.9.5 3.5.5-3.7.5 3.2.5-3.9.5 3.2.5-3.7.5 3.3.5-3.5.5 3.7.5-4.8.5 3.6.5-4 .5 3.5.5-2.9.5 3 .4-4.6.5 2 .5 2.1.5 2.3.5 1.8.5 1.7.5 .2.5-2.1.5-2.3.5-1.6.5-1 .5-2 .5 .6.5 1.8.5 1.5.5 2.7.5 1.6.5 1.8.5-2.5.5-1.7.5-2.3.5-1.5.5 3.6.5 0 .5-2 .5 1 .5-1.7.5 .4.5 .5.5-.2.5-.1.5-.5.5 2.1.5-.1.4 1 .5 .6.5 .4.5 .1.5-3 .5-1.6.5 .2.5-.3.5 1.8.5-.7.5 .3.5 1.3.5-2.6.5 1.7.5 1.9.5-.8.5 .2.5 1.2.5-1.5.5-2.2.5-1.6.5-1.1.5 1.8.5 1.7.5-.1.5 1.7.5-.3.5-1.6.5 1.4.5 .9.5-.1.5 .3.5-.7.5-.8.4-2.2.5-.9.5 .4.5 .7.5 1.2.5 1.2.5 .2.5 .7.5-1.9.5 .5.5 1.2.5 .8.5-1.2.5-.2.5-1.7.5-1.2.5-.6.5 1.2.5 1.2.5-1.1.5 3.6.5 .3.5-.4.5-2.2.5 .5.5 1.2.5-.7.5 .7.5-1.1.5 .3.5-1.5.5-1.3.5 .3.5 2.8.4-.6.5 .9.5 1.5.5-1.6.5 0 .5-.7.5-1.2.5 1.3.5-1.8.5 1.3.5-.2.5-1.6.5-2.1.5 1.6.5 3 .5 1.4.5 .2.5 .2.5-.5.5-.6.5-1.4.5-1.4.5 .4.5 1.5.5-.5.5-.6.5-1 .5-.1.5 2.3.5-.7.5 2 .5 .8.5 .5.5-.6.4-3.5.5-.3.5-1.6.5 2.2.5-.7.5 1 .5-1.3.5 .7.5-1 .5 2.6.5-.9.5 1 .5 0 .5 2.3.5-1.5.5-3 .5-1.5"/><path stroke="#c81a3c" stroke-width="1.7" d="M193.3 371.6l.5-3.3.5 2.3.5-2.7.5 2.5.5-3 .5 2.7.5-3.2.5 2.9.5-3.3.5 2.9.5-3.6.5 3 .5-3.1.5 2.3.5-2.7.5 2.7.4-4.6.5 2.2.5 2.3.5 1.9.5 1.7.5 2.1.5 0 .5-2 .5-1.7.5-1.9.5-2 .5-1.5.5 1.1.5 1.4.5 2.3.5 2 .5 2.2.5 1.1.5-2.3.5-1.8.5-2.2.5-1.9.5 4.1.5-2 .5-.9.5-.7.5 1.3.5-.8.5 2 .5-.9.5-.5.5 .3.5 1.3.5 .2.4 1.5.5 1.2.5-.7.5-2.1.5-1.4.5-.7.5-.7.5 .9.5 .6.5-.2.5 2.8.5-1.7.5-1 .5 .8.5 1.9.5 .1.5 .4.5-.7.5 .2.5-2.3.5-1 .5-2 .5 2.7.5 .9.5 0 .5 .2.5 .3.5 .8.5-.5.5 .6.5 .3.5-.9.5-.2.5-.8.4-3.4.5 1.6.5-.2.5 .9.5 1.7.5 1.1.5-.3.5-.5.5-1.2.5 1.5.5 0 .5-1.4.5 .6.5-.5.5-.7.5-.8.5-.8.5 .9.5 2.1.5 .8.5 .5.5-.3.5 .7.5-2.8.5 1.2.5 1.1.5-1.2.5-.4.5 .1.5-1 .5-1.9.5 1.6.5-1 .5 2.9.4 .3.5 1.8.5-.8.5-1.8.5-.5.5-.5.5-.5.5 .6.5 .3.5 .2.5-1.1.5-.7.5 .8.5 .5.5 .5.5 1.1.5 .4.5 .5.5-.6.5-1.5.5 .3.5-.4.5-1 .5 .4.5 1.8.5-2.3.5 .1.5 .1.5 1.9.5-.6.5 1.8.5 .4.5-.6.5-1.4.4-1.6.5 .1.5 .1.5 0 .5 .5.5 .8.5-.4.5 .5.5-.8.5 1.3.5 .6.5 .8.5 0 .5 0 .5-1.5.5-3.4.5 .6"/><path stroke="#0a7cc8" stroke-width="1.7" d="M193.3 376.7l.5-3.5.5 2.8.5-3.9.5 3.9.5-4 .5 2.7.5-3.1.5 3.2.5-3.1.5 2.7.5-3.6.5 3.2.5-3.3.5 2.8.5-3.5.5 2.9.4-3.7.5 2 .5 1.4.5 2.5.5 1.5.5 2.3.5-.5.5-1.8.5-1.3.5-2.4.5-1.6.5-2.6.5 1.5.5 2.3.5 1.9.5 1.8.5 2.1.5 1.6.5-2.2.5-2.4.5-2.1.5-1.5.5 4.4.5-2.4.5 .4.5-1.7.5 .6.5 1 .5-.2.5-.6.5 .2.5 2.1.5-1.5.5 2.2.4-.4.5-1.9.5 1 .5-1.1.5-2.5.5 1.6.5-2.1.5 2.6.5 .9.5 .2.5 .2.5 0 .5 0 .5 0 .5 .8.5 .7.5-1.3.5 .8.5-2.4.5-3.1.5 2 .5-.6.5 .7.5 2 .5-.3.5 2.7.5-1.6.5 .5.5-1.2.5 1.3.5-1.1.5 1.1.5-.5.5-2.2.4-2.6.5 .9.5-.3.5 2.8.5 .6.5 1.2.5 .9.5-.9.5-.7.5-.9.5 .9.5 1.2.5-1.1.5-1.5.5-.9.5-.3.5-.8.5 2 .5 1.6.5 .2.5-.3.5 .8.5-.6.5-1.6.5 1 .5 1.1.5-1.3.5 .9.5-1 .5-2 .5-.5.5 .3.5 1.6.5 .5.4 2.9.5 .3.5 0 .5-2.3.5-1.3.5 .4.5-.9.5-.1.5 1.8.5-1.6.5 .8.5-1.6.5 .1.5 1 .5 2.7.5-.3.5 .6.5 .5.5-1.5.5-1.4.5-.7.5 1.5.5-2.9.5 1 .5 .7.5-.5.5-1.3.5 2.9.5 .3.5 .5.5-.5.5 2.7.5-2.3.5-2 .4-.7.5-.5.5 1.3.5-1.6.5 2.2.5 .8.5 .3.5-1.4.5-.3.5 1.7.5 .5.5 .7.5 .2.5-1.3.5-2.3.5-.8.5-.5"/><path stroke="#f05a1e" stroke-width="1.7" d="M193.3 381.8l.5-3.4.5 3 .5-3.7.5 3.2.5-3.5.5 2.6.5-3.6.5 3.3.5-2.9.5 2.7.5-3.8.5 3.1.5-3.3.5 3.1.5-3.5.5 3.7.4-4.3.5 1.1.5 2.7.5 1.3.5 2.3.5 2.3.5-.3.5-1.8.5-1.8.5-2 .5-1.8.5-2.5.5 1.9.5 1.2.5 2.6.5 1.5.5 2.4.5 .7.5-1 .5-2.7.5-1.9.5-1.9.5 1.4.5 0 .5 0 .5-.6.5 2 .5 .1.5 .1.5 0 .5-2 .5 1.7.5 .7.5 1.7.4 .1.5-.4.5-2.2.5-.3.5-2.3.5 .9.5 .1.5 2.6.5-1 .5 1.2.5 .4.5-2.7.5 1.6.5 .7.5 .8.5-.7.5-.5.5-2 .5-.5.5-1.4.5 .7.5 1 .5 .6.5 2.5.5 .1.5-1.1.5 .2.5 .2.5-1.2.5 2.2.5-1.8.5 .3.5-.7.5-.9.4-.8.5-.5.5 .6.5 .6.5 1.1.5 1.9.5 .3.5-1.8.5 .5.5-.1.5-.9.5-.3.5 .1.5 .3.5-1.4.5-.7.5 .7.5 0 .5 1.4.5 1.3.5 1.5.5-.3.5-1.8.5-.6.5-.9.5 .8.5 .9.5-2.4.5-.1.5-.4.5 0 .5 1.9.5-.1.5 2.4.4 .5.5 0 .5-1.7.5-.5.5-2.2.5 1.7.5-1 .5 .5.5 .8.5 .3.5-1.1.5-1.8.5 1 .5 1.8.5 2.1.5-.3.5 .8.5-1.8.5-.9.5-2.8.5 .9.5 .2.5 1.6.5-.4.5-.3.5-1.1.5 .9.5 1.3.5 1.6.5-.3.5 .4.5 .6.5-1.6.5-2.3.4-.4.5 .4.5-.5.5-.8.5 2 .5 .9.5-2 .5 .2.5 1.8.5 1.9.5-1 .5-.5.5-.8.5-.2.5-1.4.5-.7.5 .2"/></g></svg>
<rect x="193.8" y="297.7" width="83.0" height="86.5" fill="none" stroke="#9a9a9a" stroke-width="1"/>
<svg x="303.3" y="297.2" width="84.0" height="87.5" viewBox="303.3 297.2 84.0 87.5" overflow="hidden"><g fill="none" stroke-linejoin="round"><path stroke="#0a7cc8" stroke-width="1.45" d="M303.3 302.3l.5 .2.5 0 .5-.1.5-.1.5 0 .5 0 .5 .1.5 .1.5 .1.5-.3.5 .3.5-.3.5 .1.5 0 .5 .1.5 0 .4-.2.5 .2.5-.1.5 .2.5-.1.5-.1.5-.1.5 0 .5 .2.5 0 .5 0 .5-.2.5 .3.5-.2.5 .2.5-.3.5 .3.5-.2.5-.1.5-.1.5 .1.5 .3.5-.2.5 0 .5-.1.5 0 .5-.3.5 .3.5-.2.5-.1.5 .3.5 .2.5 .1.5 .1.4-.3.5 0 .5-.1.5-.3.5 .3.5-.2.5 .5.5 .3.5-.2.5 .1.5-.3.5-.5.5-.3.5 .1.5-.1.5 .5.5 .2.5 .6.5-.3.5-.1.5-.6.5-.2.5 .1.5 .1.5 .3.5 .5.5 .4.5 .3.5-.6.5-.2.5-.7.5-.1.5-.2.5 .4.4 .6.5 .3.5 0 .5-.2.5-.4.5-.7.5-.6.5 0 .5 .5.5 .6.5 .7.5 .3.5 .3.5-.6.5-.6.5-.2.5-.4.5 .4.5 .6.5 .6.5 .4.5 0 .5-.5.5-.6.5-.9.5-.5.5-.1.5 .5.5 .5.5 .8.5 .3.5-.1.5-.7.5-.6.4-.6.5-.1.5 .4.5 .8.5 1 .5 .6.5 .2.5-.5.5-.9.5-.6.5-.4.5 0 .5 .4.5 .7.5 .5.5 .3.5-.5.5-1 .5-.8.5-.3.5-.1.5 .5.5 .6.5 .8.5 .5.5 0 .5-.4.5-.7.5-.6.5-.1.5 .3.5 .9.5 1 .5 .2.4 .1.5-.7.5-.9.5-.6.5-.6.5-.1.5 .6.5 .6.5 .9.5 .1.5-.5.5-.5.5-.9.5-.4.5 .1.5 .1.5 1.2"/><path stroke="#f05a1e" stroke-width="1.45" d="M303.3 307.4l.5 .1.5 .2.5-.1.5 0 .5 0 .5 0 .5-.2.5 .1.5 0 .5 .1.5-.1.5-.1.5 .4.5-.5.5 .4.5-.1.4 .1.5-.2.5-.2.5 .2.5 .1.5-.1.5 .3.5-.3.5 .1.5-.1.5-.2.5 .2.5 0 .5 0 .5-.2.5 .4.5-.1.5-.1.5 0 .5 .2.5-.5.5 0 .5 .4.5 .1.5-.2.5 .2.5-.1.5-.2.5 0 .5 .1.5 .1.5 0 .5 .2.5 0 .4 .2.5-.3.5-.1.5-.3.5-.2.5 .3.5 .1.5 .1.5 .5.5-.2.5-.3.5-.2.5-.3.5-.1.5 0 .5 .1.5 .7.5 .1.5 .3.5-.3.5-.1.5-.4.5-.1.5-.2.5 .5.5 .3.5 .3.5 .2.5 0 .5-.6.5-.3.5-.7.5 0 .5-.2.4 .6.5 .3.5 .5.5 .1.5-.5.5-.2.5-.6.5-.3.5 .4.5 .1.5 .8.5 .7.5 .3.5-.1.5-.6.5-.5.5-.6.5-.4.5 .5.5 .6.5 .5.5 .4.5-.1.5-.7.5-.9.5-.6.5-.2.5 0 .5 .9.5 1 .5 .5.5 .1.5-.2.5-.7.4-.6.5-.6.5 .1.5 .8.5 .9.5 .8.5-.2.5 .1.5-.9.5-.8.5-.8.5-.3.5 .1.5 .6.5 .9.5 .7.5 0 .5-.7.5-.7.5-.8.5-.2.5 .3.5 .8.5 .8.5 .6.5 .3.5-.2.5-.5.5-.7.5-.9.5-.2.5 .9.5 .7.5 .4.4 .4.5-.3.5-.9.5-.6.5-.9.5-.2.5 .3.5 .7.5 .8.5 .8.5 .2.5-.4.5-.7.5-.7.5-.3.5 .2.5 .4"/><path stroke="#f0b020" stroke-width="1.45" d="M303.3 312.7l.5 .1.5 0 .5-.1.5-.1.5-.1.5-.2.5 .3.5 0 .5 .1.5 0 .5 0 .5-.1.5 0 .5 .1.5 0 .5-.1.4 .1.5 0 .5-.1.5 .1.5 0 .5 0 .5 0 .5 0 .5 .1.5 0 .5-.1.5 0 .5-.1.5 0 .5 .1.5 0 .5-.1.5-.2.5 .2.5 0 .5 .2.5-.1.5 .1.5-.2.5-.1.5 .2.5-.1.5 0 .5 .1.5 0 .5 .4.5 0 .5-.1.5-.2.4-.2.5-.2.5-.1.5 .3.5 .1.5 .1.5 0 .5 .1.5-.1.5-.3.5-.1.5-.3.5 .1.5 .3.5 .4.5 .3.5 0 .5-.1.5-.3.5-.4.5-.2.5 .2.5 .2.5 .5.5 .4.5 0 .5-.3.5-.7.5-.2.5-.3.5-.4.5 .4.5 .4.5 .6.4 .1.5 .2.5-.6.5-.2.5-.6.5 0 .5 .3.5 .8.5 .1.5 .6.5 .2.5-.4.5-.5.5-.8.5-.3.5 0 .5 .1.5 1 .5 .3.5 .3.5-.6.5-.2.5-1 .5-.2.5-.2.5 0 .5 1.1.5 .9.5 .5.5-.1.5-.4.5-.6.5-.7.5-.2.4 .1.5 .8.5 .7.5 0 .5 .6.5-.3.5-.8.5-1.2.5-.4.5-.3.5 .4.5 .9.5 .9.5 .2.5-.2.5-.5.5-.6.5-.8.5-.1.5 .5.5 1 .5 .9.5 .7.5-.2.5-.4.5-.5.5-1.1.5-.4.5-.2.5 .7.5 .7.5 .4.5 .3.5-.4.4-.7.5-.7.5-.8.5 0 .5 .3.5 1.1.5 .6.5 .4.5 .4.5-.6.5-.6.5-.6.5-.4.5 .3.5 .8.5 .9.5 .3"/><path stroke="#8428a4" stroke-width="1.6" d="M303.3 319.8l.5-3.4.5 2.5.5-2.7.5 2.2.5-3.3.5 4.5.5-2.7.5 1.3.5-1.2.5 4.2.5-5.7.5 5.1.5-3.1.5 4.1.5-5 .5 2.5.4-4.2.5 4.6.5-4 .5 4.3.5-4.1.5 4.9.5-3.5.5 1.8.5-2.7.5 5.5.5-5.7.5 6.3.5-6 .5 4.2.5-4.5.5 4.2.5-6.1.5 6.7.5-4.8.5 4.4.5-3.8.5 3 .5-3.3.5 3.1.5-4.4.5 5.5.5-4 .5 3.5.5-4.1.5 2.8.5-1.8.5 3 .5-4 .5 4 .4-4.7.5 4.7.5-3.5.5 5 .5-5.3.5 2.9.5-1.7.5 2.6.5-4.1.5 4.2.5-5.6.5 5.3.5-3.8.5 2.5.5-.7.5 .9.5-1.8.5 3.4.5-5.1.5 5.7.5-4.9.5 4.8.5-4.7.5 3 .5-1.7.5 1.5.5-4 .5 5.8.5-4.6.5 2.9.5-2.9.5 2.9.5-10.4.5 6.8.4 2.2.5 2.1.5-2.5.5 2.9.5-4.8.5 4.8.5-5.5.5 6.8.5-5.6.5 3.2.5-3.4.5 4 .5-3.1.5 2.7.5-4.1.5 3.9.5-2.6.5 3.7.5 .9.5 .2.5-4.9.5 3.8.5-5 .5 5.7.5-3.1.5 .8.5-3.9.5 4.3.5-2 .5 4.1.5-4.9.5 3.8.5-5.4.5 4.2.4-3 .5 5.5.5-5.7.5 3.7.5-2.6.5 3.8.5-2.7.5 2.1.5-3.1.5 2.9.5-2.7.5 3.2.5-4.1.5 3.9.5-2.8.5 2.4.5-1.4.5 1.6.5-2 .5 1.7.5-1.5.5 1 .5-3.5.5 3.8.5-3.7.5 3.8.5-2.9.5 2.7.5-4 .5 5.5.5-4 .5 2.5.5-3.1.5 4.6.4-4.8.5 4 .5-3.3.5 2.7.5-2.7.5 4.1.5-4.2.5 2.1.5-2.2.5 3.7.5-4 .5 3.5.5-4.7.5 6.5.5-5.4.5 3.7.5-2.5"/><path stroke="#72b63a" stroke-width="1.45" d="M303.3 323l.5-.1.5 .2.5-.2.5 0 .5-.2.5 .4.5 0 .5-.2.5 0 .5 0 .5 .2.5-.4.5 .4.5 0 .5 .1.5-.3.4 0 .5 0 .5 0 .5 0 .5 .1.5-.2.5 .2.5 0 .5-.2.5 .2.5-.1.5-.1.5 .2.5 .1.5-.3.5 .3.5-.4.5 .1.5 .2.5-.1.5 .2.5 0 .5 0 .5-.1.5 .2.5-.4.5-.2.5 .4.5-.1.5 0 .5 0 .5 .4.5-.2.5-.2.4-.2.5-.1.5-.3.5 .2.5 .3.5 .5.5-.1.5 .1.5-.1.5-.1.5-.3.5-.3.5 .2.5 .2.5 .3.5 0 .5 .3.5-.1.5-.3.5-.5.5-.4.5 .2.5 .1.5 .1.5 .2.5 .5.5 0 .5 0 .5-.1.5-.8.5 0 .5 .1.5 .2.5 .6.4 .4.5 .4.5-.4.5-.1.5-.7.5-.5.5-.3.5 .2.5 .6.5 .5.5 .5.5-.2.5-.4.5-.8.5-.8.5-.1.5 .1.5 .8.5 .8.5 .3.5 .6.5-.3.5-.7.5-.6.5-.4.5 .1.5 .4.5 .9.5 .7.5 .4.5-.5.5-.8.5-.8.5-.9.4-.2.5 .5.5 .4.5 .8.5 .4.5 0 .5-.2.5-.9.5-.6.5-.4.5 .3.5 .9.5 .7.5 .7.5 .4.5-.1.5-.7.5-1 .5-.6.5 .1.5 .4.5 .6.5 .6.5 .4.5-.2.5-.7.5-.9.5-.8.5-.3.5 .3.5 .7.5 .7.5 .9.5 .1.4-.4.5-.6.5-.5.5-.5.5 .2.5 .4.5 1 .5 .6.5 .3.5-.2.5-.6.5-1 .5-.7.5-.3.5 .4.5 .7.5 .5"/><path stroke="#3cc2f2" stroke-width="1.45" d="M303.3 328.2l.5-.1.5 0 .5 0 .5 0 .5-.1.5 .3.5-.1.5-.4.5 .2.5 .1.5 .1.5-.2.5 0 .5 0 .5 .2.5-.1.4 0 .5 0 .5-.1.5 .3.5-.3.5 0 .5 0 .5 0 .5 0 .5 .1.5-.1.5-.1.5 .4.5-.1.5-.1.5 0 .5 .1.5-.1.5-.1.5 0 .5 .1.5 .2.5 .1.5-.2.5-.1.5 0 .5-.2.5 .2.5-.2.5 .4.5-.1.5-.1.5 .4.5-.3.4-.4.5 0 .5-.2.5 .1.5 .3.5 .3.5 .3.5-.1.5 0 .5-.2.5-.4.5-.1.5-.2.5 .2.5 .4.5 .2.5 0 .5-.1.5-.3.5-.3.5-.6.5 .3.5 0 .5 .5.5 .6.5 .2.5-.3.5 .1.5-.5.5-.3.5 0 .5 0 .5 .4.5 .6.4 .2.5 .1.5-.1.5-.4.5-.9.5-.3.5-.1.5 .3.5 .5.5 .5.5 .1.5 0 .5-.6.5-.7.5-.4.5 0 .5 .5.5 .6.5 .7.5 .9.5 0 .5-.5.5-.8.5-.5.5-.7.5 .2.5 .6.5 .4.5 1 .5 0 .5-.3.5-1.1.5-.8.5-.5.4-.3.5 .6.5 .9.5 .5.5 .6.5 .2.5-.6.5-.8.5-.3.5-.5.5 .6.5 .8.5 .7.5 .6.5 0 .5-.3.5-.8.5-.8.5-.7.5-.2.5 .6.5 .4.5 .9.5 .3.5-.2.5-.6.5-1 .5-.7.5 0 .5 .6.5 1.1.5 .7.5 .4.5 .2.4-.5.5-.7.5-.7.5-.3.5 0 .5 .8.5 .5.5 .7.5 0 .5-.3.5-.8.5-1 .5-.6.5 0 .5 .4.5 .7.5 .8"/><path stroke="#c81a3c" stroke-width="1.45" d="M303.3 333.3l.5 .1.5-.3.5 .1.5 .1.5-.1.5 0 .5-.1.5-.1.5 .3.5-.1.5 .1.5-.1.5 .2.5-.3.5 .1.5 0 .4 0 .5 .1.5-.1.5 .2.5-.2.5-.1.5 .2.5 .2.5-.3.5 .2.5-.1.5 0 .5 .1.5-.2.5 .1.5-.1.5 .1.5 .1.5-.2.5 .1.5-.1.5 0 .5 0 .5-.2.5 .2.5-.1.5 .2.5 0 .5-.1.5-.1.5 0 .5-.2.5-.1.5 .6.4-.1.5 .3.5 .1.5-.1.5-.1.5-.5.5-.1.5 0 .5 .2.5 0 .5 .3.5 .5.5-.4.5 0 .5-.6.5-.2.5-.2.5 .1.5 .2.5 .4.5 .5.5-.1.5 .1.5-.1.5-.6.5-.1.5-.2.5 .2.5 .5.5 .4.5 .5.5-.1.5-.3.5-.7.4-.6.5-.2.5-.2.5 .5.5 .8.5 .4.5-.1.5-.3.5-.4.5-.8.5-.1.5 .2.5 .2.5 .7.5 .6.5 .8.5-.2.5-.6.5-.9.5-.3.5-.1.5 .4.5 .2.5 .9.5 .3.5 0 .5-.4.5-1.3.5-.6.5-.4.5 0 .5 .7.5 .5.5 1 .4 .2.5-.1.5-.5.5-1 .5-.2.5-.2.5 .9.5 .7.5 .9.5 .1.5 .2.5-.7.5-1 .5-.9.5-.1.5-.3.5 .9.5 .7.5 .4.5 .4.5-.7.5-.8.5-.7.5-.5.5 .2.5 .7.5 1 .5 .7.5 .4.5-.1.5-.5.5-.9.5-.7.5 0 .4 .5.5 .3.5 1.1.5 .4.5-.2.5-.4.5-1.3.5-.7.5-.4.5 .2.5 .6.5 .6.5 .7.5 .2.5-.3.5-.5.5-1"/><path stroke="#0a7cc8" stroke-width="1.45" d="M303.3 338.2l.5 .1.5 .1.5 .1.5 0 .5-.4.5 .2.5 .1.5 .1.5-.1.5-.2.5 .3.5-.1.5-.2.5 .1.5-.1.5 .1.4 0 .5 .1.5-.2.5 .2.5 0 .5-.2.5 .1.5 0 .5 .2.5 0 .5-.2.5 .1.5-.1.5 .2.5-.1.5 0 .5 0 .5 .1.5-.2.5 .1.5 .2.5-.1.5 0 .5-.3.5-.2.5 .1.5 .3.5 0 .5 .1.5 0 .5 0 .5-.1.5-.2.5-.2.4 .3.5 .1.5 .5.5 0 .5-.2.5 0 .5-.4.5-.1.5-.3.5 0 .5 .1.5 .2.5 .2.5 .4.5-.3.5-.2.5-.3.5-.4.5-.1.5 .4.5 .4.5 .6.5 0 .5 .5.5-.4.5-.5.5-.2.5-.5.5 .2.5 .4.5 .2.5 .4.5 .3.5-.5.4-.5.5-.5.5-.7.5 0 .5 .6.5 .5.5 .5.5 .6.5-.1.5-.6.5-.6.5-.1.5-.4.5 .5.5 .5.5 .9.5 .2.5 .1.5-.6.5-.3.5-1.1.5-.6.5 .4.5 .1.5 .8.5 .6.5 .2.5-.4.5-.4.5-.5.5-1 .5 0 .5 .4.5 1.1.4 .9.5 .5.5 .1.5-.7.5-.7.5-.6.5-.1.5 0 .5 .5.5 .6.5 .6.5 0 .5-.4.5-.7.5-.9.5-.9.5 .3.5 .4.5 .6.5 1 .5 .8.5-.5.5-.3.5-.8.5-.6.5-.4.5 .6.5 .8.5 .9.5 .5.5 .1.5-.5.5-.8.5-.8.4-.8.5 .2.5 .3.5 1.1.5 .2.5 .2.5-.1.5-.8.5-.6.5-.8.5 0 .5 .4.5 1 .5 .9.5 .4.5 .1.5-.4"/><path stroke="#f05a1e" stroke-width="1.45" d="M303.3 343.5l.5 .1.5 .1.5-.3.5 0 .5 .1.5 .1.5-.3.5 .3.5 .1.5-.2.5-.1.5 .1.5 0 .5-.1.5 .3.5-.1.4-.1.5 .1.5-.1.5 .3.5 0 .5-.4.5 .1.5-.1.5 0 .5 .1.5 .1.5-.3.5 .2.5 0 .5-.2.5 .4.5-.1.5-.2.5 .2.5 0 .5-.3.5 0 .5 0 .5 .3.5-.1.5 .1.5-.1.5 .2.5 .1.5-.4.5-.1.5 .3.5-.3.5 .5.4 0 .5 .1.5 .1.5-.3.5-.3.5-.4.5 0 .5 0 .5 .2.5 .6.5 .1.5 .1.5-.1.5-.5.5-.3.5 .1.5-.1.5 0 .5 .6.5 .6.5 0 .5 .1.5-.5.5-.2.5-.6.5-.1.5 0 .5 .3.5 .3.5 .6.5-.1.5-.3.5-.5.5-.5.4-.3.5 .1.5 .4.5 .6.5 .4.5 .3.5 .1.5-.3.5-.8.5-.3.5-.1.5 .3.5 .6.5 .5.5 .3.5 .1.5-.6.5-.8.5-.6.5-.6.5 .3.5 .2.5 .8.5 .9.5 0 .5-.5.5-.4.5-.8.5-.2.5 0 .5 .6.5 1 .5 .5.5 .5.4-.2.5-.3.5-.9.5-.8.5-.1.5 0 .5 .6.5 .9.5 .2.5 .2.5-.7.5-.9.5-.9.5-.3.5 .4.5 .4.5 .8.5 .8.5 .4.5-.1.5-.6.5-.6.5-.6.5 .4.5 .2.5 .6.5 .7.5 .5.5 .2.5-.9.5-.9.5-.8.5-.5.5-.1.4 .8.5 .6.5 .8.5 0 .5-.5.5-.5.5-.9.5-.2.5-.2.5 .7.5 1.1.5 .8.5 .5.5-.2.5-.5.5-.8.5-.6"/><path stroke="#f0b020" stroke-width="1.45" d="M303.3 348.7l.5-.1.5-.1.5 .2.5-.1.5-.1.5-.1.5 .2.5 .1.5-.1.5 .1.5 0 .5 0 .5-.2.5 .1.5 0 .5 .2.4 0 .5-.2.5 .1.5 0 .5-.2.5 .2.5 .1.5-.2.5 0 .5 0 .5 .2.5-.2.5 0 .5-.2.5 .3.5 0 .5-.1.5 .2.5-.1.5 .1.5-.3.5 .2.5-.2.5 0 .5 .2.5-.1.5 .1.5 .2.5 0 .5 .1.5-.1.5-.3.5-.2.5 .2.4-.1.5 .1.5 .1.5 .2.5-.1.5-.1.5-.3.5-.2.5 .1.5 0 .5 .1.5 .3.5 .3.5 .2.5-.3.5 .1.5-.5.5-.3.5 .3.5-.1.5 .5.5 .4.5 0 .5 0 .5-.6.5 0 .5-.8.5-.2.5 .1.5 .6.5 .3.5 .4.5 .3.5-.3.4-.6.5-.6.5-.1.5 .4.5 .2.5 .6.5 .7.5 0 .5 .2.5-.8.5-.5.5-.6.5-.2.5 .3.5 .3.5 .7.5 .4.5-.1.5-.6.5-.8.5-.4.5-.4.5 .3.5 .7.5 .6.5 1 .5 .2.5-.3.5-.6.5-.8.5-.4.5 0 .5 .5.5 .9.4 .7.5 .1.5 .1.5-1.2.5-1 .5-.5.5-.4.5 .4.5 .5.5 .8.5 .8.5-.1.5-.6.5-.5.5-.8.5 .1.5-.2.5 .7.5 1.1.5 .7.5 .3.5-.2.5-.8.5-.9.5-.3.5-.4.5 .2.5 .8.5 .5.5 .5.5-.4.5-.4.5-.9.5-.8.4-.1.5 .2.5 .6.5 .9.5 .7.5 .4.5-.4.5-.6.5-.6.5-.3.5-.1.5 .7.5 .6.5 .7.5 .4.5-.4.5-.5"/><path stroke="#8428a4" stroke-width="1.45" d="M303.3 353.6l.5 .3.5-.1.5 0 .5 .1.5-.1.5 .2.5 0 .5-.2.5 0 .5 .1.5-.1.5-.2.5 .4.5-.3.5 .2.5-.4.4 .4.5-.1.5 .1.5 .2.5-.2.5 0 .5-.1.5-.1.5-.2.5 .4.5-.2.5 .2.5-.1.5-.1.5 .1.5 .3.5-.3.5-.1.5 .2.5-.1.5-.2.5 .2.5-.2.5 0 .5 .4.5-.1.5 .2.5-.2.5 .2.5-.5.5-.1.5-.1.5 .2.5 .1.4 0 .5 .4.5-.1.5-.1.5-.2.5-.4.5-.1.5 .1.5 .4.5 .2.5 .6.5 0 .5-.1.5-.3.5-.5.5-.2.5 .1.5 .4.5 0 .5 .2.5 0 .5-.2.5-.1.5-.3.5-.6.5 0 .5 0 .5 .5.5 .8.5 .1.5-.1.5 0 .5-.3.5-.5.4-.3.5 .1.5 .3.5 .8.5 .5.5 .4.5-.3.5-.8.5-.7.5-.3.5-.4.5 .4.5 .5.5 .5.5 .5.5 0 .5-.5.5-.7.5-.8.5-.1.5 .5.5 .4.5 1.2.5 .4.5 .3.5-.3.5-.6.5-.8.5-.5.5 .2.5 .2.5 .7.5 .6.5 .3.4-.3.5-.9.5-.9.5-.5.5-.4.5 .5.5 .8.5 .5.5 .6.5 .1.5-.4.5-.6.5-.4.5-.4.5 0 .5 .9.5 .9.5 .5.5 .7.5-.7.5-.7.5-.9.5-.7.5-.2.5 .5.5 .4.5 .8.5 .5.5-.3.5-.5.5-.9.5-.8.5 0 .5 .1.4 .7.5 1 .5 .8.5 .3.5-.3.5-.6.5-.6.5-.5.5-.1.5 .5.5 .6.5 .8.5 .4.5-.5.5-.8.5-1 .5-.8"/><path stroke="#72b63a" stroke-width="1.45" d="M303.3 358.8l.5 .2.5-.1.5 .1.5 .1.5-.1.5-.1.5 0 .5 .2.5 0 .5-.4.5 .2.5 0 .5-.1.5 .3.5-.2.5 .1.4-.1.5 0 .5 0 .5 .1.5-.1.5-.2.5 0 .5 .3.5 .2.5-.2.5 0 .5-.1.5 0 .5 .3.5-.3.5 .1.5 0 .5-.1.5-.1.5 .2.5 0 .5-.1.5 0 .5 .2.5 0 .5 .2.5-.2.5-.2.5-.1.5-.2.5 0 .5 .2.5 .2.5 0 .4 .1.5-.1.5-.1.5 0 .5-.4.5 .2.5 .1.5 .5.5 .1.5 .3.5-.1.5-.3.5-.2.5-.4.5-.2.5 .2.5 .2.5 .4.5 .1.5-.1.5-.2.5-.5.5-.4.5 .1.5-.2.5 .5.5 .5.5 .3.5 .2.5-.1.5-.2.5-.7.5-.2.5 0 .4 .2.5 .7.5 .3.5 .6.5-.2.5-.8.5-.4.5-.7.5-.1.5 .1.5 .1.5 .9.5 .4.5 0 .5-.2.5-.6.5-.6.5-.3.5 .2.5 .4.5 1.1.5 .7.5 .4.5-.2.5-.7.5-.8.5-.7.5 0 .5-.2.5 1 .5 .6.5 .2.5 0 .5-.3.4-1 .5-.7.5-.5.5 .3.5 .8.5 .8.5 .5.5 .5.5-.4.5-.5.5-.6.5-.8.5-.1.5 .8.5 .9.5 .5.5 .5.5-.3.5-.3.5-.9.5-1.2.5-.4.5 .3.5 .7.5 .8.5 .5.5 .2.5-.7.5-.6.5-.8.5-.1.5 0 .5 .9.5 .9.4 .6.5 .5.5-.1.5-.7.5-.8.5-.6.5-.5.5 .4.5 .8.5 .3.5 .7.5-.2.5-.4.5-.9.5-.8.5-.5.5 .3"/><path stroke="#3cc2f2" stroke-width="1.45" d="M303.3 364.4l.5-.3.5 0 .5 0 .5-.1.5 0 .5-.1.5 .1.5 .2.5-.2.5 0 .5 .1.5-.2.5 .2.5-.1.5 .1.5-.2.4 .2.5 .1.5-.2.5 0 .5 .1.5 0 .5 0 .5-.1.5-.1.5 .3.5-.1.5-.1.5 .2.5-.1.5 0 .5-.2.5 .3.5-.3.5 .2.5-.1.5 .1.5 0 .5 .1.5-.1.5 .1.5-.2.5 .1.5-.5.5 .1.5 0 .5 .4.5 .2.5 .1.5-.1.4 0 .5-.3.5 0 .5-.2.5 .4.5-.1.5 .2.5 .2.5 .2.5-.3.5-.3.5-.3.5-.2.5-.3.5 .5.5 .1.5 .6.5 0 .5-.4.5 .3.5-.4.5-.5.5-.1.5 .1.5 .4.5 .7.5 .4.5-.1.5-.2.5-.3.5-.6.5-.4.5 .2.5 .2.4 .7.5 .4.5 0 .5-.2.5-.5.5-.6.5-.7.5 0 .5 .7.5-.1.5 1.2.5 .1.5 0 .5-.2.5-.8.5-.6.5 0 .5 0 .5 .9.5 1 .5 .3.5 .1.5-.7.5-.2.5-.9.5-.7.5-.1.5 .7.5 .6.5 .4.5 .4.5-.2.5-.7.5-.9.4-.7.5 .2.5 .4.5 .8.5 .7.5 .8.5 .1.5-.4.5-.9.5-.6.5-.1.5-.2.5 .7.5 .8.5 .5.5 .1.5-.3.5-.9.5-.9.5-.9.5 .3.5 .2.5 .7.5 .9.5 .4.5 .2.5-.7.5-.7.5-.5.5-.2.5 .3.5 .9.5 .7.5 .5.4 .5.5-.5.5-1 .5-.7.5-.5.5-.3.5 .6.5 .7.5 .5.5 .3.5-.3.5-.7.5-1 .5-.7.5 .2.5 .2.5 .8"/><path stroke="#c81a3c" stroke-width="1.45" d="M303.3 369.2l.5-.1.5 0 .5 .2.5-.1.5-.1.5 .1.5-.1.5 .1.5 .2.5-.2.5 0 .5 .1.5 .1.5-.2.5 .2.5-.5.4 .5.5-.2.5-.1.5 .1.5 .2.5-.1.5-.2.5 .2.5-.2.5 0 .5 0 .5 .2.5 0 .5-.3.5 .3.5 .1.5-.2.5 .1.5-.1.5 .2.5-.2.5-.2.5-.1.5 0 .5-.1.5 .3.5 0 .5 .2.5 0 .5 0 .5 0 .5 0 .5-.1.5-.3.4 .2.5 .4.5-.1.5 .4.5-.1.5-.4.5-.1.5-.2.5-.2.5 .3.5 .2.5-.1.5 .3.5 .2.5-.3.5-.5.5-.4.5 0 .5 .1.5 .4.5 .4.5 .4.5 .4.5-.6.5-.1.5-.5.5-.1.5-.2.5 .2.5 .4.5 .4.5 .3.5-.4.5-.1.4-.6.5-.5.5-.3.5 .2.5 .3.5 .5.5 .7.5 .2.5 0 .5-.8.5-.7.5-.1.5 0 .5 .6.5 .6.5 .7.5 .4.5-.3.5-.5.5-.7.5-1 .5 0 .5 .1.5 .8.5 .5.5 .4.5 .2.5-.9.5-.6.5-1 .5 .1.5-.1.5 1 .5 .6.4 1 .5 .3.5 0 .5-.9.5-.6.5-.8.5 .1.5 .6.5 .5.5 .7.5 .5.5 0 .5-1.1.5-.8.5-.7.5-.6.5 .6.5 .4.5 1 .5 .3.5 .1.5-.2.5-.6.5-.7.5-.4.5 .4.5 .3.5 1.1.5 .8.5 .1.5 0 .5-.6.5-.8.5-.8.4-.2.5 0 .5 .9.5 .7.5 .3.5-.1.5-.4.5-.9.5-1 .5-.4.5 .3.5 .9.5 .8.5 .9.5 0 .5-.1.5-.8"/><path stroke="#0a7cc8" stroke-width="1.45" d="M303.3 374.2l.5 .4.5-.2.5-.1.5 0 .5 .1.5 0 .5-.2.5 .1.5 .1.5 .1.5-.2.5 .3.5-.2.5 0 .5-.1.5 .2.4-.4.5 .4.5-.3.5 .2.5 .1.5-.2.5 0 .5 .1.5-.1.5 .4.5-.3.5 .1.5-.1.5-.1.5 .1.5 .2.5-.3.5 .2.5-.3.5 .1.5-.1.5 .2.5-.1.5-.1.5 .2.5 0 .5-.2.5-.1.5 .2.5 0 .5 0 .5 .2.5 .2.5 .1.4 0 .5-.2.5-.2.5-.5.5 .1.5 0 .5 .5.5 .1.5 0 .5-.1.5-.3.5-.4.5 .2.5-.2.5 .1.5 .3.5 .2.5 .7.5-.1.5-.4.5-.2.5-.1.5-.3.5 .1.5 0 .5 .5.5 .4.5 .4.5-.4.5-.7.5-.4.5-.5.5 .1.5 .1.4 .6.5 .4.5 .3.5 .1.5-.4.5-.4.5-.6.5-.1.5 .5.5 .3.5 .8.5 .6.5-.2.5-.2.5-.8.5-.6.5-.2.5 0 .5 .2.5 .6.5 .5.5 .2.5 0 .5-.8.5-1.1.5-.5.5 .1.5 .3.5 .8.5 .9.5 .7.5 .1.5-.5.5-1 .4-.2.5-.4.5 0 .5 .9.5 .9.5 .3.5 .2.5-.6.5-.7.5-1 .5-.6.5-.2.5 .4.5 1.1.5 .3.5 .5.5-.3.5-.3.5-.7.5-.7.5 0 .5 .5.5 .8.5 .8.5 .6.5 .2.5-.5.5-.8.5-.9.5-.4.5 0 .5 .7.5 .6.5 .8.4-.1.5-.4.5-.8.5-.9.5-.6.5-.1.5 .6.5 .7.5 .7.5 .7.5 .3.5-.6.5-.9.5-.4.5-.2.5 .2.5 .8"/><path stroke="#f05a1e" stroke-width="1.45" d="M303.3 379.5l.5 0 .5 .1.5 .2.5-.2.5-.1.5 0 .5 .1.5 .1.5-.2.5 .1.5-.1.5 0 .5-.1.5-.1.5 .2.5 0 .4-.1.5 0 .5 .1.5 .1.5 0 .5 0 .5-.1.5-.1.5 .1.5 .1.5-.1.5 0 .5 0 .5 .1.5-.2.5 .1.5-.1.5 .1.5-.1.5 0 .5-.2.5 .4.5 0 .5-.1.5 .3.5-.1.5 0 .5-.1.5 0 .5-.4.5 .1.5 0 .5 .3.5 .2.4 0 .5 0 .5-.2.5-.3.5-.3.5 0 .5 0 .5 .3.5 .2.5 .1.5 .2.5 .2.5-.5.5-.1.5-.2.5 0 .5-.1.5 .9.5 .1.5 .2.5-.2.5-.1.5-.4.5-.7.5-.3.5 .2.5 .4.5 .6.5 .2.5-.1.5-.3.5-.3.5-.4.5-.4.4 0 .5 .8.5 .2.5 .6.5 .2.5 0 .5-.2.5-.6.5-.5.5-.1.5 .3.5 .5.5 .5.5 .4.5-.1.5-.5.5-.8.5-.7.5-.4.5 .1.5 .5.5 .8.5 .5.5 .2.5 0 .5-.7.5-.6.5-.4.5 .1.5 .6.5 .9.5 .6.5 .4.5-.3.4-.3.5-1.1.5-.7.5-.3.5 .1.5 .9.5 .6.5 .4.5 0 .5-.6.5-.9.5-.7.5-.4.5 .4.5 .4.5 1.1.5 .9.5 .1.5-.1.5-.7.5-.8.5-.4.5 0 .5 .4.5 1 .5 .5.5 .6.5-.2.5-1.1.5-.7.5-.9.5-.5.5 .3.5 .6.4 .5.5 1 .5 .1.5-.3.5-.6.5-.9.5-.4.5 .3.5 .7.5 .6.5 1.1.5 .2.5 0 .5-.9.5-.8.5-.8.5-.1"/></g></svg>
<rect x="303.8" y="297.7" width="83.0" height="86.5" fill="none" stroke="#9a9a9a" stroke-width="1"/>
<svg x="413.3" y="297.2" width="84.0" height="87.5" viewBox="413.3 297.2 84.0 87.5" overflow="hidden"><g fill="none" stroke-linejoin="round"><path stroke="#0a7cc8" stroke-width="1.5" d="M413.3 304.5l.5-3 .5 2.3.5-3.1.5 2.7.5-2.9.5 2.9.5-3.4.5 3.1.5-3.8.5 3.5.5-3.4.5 2.5.5-3 .5 2.7.5-3.2.5 2.3.4 3.9.5 .1.5 .3.5 1.4.5-5 .5-3.2.5-3.1.5 2.9.5 2.5.5 1.8.5 2 .5 2.7.5-1.4.5-3.3.5 2.6.5 .6.5-.5.5 .1.5 .6.5-3.8.5-5.1.5-.6.5 2.9.5-.3.5 3.8.5 2 .5 2.2.5-1.5.5-1.9.5 1.4.5 .4.5-1.3.5 .5.5 .5.4-4.1.5-3.6.5 7 .5-1.4.5-1.2.5-.9.5-.3.5 .3.5 .6.5 .8.5 .8.5 .5.5 .1.5-.1.5-.4.5-.4.5-.5.5-.3.5-.1.5 .1.5 .2.5 .3"/><path stroke="#0a7cc8" stroke-opacity="0.85" stroke-width="0.85" d="M449.1 302.3l.5 .1.5 0 .5 0 .5 0 .5 0 .5 0 .5 0 .5 0 .5 0 .5 0 .5 0 .5 0 .4 0 .5 0 .5 0 .5 0 .5 0 .5 0 .5 0 .5 0 .5 0 .5 0 .5 0 .5 0 .5 0 .5 0 .5 0 .5 0 .5 0 .5 0 .5 0 .5 0 .5 0 .5 0 .5 0 .5 0 .5 0 .5 0 .5 0 .5 0 .5 0 .5 0 .5 0 .5 0 .5 0 .5 0 .4 0 .5 0 .5 0 .5 0 .5 0 .5 0 .5 0 .5 0 .5 0 .5 0 .5 0 .5 0 .5 0 .5 0 .5 0 .5 0 .5 0 .5 0 .5 0 .5 0 .5 0 .5 0 .5 0 .5 0 .5 0 .5 0 .5 0 .5 0 .5 0 .5 0 .5 0 .5 0 .5 0 .5 0 .4 0 .5 0 .5 0 .5 0 .5 0 .5 0 .5 0 .5 0 .5 0 .5 0 .5 0 .5 0 .5 0 .5 0 .5 0 .5 0 .5 0"/><path stroke="#f05a1e" stroke-width="1.5" d="M413.3 309.8l.5-4 .5 3.2.5-3.2.5 3.4.5-3.8.5 3.3.5-3.7.5 3.2.5-4 .5 3.5.5-3.7.5 3.3.5-3.7.5 2.7.5-3.3.5 3.5.4 3 .5 1.1.5-1.5.5-.1.5-4.2.5-2.6.5 .8.5 .5.5 2.4.5 3.5.5 1.3.5 1.5.5-4.8.5 .1.5 1.3.5 .4.5 0 .5-.4.5-1.5.5-2.9.5-2.2.5 .2.5 3.2.5 1.3.5 3.5.5 .5.5-.3.5-1.4.5-1.1.5 .3.5 .4.5 1.3.5-1.3.5 1.3.4-4.4.5-3.4.5 6.4.5-1.4.5-1.1.5-.6.5 0 .5 .4.5 .8.5 .8.5 .7.5 .4.5 0 .5-.3.5-.4.5-.5.5-.4.5-.2.5 0 .5 .1.5 .3.5 .3"/><path stroke="#f05a1e" stroke-opacity="0.85" stroke-width="0.85" d="M449.1 307.6l48.2-.1"/><path stroke="#f0b020" stroke-width="1.5" d="M413.3 314.5l.5-3.5.5 3.2.5-3.2.5 3 .5-3.5.5 3.1.5-3.4.5 2.9.5-3.5.5 2.7.5-2.7.5 2.5.5-3.1.5 2.9.5-3.6.5 2.5.4 3.1.5 1 .5 .1.5-2.2.5-3.7.5-5.3.5 4.1.5 .9.5 1.9.5 4 .5 1.2.5 .1.5-.8.5-1 .5-.6.5-.6.5 1.5.5-.5.5-.6.5-5.1.5-2.8.5 1.8.5 3.7.5 2.5.5 1.5.5 3.5.5-2.8.5-1.7.5-1.9.5 1.7.5-.2.5 .5.5-.3.5-1.7.4-2.1.5-4.4.5 7.6.5-1.4.5-.9.5-.4.5 .3.5 .7.5 .8.5 .9.5 .5.5 .2.5-.1.5-.4.5-.5.5-.5.5-.3.5-.2.5 .1.5 .2.5 .3.5 .3"/><path stroke="#f0b020" stroke-opacity="0.85" stroke-width="0.85" d="M449.1 312.8l.5-.1.5 0 .5 0 .5 0 .5 0 .5 0 .5 0 .5 0 .5 0 .5 0 .5 0 .5 0 .4 0 .5 0 .5 0 .5 0 .5 0 .5 0 .5 0 .5 0 .5 0 .5 0 .5 0 .5 0 .5 0 .5 0 .5 0 .5 0 .5 0 .5 0 .5 0 .5 0 .5 0 .5 0 .5 0 .5 0 .5 0 .5 0 .5 0 .5 0 .5 0 .5 0 .5 0 .5 0 .5 0 .5 0 .4 0 .5 0 .5 0 .5 0 .5 0 .5 0 .5 0 .5 0 .5 0 .5 0 .5 0 .5 0 .5 0 .5 0 .5 0 .5 0 .5 0 .5 0 .5 0 .5 0 .5 0 .5 0 .5 0 .5 0 .5 0 .5 0 .5 0 .5 0 .5 0 .5 0 .5 0 .5 0 .5 0 .5 0 .4 0 .5 0 .5 0 .5 0 .5 0 .5 0 .5 0 .5 0 .5 0 .5 0 .5 0 .5 0 .5 0 .5 0 .5 0 .5 0 .5 0"/><path stroke="#8428a4" stroke-width="1.5" d="M413.3 320.2l.5-3.8.5 3.6.5-4.4.5 3.4.5-3.4.5 3.1.5-3.1.5 2.4.5-2.9.5 2.7.5-3.5.5 2.8.5-3 .5 3.4.5-4.1.5 3 .4 2 .5 2 .5-3.4.5-.4.5-4.3.5-.9.5 1.4.5 2.7.5 .3.5 7 .5-1.6.5 .7.5-5 .5 3.4.5-2.9.5 3.7.5-2.8.5 2 .5-6.5.5 .3.5-5.3.5 6.6.5-.9.5 6.4.5-1.9.5 6.3.5-6.8.5 .2.5-2.7.5 3.4.5-2.3.5 3.7.5-3.1.5 0 .4-4.3.5 .4.5 3.8.5-1.2.5-.7.5-.1.5 .5.5 .9.5 .9.5 .7.5 .5.5 0 .5-.3.5-.5.5-.5.5-.4.5-.3.5 0 .5 .1.5 .3.5 .3.5 .3"/><path stroke="#8428a4" stroke-opacity="0.85" stroke-width="0.85" d="M449.1 318.1l.5-.3.5 0 .5 0 .5 0 .5 0 .5 0 .5 0 .5 0 .5 0 .5 0 .5 0 .5 0 .4 0 .5 0 .5 0 .5 0 .5 0 .5 0 .5 0 .5 0 .5 0 .5 0 .5 0 .5 0 .5 0 .5 0 .5 0 .5 0 .5 0 .5 0 .5 0 .5 0 .5 0 .5 0 .5 0 .5 0 .5 0 .5 0 .5 0 .5 0 .5 0 .5 0 .5 0 .5 0 .5 0 .5 0 .4 0 .5 0 .5 0 .5 0 .5 0 .5 0 .5 0 .5 0 .5 0 .5 0 .5 0 .5 0 .5 0 .5 0 .5 0 .5 0 .5 0 .5 0 .5 0 .5 0 .5 0 .5 0 .5 0 .5 0 .5 0 .5 0 .5 0 .5 0 .5 0 .5 0 .5 0 .5 0 .5 0 .5 0 .4 0 .5 0 .5 0 .5 0 .5 0 .5 0 .5 0 .5 0 .5 0 .5 0 .5 0 .5 0 .5 0 .5 0 .5 0 .5 0 .5 0"/><path stroke="#72b63a" stroke-width="1.5" d="M413.3 324.8l.5-3.4.5 3.5.5-3.7.5 2.4.5-2.1.5 2.3.5-3.6.5 2.9.5-3.3.5 3.6.5-3.9.5 3 .5-3.4.5 2.4.5-2.5.5 2.9.4 3.6.5-.9.5-.6.5-3.6.5-3 .5-1.7.5 4.3.5 2.5.5 3.2.5 2.7.5-2.6.5 .1.5-2.8.5 0 .5 1.2.5 .7.5-.5.5-.2.5-3.4.5-3.9.5 1.6.5 2.2.5 1.1.5 2.6.5 3.1.5-1.4.5 .5.5-4.2.5-.2.5 .5.5 0 .5 .8.5-.2.5-3.7.4-.9.5-2.2.5 5.5.5-1.1.5-.4.5 .3.5 .7.5 .9.5 .9.5 .7.5 .2.5-.1.5-.4.5-.6.5-.5.5-.4.5-.1.5 0 .5 .3.5 .3.5 .3.5 .2"/><path stroke="#72b63a" stroke-opacity="0.85" stroke-width="0.85" d="M449.1 323.3l.5-.3.5 0 .5 0 .5 0 .5 0 .5 0 .5 0 .5 0 .5 0 .5 0 .5 0 .5 0 .4 0 .5 0 .5 0 .5 0 .5 0 .5 0 .5 0 .5 0 .5 0 .5 0 .5 0 .5 0 .5 0 .5 0 .5 0 .5 0 .5 0 .5 0 .5 0 .5 0 .5 0 .5 0 .5 0 .5 0 .5 0 .5 0 .5 0 .5 0 .5 0 .5 0 .5 0 .5 0 .5 0 .5 0 .4 0 .5 0 .5 0 .5 0 .5 0 .5 0 .5 0 .5 0 .5 0 .5 0 .5 0 .5 0 .5 0 .5 0 .5 0 .5 0 .5 0 .5 0 .5 0 .5 0 .5 0 .5 0 .5 0 .5 0 .5 0 .5 0 .5 0 .5 0 .5 0 .5 0 .5 0 .5 0 .5 0 .5 0 .4 0 .5 0 .5 0 .5 0 .5 0 .5 0 .5 0 .5 0 .5 0 .5 0 .5 0 .5 0 .5 0 .5 0 .5 0 .5 0 .5 0"/><path stroke="#3cc2f2" stroke-width="1.5" d="M413.3 330.1l.5-4 .5 3.5.5-3 .5 3.1.5-3.4.5 2.4.5-3.5.5 3.8.5-3.7.5 3.3.5-4.1.5 3.3.5-3.2.5 2.9.5-2.9.5 1.8.4 2.9.5-.9.5-1.9.5-2.2.5-2.4.5-.2.5 4.5.5 1.9.5 4.3.5 1.7.5-1.4.5-3.4.5-1.7.5 .1.5 2.1.5-.7.5-.4.5-1.1.5-3.2.5-1.6.5 2.1.5 2.6.5-.2.5 4.4.5 .6.5-.2.5-2.2.5-2.3.5 .4.5 .6.5 .7.5-1.3.5 .3.5-4.7.4-2.1.5 3.3.5 1.8.5-.8.5-.1.5 .5.5 .9.5 1 .5 .9.5 .4.5 .1.5-.3.5-.5.5-.6.5-.5.5-.3.5 0 .5 .1.5 .4.5 .3.5 .3.5 .2"/><path stroke="#3cc2f2" stroke-opacity="0.85" stroke-width="0.85" d="M449.1 328.6l.5-.5.5 0 .5 0 .5 0 .5 0 .5 0 .5 0 .5 0 .5 0 .5 0 .5 0 .5 0 .4 0 .5 0 .5 0 .5 0 .5 0 .5 0 .5 0 .5 0 .5 0 .5 0 .5 0 .5 0 .5 0 .5 0 .5 0 .5 0 .5 0 .5 0 .5 0 .5 0 .5 0 .5 0 .5 0 .5 0 .5 0 .5 0 .5 0 .5 0 .5 0 .5 0 .5 0 .5 0 .5 0 .5 0 .4 0 .5 0 .5 0 .5 0 .5 0 .5 0 .5 0 .5 0 .5 0 .5 0 .5 0 .5 0 .5 0 .5 0 .5 0 .5 0 .5 0 .5 0 .5 0 .5 0 .5 0 .5 0 .5 0 .5 0 .5 0 .5 0 .5 0 .5 0 .5 0 .5 0 .5 0 .5 0 .5 0 .5 0 .4 0 .5 0 .5 0 .5 0 .5 0 .5 0 .5 0 .5 0 .5 0 .5 0 .5 0 .5 0 .5 0 .5 0 .5 0 .5 0 .5 0"/><path stroke="#c81a3c" stroke-width="1.5" d="M413.3 334.9l.5-3.4.5 3.1.5-2.8.5 2.5.5-3.2.5 3.3.5-3.8.5 2.8.5-2.9.5 2.8.5-3.3.5 3.6.5-3.6.5 2.4.5-4.1.5 4.1.4 1.5.5 .7.5-3.3.5-2.7.5-1.6.5 3.8.5-.7.5 4.7.5 2.5.5 1.5.5-1.7.5-4.1.5-.3.5 0 .5-.2.5 .5.5 .5.5-1 .5-4.5.5-.7.5 2.6.5 1.7.5 3.5.5 2.5.5 1.8.5-2.7.5-2.7.5-1.4.5 .6.5 .5.5-1 .5 1.3.5-3.4.5-1.7.4-1.6.5 3.2.5 .7.5-.5.5 .3.5 .7.5 1.1.5 .9.5 .7.5 .3.5-.1.5-.5.5-.6.5-.5.5-.4.5-.2.5 0 .5 .3.5 .3.5 .4.5 .2.5 .1"/><path stroke="#c81a3c" stroke-opacity="0.85" stroke-width="0.85" d="M449.1 333.7l.5-.5.5 0 .5 0 .5 0 .5 0 .5 0 .5 0 .5 0 .5 0 .5 0 .5 0 .5 0 .4 0 .5 0 .5 0 .5 0 .5 0 .5 0 .5 0 .5 0 .5 0 .5 0 .5 0 .5 0 .5 0 .5 0 .5 0 .5 0 .5 0 .5 0 .5 0 .5 0 .5 0 .5 0 .5 0 .5 0 .5 0 .5 0 .5 0 .5 0 .5 0 .5 0 .5 0 .5 0 .5 0 .5 0 .4 0 .5 0 .5 0 .5 0 .5 0 .5 0 .5 0 .5 0 .5 0 .5 0 .5 0 .5 0 .5 0 .5 0 .5 0 .5 0 .5 0 .5 0 .5 0 .5 0 .5 0 .5 0 .5 0 .5 0 .5 0 .5 0 .5 0 .5 0 .5 0 .5 0 .5 0 .5 0 .5 0 .5 0 .4 0 .5 0 .5 0 .5 0 .5 0 .5 0 .5 0 .5 0 .5 0 .5 0 .5 0 .5 0 .5 0 .5 0 .5 0 .5 0 .5 0"/><path stroke="#0a7cc8" stroke-width="1.5" d="M413.3 340.2l.5-3.4.5 3.3.5-3.4.5 2.5.5-3.2.5 3.5.5-3.5.5 3.4.5-4.4.5 3.9.5-3.7.5 2.9.5-3.8.5 3 .5-3.6.5 3.3.4 .9.5 1.6.5-5.2.5-1.2.5 .2.5 1 .5 3.9.5 1.9.5 3.3.5 .2.5-3.5.5-3.2.5 1.7.5-.9.5 1 .5-.4.5 2.7.5-6.9.5-1.4.5 1 .5 .8.5 4.3.5 4.2.5 3 .5-2.7.5-2.4.5-3.3.5 1 .5-1.1.5-1.2.5 2.3.5 .6.5-3.2.5-3.1.4 2.3.5-.1.5 .8.5-.1.5 .5.5 1 .5 1.1.5 .9.5 .5.5 .1.5-.3.5-.6.5-.6.5-.5.5-.4.5 0 .5 .2.5 .3.5 .4.5 .3.5 .2.5 0"/><path stroke="#0a7cc8" stroke-opacity="0.85" stroke-width="0.85" d="M449.1 338.9l.5-.5.5 0 .5 0 .5 0 .5 0 .5 0 .5 0 .5 0 .5 0 .5 0 .5 0 .5 0 .4 0 .5 0 .5 0 .5 0 .5 0 .5 0 .5 0 .5 0 .5 0 .5 0 .5 0 .5 0 .5 0 .5 0 .5 0 .5 0 .5 0 .5 0 .5 0 .5 0 .5 0 .5 0 .5 0 .5 0 .5 0 .5 0 .5 0 .5 0 .5 0 .5 0 .5 0 .5 0 .5 0 .5 0 .4 0 .5 0 .5 0 .5 0 .5 0 .5 0 .5 0 .5 0 .5 0 .5 0 .5 0 .5 0 .5 0 .5 0 .5 0 .5 0 .5 0 .5 0 .5 0 .5 0 .5 0 .5 0 .5 0 .5 0 .5 0 .5 0 .5 0 .5 0 .5 0 .5 0 .5 0 .5 0 .5 0 .5 0 .4 0 .5 0 .5 0 .5 0 .5 0 .5 0 .5 0 .5 0 .5 0 .5 0 .5 0 .5 0 .5 0 .5 0 .5 0 .5 0 .5 0"/><path stroke="#f05a1e" stroke-width="1.5" d="M413.3 345.5l.5-3.4.5 2.9.5-3.3.5 3.6.5-3.3.5 2.2.5-3.6.5 3.6.5-4.1.5 3.4.5-3.5.5 3.5.5-4.3.5 3.8.5-3.1.5 2.2.4 2.5.5-1.3.5-4.3.5-1.8.5 3.4.5 1.4.5 1.3.5 2.9.5 1.9.5 .3.5-4.4.5-1.4.5-.6.5 1.4.5-1.7.5 2.2.5-2.1.5 .2.5-4.7.5 2.7.5 1.1.5 3.2.5 2.4.5 3.2.5-1.3.5-4.6.5-2.1.5 .4.5 .3.5 .1.5-.7.5 .1.5-2.8.5-1.9.4 2.2.5 2.8.5-1.6.5 .2.5 .8.5 1.1.5 1.1.5 .8.5 .3.5-.1.5-.5.5-.6.5-.7.5-.4.5-.2.5 0 .5 .3.5 .4.5 .4.5 .2.5 .2.5-.1"/><path stroke="#f05a1e" stroke-opacity="0.85" stroke-width="0.85" d="M449.1 344l.5-.5.5 0 .5 0 .5 0 .5 0 .5 0 .5 0 .5 0 .5 0 .5 0 .5 0 .5 0 .4 0 .5 0 .5 0 .5 0 .5 0 .5 0 .5 0 .5 0 .5 0 .5 0 .5 0 .5 0 .5 0 .5 0 .5 0 .5 0 .5 0 .5 0 .5 0 .5 0 .5 0 .5 0 .5 0 .5 0 .5 0 .5 0 .5 0 .5 0 .5 0 .5 0 .5 0 .5 0 .5 0 .5 0 .4 0 .5 0 .5 0 .5 0 .5 0 .5 0 .5 0 .5 0 .5 0 .5 0 .5 0 .5 0 .5 0 .5 0 .5 0 .5 0 .5 0 .5 0 .5 0 .5 0 .5 0 .5 0 .5 0 .5 0 .5 0 .5 0 .5 0 .5 0 .5 0 .5 0 .5 0 .5 0 .5 0 .5 0 .4 0 .5 0 .5 0 .5 0 .5 0 .5 0 .5 0 .5 0 .5 0 .5 0 .5 0 .5 0 .5 0 .5 0 .5 0 .5 0 .5 0"/><path stroke="#f0b020" stroke-width="1.5" d="M413.3 350.9l.5-3.9.5 2.8.5-2.6.5 2.5.5-3.7.5 3.2.5-3.1.5 2.7.5-3.1.5 3 .5-3.2.5 2.8.5-4.3.5 4.5.5-4 .5 2.6.4 0 .5 .4.5-4 .5-.4.5 2.8.5 1.7.5 3 .5 1.9.5 3.3.5-4.4.5-1.4.5-2.2.5 1.3.5-2.5.5 1.7.5-.2.5-1.6.5-.6.5-2.3.5 1.3.5 4.4.5 2.6.5 .3.5 3.6.5-2.7.5-5.8.5-1.8.5 1.9.5-.9.5 1.3.5-.6.5-1.1.5-.7.5-2.6.4 2.3.5 3.9.5-3.2.5 .6.5 1 .5 1.2.5 1 .5 .6.5 .1.5-.3.5-.6.5-.7.5-.6.5-.3.5-.1.5 .2.5 .3.5 .4.5 .4.5 .2.5 0 .5-.1"/><path stroke="#f0b020" stroke-opacity="0.85" stroke-width="0.85" d="M449.1 349.1l.5-.4.5 0 .5 0 .5 0 .5 0 .5 0 .5 0 .5 0 .5 0 .5 0 .5 0 .5 0 .4 0 .5 0 .5 0 .5 0 .5 0 .5 0 .5 0 .5 0 .5 0 .5 0 .5 0 .5 0 .5 0 .5 0 .5 0 .5 0 .5 0 .5 0 .5 0 .5 0 .5 0 .5 0 .5 0 .5 0 .5 0 .5 0 .5 0 .5 0 .5 0 .5 0 .5 0 .5 0 .5 0 .5 0 .4 0 .5 0 .5 0 .5 0 .5 0 .5 0 .5 0 .5 0 .5 0 .5 0 .5 0 .5 0 .5 0 .5 0 .5 0 .5 0 .5 0 .5 0 .5 0 .5 0 .5 0 .5 0 .5 0 .5 0 .5 0 .5 0 .5 0 .5 0 .5 0 .5 0 .5 0 .5 0 .5 0 .5 0 .4 0 .5 0 .5 0 .5 0 .5 0 .5 0 .5 0 .5 0 .5 0 .5 0 .5 0 .5 0 .5 0 .5 0 .5 0 .5 0 .5 0"/><path stroke="#8428a4" stroke-width="1.5" d="M413.3 356.4l.5-3.8.5 3.4.5-3.6.5 3.1.5-3.7.5 2 .5-2 .5 2.5.5-3.4.5 2.6.5-3.6.5 3.4.5-2.8.5 2.6.5-3.3.5 2.9.4 2 .5-1.5.5-4.2.5 2 .5 1.4.5 .2.5 4.3.5 1.5.5 .5.5-2.5.5-4.5.5-.3.5 .9.5 .4.5-1.8.5 3.1.5-1.6.5-3.6.5 1.5.5 3.5.5 1.1.5 2.4.5 1.3.5 .1.5-2.4.5-5.4.5 1.2.5 .4.5 .3.5-1.2.5 .7.5 .9.5-4.8.5 1 .4 3 .5 2.9.5-4.5.5 .9.5 1.2.5 1.2.5 .9.5 .3.5-.1.5-.5.5-.7.5-.7.5-.5.5-.2.5 0 .5 .3.5 .4.5 .4.5 .4.5 .1.5 0 .5-.2"/><path stroke="#8428a4" stroke-opacity="0.85" stroke-width="0.85" d="M449.1 354.2l.5-.4.5 0 .5 0 .5 0 .5 0 .5 0 .5 0 .5 0 .5 0 .5 0 .5 0 .5 0 .4 0 .5 0 .5 0 .5 0 .5 0 .5 0 .5 0 .5 0 .5 0 .5 0 .5 0 .5 0 .5 0 .5 0 .5 0 .5 0 .5 0 .5 0 .5 0 .5 0 .5 0 .5 0 .5 0 .5 0 .5 0 .5 0 .5 0 .5 0 .5 0 .5 0 .5 0 .5 0 .5 0 .5 0 .4 0 .5 0 .5 0 .5 0 .5 0 .5 0 .5 0 .5 0 .5 0 .5 0 .5 0 .5 0 .5 0 .5 0 .5 0 .5 0 .5 0 .5 0 .5 0 .5 0 .5 0 .5 0 .5 0 .5 0 .5 0 .5 0 .5 0 .5 0 .5 0 .5 0 .5 0 .5 0 .5 0 .5 0 .4 0 .5 0 .5 0 .5 0 .5 0 .5 0 .5 0 .5 0 .5 0 .5 0 .5 0 .5 0 .5 0 .5 0 .5 0 .5 0 .5 0"/><path stroke="#72b63a" stroke-width="1.5" d="M413.3 360.8l.5-3.4.5 3.9.5-4.2.5 2.9.5-3.7.5 3.7.5-3.3.5 2.8.5-3.8.5 3.3.5-3.5.5 2.7.5-3.4.5 3.4.5-3.5.5 3.2.4 1.2.5-3 .5-.6.5 0 .5 4.3.5 1.1.5 1.6.5 2.6.5-1.9.5-2.9.5-3.4.5-.4.5 .6.5 1.9.5 .2.5-.8.5-3.3.5-3.3.5 4.4.5 2 .5 3.8.5 .3.5 4.1.5-2.7.5-3.2.5-3.6.5 1.7.5-2.2.5 1.2.5 .1.5 1.2.5-.6.5-3.1.5-.2.4 3.7.5 3.8.5-6.1.5 1.2.5 1.2.5 1.1.5 .7.5 .2.5-.4.5-.6.5-.8.5-.6.5-.4.5-.1.5 .2.5 .3.5 .5.5 .4.5 .2.5 .1.5-.1.5-.3"/><path stroke="#72b63a" stroke-opacity="0.85" stroke-width="0.85" d="M449.1 359.2l.5-.3.5 0 .5 0 .5 0 .5 0 .5 0 .5 0 .5 0 .5 0 .5 0 .5 0 .5 0 .4 0 .5 0 .5 0 .5 0 .5 0 .5 0 .5 0 .5 0 .5 0 .5 0 .5 0 .5 0 .5 0 .5 0 .5 0 .5 0 .5 0 .5 0 .5 0 .5 0 .5 0 .5 0 .5 0 .5 0 .5 0 .5 0 .5 0 .5 0 .5 0 .5 0 .5 0 .5 0 .5 0 .5 0 .4 0 .5 0 .5 0 .5 0 .5 0 .5 0 .5 0 .5 0 .5 0 .5 0 .5 0 .5 0 .5 0 .5 0 .5 0 .5 0 .5 0 .5 0 .5 0 .5 0 .5 0 .5 0 .5 0 .5 0 .5 0 .5 0 .5 0 .5 0 .5 0 .5 0 .5 0 .5 0 .5 0 .5 0 .4 0 .5 0 .5 0 .5 0 .5 0 .5 0 .5 0 .5 0 .5 0 .5 0 .5 0 .5 0 .5 0 .5 0 .5 0 .5 0 .5 0"/><path stroke="#3cc2f2" stroke-width="1.5" d="M413.3 365.9l.5-3.1.5 2.7.5-3.4.5 3.4.5-3.7.5 3 .5-3.8.5 3.4.5-3.3.5 3 .5-3.1.5 3.2.5-3.8.5 3.2.5-3.7.5 2.8.4-1 .5-.9.5-2.2.5 4.4.5 .6.5 3.8.5 1 .5 2.9.5-4.2.5-1.7.5-3.8.5 0 .5 2.8.5-1.1.5 .3.5-.6.5-1.7.5-2 .5 2.3.5 3.1.5 1.5.5 3 .5 .8.5-2.6.5-4 .5-1.5.5 .2.5-.7.5 1.3.5-.3.5-1.1.5-.2.5-1.8.5 3.2.4 2.4.5 1.2.5-4.1.5 1.3.5 1.3.5 .9.5 .5.5-.1.5-.6.5-.7.5-.8.5-.6.5-.2.5 0 .5 .3.5 .5.5 .4.5 .4.5 .1.5 0 .5-.2.5-.2"/><path stroke="#3cc2f2" stroke-opacity="0.85" stroke-width="0.85" d="M449.1 364.3l.5-.2.5 0 .5 0 .5 0 .5 0 .5 0 .5 0 .5 0 .5 0 .5 0 .5 0 .5 0 .4 0 .5 0 .5 0 .5 0 .5 0 .5 0 .5 0 .5 0 .5 0 .5 0 .5 0 .5 0 .5 0 .5 0 .5 0 .5 0 .5 0 .5 0 .5 0 .5 0 .5 0 .5 0 .5 0 .5 0 .5 0 .5 0 .5 0 .5 0 .5 0 .5 0 .5 0 .5 0 .5 0 .5 0 .4 0 .5 0 .5 0 .5 0 .5 0 .5 0 .5 0 .5 0 .5 0 .5 0 .5 0 .5 0 .5 0 .5 0 .5 0 .5 0 .5 0 .5 0 .5 0 .5 0 .5 0 .5 0 .5 0 .5 0 .5 0 .5 0 .5 0 .5 0 .5 0 .5 0 .5 0 .5 0 .5 0 .5 0 .4 0 .5 0 .5 0 .5 0 .5 0 .5 0 .5 0 .5 0 .5 0 .5 0 .5 0 .5 0 .5 0 .5 0 .5 0 .5 0 .5 0"/><path stroke="#c81a3c" stroke-width="1.5" d="M413.3 371.5l.5-3.5.5 2.7.5-2.9.5 2.6.5-3.5.5 3.1.5-4 .5 3.5.5-3 .5 2.5.5-3.4.5 3.2.5-2.7.5 2.7.5-3.9.5 2.8.4-1.2.5 .5.5-.4.5 1.6.5 3.7.5 .7.5 1.6.5-.3.5-.8.5-5.8.5-.3.5-.3.5 1 .5-.1.5 1.8.5-1.7.5-.7.5-.5.5 2.6.5 1.3.5 1.9.5 1.9.5 1.6.5-5.4.5-3.7.5 .3.5 .3.5 .6.5-2.2.5 3.1.5-1.7.5-1.4.5-.3.5 3.4.4 3.3.5 2.7.5-7.1.5 1.4.5 1.2.5 .7.5 .2.5-.3.5-.7.5-.9.5-.7.5-.4.5-.1.5 .1.5 .5.5 .4.5 .5.5 .2.5 .1.5-.1.5-.2.5-.3"/><path stroke="#c81a3c" stroke-opacity="0.85" stroke-width="0.85" d="M449.1 369.3l.5-.1.5 0 .5 0 .5 0 .5 0 .5 0 .5 0 .5 0 .5 0 .5 0 .5 0 .5 0 .4 0 .5 0 .5 0 .5 0 .5 0 .5 0 .5 0 .5 0 .5 0 .5 0 .5 0 .5 0 .5 0 .5 0 .5 0 .5 0 .5 0 .5 0 .5 0 .5 0 .5 0 .5 0 .5 0 .5 0 .5 0 .5 0 .5 0 .5 0 .5 0 .5 0 .5 0 .5 0 .5 0 .5 0 .4 0 .5 0 .5 0 .5 0 .5 0 .5 0 .5 0 .5 0 .5 0 .5 0 .5 0 .5 0 .5 0 .5 0 .5 0 .5 0 .5 0 .5 0 .5 0 .5 0 .5 0 .5 0 .5 0 .5 0 .5 0 .5 0 .5 0 .5 0 .5 0 .5 0 .5 0 .5 0 .5 0 .5 0 .4 0 .5 0 .5 0 .5 0 .5 0 .5 0 .5 0 .5 0 .5 0 .5 0 .5 0 .5 0 .5 0 .5 0 .5 0 .5 0 .5 0"/><path stroke="#0a7cc8" stroke-width="1.5" d="M413.3 376.3l.5-3 .5 2.8.5-4 .5 4 .5-4 .5 3.4.5-3.6.5 2.6.5-3.2.5 2.6.5-2.8.5 2.3.5-2.4.5 2.3.5-3.1.5 2.8.4-1.6.5-.4.5 .3.5 2.7.5 3.6.5 .9.5 2.2.5-3.3.5-2.1.5-2.8.5-.5.5-.2.5 .7.5-.9.5 2.7.5 .7.5-5.6.5 3.6.5 3.2.5 .3.5 2.7.5 1.7.5-3.2.5-1.7.5-4.2.5-2.3.5 2.9.5-.2.5 1.2.5 1.8.5-2.4.5 .7.5-1.5.5 3.4.4 3.5.5 .7.5-6.2.5 1.5.5 1 .5 .5.5-.1.5-.5.5-.9.5-.8.5-.6.5-.3.5 0 .5 .3.5 .5.5 .5.5 .4.5 .2.5-.1.5-.1.5-.3.5-.3"/><path stroke="#0a7cc8" stroke-opacity="0.85" stroke-width="0.85" d="M449.1 374.3l.5 .1.5 0 .5 0 .5 0 .5 0 .5 0 .5 0 .5 0 .5 0 .5 0 .5 0 .5 0 .4 0 .5 0 .5 0 .5 0 .5 0 .5 0 .5 0 .5 0 .5 0 .5 0 .5 0 .5 0 .5 0 .5 0 .5 0 .5 0 .5 0 .5 0 .5 0 .5 0 .5 0 .5 0 .5 0 .5 0 .5 0 .5 0 .5 0 .5 0 .5 0 .5 0 .5 0 .5 0 .5 0 .5 0 .4 0 .5 0 .5 0 .5 0 .5 0 .5 0 .5 0 .5 0 .5 0 .5 0 .5 0 .5 0 .5 0 .5 0 .5 0 .5 0 .5 0 .5 0 .5 0 .5 0 .5 0 .5 0 .5 0 .5 0 .5 0 .5 0 .5 0 .5 0 .5 0 .5 0 .5 0 .5 0 .5 0 .5 0 .4 0 .5 0 .5 0 .5 0 .5 0 .5 0 .5 0 .5 0 .5 0 .5 0 .5 0 .5 0 .5 0 .5 0 .5 0 .5 0 .5 0"/><path stroke="#f05a1e" stroke-width="1.5" d="M413.3 381.4l.5-3.1.5 2.7.5-2.8.5 2.6.5-4 .5 3.7.5-4.3.5 4.3.5-3.7.5 2.4.5-2.8.5 2.5.5-3 .5 2.4.5-2.9.5 2.4.4-.5.5-.8.5 1.3.5 5 .5-1.3.5 3.4.5 1 .5-3.6.5-3.6.5-2.2.5-.1.5-.4.5 1.5.5 1.3.5 2.7.5-1.8.5-3.9.5 3 .5 1.8.5 3.2.5 .8.5 1.3.5-3.3.5-4.7.5-.7.5-1.6.5 1.2.5 1.8.5 .2.5 1.6.5-1.6.5-2.2.5 2.7.5 .4.4 2.9.5 2.2.5-5.5.5 1.3.5 .9.5 .2.5-.4.5-.7.5-.9.5-.8.5-.5.5-.2.5 .2.5 .5.5 .5.5 .5.5 .3.5 0 .5-.1.5-.2.5-.3.5-.3"/><path stroke="#f05a1e" stroke-opacity="0.85" stroke-width="0.85" d="M449.1 379.3l.5 .2.5 0 .5 0 .5 0 .5 0 .5 0 .5 0 .5 0 .5 0 .5 0 .5 0 .5 0 .4 0 .5 0 .5 0 .5 0 .5 0 .5 0 .5 0 .5 0 .5 0 .5 0 .5 0 .5 0 .5 0 .5 0 .5 0 .5 0 .5 0 .5 0 .5 0 .5 0 .5 0 .5 0 .5 0 .5 0 .5 0 .5 0 .5 0 .5 0 .5 0 .5 0 .5 0 .5 0 .5 0 .5 0 .4 0 .5 0 .5 0 .5 0 .5 0 .5 0 .5 0 .5 0 .5 0 .5 0 .5 0 .5 0 .5 0 .5 0 .5 0 .5 0 .5 0 .5 0 .5 0 .5 0 .5 0 .5 0 .5 0 .5 0 .5 0 .5 0 .5 0 .5 0 .5 0 .5 0 .5 0 .5 0 .5 0 .5 0 .4 0 .5 0 .5 0 .5 0 .5 0 .5 0 .5 0 .5 0 .5 0 .5 0 .5 0 .5 0 .5 0 .5 0 .5 0 .5 0 .5 0"/></g></svg>
<rect x="413.8" y="297.7" width="83.0" height="86.5" fill="none" stroke="#9a9a9a" stroke-width="1"/>
<text x="83.4" y="395.6" font-size="9.2" text-anchor="middle" fill="#2a2a2a">0</text>
<text x="100.2" y="395.6" font-size="9.2" text-anchor="middle" fill="#2a2a2a">1</text>
<text x="117.0" y="395.6" font-size="9.2" text-anchor="middle" fill="#2a2a2a">2</text>
<text x="133.8" y="395.6" font-size="9.2" text-anchor="middle" fill="#2a2a2a">3</text>
<text x="150.6" y="395.6" font-size="9.2" text-anchor="middle" fill="#2a2a2a">4</text>
<text x="167.4" y="395.6" font-size="9.2" text-anchor="middle" fill="#2a2a2a">5</text>
<text x="125.3" y="408.6" font-size="10.2" text-anchor="middle" fill="#262626" textLength="37.6" lengthAdjust="spacingAndGlyphs">Time (s)</text>
<text x="193.5" y="395.6" font-size="9.2" text-anchor="middle" fill="#2a2a2a">0</text>
<text x="210.3" y="395.6" font-size="9.2" text-anchor="middle" fill="#2a2a2a">1</text>
<text x="227.1" y="395.6" font-size="9.2" text-anchor="middle" fill="#2a2a2a">2</text>
<text x="243.9" y="395.6" font-size="9.2" text-anchor="middle" fill="#2a2a2a">3</text>
<text x="260.7" y="395.6" font-size="9.2" text-anchor="middle" fill="#2a2a2a">4</text>
<text x="277.5" y="395.6" font-size="9.2" text-anchor="middle" fill="#2a2a2a">5</text>
<text x="235.4" y="408.6" font-size="10.2" text-anchor="middle" fill="#262626" textLength="37.6" lengthAdjust="spacingAndGlyphs">Time (s)</text>
<text x="303.5" y="395.6" font-size="9.2" text-anchor="middle" fill="#2a2a2a">0</text>
<text x="320.3" y="395.6" font-size="9.2" text-anchor="middle" fill="#2a2a2a">1</text>
<text x="337.1" y="395.6" font-size="9.2" text-anchor="middle" fill="#2a2a2a">2</text>
<text x="353.9" y="395.6" font-size="9.2" text-anchor="middle" fill="#2a2a2a">3</text>
<text x="370.7" y="395.6" font-size="9.2" text-anchor="middle" fill="#2a2a2a">4</text>
<text x="387.5" y="395.6" font-size="9.2" text-anchor="middle" fill="#2a2a2a">5</text>
<text x="345.4" y="408.6" font-size="10.2" text-anchor="middle" fill="#262626" textLength="37.6" lengthAdjust="spacingAndGlyphs">Time (s)</text>
<text x="413.5" y="395.6" font-size="9.2" text-anchor="middle" fill="#2a2a2a">0</text>
<text x="430.3" y="395.6" font-size="9.2" text-anchor="middle" fill="#2a2a2a">1</text>
<text x="447.1" y="395.6" font-size="9.2" text-anchor="middle" fill="#2a2a2a">2</text>
<text x="463.9" y="395.6" font-size="9.2" text-anchor="middle" fill="#2a2a2a">3</text>
<text x="480.7" y="395.6" font-size="9.2" text-anchor="middle" fill="#2a2a2a">4</text>
<text x="497.5" y="395.6" font-size="9.2" text-anchor="middle" fill="#2a2a2a">5</text>
<text x="455.4" y="408.6" font-size="10.2" text-anchor="middle" fill="#262626" textLength="37.6" lengthAdjust="spacingAndGlyphs">Time (s)</text>
<path d="M83.5 423.0V510.0H167.2" fill="none" stroke="#8a8a8a" stroke-width="1"/>
<text x="80.8" y="426.2" font-size="8.8" text-anchor="end" fill="#2a2a2a">20</text>
<text x="80.8" y="447.9" font-size="8.8" text-anchor="end" fill="#2a2a2a">10</text>
<text x="80.8" y="469.6" font-size="8.8" text-anchor="end" fill="#2a2a2a">0</text>
<text x="80.8" y="491.3" font-size="8.8" text-anchor="end" fill="#2a2a2a">-10</text>
<text x="80.8" y="513.0" font-size="8.8" text-anchor="end" fill="#2a2a2a">-20</text>
<text x="95.1" y="520.9" font-size="8.6" text-anchor="middle" fill="#2a2a2a">10</text>
<text x="107.0" y="520.9" font-size="8.6" text-anchor="middle" fill="#2a2a2a">20</text>
<text x="118.8" y="520.9" font-size="8.6" text-anchor="middle" fill="#2a2a2a">30</text>
<text x="130.7" y="520.9" font-size="8.6" text-anchor="middle" fill="#2a2a2a">40</text>
<text x="142.6" y="520.9" font-size="8.6" text-anchor="middle" fill="#2a2a2a">50</text>
<text x="154.5" y="520.9" font-size="8.6" text-anchor="middle" fill="#2a2a2a">60</text>
<text x="125.8" y="533.5" font-size="10" text-anchor="middle" fill="#262626" textLength="70.6" lengthAdjust="spacingAndGlyphs">Frequency (Hz)</text>
<path d="M193.6 423.0V510.0H277.3" fill="none" stroke="#8a8a8a" stroke-width="1"/>
<text x="190.9" y="426.2" font-size="8.8" text-anchor="end" fill="#2a2a2a">20</text>
<text x="190.9" y="455.1" font-size="8.8" text-anchor="end" fill="#2a2a2a">0</text>
<text x="190.9" y="484.1" font-size="8.8" text-anchor="end" fill="#2a2a2a">-20</text>
<text x="190.9" y="513.0" font-size="8.8" text-anchor="end" fill="#2a2a2a">-40</text>
<text x="205.2" y="520.9" font-size="8.6" text-anchor="middle" fill="#2a2a2a">10</text>
<text x="217.1" y="520.9" font-size="8.6" text-anchor="middle" fill="#2a2a2a">20</text>
<text x="228.9" y="520.9" font-size="8.6" text-anchor="middle" fill="#2a2a2a">30</text>
<text x="240.8" y="520.9" font-size="8.6" text-anchor="middle" fill="#2a2a2a">40</text>
<text x="252.7" y="520.9" font-size="8.6" text-anchor="middle" fill="#2a2a2a">50</text>
<text x="264.6" y="520.9" font-size="8.6" text-anchor="middle" fill="#2a2a2a">60</text>
<text x="235.9" y="533.5" font-size="10" text-anchor="middle" fill="#262626" textLength="70.6" lengthAdjust="spacingAndGlyphs">Frequency (Hz)</text>
<path d="M303.6 423.0V510.0H387.3" fill="none" stroke="#8a8a8a" stroke-width="1"/>
<text x="300.9" y="426.2" font-size="8.8" text-anchor="end" fill="#2a2a2a">20</text>
<text x="300.9" y="447.9" font-size="8.8" text-anchor="end" fill="#2a2a2a">10</text>
<text x="300.9" y="469.6" font-size="8.8" text-anchor="end" fill="#2a2a2a">0</text>
<text x="300.9" y="491.3" font-size="8.8" text-anchor="end" fill="#2a2a2a">-10</text>
<text x="300.9" y="513.0" font-size="8.8" text-anchor="end" fill="#2a2a2a">-20</text>
<text x="315.2" y="520.9" font-size="8.6" text-anchor="middle" fill="#2a2a2a">10</text>
<text x="327.1" y="520.9" font-size="8.6" text-anchor="middle" fill="#2a2a2a">20</text>
<text x="338.9" y="520.9" font-size="8.6" text-anchor="middle" fill="#2a2a2a">30</text>
<text x="350.8" y="520.9" font-size="8.6" text-anchor="middle" fill="#2a2a2a">40</text>
<text x="362.7" y="520.9" font-size="8.6" text-anchor="middle" fill="#2a2a2a">50</text>
<text x="374.6" y="520.9" font-size="8.6" text-anchor="middle" fill="#2a2a2a">60</text>
<text x="345.9" y="533.5" font-size="10" text-anchor="middle" fill="#262626" textLength="70.6" lengthAdjust="spacingAndGlyphs">Frequency (Hz)</text>
<path d="M413.6 423.0V510.0H497.3" fill="none" stroke="#8a8a8a" stroke-width="1"/>
<text x="410.9" y="426.2" font-size="8.8" text-anchor="end" fill="#2a2a2a">20</text>
<text x="410.9" y="455.1" font-size="8.8" text-anchor="end" fill="#2a2a2a">10</text>
<text x="410.9" y="484.1" font-size="8.8" text-anchor="end" fill="#2a2a2a">0</text>
<text x="410.9" y="513.0" font-size="8.8" text-anchor="end" fill="#2a2a2a">-10</text>
<text x="425.2" y="520.9" font-size="8.6" text-anchor="middle" fill="#2a2a2a">10</text>
<text x="437.1" y="520.9" font-size="8.6" text-anchor="middle" fill="#2a2a2a">20</text>
<text x="448.9" y="520.9" font-size="8.6" text-anchor="middle" fill="#2a2a2a">30</text>
<text x="460.8" y="520.9" font-size="8.6" text-anchor="middle" fill="#2a2a2a">40</text>
<text x="472.7" y="520.9" font-size="8.6" text-anchor="middle" fill="#2a2a2a">50</text>
<text x="484.6" y="520.9" font-size="8.6" text-anchor="middle" fill="#2a2a2a">60</text>
<text x="455.9" y="533.5" font-size="10" text-anchor="middle" fill="#262626" textLength="70.6" lengthAdjust="spacingAndGlyphs">Frequency (Hz)</text>
<path d="M84 446.4l.8-1.9.8-1.7.7-6.3.8-6.2.7 2 .8 6.1.8 4.6.7 1.8.8-.6.7-.1.8-.5.8-.3.7-.2.8-.4.7-.2.8-.5.8-.5.7 .2.8 .2.7 .2.8 .8.8-.2.7 .5.8 .4.8 .5.7 0 .8 .1.7 .6.8 .4.8 .2.7 .2.8 .7.7 .4.8 .7.8 .3.7 .1.8 .9.7 .1.8 1.3.8 .7.7 .3.8 .4.7 .4.8 .3.8 .6.7 0 .8 .6.8 .1.7 .4.8 .4.7 .3.8 .6.8 0 .7 .3.8 .5.7-.6.8 .9.8 .6.7 .3.8 0 .7 .6.8-.4.8 .6.7-.1.8 .7.7-.2.8 0 .8 .3.7 .9.8-.3.8 .4.7-.1.8 .4.7-.1.8 .7.8 .5.7 .2.8-.3.7 .9.8-.1.8-.2.7 .8.8 .4.7-.2.8 .4.8 .7.7-.4.8 .2.7-.1.8 .1.8-1.5.7-.6.8 .4.7 2.4.8 1.2.8 .2.7 .6.8 .4.8-.2.7 .2.8 .1.7 .1.8-.5.8 .7.7-.2.8 .5.7 0 .8 .3.8 .3" fill="none" stroke="#ff1010" stroke-width="1.4" stroke-linejoin="round" stroke-dasharray="4.5 1.5"/>
<path d="M84 451.5l.8-2.1.8-2.2.7-6.6.8-5.7.7 2.7.8 5 .8 4.8.7 2.1.8-.4.7-.6.8-.4.8-.4.7 0 .8-.2.7-.2.8-.7.8-.2.7-.4.8 .2.7 0 .8 .5.8 .4.7 .4.8 .4.8 .3.7 .3.8-.2.7 .8.8 .4.8 .1.7 .2.8 .9.7 .9.8 0 .8 .2.7 1 .8 .2.7 .7.8 .4.8 .9.7 .5.8 0 .7 .7.8 1.2.8-.7.7 .2.8 .9.8 .1.7 .7.8 .1.7 .3.8 .6.8-.1.7 .4.8 .2.7 .2.8 1 .8-.4.7 .7.8-.1.7 .2.8 .5.8-.1.7 .6.8 0 .7-.1.8 .7.8 0 .7 .6.8-.2.8 .8.7 0 .8 .5.7-.3.8 .6.8 .1.7 .1.8 0 .7 .4.8 .4.8-.2.7 .5.8 .5.7-.3.8 1 .8 0 .7-.2.8 .2.7 0 .8 0 .8-.9.7-1.2.8 .7.7 2 .8 1.9.8-.1.7-.5.8 .5.8-.1.7 .7.8 .2.7 .2.8-.4.8 .8.7 0 .8 0 .7 .7.8-.1.8 .3" fill="none" stroke="#ff1010" stroke-width="1.4" stroke-linejoin="round" stroke-dasharray="4.5 1.5"/>
<path d="M84 449.3l.8-2.3.8-2.4.7-5.7.8-6.2.7 2.2.8 5.2.8 5.1.7 1.9.8-.6.7-.3.8-.3.8-.5.7-.1.8-.6.7-.1.8 0 .8-.6.7-.3.8 .8.7-.2.8 .4.8 .3.7 .5.8 .4.8-.3.7 .3.8 .3.7 .8.8 .4.8 .1.7 .2.8 .3.7 .6.8 .6.8 .7.7 .6.8 .3.7 1 .8-.1.8 1.1.7 .8.8 .1.7 .4.8 .2.8 .4.7 .6.8 0 .8 .7.7 .1.8 .7.7 .2.8 .2.8 .6.7-.2.8-.1.7 .9.8 .2.8 .5.7-.1.8 .3.7 .2.8 .5.8 0 .7 .2.8-.1.7 .8.8-.1.8 .2.7 .4.8 .4.8-.1.7 .4.8-.1.7 .2.8 .9.8-.1.7 .4.8 .5.7 .2.8-.2.8 .1.7 .5.8 .1.7 .4.8 .1.8 .7.7 .2.8-.4.7 .5.8-.2.8-1.3.7-1.3.8 1.2.7 1.5.8 1.9.8-.4.7 .7.8 .1.8 .2.7-.3.8 .3.7 .3.8 .4.8-.1.7-.1.8 .5.7 .6.8-.3.8 .3" fill="none" stroke="#ff1010" stroke-width="2.0" stroke-linejoin="round"/>
<path d="M84 499.2l.8-16 .8-12.7.7-4.7.8-4 .7-3.1.8-3.1.8-3 .7-2.1.8-1.6.7-1.8.8-1.3.8-.6.7-.5.8-.2.7-.2.8-.6.8 .4.7-.6.8 0 .7 .7.8 .3.8 .2.7 0 .8 .5.8 .8.7-.1.8 0 .7 .4.8 .5.8 .6.7 .9.8-.2.7 .5.8 .3.8 .1.7 .7.8 .4.7 .5.8 .8.8 .6.7 .6.8 .2.7 .6.8 .8.8 .1.7 .9.8 .9.8 .1.7 .7.8 .9.7 .1.8 .7.8 .6.7 .3.8 1.2.7 .2.8 .2.8 .3.7 .7.8 .5.7 .5.8 .2.8 .2.7 1 .8 .7.7 0 .8 .4.8 .6.7 .1.8 .4.8 .7.7 .3.8 .2.7 .6.8 .6.8 0 .7 .6.8 .1.7 .5.8 .3.8 .2.7 .5.8 .5.7 .5.8-.4.8 .6.7 .9.8 .1.7-.2.8 .5.8 .1.7 0 .8 .4.7 .3.8 .3.8 .1.7 .1.8-.1.8 .4.7 .5.8 0 .7 .4.8 .6.8-.1.7-.1.8 .7.7-.2.8 .5.8 .2" fill="none" stroke="#1010ff" stroke-width="1.4" stroke-linejoin="round" stroke-dasharray="4.5 1.5"/>
<path d="M84 503.4l.8-16.3.8-12.8.7-4.2.8-4.1.7-2.7.8-2.9.8-2.9.7-2.2.8-2.4.7-1.6.8-1.4.8-.2.7-.4.8-.4.7-.3.8-.5.8-.1.7-.1.8 .2.7 .6.8-.4.8 .9.7 0 .8-.2.8 1.5.7 .1.8 .2.7 .1.8 .9.8 0 .7 .4.8 .3.7 1.1.8-.4.8 .1.7 .7.8 .8.7 .5.8 1.1.8-.3.7 .3.8 .8.7 1.5.8-.1.8 .5.7 .6.8 .2.8 1.3.7 .3.8 .2.7 .4.8 .8.8 .3.7 .7.8 .9.7-.2.8 .9.8 .8.7-.1.8 .1.7 .7.8 .4.8 .7.7 1.1.8-.4.7 .6.8 1.2.8 0 .7 .5.8-.1.8 .7.7 .3.8 .4.7 .7.8 .6.8-.2.7 .4.8 .3.7 .4.8 .5.8 .1.7 .4.8 .6.7 .7.8 .6.8 0 .7 0 .8-.1.7 .6.8-.1.8 .1.7-.1.8 .8.7-.1.8 .5.8 .6.7 .5.8-.4.8 0 .7-.2.8 1.1.7-.1.8 .4.8 .8.7-.5.8 .4.7 .5.8-.6.8 .8" fill="none" stroke="#1010ff" stroke-width="1.4" stroke-linejoin="round" stroke-dasharray="4.5 1.5"/>
<path d="M84 501l.8-15.7.8-12.9.7-4.1.8-4.7.7-2.6.8-3.1.8-3 .7-2.1.8-1.9.7-1.5.8-1.6.8-.4.7-.5.8 .1.7-.4.8-.5.8-.3.7-.1.8 .3.7 .2.8 .3.8 .9.7-.2.8 .3.8 .3.7 .1.8 .7.7 .1.8 .4.8 .4.7 .4.8 .2.7 .2.8 .9.8 .5.7 .2.8 0 .7 1 .8 .6.8 .7.7 .6.8 .6.7-.3.8 1.3.8 .7.7 .4.8 .3.8 1 .7 .4.8 .5.7 .3.8 1 .8 .3.7 .1.8 1.1.7 .5.8 .1.8 .4.7 .7.8 .4.7 .3.8 .4.8 .6.7 .3.8 1 .7 0 .8 .7.8 .1.7 .6.8 .1.8 .7.7 .4.8 .3.7 .3.8 .6.8 .6.7 .3.8 0 .7 .1.8 .9.8 0 .7 .9.8-.1.7 .6.8 .3.8 0 .7 .1.8 .8.7 .4.8 .2.8-.1.7 .3.8 .3.7 .4.8 0 .8 .3.7-.1.8 .5.8-.2.7 .4.8 .2.7 .3.8 .6.8-.2.7 .1.8 .5.7 .5.8 .2.8 .2" fill="none" stroke="#1010ff" stroke-width="2.0" stroke-linejoin="round"/>
<path d="M84 447.3l.8-1.8.8-3.4.7-4.4.8-6.3.7 6.4.8 6.5.8 7.8.7 2.6.8 1.4.7 0 .8-.1.8 2 .7-.1.8-.6.7 1.2.8-.9.8 1.4.7 .2.8-.5.7 .7.8-.2.8 .4.7 1.1.8-1 .8 .6.7 .2.8 .4.7 1.4.8-.3.8-.5.7 1.3.8 .6.7-.6.8 0 .8-.1.7 .6.8 .6.7-.1.8 .5.8 .5.7-.5.8 1.1.7-.1.8 1.2.8-.1.7 0 .8-.2.8 .5.7 .6.8 0 .7 .9.8-1.1.8 1.7.7-.4.8-.3.7 1.4.8-.2.8-.4.7-.9.8 1.8.7-.8.8 1.2.8-1 .7 .8.8 .8.7-.2.8 0 .8 .5.7 .4.8-1.3.8 .9.7 .9.8-.3.7-.7.8 .9.8-.8.7 .3.8 .6.7 .3.8 .2.8-.3.7-.3.8 .8.7-1.4.8 1.1.8-.6.7 .2.8-.7.7 1.7.8-.7.8-3.4.7-3.4.8 .4.7 3.3.8 3.9.8-.5.7 1.1.8-1.2.8 .9.7 0 .8-1.2.7 1.2.8-.4.8-.4.7 .6.8 .1.7 .4.8-.3.8-.5" fill="none" stroke="#111111" stroke-width="1.2" stroke-linejoin="round"/>
<path d="M194.1 436.5l.8-.8.8-.8.7-2.9.8-3.6.7 .8.8 5 .8 3.8.7-.4.8 .2.7-.7.8 0 .8 .1.7-.3.8 0 .7 .3.8-.5.8 .1.7-.2.8 0 .7 .1.8 0 .8 .2.7 .4.8 0 .8 .3.7 .1.8 0 .7 0 .8 .2.8 .3.7 .2.8 .2.7 0 .8 .1.8 .5.7 .2.8 .4.7 .1.8 .9.8 .3.7 0 .8 .2.7 .5.8 .1.8 .6.7 .3.8 .3.8 0 .7 .4.8 .5.7 .2.8 .4.8 .2.7 .5.8 .1.7 .4.8 .1.8 .3.7 .3.8 .1.7 .2.8 .1.8 .2.7 0 .8 .4.7-.1.8 0 .8 .4.7-.2.8 .1.8 .5.7 .4.8 .2.7-.1.8-.2.8 .4.7 .1.8 .3.7 .2.8 0 .8 .4.7 0 .8 0 .7 .2.8 .1.8 .3.7 0 .8 .1.7 .5.8-.3.8-.6.7-.8.8 .1.7 .7.8 .9.8 .5.7 .2.8 .4.8 .4.7-.2.8 .4.7 .1.8 .3.8 .4.7 .2.8-.2.7 .2.8 .2.8 .4" fill="none" stroke="#ff1010" stroke-width="1.3" stroke-linejoin="round" stroke-dasharray="4.5 1.5"/>
<path d="M194.1 438.7l.8-1 .8-.7.7-3.3.8-3 .7 .3.8 5.4.8 3.8.7-.1.8-.2.7-.3.8-.5.8-.1.7 .1.8-.1.7-.5.8 .1.8 .2.7-.2.8 0 .7 0 .8 0 .8 .3.7 .1.8 .1.8 .1.7 .4.8 .1.7-.2.8 .5.8 .1.7 .1.8 .3.7 .2.8-.1.8 .4.7 .7.8 .1.7 .5.8 .4.8 0 .7 .1.8 .6.7 0 .8 .8.8 .1.7 .3.8 .3.8 .2.7 .4.8 .5.7 .4.8 .2.8 .2.7 .4.8 .4.7 .3.8-.2.8 .4.7 .4.8 0 .7 .2.8 .3.8 .1.7-.1.8 .2.7 .1.8 .2.8 .2.7 .3.8 .1.8 .2.7 .1.8 .1.7 0 .8 .1.8 .4.7 0 .8 .5.7 0 .8 .2.8 0 .7 .2.8 .2.7 0 .8 .5.8-.2.7 .1.8 0 .7 .6.8-.4.8-.3.7-1.1.8 .2.7 .8.8 1.1.8 .4.7 .2.8 .3.8 .2.7 .2.8 .2.7 .4.8-.4.8 .5.7 .2.8 .2.7 .2.8 .2.8 .1" fill="none" stroke="#ff1010" stroke-width="1.3" stroke-linejoin="round" stroke-dasharray="4.5 1.5"/>
<path d="M194.1 437.5l.8-.6.8-1 .7-2.9.8-3.2.7 .3.8 5.1.8 3.9.7-.2.8-.7.7 .4.8-.3.8-.3.7-.1.8-.2.7 0 .8 .1.8-.1.7 0 .8-.3.7 .1.8 .4.8-.1.7 .4.8 0 .8 .2.7 .1.8 .5.7-.2.8 .4.8-.2.7 .5.8 0 .7 .2.8 .1.8 .2.7 .5.8 .3.7 .3.8 .4.8 .2.7 .5.8 .2.7 .1.8 .3.8 .8.7 .1.8 .2.8 .4.7 .4.8 .2.7 .2.8 .3.8 .4.7 .2.8 .4.7 .2.8 .3.8 .5.7 .1.8 .1.7 0 .8 .3.8-.1.7 .3.8 .2.7 .3.8-.3.8 .5.7 .3.8-.1.8 .3.7 0 .8 .4.7-.2.8 .2.8 .3.7 .2.8 0 .7 0 .8 .4.8 .1.7 0 .8 .2.7 .2.8 .1.8 .2.7 .2.8 .1.7 .5.8-.6.8-.6.7-.6.8 .2.7 .5.8 .8.8 .9.7 .1.8 .3.8 .3.7-.1.8 .2.7 .5.8 .1.8 .1.7 .3.8 0 .7 .3.8 .2.8 .5" fill="none" stroke="#ff1010" stroke-width="2.0" stroke-linejoin="round"/>
<path d="M194.1 467.6l.8-5.8.8-5.4.7-5 .8-5.4.7-5.3.8-4.4.8-.1.7-.4.8 .2.7-.8.8 0 .8-.3.7-.1.8-.1.7-.3.8-.2.8 0 .7-.1.8-.3.7 .4.8 .3.8-.1.7 .4.8 .4.8 .1.7 .1.8 .4.7 .3.8-.1.8 .1.7 .4.8 .3.7 0 .8 .3.8 .5.7 .2.8 .2.7 .5.8 .4.8 .2.7 .3.8 .2.7 .7.8 .2.8 .3.7 .5.8 0 .8 .3.7 .5.8-.1.7 .4.8 .4.8 .4.7 .6.8 1.6.7 .9.8 3.3.8 8.2.7 7.3.8 7.8.7 3.3.8 .5.8 .2.7 .2.8 .4.7 0 .8 .4.8 .1.7 .3.8-.1.8 .2.7 .3.8 0 .7 .1.8 0 .8 .8.7-.3.8 .2.7 .2.8 .4.8-.3.7 .6.8-.2.7 .1.8 .6.8-.1.7 .4.8-.2.7 0 .8 0 .8 .9.7 0 .8-.1.7 0 .8 .4.8 .4.7 0 .8 .2.8 .2.7 .3.8 0 .7 .2.8 .2.8 .2.7 .4.8 0 .7-.1.8 .4.8 .4" fill="none" stroke="#1010ff" stroke-width="1.4" stroke-linejoin="round" stroke-dasharray="4.5 1.5"/>
<path d="M194.1 472.7l.8-5.8.8-4.8.7-5.9.8-5 .7-5.3.8-4.2.8-.1.7-.4.8-.5.7-.1.8-.3.8 .2.7-.2.8-.7.7-.1.8-.3.8 0 .7 .2.8-.5.7 .2.8 .3.8 .4.7 .1.8 .2.8 .1.7 .3.8 0 .7 .6.8 0 .8 .3.7 .4.8 .3.7-.2.8 .4.8 .5.7 .2.8 .5.7 .1.8 .5.8 .2.7 .2.8 .5.7 .1.8 .7.8 .1.7 .6.8 0 .8 .3.7 .4.8 .3.7 .1.8 .3.8 .7.7 .3.8 1.8.7 1.1.8 3.2.8 7.6.7 8 .8 7.6.7 3.4.8 .4.8 .2.7 0 .8 .2.7 .5.8 .2.8 .2.7 .2.8 .2.8 .2.7-.1.8 .2.7 .2.8 .1.8 .1.7 0 .8 .4.7 .2.8 0 .8 .4.7-.2.8 .2.7 .2.8 .3.8 0 .7 .1.8 .2.7 .3.8 .4.8-.3.7 .4.8 .3.7-.1.8 .2.8 .5.7 0 .8 .2.8-.1.7 .7.8-.1.7 .2.8-.1.8 .6.7 .5.8-.1.7-.1.8 .1.8 0" fill="none" stroke="#1010ff" stroke-width="1.4" stroke-linejoin="round" stroke-dasharray="4.5 1.5"/>
<path d="M194.1 470.2l.8-5.5.8-5.5.7-5.5.8-5.1.7-5.2.8-4.3.8-.6.7 .1.8-.1.7-.4.8-.3.8-.3.7-.4.8 .2.7 0 .8-.6.8 0 .7-.1.8 0 .7 .2.8-.2.8 .7.7 .1.8 .3.8-.2.7 .4.8 .4.7 0 .8 0 .8 .7.7 .2.8 0 .7 .3.8 .5.8 .2.7 .3.8 .1.7 .7.8 0 .8 .3.7 .1.8 1 .7 0 .8 .3.8 .1.7 .7.8 .2.8 .2.7 .3.8 .3.7 .6.8-.2.8 .7.7 .6.8 1.2.7 1.4.8 3.1.8 8.1.7 7.5.8 7.8.7 3.6.8 .1.8 .3.7 0 .8 .5.7 .4.8 0 .8 .2.7-.3.8 .3.8 .4.7 .3.8-.3.7 .4.8 .5.8-.2.7 .5.8-.3.7 .3.8 .4.8 0 .7 .4.8-.4.7 .4.8 0 .8 .1.7 .4.8 .2.7 .1.8 .1.8 .3.7 .1.8 .1.7 .2.8 .3.8 .2.7 .1.8 0 .8 .1.7 .2.8 .4.7 0 .8 .3.8 0 .7 .5.8-.1.7 .3.8 .2.8-.2" fill="none" stroke="#1010ff" stroke-width="2.0" stroke-linejoin="round"/>
<path d="M194.1 437.4l.8-.8.8-.5.7-3.2.8-3.6.7 1.1.8 6 .8 10.4.7 18.8.8 19.1.7 5 .8 1.8.8 1.1.7 .2.8 .5.7 1.1.8-.1.8 .8.7 .3.8 .4.7 1 .8-.2.8 1.2.7-.3.8 .4.8 .6.7-.2.8 1 .7 .6.8-.1.8 .7.7 0 .8 .2.7-.1.8 .9.8 .3.7 .1.8 .3.7 .6.8 0 .8 .8.7-.4.8 0 .7-.3.8-.5.8 0 .7-.5.8 .7.8-.4.7-.7.8-.5.7-.7.8-.3.8-5.5.7-7.5.8-8.5.7-7.8.8-10.3.8-10.8.7-1.8.8-.1.7-.2.8 .8.8-.5.7 .1.8 .2.7 .4.8-.2.8 .4.7 0 .8 .3.8-.3.7 .4.8-.3.7 .8.8-.1.8 .3.7-.3.8-.1.7 .3.8-.2.8 .6.7 .8.8-.4.7-.2.8 .3.8 .4.7 .3.8 .2.7 1 .8-.7.8-1.2.7-.9.8 .6.7 .9.8 .6.8 .8.7 .3.8 .3.8-.4.7 .1.8 .9.7 .1.8-.6.8 .3.7 .5.8-.1.7 0 .8-.2.8 .3" fill="none" stroke="#111111" stroke-width="1.2" stroke-linejoin="round"/>
<path d="M304.1 446.6l.8-1.9.8-1.7.7-6.7.8-6.3.7 5.1.8 4.7.8 4.3.7 .9.8-.1.7 .1.8-.1.8-.3.7-.1.8 0 .7-.6.8-.1.8-.3.7-.1.8-.1.7-.5.8 .8.8 .3.7 .5.8 .3.8 .4.7 0 .8 .3.7 .5.8 .6.8-.5.7 .9.8 .3.7 .8.8 .2.8 .2.7 .9.8 .1.7 .1.8-.2.8 .9.7 .7.8 .4.7-.2.8 .8.8 .3.7-.3.8 .9.8 .5.7 .5.8-.2.7 .3.8 .9.8 .6.7 0 .8 0 .7 .6.8 .8.8 0 .7 .2.8 .6.7 .3.8 .4.8 .5.7 .4.8 .6.7 .3.8 .5.8-.3.7 .3.8 .3.8 .2.7 .3.8 .5.7 0 .8 .3.8 .2.7 .8.8-.2.7 0 .8 .5.8 .3.7 .5.8 0 .7-.3.8 .8.8-.2.7 .6.8-.1.7 .6.8-.7.8-1.3.7-1.1.8 .2.7 1.2.8 1.6.8 .9.7 .3.8 .2.8 .1.7 .7.8 .2.7 .2.8 .2.8 .4.7 0 .8 .7.7-.5.8 .7.8 0" fill="none" stroke="#ff1010" stroke-width="1.3" stroke-linejoin="round" stroke-dasharray="4.5 1.5"/>
<path d="M304.1 450.3l.8-1.5.8-2.4.7-6.6.8-5.8.7 4.6.8 5.2.8 4.1.7 .1.8 .4.7-.2.8 .2.8 .1.7-.6.8-.1.7 .1.8-.6.8 .1.7-.8.8 0 .7 .2.8 .5.8-.1.7 .7.8 .4.8 .4.7 .1.8 .4.7 .3.8 .4.8-.1.7 1 .8 .4.7 .4.8 0 .8 .2.7 .7.8 .6.7 .3.8 0 .8 .3.7 .4.8 .7.7 .1.8 .4.8 .3.7 .2.8 .6.8 .2.7 .5.8 .3.7 .3.8 .9.8 .1.7 .4.8 .4.7 .3.8-.1.8 1 .7-.1.8 1 .7 0 .8 .3.8 .2.7 .4.8 .3.7 .7.8 .4.8-.1.7 .5.8 .6.8 .2.7 .1.8-.1.7 .4.8 .1.8 .5.7 .1.8 .1.7 .5.8 0 .8 .6.7 .1.8 .3.7 .5.8-.2.8 .5.7 .1.8 .1.7 .3.8-.6.8-1 .7-1.1.8-.2.7 1.8.8 1.3.8 1.1.7 .1.8 0 .8 .6.7 .1.8-.1.7 .7.8 0 .8 .7.7 .1.8 .4.7 .2.8-.1.8 1" fill="none" stroke="#ff1010" stroke-width="1.3" stroke-linejoin="round" stroke-dasharray="4.5 1.5"/>
<path d="M304.1 448.8l.8-1.8.8-2.1.7-6.5.8-6.6.7 4.7.8 5.6.8 4.4.7 0 .8 0 .7 .3.8 .1.8-.5.7 .3.8-.5.7-.4.8-.1.8-.4.7-.4.8 0 .7-.6.8 1 .8 .2.7 .5.8 .7.8-.1.7 .6.8 .1.7 .4.8 .4.8 .6.7 .3.8 .3.7 .3.8 .3.8 .1.7 .7.8 .3.7 .1.8 .7.8-.2.7 .9.8 .2.7 .6.8 .1.8 .3.7 .5.8 .8.8 0 .7 .5.8 .3.7 .7.8 .1.8 .1.7 .5.8 .3.7 .1.8 .4.8 .5.7 .3.8 .3.7 .9.8 .6.8 .1.7 0 .8 .3.7 .9.8-.2.8 .2.7 .8.8 .1.8 .2.7 .1.8 .4.7 .3.8 .3.8 .5.7-.3.8 .5.7 .3.8 .2.8 .3.7 0 .8 .4.7 .4.8-.2.8 .2.7 .3.8 .6.7 0 .8-.8.8-.8.7-1.3.8-.2.7 1.3.8 1.8.8 .8.7 .5.8 0 .8 .4.7 .3.8 .3.7 .3.8 .2.8 .3.7 .4.8 .1.7 0 .8 .8.8 .1" fill="none" stroke="#ff1010" stroke-width="2.0" stroke-linejoin="round"/>
<path d="M304.1 453.8l.8-4.7.8-4.4.7-5.1.8-5.8.7 5.3.8 5.1.8 3.7.7-1.1.8-1 .7-.5.8-.9.8 .2.7-.9.8-.1.7-1 .8-.1.8-.3.7-.1.8-.5.7 .2.8 .6.8 .4.7 .3.8 .5.8 .4.7 .3.8 .5.7-.1.8 1 .8-.2.7 .7.8 .4.7 .6.8 0 .8 .4.7 .3.8 .5.7 .3.8-.1.8 .7.7 .7.8-.1.7 .7.8 .2.8 .3.7 .7.8 .7.8 0 .7 .1.8 .6.7 .2.8 .2.8 .8.7-.1.8 .2.7 .5.8 .4.8 .4.7 0 .8 .9.7 .5.8 .2.8 .7.7 .6.8 .1.7 .1.8 .3.8 .8.7 .3.8-.2.8 .2.7 .2.8 .1.7 0 .8 .5.8 .1.7 .7.8 .3.7-.2.8 .1.8 .2.7 .3.8 .2.7 .2.8 .9.8-.1.7-.1.8 .2.7 .8.8-.5.8 .7.7 .1.8 .1.7 .2.8 .8.8-.4.7 .5.8 .5.8 .1.7 .7.8-.1.7 0 .8 .5.8 .2.7 .2.8 .2.7 0 .8 .5.8 .3" fill="none" stroke="#1010ff" stroke-width="1.5" stroke-linejoin="round" stroke-dasharray="4.5 1.5"/>
<path d="M304.1 459.4l.8-4.5.8-4.4.7-5.4.8-6.1.7 5.4.8 4.6.8 3.4.7-.3.8-.7.7-1 .8-1 .8-.7.7 0 .8-.5.7 .2.8-.2.8-.1.7-.5.8-.6.7 .1.8 .8.8-.2.7 .6.8 .5.8 .4.7-.3.8 .8.7 .7.8 .4.8-.4.7 1 .8-.1.7 .3.8 1.4.8-.6.7 .8.8 .6.7 .2.8 .1.8 .4.7 .4.8 .7.7-.2.8 .3.8 .3.7 .6.8 .1.8 .3.7 .8.8 .3.7 .4.8 .4.8 .3.7 1 .8 0 .7 .2.8 1 .8 .2.7-.4.8 1.1.7 .2.8 .1.8 .6.7 .5.8 .3.7 .3.8 .4.8 .1.7-.2.8 .6.8-.1.7 .4.8 .2.7 .3.8 .5.8 0 .7 .2.8 .6.7-.2.8 .2.8 .3.7 .5.8 .7.7-.8.8 .6.8 .8.7-.5.8 .6.7-.2.8 .4.8-.1.7 .5.8 .2.7 .3.8 0 .8 .9.7-.4.8 .4.8 .6.7 .1.8 .3.7 .1.8 .1.8 .6.7-.1.8 .2.7 .4.8 0 .8 .6" fill="none" stroke="#1010ff" stroke-width="1.5" stroke-linejoin="round" stroke-dasharray="4.5 1.5"/>
<path d="M304.1 456.6l.8-4.7.8-4.4.7-5.1.8-5.7.7 4.5.8 5.4.8 3.5.7-.5.8-1.1.7-.5.8-1 .8-.6.7 .3.8-1 .7 .1.8-.2.8-.5.7-.5.8-.5.7-.2.8 1.4.8 .1.7 .2.8 .6.8 .6.7 .1.8 .3.7 .3.8 .5.8 0 .7 .6.8 .3.7 .7.8 .7.8-.3.7 .5.8 .3.7 .5.8 .4.8 .4.7 .1.8 .7.7 .3.8 .3.8 .3.7 0 .8 .9.8-.3.7 .9.8 .4.7 .5.8 .1.8 .2.7 .9.8 .2.7 .4.8 .4.8 .5.7 0 .8 .3.7 .5.8 .5.8 .2.7 .2.8 .5.7 .3.8 .6.8 0 .7 .3.8 .5.8 .1.7 .3.8 .1.7 .3.8 .2.8 .2.7 .3.8 0 .7 .6.8 0 .8 .7.7 0 .8-.2.7 .4.8 .1.8 .5.7 .4.8 .1.7 0 .8 .3.8-.2.7 .2.8 .4.7 .6.8 .1.8 .4.7 .2.8 .2.8 .2.7 .3.8 .2.7 .7.8-.1.8 0 .7 .3.8 .7.7-.1.8 .3.8 .5" fill="none" stroke="#1010ff" stroke-width="2.0" stroke-linejoin="round"/>
<path d="M304.1 467.4l.8-13.1.8-9 .7-6.1.8-7.6.7 10.6.8 11 .8 12 .7 5.4.8-2.2.7-1.5.8 2.7.8 3.3.7 3.3.8 3.1.7 3.6.8 1.4.8 2.6.7 1.6.8-.1.7 .4.8 1.1.8 1 .7 .7.8-.3.8 1.3.7-.8.8 .3.7 .7.8-.2.8 1.1.7-.4.8 .5.7 .6.8-.2.8 1 .7 0 .8 .9.7-.6.8-.1.8 .2.7 .4.8 .1.7 .1.8 1.6.8-.5.7 .4.8 0 .8-.2.7-.3.8 1 .7 .3.8 .9.8-1.7.7 1.2.8-.9.7 .6.8 .7.8 .7.7-.4.8-.1.7 .1.8-.3.8 1.2.7-.3.8 .1.7-.6.8 .4.8 .4.7 .2.8 .6.8-.6.7 1.3.8-.4.7-.2.8-.9.8-.7.7-.6.8 .6.7 1.5.8 0 .8 .4.7-.7.8 .9.7-.8.8-1.2.8 .4.7 1.2.8 .3.7-.6.8-8.2.8-8.7.7-10 .8 .3.7 9.4.8 10.2.8 6.4.7 .7.8 .7.8-.8.7 .6.8 .7.7 .1.8 .7.8-.6.7-.1.8 .3.7 .4.8-.3.8 .3" fill="none" stroke="#111111" stroke-width="1.2" stroke-linejoin="round"/>
<path d="M414.1 448.8l.8-1.1.8-1.8.7-6.6.8-6.4.7 .4.8 11 .8 7.2.7-.9.8 0 .7 0 .8-.7.8-.9.7 .5.8-.9.7-.3.8 .2.8-.7.7-.4.8 .1.7 .1.8 0 .8 1 .7 .2.8-.4.8 .7.7 .8.8-.1.7-.4.8 1.5.8-.4.7 .3.8 .7.7 0 .8 .9.8-.3.7 .4.8 1.3.7 .2.8 .4.8 .7.7 .1.8 .9.7-.1.8 .8.8 .3.7 .3.8 .3.8 1.1.7-.2.8 .5.7 .8.8-.2.8 1.3.7 .4.8 .1.7 .8.8-.3.8 .9.7-.1.8 1.4.7 .5.8-.4.8 1.3.7-.3.8 1.1.7 .1.8 .1.8 .9.7 .7.8 .2.8-.2.7 .7.8 .2.7 .7.8 .3.8 .5.7 .7.8-.1.7 .5.8 1.1.8-.3.7 .1.8 0 .7 1.6.8-.2.8 .3.7 .3.8 .9.7 0 .8-.1.8-1.2.7-1 .8-.2.7 2 .8 1.5.8 1.5.7-.1.8 .1.8 .9.7 .5.8 .2.7 .4.8 .7.8-.3.7 .5.8-.2.7 .7.8-.1.8 .3" fill="none" stroke="#ff1010" stroke-width="1.2" stroke-linejoin="round" stroke-dasharray="6 1.2"/>
<path d="M414.1 454.8l.8-1.5.8-1 .7-6.7.8-6.6.7 .3.8 11 .8 7.3.7-.1.8-1.2.7-.4.8-.1.8-.3.7-.3.8-.2.7-.6.8 0 .8-.8.7 .1.8-.3.7-.5.8 1.1.8 .7.7-.4.8 1.2.8-.5.7 .1.8 .6.7 .4.8 1 .8-.5.7 .3.8 .9.7-.7.8 1.5.8 .6.7 .5.8-.2.7 .3.8 .5.8 .7.7 .6.8-.1.7 1 .8 .6.8-.5.7 .9.8 .4.8 .3.7 .9.8 .5.7 0 .8 .9.8 .1.7 .6.8 .8.7-.3.8 1.3.8-.1.7 .5.8 0 .7 1.3.8 .3.8 .3.7 .3.8 .2.7 .7.8 .5.8 .1.7 0 .8 1.6.8-.1.7 .1.8 .7.7-.1.8 1 .8 .6.7-.2.8 1.6.7-.4.8-.6.8 1.2.7 .3.8 .8.7 .1.8 .4.8-.3.7 1.4.8 1 .7-.7.8-.8.8-.3.7-.7.8-.3.7 1.3.8 2.1.8 1.1.7 1.2.8-.4.8-.1.7 .7.8 .5.7-.4.8 .3.8 .9.7 .4.8-.4.7 .9.8 .2.8-.4" fill="none" stroke="#ff1010" stroke-width="1.2" stroke-linejoin="round" stroke-dasharray="6 1.2"/>
<path d="M414.1 451.7l.8-1.9.8-.2.7-7.3.8-7.3.7 1.4.8 10.5.8 7.7.7-.8.8-.8.7-.1.8-.6.8 .2.7 .1.8-.8.7-.3.8-.7.8 .2.7-.5.8-.3.7-.2.8 .7.8 .5.7 .2.8 .3.8 .1.7 .8.8-.3.7 .5.8 .4.8 .3.7 .6.8 .7.7 .1.8 .4.8 0 .7 1 .8 .1.7 .4.8 1.1.8 .1.7 .3.8 .1.7 1 .8 .1.8 .5.7 .8.8 0 .8 .5.7 .8.8 .1.7 .5.8 .7.8 .7.7 0 .8 .4.7 .4.8 .3.8 .3.7 .7.8 .6.7 .6.8-.1.8 1.1.7 .4.8 .1.7 .9.8-.6.8 .9.7 .8.8 .5.8 .4.7 .2.8 .7.7-.2.8 .3.8 1.2.7 0 .8 .1.7 1.1.8-.3.8 .7.7 1.2.8-.4.7 .7.8-.2.8 .6.7 .7.8 .2.7-.2.8 .2.8-1.2.7-1.6.8 .2.7 2 .8 1.8.8 1.4.7 .5.8-.4.8 .5.7 .9.8 .1.7 .6.8 .2.8-.6.7 .7.8 .1.7 1.1.8-.1.8 1" fill="none" stroke="#ff1010" stroke-width="1.5" stroke-linejoin="round"/>
<path d="M414.1 466.2l.8-5.7.8-8.8.7-7 .8-7.7.7 .9.8 8.9.8 7 .7-.8.8-1.5.7-1 .8-.7.8-1.1.7-.9.8 .1.7 .5.8 0 .8 .6.7-1.1.8 .7.7-.5.8 .4.8-.5.7 .2.8 .5.8-.3.7 1.2.8-.2.7 1.5.8-.1.8 .3.7 .9.8 .7.7 .7.8 .4.8 .1.7 .6.8 1 .7 .9.8-.1.8 1.3.7 .2.8 .7.7 0 .8 .7.8 .5.7 .6.8 .9.8 .2.7 .2.8 1.1.7 .3.8 .8.8 .2.7 .7.8 .5.7 .7.8 .1.8 1.3.7 .5.8 .7.7 .1.8 1 .8 .6.7 .1.8 .4.7 .7.8 1.7.8-.1.7 .5.8 .4.8 .2.7-.3.8 1.1.7 .6.8-.1.8 .7.7 .4.8 .7.7 .2.8 .3.8 1.2.7 .4.8-.5.7 .5.8 .9.8 .6.7 .1.8 .8.7 .1.8-.8.8-.3.7-1.1.8 .6.7 1.1.8 .9.8 2 .7 0 .8 .2.8 .2.7-.2.8 .6.7 1.1.8-.1.8 .5.7 .3.8-.7.7 1.4.8-.2.8 .7" fill="none" stroke="#1010ff" stroke-width="1.2" stroke-linejoin="round" stroke-dasharray="6 1.2"/>
<path d="M414.1 472.7l.8-7.3.8-7.3.7-6.5.8-8.3.7 1.5.8 8.3.8 6.5.7-1.1.8-1 .7-.9.8-.8.8-1.1.7-1.1.8 .8.7-.1.8 .3.8-.1.7 0 .8-.1.7 .3.8 .1.8 .1.7-.2.8 .6.8-.4.7-.1.8 1.3.7 .3.8-.5.8 1.9.7 .8.8 .1.7-.2.8 .5.8 1.7.7-.1.8 .8.7 .8.8 1 .8-.5.7 1.2.8 .2.7 .6.8 0 .8 .8.7 1.3.8 .3.8 .1.7 1.4.8 .2.7 .4.8 1.2.8 .4.7 .7.8-.1.7 .8.8 .1.8 .8.7 .4.8 .8.7 .3.8 .8.8 .9.7-.2.8 .6.7 .2.8 1.3.8 .7.7 .7.8 1.3.8-.5.7-.2.8 .9.7 1.1.8-.7.8 .8.7 .4.8 .4.7 .4.8 .2.8 1.2.7-.1.8 .5.7-.1.8 1.1.8-.4.7 .7.8 .1.7 1.3.8-.7.8-.6.7-.1.8-.4.7 1.4.8 1.4.8 1 .7 .5.8 0 .8 0 .7 .7.8 .6.7-.6.8 .8.8 .2.7 .4.8 .4.7-.1.8 .7.8 .1" fill="none" stroke="#1010ff" stroke-width="1.2" stroke-linejoin="round" stroke-dasharray="6 1.2"/>
<path d="M414.1 469.8l.8-7.1.8-7.9.7-6.8.8-7.2.7 .1.8 9.1.8 6.5.7-1.1.8-.8.7-.8.8-1.3.8-1.1.7-.3.8 .3.7-.1.8-.1.8 .5.7-.2.8 .4.7-.8.8 .3.8 .3.7-.2.8 .3.8 .3.7 .1.8 .6.7-.5.8 1.9.8 1.1.7-.5.8 1.2.7 .6.8-.3.8 1.2.7 .7.8 .2.7 .9.8 0 .8 1 .7 .3.8 .2.7 .4.8 1.8.8 0 .7 .6.8 .2.8 .9.7 .7.8-.2.7 .7.8 .9.8 1.2.7 0 .8 .9.7-.5.8 1.1.8 .5.7 .5.8 .6.7 1.1.8 0 .8 .7.7 1.4.8-.6.7 .8.8 .7.8 .3.7 .8.8-.1.8 .9.7 .7.8-.6.7 .8.8 .7.8 .3.7 .4.8 .1.7 .7.8 .2.8 1.1.7 .4.8 .2.7 .3.8 .6.8 .7.7 .2.8 .1.7 .5.8 .4.8-1.4.7-.6.8 .1.7 1.1.8 1.5.8 .6.7 1 .8 .4.8 0 .7 .2.8 .8.7-.2.8 .4.8 .7.7 .1.8-.1.7 .3.8 .9.8-.2" fill="none" stroke="#1010ff" stroke-width="1.6" stroke-linejoin="round"/>
<path d="M414.1 455.6l.8-2 .8 .1.7-1.8.8-1.3.7 3.5.8 3.6.8 6.4.7 5.5.8 .2.7 2.6.8 .7.8 .1.7-1 .8 1 .7 1.4.8-.8.8 2.5.7 1.4.8-1.1.7 1 .8 .5.8 1.6.7-.8.8 .5.8 1.5.7-1 .8 .6.7-.5.8 1.7.8-.2.7-.1.8 1.9.7-.2.8 .7.8 .1.7-1.1.8 .8.7 .6.8 .4.8 .2.7-.3.8 .9.7-.2.8 1.2.8 .4.7 0 .8 .7.8-.3.7 2.5.8-1.3.7 .4.8 .5.8-.9.7 0 .8 .1.7 1.7.8-.7.8 1.8.7-.6.8 .1.7 .2.8 .3.8-.6.7 2.2.8-1.2.7 .9.8-.1.8-.8.7 .5.8 1.2.8-1.2.7 2 .8 .2.7-.1.8 1.5.8 .3.7-.5.8 2.1.7-.9.8 .2.8-3.8.7 1.2.8-1.6.7 1.3.8-2.3.8 2.6.7-.6.8-1.8.7 1.3.8 .1.8-2.6.7-.5.8-.1.7 2.4.8 2.1.8 1.3.7-.1.8-.1.8-.6.7 .1.8 .1.7-.1.8 .4.8-.5.7 .5.8-.7.7 1.6.8-1.7.8 1.6" fill="none" stroke="#111111" stroke-width="1.2" stroke-linejoin="round"/>
<rect x="67" y="45" width="108" height="500.7" fill="none" stroke="#66bd58" stroke-width="2"/>
</svg>
</body></html>
